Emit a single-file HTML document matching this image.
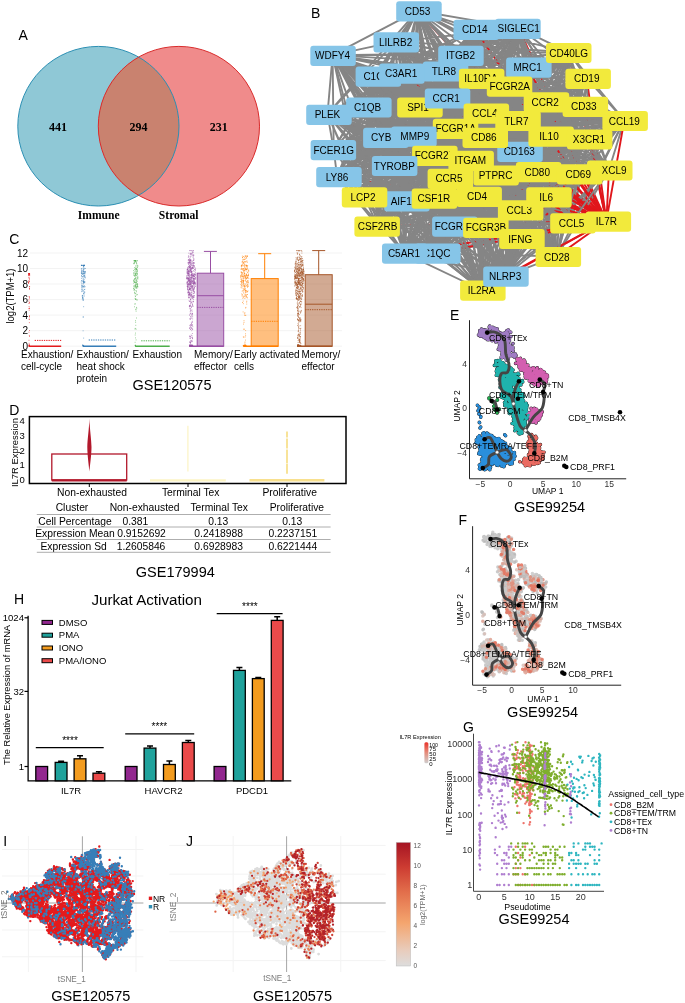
<!DOCTYPE html>
<html><head><meta charset="utf-8"><title>Figure</title>
<style>html,body{margin:0;padding:0;background:#fff}svg{display:block}text{font-family:'Liberation Sans',sans-serif}</style>
</head><body>
<svg width="685" height="1003" viewBox="0 0 685 1003">
<rect width="685" height="1003" fill="#fff"/>
<g id="A">
<text x="18.5" y="40.3" font-size="14">A</text>
<ellipse cx="98.4" cy="126.2" rx="80.6" ry="79.8" fill="#8fc8d6"/>
<ellipse cx="178.9" cy="126.2" rx="80.6" ry="79.8" fill="#f08b8b"/>
<clipPath id="cl"><ellipse cx="98.4" cy="126.2" rx="80.6" ry="79.8"/></clipPath>
<ellipse cx="178.9" cy="126.2" rx="80.6" ry="79.8" fill="#c9826f" clip-path="url(#cl)"/>
<ellipse cx="98.4" cy="126.2" rx="80.6" ry="79.8" fill="none" stroke="#2b8fb3" stroke-width="1"/>
<ellipse cx="178.9" cy="126.2" rx="80.6" ry="79.8" fill="none" stroke="#d92b2b" stroke-width="1"/>
<text x="58" y="130.5" font-size="12" text-anchor="middle" font-weight="bold" style="font-family:Liberation Serif,serif">441</text>
<text x="138.5" y="130.5" font-size="12" text-anchor="middle" font-weight="bold" style="font-family:Liberation Serif,serif">294</text>
<text x="218.8" y="130.5" font-size="12" text-anchor="middle" font-weight="bold" style="font-family:Liberation Serif,serif">231</text>
<text x="98.7" y="219" font-size="11.6" text-anchor="middle" font-weight="bold" style="font-family:Liberation Serif,serif">Immune</text>
<text x="178.7" y="219" font-size="11.6" text-anchor="middle" font-weight="bold" style="font-family:Liberation Serif,serif">Stromal</text>
</g>
<g id="B">
<text x="311" y="18.3" font-size="14">B</text>
<path d="M377 75.9L433.8 197.9M337.1 176.5L405 200.7" stroke="#858585" stroke-width="1.9" fill="none"/>
<path d="M606.4 220.9L571.5 222.6" stroke="#e0161b" stroke-width="1.9" fill="none"/>
<path d="M395.6 165.3L571.5 222.6M537.2 171.4L363 196.7M395.6 165.3L537.2 171.4M624.3 120.3L609 169.8M481 78.1L588.9 138.8M395.6 41.6L477 196.2M586.7 78.1L327.5 114.1M332.6 55.1L568.7 52.3M588.9 138.8L571.5 222.6M401.2 73L516.4 120.3M518.7 28.1L470.3 160.2" stroke="#858585" stroke-width="1.9" fill="none"/>
<path d="M516.4 120.3L606.4 220.9" stroke="#e0161b" stroke-width="1.9" fill="none"/>
<path d="M418 106.8L578.2 173.7M568.7 52.3L337.1 176.5M483.8 137.2L405 200.7M519.2 151.2L337.1 176.5M509.7 86L455.7 128.2M401.2 73L483.8 137.2M455.7 128.2L546.2 196.7M578.2 173.7L455 226M495.6 174.8L404 253M433.8 197.9L571.5 222.6" stroke="#858585" stroke-width="1.9" fill="none"/>
<path d="M443.9 70.8L606.4 220.9" stroke="#e0161b" stroke-width="1.9" fill="none"/>
<path d="M588.9 138.8L477 196.2M520.3 238.3L436.6 253M481 78.1L327.5 114.1M474.8 29.2L363 196.7M363 196.7L505.2 276M367.5 106.8L384.5 137.2M436.6 253L481.6 290M509.7 86L519.2 209.7M414.8 136L519.2 209.7M568.7 52.3L556.9 256.3" stroke="#858585" stroke-width="1.9" fill="none"/>
<path d="M545.1 101.7L606.4 220.9" stroke="#e0161b" stroke-width="1.9" fill="none"/>
<path d="M537.2 171.4L556.9 256.3M571.5 222.6L436.6 253M377 75.9L571.5 222.6M418 106.8L520.3 238.3M455.7 128.2L556.9 256.3M588.9 138.8L609 169.8M519.2 151.2L436.6 253M327.5 114.1L588.9 138.8M470.3 160.2L556.9 256.3M545.1 101.7L363 196.7M586.7 78.1L337.1 176.5M516.4 120.3L433.8 197.9M588.9 138.8L470.3 160.2" stroke="#858585" stroke-width="1.9" fill="none"/>
<path d="M417.5 10.7L606.4 220.9" stroke="#e0161b" stroke-width="1.9" fill="none"/>
<path d="M537.2 171.4L520.3 238.3M455.7 128.2L516.4 120.3M568.7 52.3L505.2 276" stroke="#858585" stroke-width="1.9" fill="none"/>
<path d="M568.7 52.3L606.4 220.9" stroke="#e0161b" stroke-width="1.9" fill="none"/>
<path d="M545.1 101.7L583.9 106.2M449 178.2L556.9 256.3M449 178.2L481.6 290M401.2 73L527.7 66.9M395.6 41.6L455.7 128.2M443.9 70.8L401.2 73M568.7 52.3L449 178.2M509.7 86L449 178.2M446.2 97.8L337.1 176.5M418 106.8L455.7 128.2M527.7 66.9L449 178.2M443.9 70.8L519.2 151.2M333.7 149.5L404 253M417.5 10.7L337.1 176.5M481 78.1L481.6 290M495.6 174.8L477 196.2M443.9 70.8L477 196.2M417.5 10.7L418 106.8" stroke="#858585" stroke-width="1.9" fill="none"/>
<path d="M495.6 174.8L606.4 220.9" stroke="#e0161b" stroke-width="1.9" fill="none"/>
<path d="M624.3 120.3L519.2 209.7M495.6 174.8L455 226M401.2 73L481.6 290M484.9 113L505.2 276M481 78.1L549 136" stroke="#858585" stroke-width="1.9" fill="none"/>
<path d="M337.1 176.5L606.4 220.9" stroke="#e0161b" stroke-width="1.9" fill="none"/>
<path d="M327.5 114.1L624.3 120.3M568.7 52.3L414.8 136M546.2 196.7L481.6 290" stroke="#858585" stroke-width="1.9" fill="none"/>
<path d="M332.6 55.1L606.4 220.9" stroke="#e0161b" stroke-width="1.9" fill="none"/>
<path d="M519.2 151.2L519.2 209.7M586.7 78.1L546.2 196.7M433.8 197.9L486 227.1M509.7 86L583.9 106.2M474.8 29.2L519.2 209.7M418 106.8L433.8 197.9M418 106.8L571.5 222.6M537.2 171.4L519.2 209.7" stroke="#858585" stroke-width="1.9" fill="none"/>
<path d="M546.2 196.7L606.4 220.9" stroke="#e0161b" stroke-width="1.9" fill="none"/>
<path d="M516.4 120.3L546.2 196.7M401.2 73L455.7 128.2M624.3 120.3L505.2 276M332.6 55.1L481.6 290M470.3 160.2L377.6 226M484.9 113L519.2 209.7M327.5 114.1L571.5 222.6" stroke="#858585" stroke-width="1.9" fill="none"/>
<path d="M333.7 149.5L606.4 220.9" stroke="#e0161b" stroke-width="1.9" fill="none"/>
<path d="M337.1 176.5L363 196.7" stroke="#858585" stroke-width="1.9" fill="none"/>
<path d="M518.7 28.1L606.4 220.9" stroke="#e0161b" stroke-width="1.9" fill="none"/>
<path d="M414.8 136L377.6 226M546.2 196.7L571.5 222.6M449 178.2L363 196.7M484.9 113L433.8 197.9M549 136L433.8 197.9M332.6 55.1L367.5 106.8M367.5 106.8L363 196.7M446.2 97.8L481.6 290M455 226L404 253M418 106.8L327.5 114.1M583.9 106.2L405 200.7M527.7 66.9L455 226M384.5 137.2L404 253M405 200.7L546.2 196.7M586.7 78.1L455 226M518.7 28.1L435 155.1M333.7 149.5L477 196.2M477 196.2L571.5 222.6" stroke="#858585" stroke-width="1.9" fill="none"/>
<path d="M586.7 78.1L606.4 220.9" stroke="#e0161b" stroke-width="1.9" fill="none"/>
<path d="M377 75.9L363 196.7M609 169.8L477 196.2M395.6 41.6L367.5 106.8M549 136L609 169.8M363 196.7L477 196.2M483.8 137.2L537.2 171.4M509.7 86L519.2 151.2" stroke="#858585" stroke-width="1.9" fill="none"/>
<path d="M484.9 113L606.4 220.9" stroke="#e0161b" stroke-width="1.9" fill="none"/>
<path d="M463 55.1L578.2 173.7M516.4 120.3L477 196.2M377.6 226L436.6 253M333.7 149.5L519.2 209.7M586.7 78.1L405 200.7M333.7 149.5L571.5 222.6M624.3 120.3L495.6 174.8M624.3 120.3L556.9 256.3M519.2 151.2L405 200.7M484.9 113L377.6 226M586.7 78.1L484.9 113" stroke="#858585" stroke-width="1.9" fill="none"/>
<path d="M606.4 220.9L481.6 290" stroke="#e0161b" stroke-width="1.9" fill="none"/>
<path d="M470.3 160.2L505.2 276M586.7 78.1L414.8 136M463 55.1L520.3 238.3M518.7 28.1L549 136M395.6 41.6L624.3 120.3" stroke="#858585" stroke-width="1.9" fill="none"/>
<path d="M481 78.1L606.4 220.9" stroke="#e0161b" stroke-width="1.9" fill="none"/>
<path d="M449 178.2L477 196.2M474.8 29.2L545.1 101.7M414.8 136L519.2 151.2M486 227.1L404 253M377 75.9L586.7 78.1M586.7 78.1L470.3 160.2M586.7 78.1L477 196.2M474.8 29.2L586.7 78.1M443.9 70.8L414.8 136M481 78.1L384.5 137.2M609 169.8L546.2 196.7M401.2 73L435 155.1M414.8 136L436.6 253M367.5 106.8L449 178.2M414.8 136L449 178.2M545.1 101.7L470.3 160.2M435 155.1L578.2 173.7M395.6 165.3L481.6 290M463 55.1L624.3 120.3M624.3 120.3L520.3 238.3M509.7 86L486 227.1M509.7 86L505.2 276M418 106.8L481.6 290M588.9 138.8L337.1 176.5M568.7 52.3L583.9 106.2M417.5 10.7L484.9 113M414.8 136L549 136M519.2 209.7L546.2 196.7M474.8 29.2L516.4 120.3M477 196.2L436.6 253M568.7 52.3L520.3 238.3M377 75.9L546.2 196.7M583.9 106.2L571.5 222.6M384.5 137.2L377.6 226M586.7 78.1L545.1 101.7M518.7 28.1L495.6 174.8M443.9 70.8L495.6 174.8M417.5 10.7L327.5 114.1M463 55.1L433.8 197.9M474.8 29.2L377.6 226M545.1 101.7L384.5 137.2M509.7 86L484.9 113M527.7 66.9L578.2 173.7M401.2 73L333.7 149.5M537.2 171.4L486 227.1M588.9 138.8L436.6 253M455.7 128.2L337.1 176.5M401.2 73L363 196.7M516.4 120.3L333.7 149.5M446.2 97.8L519.2 209.7M446.2 97.8L327.5 114.1M568.7 52.3L546.2 196.7M395.6 41.6L537.2 171.4M435 155.1L433.8 197.9M433.8 197.9L546.2 196.7M588.9 138.8L546.2 196.7M518.7 28.1L455.7 128.2M509.7 86L556.9 256.3M395.6 165.3L436.6 253M395.6 41.6L545.1 101.7M470.3 160.2L495.6 174.8M474.8 29.2L578.2 173.7M519.2 209.7L455 226M470.3 160.2L520.3 238.3M588.9 138.8L495.6 174.8M586.7 78.1L481.6 290M518.7 28.1L568.7 52.3M519.2 209.7L486 227.1M384.5 137.2L505.2 276M470.3 160.2L477 196.2M516.4 120.3L395.6 165.3M568.7 52.3L470.3 160.2M484.9 113L449 178.2M377 75.9L519.2 151.2M332.6 55.1L571.5 222.6M327.5 114.1L481.6 290M481 78.1L520.3 238.3M545.1 101.7L435 155.1M446.2 97.8L484.9 113M333.7 149.5L395.6 165.3M414.8 136L588.9 138.8M518.7 28.1L363 196.7M583.9 106.2L455 226M484.9 113L333.7 149.5M463 55.1L527.7 66.9M537.2 171.4L337.1 176.5M384.5 137.2L537.2 171.4M455.7 128.2L588.9 138.8M578.2 173.7L436.6 253M568.7 52.3L481.6 290M495.6 174.8L505.2 276M549 136L519.2 209.7M395.6 41.6L568.7 52.3M519.2 151.2L481.6 290M583.9 106.2L433.8 197.9M470.3 160.2L337.1 176.5M519.2 151.2L546.2 196.7M518.7 28.1L401.2 73M527.7 66.9L333.7 149.5M474.8 29.2L609 169.8M433.8 197.9L520.3 238.3M332.6 55.1L455 226M509.7 86L436.6 253M367.5 106.8L537.2 171.4M333.7 149.5L481.6 290M624.3 120.3L414.8 136M395.6 165.3L337.1 176.5M377 75.9L486 227.1M363 196.7L455 226" stroke="#858585" stroke-width="1.9" fill="none"/>
<path d="M463 55.1L606.4 220.9" stroke="#e0161b" stroke-width="1.9" fill="none"/>
<path d="M588.9 138.8L556.9 256.3M443.9 70.8L519.2 209.7" stroke="#858585" stroke-width="1.9" fill="none"/>
<path d="M588.9 138.8L606.4 220.9" stroke="#e0161b" stroke-width="1.9" fill="none"/>
<path d="M443.9 70.8L527.7 66.9M418 106.8L436.6 253M516.4 120.3L377.6 226M474.8 29.2L527.7 66.9" stroke="#858585" stroke-width="1.9" fill="none"/>
<path d="M578.2 173.7L606.4 220.9" stroke="#e0161b" stroke-width="1.9" fill="none"/>
<path d="M483.8 137.2L578.2 173.7M443.9 70.8L449 178.2M568.7 52.3L405 200.7M417.5 10.7L463 55.1M481 78.1L377.6 226M463 55.1L327.5 114.1M446.2 97.8L571.5 222.6M474.8 29.2L518.7 28.1M418 106.8L470.3 160.2M377 75.9L520.3 238.3M443.9 70.8L433.8 197.9M377 75.9L384.5 137.2M568.7 52.3L545.1 101.7M519.2 209.7L404 253M446.2 97.8L449 178.2M455.7 128.2L414.8 136" stroke="#858585" stroke-width="1.9" fill="none"/>
<path d="M395.6 41.6L606.4 220.9" stroke="#e0161b" stroke-width="1.9" fill="none"/>
<path d="M578.2 173.7L571.5 222.6M463 55.1L516.4 120.3M568.7 52.3L571.5 222.6M433.8 197.9L481.6 290" stroke="#858585" stroke-width="1.9" fill="none"/>
<path d="M384.5 137.2L606.4 220.9" stroke="#e0161b" stroke-width="1.9" fill="none"/>
<path d="M481 78.1L414.8 136" stroke="#858585" stroke-width="1.9" fill="none"/>
<path d="M549 136L606.4 220.9" stroke="#e0161b" stroke-width="1.9" fill="none"/>
<path d="M486 227.1L481.6 290M609 169.8L505.2 276M609 169.8L556.9 256.3M545.1 101.7L546.2 196.7M377 75.9L578.2 173.7M549 136L405 200.7M477 196.2L433.8 197.9M484.9 113L537.2 171.4M377 75.9L505.2 276M417.5 10.7L505.2 276M495.6 174.8L363 196.7M418 106.8L549 136M583.9 106.2L519.2 151.2M436.6 253L404 253M435 155.1L495.6 174.8M395.6 41.6L509.7 86M463 55.1L333.7 149.5M377 75.9L509.7 86M549 136L377.6 226" stroke="#858585" stroke-width="1.9" fill="none"/>
<path d="M606.4 220.9L505.2 276" stroke="#e0161b" stroke-width="1.9" fill="none"/>
<path d="M516.4 120.3L588.9 138.8M516.4 120.3L436.6 253M474.8 29.2L414.8 136M395.6 41.6L527.7 66.9M446.2 97.8L455 226M384.5 137.2L435 155.1M518.7 28.1L571.5 222.6M449 178.2L571.5 222.6M433.8 197.9L455 226" stroke="#858585" stroke-width="1.9" fill="none"/>
<path d="M606.4 220.9L377.6 226" stroke="#e0161b" stroke-width="1.9" fill="none"/>
<path d="M463 55.1L455.7 128.2M568.7 52.3L435 155.1M446.2 97.8L519.2 151.2" stroke="#858585" stroke-width="1.9" fill="none"/>
<path d="M606.4 220.9L556.9 256.3" stroke="#e0161b" stroke-width="1.9" fill="none"/>
<path d="M418 106.8L495.6 174.8M377 75.9L333.7 149.5M401.2 73L537.2 171.4M449 178.2L486 227.1M516.4 120.3L624.3 120.3M481 78.1L624.3 120.3M481 78.1L545.1 101.7M435 155.1L404 253" stroke="#858585" stroke-width="1.9" fill="none"/>
<path d="M606.4 220.9L455 226" stroke="#e0161b" stroke-width="1.9" fill="none"/>
<path d="M549 136L333.7 149.5M435 155.1L377.6 226" stroke="#858585" stroke-width="1.9" fill="none"/>
<path d="M455.7 128.2L606.4 220.9" stroke="#e0161b" stroke-width="1.9" fill="none"/>
<path d="M484.9 113L483.8 137.2M609 169.8L578.2 173.7M519.2 209.7L520.3 238.3M433.8 197.9L519.2 209.7M518.7 28.1L377.6 226M568.7 52.3L519.2 209.7M483.8 137.2L333.7 149.5" stroke="#858585" stroke-width="1.9" fill="none"/>
<path d="M606.4 220.9L486 227.1" stroke="#e0161b" stroke-width="1.9" fill="none"/>
<path d="M549 136L520.3 238.3M578.2 173.7L519.2 209.7M586.7 78.1L483.8 137.2M609 169.8L495.6 174.8M474.8 29.2L404 253M337.1 176.5L377.6 226M518.7 28.1L545.1 101.7M546.2 196.7L377.6 226M483.8 137.2L436.6 253M549 136L556.9 256.3M527.7 66.9L455.7 128.2M474.8 29.2L384.5 137.2M545.1 101.7L477 196.2M405 200.7L363 196.7M327.5 114.1L395.6 165.3" stroke="#858585" stroke-width="1.9" fill="none"/>
<path d="M327.5 114.1L606.4 220.9" stroke="#e0161b" stroke-width="1.9" fill="none"/>
<path d="M571.5 222.6L505.2 276M367.5 106.8L545.1 101.7M583.9 106.2L546.2 196.7M377 75.9L568.7 52.3M443.9 70.8L583.9 106.2M395.6 41.6L446.2 97.8M624.3 120.3L405 200.7M583.9 106.2L537.2 171.4M481 78.1L395.6 165.3M443.9 70.8L586.7 78.1M463 55.1L435 155.1M519.2 151.2L486 227.1M337.1 176.5L433.8 197.9M509.7 86L481.6 290M377 75.9L477 196.2M418 106.8L609 169.8M332.6 55.1L363 196.7" stroke="#858585" stroke-width="1.9" fill="none"/>
<path d="M395.6 165.3L606.4 220.9" stroke="#e0161b" stroke-width="1.9" fill="none"/>
<path d="M463 55.1L405 200.7M624.3 120.3L455 226M455.7 128.2L333.7 149.5" stroke="#858585" stroke-width="1.9" fill="none"/>
<path d="M483.8 137.2L606.4 220.9" stroke="#e0161b" stroke-width="1.9" fill="none"/>
<path d="M405 200.7L436.6 253M395.6 41.6L519.2 151.2M418 106.8L455 226M417.5 10.7L377 75.9M463 55.1L377 75.9M481 78.1L455.7 128.2M483.8 137.2L519.2 209.7M527.7 66.9L519.2 151.2M624.3 120.3L483.8 137.2M418 106.8L583.9 106.2M401.2 73L568.7 52.3" stroke="#858585" stroke-width="1.9" fill="none"/>
<path d="M405 200.7L606.4 220.9" stroke="#e0161b" stroke-width="1.9" fill="none"/>
<path d="M333.7 149.5L486 227.1M571.5 222.6L377.6 226M455.7 128.2L520.3 238.3M527.7 66.9L545.1 101.7M474.8 29.2L519.2 151.2M377 75.9L495.6 174.8M443.9 70.8L367.5 106.8M586.7 78.1L446.2 97.8M527.7 66.9L509.7 86M578.2 173.7L405 200.7M518.7 28.1L588.9 138.8M509.7 86L495.6 174.8M455.7 128.2L470.3 160.2M483.8 137.2L433.8 197.9M327.5 114.1L583.9 106.2M470.3 160.2L519.2 209.7M527.7 66.9L477 196.2" stroke="#858585" stroke-width="1.9" fill="none"/>
<path d="M377 75.9L606.4 220.9" stroke="#e0161b" stroke-width="1.9" fill="none"/>
<path d="M586.7 78.1L449 178.2M518.7 28.1L384.5 137.2M417.5 10.7L546.2 196.7" stroke="#858585" stroke-width="1.9" fill="none"/>
<path d="M606.4 220.9L436.6 253" stroke="#e0161b" stroke-width="1.9" fill="none"/>
<path d="M509.7 86L384.5 137.2M583.9 106.2L481.6 290M455.7 128.2L519.2 151.2M395.6 41.6L578.2 173.7M484.9 113L609 169.8" stroke="#858585" stroke-width="1.9" fill="none"/>
<path d="M527.7 66.9L606.4 220.9" stroke="#e0161b" stroke-width="1.9" fill="none"/>
<path d="M463 55.1L546.2 196.7M384.5 137.2L477 196.2M395.6 41.6L546.2 196.7M377 75.9L436.6 253M578.2 173.7L477 196.2M474.8 29.2L337.1 176.5M545.1 101.7L436.6 253M583.9 106.2L505.2 276M495.6 174.8L546.2 196.7M545.1 101.7L414.8 136M363 196.7L556.9 256.3M586.7 78.1L505.2 276M435 155.1L556.9 256.3M327.5 114.1L414.8 136M363 196.7L486 227.1M449 178.2L433.8 197.9M527.7 66.9L505.2 276M332.6 55.1L477 196.2M624.3 120.3L470.3 160.2M518.7 28.1L586.7 78.1M435 155.1L337.1 176.5M545.1 101.7L337.1 176.5M332.6 55.1L377.6 226M518.7 28.1L404 253M401.2 73L436.6 253M586.7 78.1L624.3 120.3M568.7 52.3L588.9 138.8M586.7 78.1L549 136M435 155.1L537.2 171.4M435 155.1L363 196.7M455 226L520.3 238.3M414.8 136L578.2 173.7M583.9 106.2L483.8 137.2M377 75.9L556.9 256.3M609 169.8L481.6 290M463 55.1L495.6 174.8M588.9 138.8L481.6 290M384.5 137.2L483.8 137.2M401.2 73L571.5 222.6M367.5 106.8L395.6 165.3" stroke="#858585" stroke-width="1.9" fill="none"/>
<path d="M433.8 197.9L606.4 220.9" stroke="#e0161b" stroke-width="1.9" fill="none"/>
<path d="M586.7 78.1L363 196.7" stroke="#858585" stroke-width="1.9" fill="none"/>
<path d="M367.5 106.8L606.4 220.9" stroke="#e0161b" stroke-width="1.9" fill="none"/>
<path d="M527.7 66.9L556.9 256.3M588.9 138.8L578.2 173.7M417.5 10.7L486 227.1M417.5 10.7L571.5 222.6M474.8 29.2L327.5 114.1M377 75.9L516.4 120.3M414.8 136L481.6 290M463 55.1L414.8 136M586.7 78.1L571.5 222.6M578.2 173.7L449 178.2M435 155.1L436.6 253M401.2 73L588.9 138.8M583.9 106.2L520.3 238.3M377 75.9L481.6 290M367.5 106.8L481.6 290M395.6 41.6L433.8 197.9M337.1 176.5L505.2 276M527.7 66.9L571.5 222.6M509.7 86L333.7 149.5" stroke="#858585" stroke-width="1.9" fill="none"/>
<path d="M401.2 73L606.4 220.9" stroke="#e0161b" stroke-width="1.9" fill="none"/>
<path d="M568.7 52.3L495.6 174.8M332.6 55.1L505.2 276M477 196.2L455 226M333.7 149.5L505.2 276M417.5 10.7L377.6 226M470.3 160.2L571.5 222.6M418 106.8L435 155.1M624.3 120.3L571.5 222.6M549 136L505.2 276M395.6 41.6L463 55.1M474.8 29.2L443.9 70.8M417.5 10.7L332.6 55.1M395.6 41.6L443.9 70.8M568.7 52.3L384.5 137.2" stroke="#858585" stroke-width="1.9" fill="none"/>
<path d="M537.2 171.4L606.4 220.9" stroke="#e0161b" stroke-width="1.9" fill="none"/>
<path d="M417.5 10.7L624.3 120.3M568.7 52.3L578.2 173.7M481 78.1L418 106.8M516.4 120.3L495.6 174.8M332.6 55.1L546.2 196.7M518.7 28.1L333.7 149.5M583.9 106.2L486 227.1M546.2 196.7L455 226M367.5 106.8L435 155.1M377 75.9L446.2 97.8" stroke="#858585" stroke-width="1.9" fill="none"/>
<path d="M418 106.8L606.4 220.9" stroke="#e0161b" stroke-width="1.9" fill="none"/>
<path d="M395.6 41.6L414.8 136M609 169.8L455 226M446.2 97.8L395.6 165.3M401.2 73L583.9 106.2M417.5 10.7L470.3 160.2M401.2 73L509.7 86M332.6 55.1L495.6 174.8M395.6 41.6L436.6 253M624.3 120.3L549 136M443.9 70.8L520.3 238.3M327.5 114.1L449 178.2M443.9 70.8L556.9 256.3M483.8 137.2L455 226M337.1 176.5L519.2 209.7M549 136L481.6 290M519.2 151.2L588.9 138.8M519.2 151.2L556.9 256.3M435 155.1L449 178.2M588.9 138.8L433.8 197.9M332.6 55.1L333.7 149.5M443.9 70.8L509.7 86M401.2 73L578.2 173.7M474.8 29.2L588.9 138.8M332.6 55.1L433.8 197.9M384.5 137.2L333.7 149.5" stroke="#858585" stroke-width="1.9" fill="none"/>
<path d="M474.8 29.2L606.4 220.9M509.7 86L606.4 220.9" stroke="#e0161b" stroke-width="1.9" fill="none"/>
<path d="M470.3 160.2L537.2 171.4M401.2 73L405 200.7M545.1 101.7L449 178.2M527.7 66.9L337.1 176.5M367.5 106.8L588.9 138.8" stroke="#858585" stroke-width="1.9" fill="none"/>
<path d="M470.3 160.2L606.4 220.9" stroke="#e0161b" stroke-width="1.9" fill="none"/>
<path d="M518.7 28.1L505.2 276M474.8 29.2L624.3 120.3M337.1 176.5L404 253M463 55.1L509.7 86M483.8 137.2L556.9 256.3M516.4 120.3L519.2 151.2M509.7 86L367.5 106.8M516.4 120.3L505.2 276M414.8 136L537.2 171.4M446.2 97.8L404 253M417.5 10.7L583.9 106.2M527.7 66.9L481.6 290M481 78.1L609 169.8M481 78.1L455 226M527.7 66.9L470.3 160.2" stroke="#858585" stroke-width="1.9" fill="none"/>
<path d="M363 196.7L606.4 220.9" stroke="#e0161b" stroke-width="1.9" fill="none"/>
<path d="M586.7 78.1L384.5 137.2M418 106.8L516.4 120.3M483.8 137.2L520.3 238.3M332.6 55.1L519.2 209.7M519.2 151.2L435 155.1M435 155.1L571.5 222.6M443.9 70.8L484.9 113M443.9 70.8L545.1 101.7M446.2 97.8L377.6 226M443.9 70.8L588.9 138.8M519.2 151.2L363 196.7M327.5 114.1L470.3 160.2M586.7 78.1L433.8 197.9M519.2 151.2L333.7 149.5M435 155.1L395.6 165.3M332.6 55.1L527.7 66.9M586.7 78.1L333.7 149.5M418 106.8L484.9 113M545.1 101.7L484.9 113M518.7 28.1L414.8 136" stroke="#858585" stroke-width="1.9" fill="none"/>
<path d="M449 178.2L606.4 220.9" stroke="#e0161b" stroke-width="1.9" fill="none"/>
<path d="M443.9 70.8L549 136M455.7 128.2L486 227.1M377 75.9L395.6 165.3M527.7 66.9L519.2 209.7M516.4 120.3L384.5 137.2M518.7 28.1L377 75.9M583.9 106.2L477 196.2M446.2 97.8L520.3 238.3M518.7 28.1L463 55.1M545.1 101.7L571.5 222.6M481 78.1L337.1 176.5" stroke="#858585" stroke-width="1.9" fill="none"/>
<path d="M435 155.1L606.4 220.9" stroke="#e0161b" stroke-width="1.9" fill="none"/>
<path d="M384.5 137.2L481.6 290M327.5 114.1L545.1 101.7M477 196.2L556.9 256.3M588.9 138.8L404 253M568.7 52.3L624.3 120.3M624.3 120.3L377.6 226M519.2 209.7L556.9 256.3M405 200.7L404 253M568.7 52.3L363 196.7M509.7 86L446.2 97.8M327.5 114.1L520.3 238.3M435 155.1L481.6 290M470.3 160.2L363 196.7M395.6 41.6L377.6 226M395.6 41.6L609 169.8M404 253L481.6 290M588.9 138.8L537.2 171.4M481 78.1L404 253M509.7 86L395.6 165.3M463 55.1L395.6 165.3" stroke="#858585" stroke-width="1.9" fill="none"/>
<path d="M606.4 220.9L404 253" stroke="#e0161b" stroke-width="1.9" fill="none"/>
<path d="M363 196.7L404 253M377.6 226L505.2 276M484.9 113L519.2 151.2M367.5 106.8L505.2 276M516.4 120.3L435 155.1M474.8 29.2L486 227.1M443.9 70.8L363 196.7M418 106.8L404 253M518.7 28.1L327.5 114.1" stroke="#858585" stroke-width="1.9" fill="none"/>
<path d="M609 169.8L606.4 220.9" stroke="#e0161b" stroke-width="1.9" fill="none"/>
<path d="M333.7 149.5L436.6 253M586.7 78.1L578.2 173.7M624.3 120.3L546.2 196.7M518.7 28.1L481 78.1M455 226L486 227.1M481 78.1L486 227.1" stroke="#858585" stroke-width="1.9" fill="none"/>
<path d="M519.2 151.2L606.4 220.9" stroke="#e0161b" stroke-width="1.9" fill="none"/>
<path d="M446.2 97.8L384.5 137.2M481 78.1L449 178.2M516.4 120.3L519.2 209.7M443.9 70.8L333.7 149.5M401.2 73L446.2 97.8M455.7 128.2L495.6 174.8M463 55.1L586.7 78.1M401.2 73L404 253M418 106.8L519.2 151.2M537.2 171.4L455 226M435 155.1L505.2 276M377 75.9L624.3 120.3" stroke="#858585" stroke-width="1.9" fill="none"/>
<path d="M583.9 106.2L606.4 220.9" stroke="#e0161b" stroke-width="1.9" fill="none"/>
<path d="M474.8 29.2L455.7 128.2M337.1 176.5L546.2 196.7M624.3 120.3L519.2 151.2M417.5 10.7L443.9 70.8" stroke="#858585" stroke-width="1.9" fill="none"/>
<path d="M606.4 220.9L520.3 238.3" stroke="#e0161b" stroke-width="1.9" fill="none"/>
<path d="M470.3 160.2L578.2 173.7" stroke="#858585" stroke-width="1.9" fill="none"/>
<path d="M624.3 120.3L606.4 220.9" stroke="#e0161b" stroke-width="1.9" fill="none"/>
<path d="M443.9 70.8L481 78.1M367.5 106.8L519.2 209.7M518.7 28.1L556.9 256.3M414.8 136L486 227.1M435 155.1L477 196.2M545.1 101.7L455 226M435 155.1L520.3 238.3M384.5 137.2L578.2 173.7" stroke="#858585" stroke-width="1.9" fill="none"/>
<path d="M477 196.2L606.4 220.9" stroke="#e0161b" stroke-width="1.9" fill="none"/>
<path d="M578.2 173.7L505.2 276M363 196.7L519.2 209.7M333.7 149.5L546.2 196.7M414.8 136L363 196.7M495.6 174.8L520.3 238.3M481 78.1L367.5 106.8M545.1 101.7L505.2 276M405 200.7L481.6 290M443.9 70.8L516.4 120.3M395.6 165.3L519.2 209.7M586.7 78.1L367.5 106.8M401.2 73L549 136" stroke="#858585" stroke-width="1.9" fill="none"/>
<path d="M414.8 136L606.4 220.9" stroke="#e0161b" stroke-width="1.9" fill="none"/>
<path d="M583.9 106.2L384.5 137.2M327.5 114.1L455.7 128.2M332.6 55.1L588.9 138.8M337.1 176.5L436.6 253M477 196.2L377.6 226M474.8 29.2L505.2 276M545.1 101.7L556.9 256.3M332.6 55.1L509.7 86M527.7 66.9L405 200.7M405 200.7L477 196.2" stroke="#858585" stroke-width="1.9" fill="none"/>
<path d="M519.2 209.7L606.4 220.9" stroke="#e0161b" stroke-width="1.9" fill="none"/>
<path d="M363 196.7L481.6 290" stroke="#858585" stroke-width="1.9" fill="none"/>
<path d="M446.2 97.8L606.4 220.9" stroke="#e0161b" stroke-width="1.9" fill="none"/>
<path d="M518.7 28.1L433.8 197.9M481 78.1L571.5 222.6M384.5 137.2L549 136M417.5 10.7L449 178.2M527.7 66.9L549 136M537.2 171.4L571.5 222.6M516.4 120.3L470.3 160.2M518.7 28.1L519.2 151.2M549 136L436.6 253M509.7 86L571.5 222.6M463 55.1L337.1 176.5M332.6 55.1L443.9 70.8M367.5 106.8L455.7 128.2M395.6 165.3L546.2 196.7M377.6 226L486 227.1M527.7 66.9L414.8 136M518.7 28.1L436.6 253M327.5 114.1L477 196.2M568.7 52.3L486 227.1M455 226L436.6 253M549 136L395.6 165.3M455.7 128.2L477 196.2M518.7 28.1L367.5 106.8M443.9 70.8L384.5 137.2M417.5 10.7L435 155.1M527.7 66.9L377.6 226M418 106.8L363 196.7M463 55.1L583.9 106.2M401.2 73L481 78.1M418 106.8L337.1 176.5M395.6 41.6L583.9 106.2M332.6 55.1L483.8 137.2M518.7 28.1L537.2 171.4M537.2 171.4L477 196.2M609 169.8L436.6 253M609 169.8L449 178.2M417.5 10.7L495.6 174.8M367.5 106.8L571.5 222.6M455.7 128.2L624.3 120.3M332.6 55.1L377 75.9M516.4 120.3L549 136M519.2 209.7L436.6 253M474.8 29.2L571.5 222.6M401.2 73L505.2 276M443.9 70.8L470.3 160.2M367.5 106.8L377.6 226M463 55.1L519.2 209.7M474.8 29.2L495.6 174.8M414.8 136L455 226M455.7 128.2L435 155.1M586.7 78.1L435 155.1M327.5 114.1L495.6 174.8M583.9 106.2L519.2 209.7M463 55.1L556.9 256.3M537.2 171.4L436.6 253M384.5 137.2L337.1 176.5M363 196.7L520.3 238.3M556.9 256.3L505.2 276M495.6 174.8L405 200.7M474.8 29.2L520.3 238.3M405 200.7L455 226M518.7 28.1L418 106.8M578.2 173.7L337.1 176.5M568.7 52.3L395.6 165.3M332.6 55.1L578.2 173.7M332.6 55.1L404 253M545.1 101.7L495.6 174.8M384.5 137.2L520.3 238.3M537.2 171.4L481.6 290M455.7 128.2L578.2 173.7M518.7 28.1L446.2 97.8M474.8 29.2L446.2 97.8M518.7 28.1L578.2 173.7M463 55.1L470.3 160.2M527.7 66.9L537.2 171.4M481 78.1L363 196.7M463 55.1L446.2 97.8M401.2 73L545.1 101.7M518.7 28.1L395.6 165.3M417.5 10.7L588.9 138.8M568.7 52.3L433.8 197.9M609 169.8L486 227.1M527.7 66.9L568.7 52.3M332.6 55.1L327.5 114.1M518.7 28.1L509.7 86M509.7 86L404 253M332.6 55.1L583.9 106.2M455.7 128.2L505.2 276M495.6 174.8L449 178.2M414.8 136L435 155.1M327.5 114.1L486 227.1M463 55.1L449 178.2M484.9 113L549 136M332.6 55.1L436.6 253M405 200.7L505.2 276M470.3 160.2L436.6 253M446.2 97.8L583.9 106.2M433.8 197.9L404 253M519.2 209.7L481.6 290M549 136L477 196.2M401.2 73L327.5 114.1M367.5 106.8L436.6 253M333.7 149.5L337.1 176.5M516.4 120.3L520.3 238.3M377 75.9L545.1 101.7M327.5 114.1L333.7 149.5M384.5 137.2L414.8 136M483.8 137.2L477 196.2M418 106.8L545.1 101.7M446.2 97.8L433.8 197.9M463 55.1L455 226M474.8 29.2L546.2 196.7M418 106.8L624.3 120.3M483.8 137.2L486 227.1M518.7 28.1L519.2 209.7M568.7 52.3L484.9 113M377 75.9L414.8 136M545.1 101.7L377.6 226M474.8 29.2L455 226M609 169.8L377.6 226M568.7 52.3L404 253M483.8 137.2L481.6 290M571.5 222.6L481.6 290M446.2 97.8L537.2 171.4M395.6 165.3L556.9 256.3M484.9 113L477 196.2M443.9 70.8L609 169.8M527.7 66.9L435 155.1M443.9 70.8L481.6 290M481 78.1L556.9 256.3M367.5 106.8L520.3 238.3M518.7 28.1L546.2 196.7M495.6 174.8L337.1 176.5M449 178.2L405 200.7M418 106.8L477 196.2M474.8 29.2L470.3 160.2M586.7 78.1L495.6 174.8M516.4 120.3L414.8 136M395.6 165.3L405 200.7M417.5 10.7L367.5 106.8M519.2 151.2L520.3 238.3M624.3 120.3L436.6 253M518.7 28.1L527.7 66.9M404 253L505.2 276M414.8 136L505.2 276M545.1 101.7L405 200.7M449 178.2L436.6 253M377 75.9L481 78.1M470.3 160.2L481.6 290M377 75.9L470.3 160.2M481 78.1L546.2 196.7M495.6 174.8L481.6 290M484.9 113L546.2 196.7M586.7 78.1L583.9 106.2M332.6 55.1L414.8 136M377 75.9L588.9 138.8M395.6 41.6L327.5 114.1M509.7 86L433.8 197.9M549 136L363 196.7M395.6 41.6L377 75.9M384.5 137.2L436.6 253M367.5 106.8L546.2 196.7M443.9 70.8L486 227.1M395.6 165.3L449 178.2M395.6 165.3L477 196.2M418 106.8L414.8 136M367.5 106.8L486 227.1M417.5 10.7L519.2 209.7M527.7 66.9L609 169.8M588.9 138.8L486 227.1M327.5 114.1L436.6 253M417.5 10.7L384.5 137.2M333.7 149.5L495.6 174.8M509.7 86L516.4 120.3M518.7 28.1L337.1 176.5M486 227.1L556.9 256.3M518.7 28.1L486 227.1M414.8 136L520.3 238.3M519.2 151.2L449 178.2M578.2 173.7L404 253M568.7 52.3L537.2 171.4M519.2 151.2L609 169.8M446.2 97.8L363 196.7M481 78.1L435 155.1M549 136L495.6 174.8M509.7 86L337.1 176.5M463 55.1L384.5 137.2M455.7 128.2L395.6 165.3M327.5 114.1L377.6 226M337.1 176.5L571.5 222.6M414.8 136L395.6 165.3M527.7 66.9L418 106.8M583.9 106.2L588.9 138.8M455.7 128.2L377.6 226M332.6 55.1L486 227.1M332.6 55.1L520.3 238.3M455.7 128.2L405 200.7M377 75.9L404 253M546.2 196.7L556.9 256.3M337.1 176.5L520.3 238.3M446.2 97.8L505.2 276M401.2 73L367.5 106.8M333.7 149.5L470.3 160.2M578.2 173.7L481.6 290M509.7 86L435 155.1M401.2 73L519.2 209.7M578.2 173.7L377.6 226M395.6 41.6L556.9 256.3M568.7 52.3L367.5 106.8M516.4 120.3L337.1 176.5M433.8 197.9L505.2 276M327.5 114.1L578.2 173.7M481 78.1L578.2 173.7M449 178.2L505.2 276M545.1 101.7L624.3 120.3M588.9 138.8L333.7 149.5M443.9 70.8L578.2 173.7M377 75.9L435 155.1M609 169.8L337.1 176.5M624.3 120.3L395.6 165.3M384.5 137.2L486 227.1M481 78.1L583.9 106.2M446.2 97.8L455.7 128.2M545.1 101.7L516.4 120.3M484.9 113L455 226M463 55.1L545.1 101.7M337.1 176.5L556.9 256.3M578.2 173.7L520.3 238.3M481 78.1L537.2 171.4M463 55.1L418 106.8M518.7 28.1L583.9 106.2M481 78.1L436.6 253M446.2 97.8L545.1 101.7M519.2 151.2L549 136M481 78.1L405 200.7M377 75.9L483.8 137.2M414.8 136L483.8 137.2M588.9 138.8L449 178.2M384.5 137.2L556.9 256.3M333.7 149.5L433.8 197.9M332.6 55.1L418 106.8M337.1 176.5L481.6 290M384.5 137.2L546.2 196.7M446.2 97.8L578.2 173.7M509.7 86L455 226M549 136L470.3 160.2M477 196.2L505.2 276M418 106.8L505.2 276M395.6 41.6L516.4 120.3M332.6 55.1L556.9 256.3M377 75.9L537.2 171.4M586.7 78.1L395.6 165.3M405 200.7L433.8 197.9M327.5 114.1L519.2 209.7M519.2 209.7L505.2 276M417.5 10.7L474.8 29.2M455.7 128.2L404 253M435 155.1L486 227.1M519.2 209.7L571.5 222.6M332.6 55.1L463 55.1M367.5 106.8L578.2 173.7M443.9 70.8L327.5 114.1M481 78.1L527.7 66.9M583.9 106.2L549 136M481 78.1L483.8 137.2M609 169.8L571.5 222.6M384.5 137.2L495.6 174.8M484.9 113L578.2 173.7M486 227.1L520.3 238.3M509.7 86L327.5 114.1M481 78.1L509.7 86M446.2 97.8L556.9 256.3M583.9 106.2L435 155.1M463 55.1L377.6 226M417.5 10.7L414.8 136M484.9 113L414.8 136M527.7 66.9L495.6 174.8M433.8 197.9L377.6 226M401.2 73L486 227.1M588.9 138.8L363 196.7M527.7 66.9L404 253M332.6 55.1L449 178.2M495.6 174.8L377.6 226M377 75.9L449 178.2M474.8 29.2L401.2 73M578.2 173.7L433.8 197.9M414.8 136L571.5 222.6M518.7 28.1L395.6 41.6M583.9 106.2L455.7 128.2M333.7 149.5L435 155.1M484.9 113L404 253M527.7 66.9L546.2 196.7M483.8 137.2L588.9 138.8M520.3 238.3L556.9 256.3M477 196.2L546.2 196.7M395.6 165.3L505.2 276M484.9 113L588.9 138.8M571.5 222.6L486 227.1M377.6 226L520.3 238.3M455 226L481.6 290M624.3 120.3L433.8 197.9M332.6 55.1L609 169.8M417.5 10.7L527.7 66.9M395.6 41.6L332.6 55.1M435 155.1L609 169.8M443.9 70.8L405 200.7M527.7 66.9L363 196.7M377 75.9L405 200.7M518.7 28.1L443.9 70.8M367.5 106.8L433.8 197.9M537.2 171.4L449 178.2M546.2 196.7L505.2 276M327.5 114.1L363 196.7M363 196.7L436.6 253M414.8 136L405 200.7M449 178.2L377.6 226M477 196.2L519.2 209.7M568.7 52.3L436.6 253M474.8 29.2L395.6 165.3M609 169.8L537.2 171.4M495.6 174.8L578.2 173.7M545.1 101.7L395.6 165.3M578.2 173.7L556.9 256.3M568.7 52.3L477 196.2M395.6 41.6L363 196.7M481 78.1L495.6 174.8M470.3 160.2L546.2 196.7M588.9 138.8L505.2 276M384.5 137.2L363 196.7M624.3 120.3L384.5 137.2M519.2 151.2L537.2 171.4M401.2 73L520.3 238.3M377 75.9L455.7 128.2M418 106.8L519.2 209.7M443.9 70.8L418 106.8M446.2 97.8L367.5 106.8M395.6 41.6L470.3 160.2M395.6 165.3L520.3 238.3M545.1 101.7L519.2 209.7M405 200.7L520.3 238.3M418 106.8L384.5 137.2M484.9 113L363 196.7M417.5 10.7L446.2 97.8M474.8 29.2L537.2 171.4M418 106.8L367.5 106.8M327.5 114.1L516.4 120.3M509.7 86L545.1 101.7M583.9 106.2L556.9 256.3M395.6 165.3L470.3 160.2M463 55.1L505.2 276M384.5 137.2L571.5 222.6M446.2 97.8L588.9 138.8M481 78.1L516.4 120.3M414.8 136L404 253M332.6 55.1L455.7 128.2M518.7 28.1L484.9 113M401.2 73L484.9 113M395.6 41.6L505.2 276M586.7 78.1L455.7 128.2M417.5 10.7L556.9 256.3M332.6 55.1L470.3 160.2M417.5 10.7L481 78.1M384.5 137.2L519.2 209.7M405 200.7L486 227.1M474.8 29.2L436.6 253M418 106.8L446.2 97.8M470.3 160.2L449 178.2M481 78.1L484.9 113M417.5 10.7L455 226M418 106.8L537.2 171.4M463 55.1L401.2 73M474.8 29.2L449 178.2M477 196.2L404 253M495.6 174.8L436.6 253M470.3 160.2L486 227.1M509.7 86L609 169.8M519.2 151.2L470.3 160.2M443.9 70.8L455 226M586.7 78.1L519.2 209.7M418 106.8L486 227.1M446.2 97.8L609 169.8M568.7 52.3L455 226M367.5 106.8L556.9 256.3M332.6 55.1L395.6 165.3M443.9 70.8L624.3 120.3M516.4 120.3L481.6 290M401.2 73L586.7 78.1M537.2 171.4L578.2 173.7M624.3 120.3L588.9 138.8M549 136L486 227.1M474.8 29.2L568.7 52.3M446.2 97.8L436.6 253M586.7 78.1L537.2 171.4M367.5 106.8L327.5 114.1M483.8 137.2L395.6 165.3M327.5 114.1L546.2 196.7M417.5 10.7L395.6 41.6M463 55.1L481 78.1M481 78.1L433.8 197.9M455.7 128.2L436.6 253M446.2 97.8L549 136M463 55.1L404 253M549 136L571.5 222.6M546.2 196.7L486 227.1M527.7 66.9L446.2 97.8M481 78.1L568.7 52.3M477 196.2L481.6 290M509.7 86L405 200.7M377 75.9L337.1 176.5M509.7 86L477 196.2M527.7 66.9L484.9 113M401.2 73L624.3 120.3M624.3 120.3L435 155.1M483.8 137.2L363 196.7M435 155.1L546.2 196.7M395.6 41.6L449 178.2M332.6 55.1L549 136M481.6 290L505.2 276M363 196.7L571.5 222.6M395.6 165.3L578.2 173.7M395.6 165.3L455 226M586.7 78.1L404 253M549 136L404 253M518.7 28.1L449 178.2M483.8 137.2L495.6 174.8M455.7 128.2L519.2 209.7M417.5 10.7L455.7 128.2M583.9 106.2L363 196.7M463 55.1L443.9 70.8M568.7 52.3L509.7 86M519.2 151.2L495.6 174.8M609 169.8L405 200.7M384.5 137.2L519.2 151.2M549 136L455 226M367.5 106.8L516.4 120.3M516.4 120.3L537.2 171.4M481 78.1L519.2 151.2M395.6 41.6L337.1 176.5M484.9 113L435 155.1M446.2 97.8L546.2 196.7M401.2 73L433.8 197.9M546.2 196.7L520.3 238.3M545.1 101.7L609 169.8M446.2 97.8L470.3 160.2M327.5 114.1L384.5 137.2M495.6 174.8L571.5 222.6M586.7 78.1L588.9 138.8M516.4 120.3L486 227.1M483.8 137.2L549 136M545.1 101.7L549 136M401.2 73L384.5 137.2M586.7 78.1L418 106.8M395.6 41.6L404 253M418 106.8L377.6 226M367.5 106.8L484.9 113M377 75.9L377.6 226M333.7 149.5L537.2 171.4M384.5 137.2L433.8 197.9M495.6 174.8L486 227.1M495.6 174.8L433.8 197.9M578.2 173.7L486 227.1M583.9 106.2L609 169.8M377 75.9L549 136M519.2 151.2L455 226M568.7 52.3L418 106.8M417.5 10.7L433.8 197.9M481 78.1L477 196.2M417.5 10.7L405 200.7M327.5 114.1L609 169.8M367.5 106.8L624.3 120.3M483.8 137.2L377.6 226M327.5 114.1L455 226M527.7 66.9L436.6 253M609 169.8L363 196.7M377 75.9L367.5 106.8M474.8 29.2L481.6 290M483.8 137.2L470.3 160.2M518.7 28.1L483.8 137.2M527.7 66.9L433.8 197.9M474.8 29.2L435 155.1M545.1 101.7L519.2 151.2M332.6 55.1L446.2 97.8M418 106.8L546.2 196.7M463 55.1L367.5 106.8M527.7 66.9L583.9 106.2M332.6 55.1L384.5 137.2M332.6 55.1L537.2 171.4M463 55.1L549 136M332.6 55.1L481 78.1M519.2 151.2L571.5 222.6M588.9 138.8L435 155.1M417.5 10.7L516.4 120.3M435 155.1L519.2 209.7M583.9 106.2L470.3 160.2M363 196.7L546.2 196.7M470.3 160.2L433.8 197.9M546.2 196.7L404 253M401.2 73L519.2 151.2M484.9 113L436.6 253M518.7 28.1L609 169.8M417.5 10.7L477 196.2M545.1 101.7L483.8 137.2M568.7 52.3L333.7 149.5M417.5 10.7L586.7 78.1M449 178.2L337.1 176.5M455.7 128.2L449 178.2M395.6 41.6L481.6 290M367.5 106.8L404 253M509.7 86L578.2 173.7M401.2 73L556.9 256.3M401.2 73L455 226M463 55.1L477 196.2M537.2 171.4L505.2 276M586.7 78.1L509.7 86M481 78.1L333.7 149.5M367.5 106.8L519.2 151.2M395.6 41.6L405 200.7M333.7 149.5L449 178.2M417.5 10.7L519.2 151.2M549 136L578.2 173.7M578.2 173.7L546.2 196.7M395.6 165.3L486 227.1M477 196.2L486 227.1M545.1 101.7L455.7 128.2M449 178.2L455 226M417.5 10.7L549 136M455.7 128.2L455 226M455.7 128.2L537.2 171.4M333.7 149.5L405 200.7M484.9 113L337.1 176.5M588.9 138.8L395.6 165.3M527.7 66.9L586.7 78.1M495.6 174.8L537.2 171.4M516.4 120.3L483.8 137.2M436.6 253L505.2 276M435 155.1L470.3 160.2M484.9 113L624.3 120.3M401.2 73L337.1 176.5M377 75.9L527.7 66.9M417.5 10.7L518.7 28.1M435 155.1L405 200.7M401.2 73L609 169.8M519.2 151.2L505.2 276M483.8 137.2L449 178.2M435 155.1L455 226M474.8 29.2L377 75.9M520.3 238.3L481.6 290M405 200.7L377.6 226M545.1 101.7L333.7 149.5M384.5 137.2L470.3 160.2M395.6 41.6L484.9 113M449 178.2L519.2 209.7M327.5 114.1L484.9 113M463 55.1L363 196.7M518.7 28.1L516.4 120.3M327.5 114.1L556.9 256.3M568.7 52.3L609 169.8M401.2 73L449 178.2M556.9 256.3L404 253M327.5 114.1L435 155.1M401.2 73L377.6 226M474.8 29.2L583.9 106.2M377 75.9L418 106.8M433.8 197.9L556.9 256.3M377 75.9L583.9 106.2M586.7 78.1L520.3 238.3M586.7 78.1L516.4 120.3M583.9 106.2L624.3 120.3M624.3 120.3L477 196.2M414.8 136L433.8 197.9M463 55.1L484.9 113M332.6 55.1L435 155.1M583.9 106.2L495.6 174.8M367.5 106.8L455 226M520.3 238.3L505.2 276M549 136L537.2 171.4M527.7 66.9L327.5 114.1M537.2 171.4L405 200.7M446.2 97.8L624.3 120.3M519.2 209.7L377.6 226M509.7 86L520.3 238.3M624.3 120.3L333.7 149.5M578.2 173.7L363 196.7M518.7 28.1L477 196.2M586.7 78.1L436.6 253M519.2 151.2L483.8 137.2M549 136L546.2 196.7M463 55.1L571.5 222.6M405 200.7L556.9 256.3M527.7 66.9L367.5 106.8M568.7 52.3L586.7 78.1M583.9 106.2L516.4 120.3M443.9 70.8L377.6 226M446.2 97.8L333.7 149.5M527.7 66.9L483.8 137.2M583.9 106.2L484.9 113M586.7 78.1L486 227.1M395.6 41.6L333.7 149.5M546.2 196.7L436.6 253M418 106.8L405 200.7M443.9 70.8L455.7 128.2M586.7 78.1L519.2 151.2M446.2 97.8L486 227.1" stroke="#858585" stroke-width="1.9" fill="none"/>
<rect x="396.2" y="1.3" width="45.5" height="20.2" rx="3" fill="#86c5e8"/>
<text x="417.5" y="14.9" font-size="10" text-anchor="middle">CD53</text>
<rect x="453.5" y="19.8" width="45.5" height="20.2" rx="3" fill="#86c5e8"/>
<text x="474.8" y="33.4" font-size="10" text-anchor="middle">CD14</text>
<rect x="495.2" y="18.7" width="45.5" height="20.2" rx="3" fill="#86c5e8"/>
<text x="518.7" y="32.3" font-size="10" text-anchor="middle">SIGLEC1</text>
<rect x="373.5" y="32.2" width="45.5" height="20.2" rx="3" fill="#86c5e8"/>
<text x="395.6" y="45.8" font-size="10" text-anchor="middle">LILRB2</text>
<rect x="310.3" y="45.7" width="45.5" height="20.2" rx="3" fill="#86c5e8"/>
<text x="332.6" y="59.3" font-size="10" text-anchor="middle">WDFY4</text>
<rect x="438.2" y="45.7" width="45.5" height="20.2" rx="3" fill="#86c5e8"/>
<text x="460.5" y="59.3" font-size="10" text-anchor="middle">ITGB2</text>
<rect x="355.6" y="66.5" width="45.5" height="20.2" rx="3" fill="#86c5e8"/>
<text x="377" y="80.1" font-size="10" text-anchor="middle">C1QA</text>
<rect x="422.8" y="61.4" width="45.5" height="20.2" rx="3" fill="#86c5e8"/>
<text x="443.9" y="75" font-size="10" text-anchor="middle">TLR8</text>
<rect x="379.2" y="63.6" width="45.5" height="20.2" rx="3" fill="#86c5e8"/>
<text x="401.2" y="77.2" font-size="10" text-anchor="middle">C3AR1</text>
<rect x="458.9" y="68.7" width="45.5" height="20.2" rx="3" fill="#f2ea3c"/>
<text x="481" y="82.3" font-size="10" text-anchor="middle">IL10RA</text>
<rect x="506.1" y="57.5" width="45.5" height="20.2" rx="3" fill="#86c5e8"/>
<text x="527.7" y="71.1" font-size="10" text-anchor="middle">MRC1</text>
<rect x="546" y="42.9" width="45.5" height="20.2" rx="3" fill="#f2ea3c"/>
<text x="568.7" y="56.5" font-size="10" text-anchor="middle">CD40LG</text>
<rect x="565.4" y="68.7" width="45.5" height="20.2" rx="3" fill="#f2ea3c"/>
<text x="586.7" y="82.3" font-size="10" text-anchor="middle">CD19</text>
<rect x="486.8" y="76.6" width="45.5" height="20.2" rx="3" fill="#f2ea3c"/>
<text x="509.7" y="90.2" font-size="10" text-anchor="middle">FCGR2A</text>
<rect x="397.2" y="97.4" width="45.5" height="20.2" rx="3" fill="#f2ea3c"/>
<text x="418" y="111" font-size="10" text-anchor="middle">SPI1</text>
<rect x="424.8" y="88.4" width="45.5" height="20.2" rx="3" fill="#86c5e8"/>
<text x="446.2" y="102" font-size="10" text-anchor="middle">CCR1</text>
<rect x="346.1" y="97.4" width="45.5" height="20.2" rx="3" fill="#86c5e8"/>
<text x="367.5" y="111" font-size="10" text-anchor="middle">C1QB</text>
<rect x="306.2" y="104.7" width="45.5" height="20.2" rx="3" fill="#86c5e8"/>
<text x="327.5" y="118.3" font-size="10" text-anchor="middle">PLEK</text>
<rect x="523.7" y="92.3" width="45.5" height="20.2" rx="3" fill="#f2ea3c"/>
<text x="545.1" y="105.9" font-size="10" text-anchor="middle">CCR2</text>
<rect x="562.6" y="96.8" width="45.5" height="20.2" rx="3" fill="#f2ea3c"/>
<text x="583.9" y="110.4" font-size="10" text-anchor="middle">CD33</text>
<rect x="432.8" y="118.8" width="45.5" height="20.2" rx="3" fill="#f2ea3c"/>
<text x="455.7" y="132.4" font-size="10" text-anchor="middle">FCGR1A</text>
<rect x="463.6" y="103.6" width="45.5" height="20.2" rx="3" fill="#f2ea3c"/>
<text x="484.9" y="117.2" font-size="10" text-anchor="middle">CCL4</text>
<rect x="495.3" y="110.9" width="45.5" height="20.2" rx="3" fill="#f2ea3c"/>
<text x="516.4" y="124.5" font-size="10" text-anchor="middle">TLR7</text>
<rect x="602.4" y="110.9" width="45.5" height="20.2" rx="3" fill="#f2ea3c"/>
<text x="624.3" y="124.5" font-size="10" text-anchor="middle">CCL19</text>
<rect x="363.1" y="127.8" width="45.5" height="20.2" rx="3" fill="#86c5e8"/>
<text x="384.5" y="141.4" font-size="10" text-anchor="middle">CYBB</text>
<rect x="391.2" y="126.6" width="45.5" height="20.2" rx="3" fill="#86c5e8"/>
<text x="414.8" y="140.2" font-size="10" text-anchor="middle">MMP9</text>
<rect x="497.3" y="141.8" width="45.5" height="20.2" rx="3" fill="#86c5e8"/>
<text x="519.2" y="155.4" font-size="10" text-anchor="middle">CD163</text>
<rect x="462.5" y="127.8" width="45.5" height="20.2" rx="3" fill="#f2ea3c"/>
<text x="483.8" y="141.4" font-size="10" text-anchor="middle">CD86</text>
<rect x="528.4" y="126.6" width="45.5" height="20.2" rx="3" fill="#f2ea3c"/>
<text x="549" y="140.2" font-size="10" text-anchor="middle">IL10</text>
<rect x="566.9" y="129.4" width="45.5" height="20.2" rx="3" fill="#f2ea3c"/>
<text x="588.9" y="143" font-size="10" text-anchor="middle">X3CR1</text>
<rect x="310.6" y="140.1" width="45.5" height="20.2" rx="3" fill="#86c5e8"/>
<text x="333.7" y="153.7" font-size="10" text-anchor="middle">FCER1G</text>
<rect x="412.1" y="145.7" width="45.5" height="20.2" rx="3" fill="#f2ea3c"/>
<text x="435" y="159.3" font-size="10" text-anchor="middle">FCGR2B</text>
<rect x="371.9" y="155.9" width="45.5" height="20.2" rx="3" fill="#86c5e8"/>
<text x="394.4" y="169.5" font-size="10" text-anchor="middle">TYROBP</text>
<rect x="448.4" y="150.8" width="45.5" height="20.2" rx="3" fill="#f2ea3c"/>
<text x="470.3" y="164.4" font-size="10" text-anchor="middle">ITGAM</text>
<rect x="587" y="160.4" width="45.5" height="20.2" rx="3" fill="#f2ea3c"/>
<text x="610.5" y="174" font-size="10" text-anchor="middle">CXCL9</text>
<rect x="473.4" y="165.4" width="45.5" height="20.2" rx="3" fill="#f2ea3c"/>
<text x="495.6" y="179" font-size="10" text-anchor="middle">PTPRC</text>
<rect x="515.9" y="162" width="45.5" height="20.2" rx="3" fill="#f2ea3c"/>
<text x="537.2" y="175.6" font-size="10" text-anchor="middle">CD80</text>
<rect x="556.9" y="164.3" width="45.5" height="20.2" rx="3" fill="#f2ea3c"/>
<text x="578.2" y="177.9" font-size="10" text-anchor="middle">CD69</text>
<rect x="427.6" y="168.8" width="45.5" height="20.2" rx="3" fill="#f2ea3c"/>
<text x="449" y="182.4" font-size="10" text-anchor="middle">CCR5</text>
<rect x="316.2" y="167.1" width="45.5" height="20.2" rx="3" fill="#86c5e8"/>
<text x="337.1" y="180.7" font-size="10" text-anchor="middle">LY86</text>
<rect x="384.2" y="191.3" width="45.5" height="20.2" rx="3" fill="#86c5e8"/>
<text x="401.2" y="204.9" font-size="10" text-anchor="middle">AIF1</text>
<rect x="341.8" y="187.3" width="45.5" height="20.2" rx="3" fill="#f2ea3c"/>
<text x="363" y="200.9" font-size="10" text-anchor="middle">LCP2</text>
<rect x="456.4" y="186.8" width="45.5" height="20.2" rx="3" fill="#f2ea3c"/>
<text x="477" y="200.4" font-size="10" text-anchor="middle">CD4</text>
<rect x="411.7" y="188.5" width="45.5" height="20.2" rx="3" fill="#f2ea3c"/>
<text x="433.8" y="202.1" font-size="10" text-anchor="middle">CSF1R</text>
<rect x="497.9" y="200.3" width="45.5" height="20.2" rx="3" fill="#f2ea3c"/>
<text x="519.2" y="213.9" font-size="10" text-anchor="middle">CCL3</text>
<rect x="526.2" y="187.3" width="45.5" height="20.2" rx="3" fill="#f2ea3c"/>
<text x="546.2" y="200.9" font-size="10" text-anchor="middle">IL6</text>
<rect x="585.6" y="211.5" width="45.5" height="20.2" rx="3" fill="#f2ea3c"/>
<text x="606.4" y="225.1" font-size="10" text-anchor="middle">IL7R</text>
<rect x="550.2" y="213.2" width="45.5" height="20.2" rx="3" fill="#f2ea3c"/>
<text x="571.5" y="226.8" font-size="10" text-anchor="middle">CCL5</text>
<rect x="354.4" y="216.6" width="45.5" height="20.2" rx="3" fill="#f2ea3c"/>
<text x="377.6" y="230.2" font-size="10" text-anchor="middle">CSF2RB</text>
<rect x="432.1" y="216.6" width="45.5" height="20.2" rx="3" fill="#86c5e8"/>
<text x="455" y="230.2" font-size="10" text-anchor="middle">FCGR3A</text>
<rect x="463.1" y="217.7" width="45.5" height="20.2" rx="3" fill="#f2ea3c"/>
<text x="486" y="231.3" font-size="10" text-anchor="middle">FCGR3B</text>
<rect x="499.2" y="228.9" width="45.5" height="20.2" rx="3" fill="#f2ea3c"/>
<text x="520.3" y="242.5" font-size="10" text-anchor="middle">IFNG</text>
<rect x="535.6" y="246.9" width="45.5" height="20.2" rx="3" fill="#f2ea3c"/>
<text x="556.9" y="260.5" font-size="10" text-anchor="middle">CD28</text>
<rect x="415.1" y="243.6" width="45.5" height="20.2" rx="3" fill="#86c5e8"/>
<text x="436.6" y="257.2" font-size="10" text-anchor="middle">C1QC</text>
<rect x="382" y="243.6" width="45.5" height="20.2" rx="3" fill="#86c5e8"/>
<text x="404" y="257.2" font-size="10" text-anchor="middle">C5AR1</text>
<rect x="460.1" y="280.6" width="45.5" height="20.2" rx="3" fill="#f2ea3c"/>
<text x="481.6" y="294.2" font-size="10" text-anchor="middle">IL2RA</text>
<rect x="483.2" y="266.6" width="45.5" height="20.2" rx="3" fill="#86c5e8"/>
<text x="505.2" y="280.2" font-size="10" text-anchor="middle">NLRP3</text>
</g>
<g id="C">
<text x="9.3" y="244" font-size="14">C</text>
<path d="M30 346.2H342" stroke="#f3f3f3" stroke-width="1"/>
<text x="28" y="349.7" font-size="10" text-anchor="end">0</text>
<path d="M30 330.7H342" stroke="#f3f3f3" stroke-width="1"/>
<text x="28" y="334.2" font-size="10" text-anchor="end">2</text>
<path d="M30 315.1H342" stroke="#f3f3f3" stroke-width="1"/>
<text x="28" y="318.6" font-size="10" text-anchor="end">4</text>
<path d="M30 299.6H342" stroke="#f3f3f3" stroke-width="1"/>
<text x="28" y="303.1" font-size="10" text-anchor="end">6</text>
<path d="M30 284H342" stroke="#f3f3f3" stroke-width="1"/>
<text x="28" y="287.5" font-size="10" text-anchor="end">8</text>
<path d="M30 268.5H342" stroke="#f3f3f3" stroke-width="1"/>
<text x="28" y="272" font-size="10" text-anchor="end">10</text>
<path d="M30 253H342" stroke="#f3f3f3" stroke-width="1"/>
<text x="28" y="256.5" font-size="10" text-anchor="end">12</text>
<text x="14" y="296" font-size="10.5" text-anchor="middle" textLength="55" lengthAdjust="spacingAndGlyphs" transform="rotate(-90 14 296)">log2(TPM+1)</text>
<g transform="translate(0.7 0)">
<path d="M27.9 281.1h0m0 1.8h0m.1-.3h0m0 .8h0m0-7.7h0m0 6.7h0m0-8.5h0m0 0h0m.2 3.7h0m0-3.7h0m0 1.3h0m0-1.3h0m0 0h0m0 1.2h0m0 28.4h0m.1-22.3h0m0 18.5h0m0 32.5h0m0-23.6h0m0-7.4h0m0 39.1h0m.1-43.7h0m0 48.7h0m0-71.4h0m0 71.1h0m0-71.1h0m0 32.7h0m0 36.7h0m0-69.4h0m0 72.1h0m.1-.7h0m0-67.2h0m0 67.8h0m0-72h0m0 36.3h0m0 35.7h0m0-26.5h0m0-10.9h0m.1 7.3h0m0 3.4h0m0 25.9h0m0-42.4h0m0 32.7h0m0-56.6h0m0-4.9h0m0 48.7h0m0-48.7h0m.1 7.6h0m0 34.7h0m0 20.2h0m0-49.9h0m0 16.3h0m0-28.9h0m0 43h0m0 28.9h0m0-.7h0m0 .4h0m0-15h0m0-41.2h0m0-15.4h0m0 23.2h0m0 11.1h0m.1-28.3h0m0 18.2h0m0-9.7h0m.1 0h0m.1-14.5h0m0 12.8h0m0-11h0m0-.8h0" stroke="#e41a1c" stroke-width="0.9" stroke-linecap="round" fill="none" stroke-opacity="0.75"/>
<path d="M80.5 282.1h0m.1-13h0m0 3.8h0m0-7.5h0m.1 0h0m0 10.2h0m0 8.3h0m0-7.7h0m0-10.8h0m0 6h0m.1 6.9h0m0-12.9h0m.1 15.2h0m0-9.7h0m0-5.5h0m0 8.3h0m0 14.2h0m.1-15.5h0m0 13.3h0m0 5.9h0m0-23.1h0m0 21.4h0m.1-16.2h0m.1 7.2h0m.1 4.9h0m0-12.5h0m0-3.1h0m.1 16.5h0m0 9.3h0m0-6.5h0m.1-2.7h0m.1 12.3h0m0-33.7h0m.1 30h0m0-18.7h0m.1 68.5h0m0 .1h0m.1-48.1h0m0-11.4h0m0-11.5h0m.1 6.7h0m0 16.9h0m0-.1h0m.1 47.4h0m0-54h0m0 4.6h0m0-7.8h0m.1 2.1h0m0-13.2h0m0-11.5h0m0 0h0m0 30.7h0m0-22.9h0m0 10.6h0m0-9.6h0m0-3.2h0m.1 27.3h0m0 1.9h0m.1-32h0m0 62.6h0m0-32.8h0m0 48h0m0-74.4h0m.1 7.4h0m0 37.7h0m0-16.9h0m0-20.8h0m0-5.6h0m0 17.4h0m0-18.6h0m0 45.1h0m0-51.7h0m0 16h0m.1 2.3h0m0-14.7h0m0 13.3h0m0-11.7h0m0 5.9h0m0-5.5h0m0 15.8h0m.1 13h0m0-33.1h0m0 78.9h0m.1-64.2h0m0 4.5h0m0 59.9h0m0-59.4h0m0 59h0m.1-76.2h0m0 76.1h0m0-79.6h0m0 .3h0m0-.8h0m.1 5.8h0m0 66.9h0m0-55.7h0m0 10.9h0m0-12.4h0m0 25.8h0m0 38.7h0m0-64.7h0m.1-5.7h0m0-1.4h0m0 2h0m0-10h0m0 28.2h0m0-28.4h0m.1 17.7h0m.1-15h0m0 5.3h0m0-8h0m0 16.1h0m0 12.5h0m0-28h0m.1-.6h0m0 26.3h0m0-26.3h0m.1 16.9h0m0-3h0m0-7.2h0m0 9.7h0m0-8.2h0m0 19.1h0m0-27.3h0m.1 0h0m0 24.2h0m0 6.4h0m0-18.9h0m.1 9.8h0m0-21.5h0m0 0h0m0 9.9h0m.1 10.5h0m0-12.9h0m0-4h0m.2 7.8h0m0 5.9h0m0-11.2h0m.1 4h0m0 16.8h0m0-2.8h0m.2-12.6h0m0 5.1h0m.1-9.9h0m0 14.7h0m0-13h0m.1-1.3h0m.1-3.9h0m0 3h0m.1 6.3h0" stroke="#377eb8" stroke-width="0.9" stroke-linecap="round" fill="none" stroke-opacity="0.75"/>
<path d="M132.7 270.6h0m0 9.5h0m0-7.2h0m.1 13.2h0m.1-5.2h0m0 7.3h0m.1-5.1h0m0-9.1h0m.1 14.6h0m.1-25.5h0m0 12.3h0m0-11.7h0m0 26.4h0m.1-8.6h0m.1-20.8h0m0 0h0m.1 2.9h0m.1-2.9h0m0 28.7h0m.1-8.4h0m0-5.6h0m0 13.9h0m0-7.2h0m0-2.9h0m0-.4h0m0-9.1h0m.1 22.7h0m0-9.9h0m0 24.3h0m.1-46.1h0m0 7h0m0 8.5h0m0-13.5h0m.2 23.6h0m.1 1h0m0-25.1h0m0 10.7h0m0 17.9h0m0 2.4h0m0 10.9h0m.1-31h0m0 6.1h0m0 49.8h0m0-57.5h0m.1 73.9h0m0-59.2h0m0 7.6h0m0 4.6h0m0-37.7h0m0 .5h0m0 13h0m0 11.2h0m0 56.9h0m.1-80.5h0m0 19.2h0m0 4.5h0m0 49.5h0m0-31.2h0m0-7.9h0m0-13.5h0m.1 46h0m0-67.7h0m0 13.2h0m0 10.7h0m0 60.9h0m0 .4h0m.1-12.8h0m0 12.1h0m0-66.6h0m0 67.2h0m0-61.9h0m.1-23.2h0m0 84.9h0m0-46.1h0m0-3h0m0 41.4h0m0-67.8h0m.1 12.4h0m0-21.8h0m0 27.2h0m0 32.8h0m0-45.1h0m.1-14.8h0m0 61.5h0m0-53.4h0m.1 24.4h0m0 5.6h0m0-12.4h0m0-8.2h0m0-10.5h0m0 9.2h0m0-2.8h0m0-8.2h0m0 59.3h0m0-51.2h0m0 11.9h0m.1 23.7h0m0-41h0m0-8h0m0 38.6h0m0 9.9h0m0-35h0m0 3.1h0m.1-8.3h0m0 11h0m0-4.6h0m.1 10.7h0m0 4.4h0m0-28.9h0m0 4.3h0m0 63.3h0m0 10.7h0m0-66.7h0m0 38h0m.1-39.7h0m0 10.7h0m.1-6.8h0m0-6.7h0m0 18.7h0m.1-4.9h0m0-13.1h0m0 11.2h0m0 11.1h0m0-7.1h0m.1 22.8h0m0 10.6h0m.1-55.5h0m0 1h0m.1 24.7h0m0-8.9h0m0 15.6h0m0-25.1h0m.1 11.5h0m0 5.6h0m0 21.3h0m0-24.2h0m0-11.4h0m.1-8.5h0m0 35.7h0m0-30.6h0m0 14.2h0m0 4.7h0m.2 11.9h0m0-39.3h0m0 12.7h0m0-2.5h0m0 2.6h0m0-3.8h0m.1-2.2h0m0-6.8h0m0 20.5h0m.1-10.4h0m0 23.8h0m0-22.9h0m.1 12.2h0m0-5.7h0m.1 6.8h0m0 .8h0m0 .5h0m0-19.3h0m.1 7.4h0m.1 1.7h0m0-10.6h0m0 18.9h0m.1 2.1h0m0-8.7h0m0 9.3h0m.1-20.9h0m0 12.8h0m0-1.9h0" stroke="#4daf4a" stroke-width="0.9" stroke-linecap="round" fill="none" stroke-opacity="0.75"/>
<path d="M186 276.8h0m.1 .9h0m0 .7h0m.1 .2h0m0-3.1h0m0-2.7h0m.1 10.1h0m0-11.6h0m0 11.7h0m.1-1h0m0-3.7h0m.1-8.4h0m0 8.3h0m0 1.3h0m0 3.5h0m0-13.3h0m0 4.1h0m0 10.8h0m0 1.8h0m.1-8.3h0m0-8.2h0m0 11.1h0m0-8.6h0m0 13.6h0m0-8.7h0m.1 4.3h0m0-8.8h0m0-3.2h0m0 15h0m.1 2.6h0m0 .6h0m0 1.4h0m.1-6.7h0m0-14.7h0m0 1.4h0m0 4.7h0m.1 11.9h0m0 .6h0m0-15h0m0 17.3h0m.1-15h0m0-.6h0m.1 16.3h0m0-18.5h0m0-1.9h0m0 23.4h0m0-5.8h0m0 6.3h0m.1-9.6h0m0 1.4h0m0-15.9h0m0 6.6h0m0-12.8h0m.1 27.5h0m0-11.7h0m0 7.8h0m0-2.3h0m0 6.1h0m0-10.9h0m0-7.4h0m0 20h0m.1-15.7h0m0-8.9h0m0 7.5h0m0 3.5h0m0-14.7h0m0 20.5h0m.1-24.1h0m0 16h0m0 18.3h0m0-33.5h0m0-3.3h0m0 38.5h0m.1-17.2h0m0-6.6h0m0 1.7h0m0 5.4h0m0-1.3h0m0 2h0m0 17.9h0m0-33.2h0m0 9.4h0m.1-7.5h0m0 4.5h0m0 21h0m0-11.5h0m.1 16.7h0m0-16.4h0m0 14.4h0m0-23.1h0m0 18.8h0m0-9.7h0m0 2.1h0m0-10h0m0 11.6h0m0-11h0m.1-11.4h0m0-6.6h0m0 15h0m0 21.7h0m0-5.2h0m.1-14h0m0 19.2h0m0-29.8h0m0 16.3h0m0 2.3h0m0-5.7h0m.1 10.4h0m0-14.3h0m0 6.4h0m0-18.3h0m0 3.5h0m0 21.3h0m0-28.1h0m0-3.3h0m0 41.1h0m.1-13.7h0m0 9.2h0m0-16h0m0 18.3h0m0-32.6h0m0 35h0m.1-15.4h0m0 5.6h0m0-9.5h0m0 25.5h0m0-29.6h0m0-2.1h0m0 24.2h0m0-5.3h0m0-3.3h0m0 4.5h0m0-21.9h0m0 14.5h0m0-2.9h0m0-8.3h0m.1 24.2h0m0-25.5h0m0-6.5h0m0 35.2h0m0-25.3h0m0-11.5h0m0 6.6h0m.1-1.6h0m0 5.5h0m0 34.7h0m0-38.6h0m0 17.2h0m.1 3.2h0m0-3.8h0m0-2.6h0m0 12.6h0m0-11.3h0m0-.5h0m0 23.2h0m0-12.3h0m0-9.7h0m0 5.7h0m0-8.9h0m.1-29.9h0m0 30.4h0m0-19.9h0m0 4.2h0m0-4.4h0m0 13.2h0m0 14h0m0 4.1h0m0 9.3h0m0-6h0m0-24.4h0m0 35.2h0m0-16.8h0m0-9.6h0m.1 35.3h0m0-9.2h0m0-47.1h0m0 30.7h0m0-12.5h0m0 69.1h0m0-83.9h0m.1 66h0m0 16.7h0m0-77.9h0m0 69.5h0m0 9h0m0-17.6h0m0-50.9h0m0 64.8h0m0 4h0m0-65.8h0m0 55.9h0m.1-39h0m0-2.5h0m0-5.5h0m0-9.3h0m0-13.6h0m0 10.6h0m0 10.1h0m0 58.9h0m0-82.6h0m0 34.3h0m0-31.2h0m0 27.2h0m0 52h0m0-20h0m0-17.3h0m.1 37.6h0m0-70.8h0m0 63.3h0m0-75.7h0m0 26.6h0m0-21.6h0m0-6.8h0m0 84.4h0m0 1h0m0-27h0m.1-35.5h0m0-5h0m0-16.3h0m0 51.9h0m0-50.2h0m0 14.4h0m0-2.8h0m0 18.8h0m0 10.9h0m.1-38.4h0m0 18.8h0m0 59.6h0m0-82.8h0m0 82.6h0m0-64.8h0m0-10.6h0m0-15.7h0m0 34.5h0m0 .2h0m0-30.8h0m0 2.3h0m0 58.3h0m0-36.6h0m0 60.5h0m0-82.9h0m.1 49.5h0m0 33.6h0m0-15.5h0m0 18.6h0m0-33.9h0m0 33.7h0m0-73.3h0m.1 66.3h0m0-44.6h0m0-12.2h0m0-14h0m0 22.7h0m0-7.6h0m0 46.4h0m0 13.7h0m0-79.5h0m0 29.4h0m0 8.6h0m0-17.3h0m.1-27.4h0m0 22.7h0m0 16.3h0m0-26.7h0m0-4.4h0m0 5.5h0m0 76h0m0-9.5h0m0-59.1h0m0 6.7h0m.1 22.1h0m0 39.3h0m0-74.9h0m0 25.2h0m0 3.6h0m0-27.6h0m0 47.3h0m0 26.5h0m0-77.9h0m0 74h0m0-37.8h0m0 42.1h0m0-85.8h0m0 45.3h0m0-16.5h0m0 35.8h0m.1-58.9h0m0 15.2h0m0 61.9h0m0-17.1h0m0-59.5h0m0 44.3h0m0-56h0m0-4.2h0m0 48.6h0m.1 17.8h0m0-56.1h0m0 42h0m0-32.2h0m0 58.7h0m0 15.7h0m0-46.1h0m0-15.5h0m0-15h0m0-8.3h0m0 9.2h0m0 67.6h0m0-28.2h0m.1 31.5h0m0-57.8h0m0 30.8h0m0 32.4h0m0-75.6h0m0 10.1h0m0 20h0m0-18.2h0m0 63.7h0m0-83.9h0m0 24.3h0m0 59.5h0m0-60.9h0m0 60.5h0m0-60.7h0m0-31h0m0 21.6h0m0 11.7h0m.1 29.6h0m0 29.2h0m0-92.5h0m0 31h0m0-24.3h0m0 19.5h0m0 34.2h0m0-24.8h0m.1 38.7h0m0-49.7h0m0 10.8h0m0-16.6h0m0 22.9h0m0-9.9h0m0-24.2h0m0 28.7h0m0-2.6h0m0-5.7h0m.1 6.3h0m0-22.4h0m0 5.9h0m0 7h0m0 23.9h0m0 8.6h0m0 35.3h0m0-61.9h0m0 61.6h0m0-64h0m0 43.1h0m0-42.6h0m0-19.7h0m0 83h0m0-49h0m0 38.9h0m.1-44.2h0m0-4.5h0m0-32.2h0m0 39.9h0m0-30.5h0m0 82.4h0m0-.1h0m0-69.9h0m.1-1.5h0m0 8.6h0m0-10.4h0m0 73.1h0m0-5h0m0-61.6h0m0 43.1h0m.1-57h0m0 12.1h0m0-13.4h0m0 18.5h0m0 13.6h0m0 49.3h0m0-17.4h0m0-52.6h0m.1 31.7h0m0-32.4h0m0 3h0m0-8.7h0m0 76.8h0m0-59.5h0m0 8.4h0m0 7.7h0m0-28.1h0m0 21.5h0m0-22.5h0m0 14.4h0m0 54h0m0-18.2h0m0-52.4h0m0 35.9h0m.1-9.3h0m0 20.4h0m0 27.8h0m0-74.4h0m0-2.9h0m0 24h0m0-38.8h0m0 24.8h0m0-28h0m0 35h0m0 39.5h0m0-53.5h0m.1 74.1h0m0-64.6h0m0-.5h0m0 10.2h0m0 34.9h0m0-48.6h0m.1 60.2h0m0-6.6h0m0-58.3h0m0 73.5h0m0-.1h0m0-76.5h0m0 3h0m0 42.3h0m.1-11.5h0m0 42.1h0m0-89.2h0m0 38.9h0m0-26.9h0m0 47.8h0m0 19.7h0m0-7h0m.1-60.9h0m0 25.2h0m0-16.6h0m0 33.8h0m0 35.1h0m0-78.1h0m0 14h0m0 59.4h0m0 4.8h0m0-70.7h0m.1 24.1h0m0-15.1h0m0-7.7h0m0 36h0m0-49.7h0m0 83.9h0m0-71h0m0 4.7h0m.1-27.7h0m0 54h0m0-30.2h0m0-21.1h0m0 13.4h0m0 77.6h0m0-77.2h0m.1 77.6h0m0-63.4h0m0 21.7h0m0 29.1h0m0-72.5h0m0 80.6h0m0-12.5h0m0-4h0m0-3.8h0m0 3.6h0m0-10.1h0m0-47.3h0m0 78.3h0m.1-49.9h0m0 50.2h0m0-69.1h0m0 45.3h0m0-36.1h0m0-22.2h0m0 23.6h0m0 18.2h0m0 40.1h0m0-64.1h0m0 55.5h0m0-63.6h0m.1 11.9h0m0-32.5h0m0 43.5h0m0-8.8h0m0 16.4h0m.1 9.4h0m0-27.2h0m0 52.3h0m0-41.4h0m0 48.2h0m0-7.2h0m0-24.6h0m0-36.3h0m0 11.9h0m.1 8.8h0m0 31.3h0m0 16.5h0m0-71.8h0m0-8.5h0m0 79.7h0m0-28.5h0m0-35.4h0m0 64.1h0m0 .7h0m0-70.5h0m0 43.2h0m.1-55.5h0m0 63.3h0m0-60.9h0m0-15.2h0m0 16.9h0m0 3.9h0m0-2.9h0m0 18.2h0m.1-8.2h0m0 18.2h0m0-44.8h0m0 36.6h0m0 2.2h0m.1-35.2h0m0 46.3h0m0-18.3h0m0-2.7h0m0 .5h0m.1-23.7h0m0 18h0m0 7.8h0m0 17.9h0m0-48.7h0m0 28h0m0-6.4h0m0 16.2h0m0-28h0m.1 19.7h0m0 11.5h0m0-18.1h0m0 14h0m0 8.4h0m0-9.4h0m0-21.2h0m0-.5h0m0 39.4h0m0-27.8h0m0 7.8h0m.1 4.9h0m0-12.8h0m0 3.1h0m0-5h0m0 6.1h0m0 2.6h0m0-28.9h0m0 34.9h0m0 8.5h0m.1-16.4h0m0-6.3h0m.1 24.7h0m0-8.4h0m0-27.7h0m0 2.9h0m0-5.8h0m0 21.2h0m.1-13.1h0m0 4.6h0m0-10.5h0m0-1.3h0m0 15.5h0m0-28.4h0m0 32.4h0m.1-22.7h0m0-1.4h0m0 1.5h0m0-5.6h0m0 20.3h0m0 14.4h0m.1-.4h0m0-8.7h0m0-25.1h0m0 41.7h0m0-23.1h0m0 17.1h0m0-12.3h0m0 17.3h0m0 1.2h0m0-17.6h0m.1 7.8h0m0-8.5h0m0 18.3h0m0-13h0m.1-18.3h0m0 17.8h0m0-24.6h0m0 25.3h0m0-21.6h0m0 32.8h0m0-20.1h0m.1 7.6h0m0 12.4h0m0-17h0m0-12.5h0m.1 15.6h0m0-5.1h0m0-1.6h0m0 3.7h0m0-2h0m.1 3.8h0m.1-1.2h0m0 8.8h0m0-24.9h0m0 30h0m0-18.7h0m0 7.6h0m0-5.4h0m.1 12.3h0m0-6.6h0m0 10h0m.1-26.2h0m0 21.3h0m0-4.4h0m0 8.4h0m0-8.5h0m.1-8.9h0m0-4.5h0m.1 1.7h0m0 11.8h0m0 2.7h0m0-4.1h0m.1-14.1h0m.1 6.5h0m0 3h0m0 6.3h0m.1-.5h0m0 3.7h0m0-16.9h0m0 14.2h0m0-5.7h0m0-2.9h0m.1 7.7h0m0 3.3h0m0-6.7h0m.1-10.8h0m0 3.7h0m.1 11.8h0m0-14h0m.2 4h0m0 3.9h0m.1-3h0m0 2.8h0" stroke="#984ea3" stroke-width="0.9" stroke-linecap="round" fill="none" stroke-opacity="0.75"/>
<path d="M239.9 275.4h0m.1 1.2h0m0 .6h0m0 4.3h0m.2 3h0m.1-15.2h0m0 10h0m.1 8.3h0m.1-21.6h0m0 20.1h0m0-13.7h0m0 5.9h0m0-6.5h0m.1 10.7h0m.1-13.6h0m0 12h0m0 2.7h0m0-9.5h0m.1 5.6h0m0 5.6h0m0-19.4h0m.1 15.2h0m0-12.2h0m0 3.6h0m0 3.1h0m0-8.7h0m.1 27.1h0m0-28.7h0m.1 .3h0m0 16.5h0m0-5.8h0m.1-2.5h0m0 7.6h0m.1-16.1h0m0 30.6h0m.1-19.3h0m0-2.1h0m0-12.3h0m0 25.9h0m.1-1.9h0m0 5h0m.1-26.5h0m0 20.1h0m0-23.3h0m0-5.4h0m.1 16.9h0m0-.1h0m.1 29.6h0m0-19.6h0m0-25.4h0m0 18.4h0m.1 18.8h0m0-25.2h0m.1-11.8h0m0 10.8h0m0 29.7h0m.1-21.9h0m.1 4.6h0m0-20.1h0m0 19.6h0m.1-2.1h0m0-12.3h0m0 14h0m0-20.5h0m0 3.6h0m0 33h0m0-5.7h0m.1-28.3h0m0 8.3h0m0 9.9h0m0 31.6h0m0-35.6h0m.1 1.4h0m0 4.5h0m0 18.9h0m0-37.6h0m.1 40.2h0m0 41.9h0m0-52.6h0m0-11.4h0m0-22.3h0m0 86.1h0m0 .5h0m0-9h0m.1-51.8h0m0-13h0m0-9.6h0m0 19.4h0m0 7h0m.1-2.8h0m0 59.5h0m0-64.8h0m0 1.2h0m0-1.7h0m0 3.5h0m0-27.3h0m0 27.3h0m.1 45.4h0m0-60.7h0m0 55.6h0m.1-26.4h0m0-19.4h0m0-9.2h0m.1-3.9h0m0 72h0m0-47h0m0 6.5h0m0-20.3h0m.1 15.5h0m0 53.5h0m0 .3h0m.1-71.4h0m0 1.5h0m0-5.8h0m0 52.4h0m0-1.7h0m0-49.3h0m.1 74.5h0m0-71.9h0m0-3.6h0m0-7.3h0m.1 82.5h0m0-75.6h0m0 .7h0m0 18.3h0m0-11.1h0m.1 67.9h0m0-58.1h0m0 58h0m0-69.9h0m0 37.4h0m.1-40.4h0m0 56.4h0m0-43.6h0m0 4.3h0m0-3.4h0m0 28.6h0m.1 31h0m0-79.2h0m0 19.3h0m0-26.6h0m0 13.8h0m.1 .3h0m0-9.4h0m0-2.6h0m0 4.1h0m0 79.5h0m0-69.6h0m0-7.6h0m.1 77.2h0m.1-87.8h0m0 1.6h0m0 86h0m0-48.8h0m.1-7h0m0-3.4h0m0-9.7h0m0 69.1h0m0-2.2h0m0-44.6h0m0-4.4h0m.1-38h0m0 27.7h0m0-18.8h0m0 15.7h0m0 15.2h0m0 49.3h0m0-3.2h0m0-80.1h0m0 51h0m.1 32.6h0m0-8.5h0m0-52.7h0m.1 31h0m0-37.3h0m0 10.5h0m.1-18.7h0m0 25h0m.1-4.1h0m0 43.1h0m0-77.7h0m0 89.9h0m0-.9h0m.1-58.3h0m0-9.6h0m0-9.1h0m0 7.5h0m0 5.2h0m0-12.1h0m0 77.4h0m.1-6h0m0-81.2h0m0 18.8h0m0 68h0m0-55.7h0m0 2.7h0m0-30.9h0m0 7.8h0m0 75.6h0m.1-68.9h0m0 59.4h0m0-45h0m0 17.3h0m0-51.9h0m0 74.5h0m0-51.4h0m.1 12.4h0m0 53.9h0m0-30.1h0m.1 30.4h0m0 0h0m0-38.4h0m.1-30.6h0m0 18.3h0m0-29.9h0m0 .7h0m0 79.5h0m0-48.3h0m.1-6.3h0m0 5h0m0-3.4h0m0-18.5h0m0-4.8h0m.1 9.3h0m0 6.8h0m0-6.4h0m0-7.8h0m0 3.3h0m0 11.5h0m.1-4.3h0m0-19.7h0m0 4h0m0 12.8h0m.1-2.9h0m0-10.4h0m.1-7.4h0m0 33h0m0 5.5h0m.1-21.9h0m0-5h0m0-13.4h0m0 9.7h0m.1-7.9h0m0 44.2h0m.1 2h0m0-28.8h0m0 25.9h0m0-25.8h0m.1-5.9h0m0 13h0m0-13h0m0 25.1h0m0-28.9h0m0-4.8h0m0 22.2h0m.1 14.2h0m0-29h0m0-1.6h0m.1 10.8h0m0 8.5h0m.1-8.3h0m0 .7h0m0-22h0m0 24.8h0m0-14.4h0m.1 31.1h0m0-29.7h0m0 23.4h0m0-9.4h0m0-26.1h0m.1 6.1h0m0 10.4h0m0-16.5h0m0 28.2h0m0 10.2h0m.1-7.4h0m.1 4.7h0m0-5h0m.1-10.8h0m0 4.9h0m0-15.4h0m.1 11.8h0m0 7.8h0m.1-9.3h0m0 9.2h0m0-7.7h0m.1 13.6h0m0-10.3h0m0-8.5h0m.1 3.5h0m.2-4.8h0m0 3.4h0m.1 12.1h0m.1-10.8h0m0-1.2h0m0 8.5h0m0-.8h0m.2-12h0m.1 1.1h0m0 7.5h0" stroke="#ff7f00" stroke-width="0.9" stroke-linecap="round" fill="none" stroke-opacity="0.75"/>
<path d="M293.7 274.1h0m.1 2.3h0m0 2.8h0m0-8.2h0m.1 6h0m0-6.4h0m0-.7h0m0 8.5h0m0-7h0m.1 .6h0m.1 9.9h0m0-14.1h0m0 2.9h0m0 15.4h0m.1-19h0m0 15.7h0m0-7.1h0m0 3.4h0m.1 4h0m0-2.1h0m0 4.7h0m0-8.8h0m.1 6h0m0-1.8h0m0-5.8h0m0 2.2h0m.1-1.1h0m0-.8h0m0-11.2h0m0-1.1h0m.1 21.1h0m0-6h0m0 3.9h0m0-4h0m0 6.4h0m.1-7.8h0m.1-2.5h0m0 7.7h0m0-9.6h0m0-9.8h0m0 20.7h0m.1-13.6h0m0 6.9h0m0 14.9h0m0-14.4h0m0-13.6h0m0 13.7h0m0 5h0m0-14.4h0m0-2.5h0m0 3.3h0m.2-.1h0m0 8.9h0m0-11.1h0m0 5.6h0m0 18.5h0m0-23.3h0m0 9.4h0m.1-15.3h0m0 31.9h0m0 .6h0m.1-.9h0m0-17.6h0m0 5.6h0m0-2.1h0m0 15.5h0m0-19.6h0m0 3.3h0m0 7.1h0m0-9.3h0m0 13.3h0m0-27.8h0m0 28.5h0m.1-32.3h0m0 37.8h0m0-16.7h0m0 4.4h0m0-23.8h0m0 33.5h0m.1-29.3h0m0 27.2h0m0-21h0m0 8.5h0m0 20.3h0m0-37.2h0m0 34.3h0m0-30.8h0m.1 3.1h0m0 19.7h0m0-21.3h0m0 32.3h0m0-15.5h0m0-4.4h0m0 19.6h0m.1-2.5h0m0-24.8h0m0 .4h0m0 16.5h0m0 10.1h0m0 .9h0m.1-15.9h0m0 .4h0m0-11.9h0m0 2.1h0m0 11.8h0m.1 14h0m0-24.6h0m0-24.1h0m0 24.5h0m0 22.5h0m.1-6.8h0m0-3.4h0m0-28.5h0m0 29.3h0m.1-9.7h0m0 4.8h0m0 9.3h0m0-15.8h0m0-8.1h0m.1-5.9h0m0 6.9h0m0 25.1h0m0-11.2h0m0-2.8h0m0-3.6h0m0-1.6h0m0 1.5h0m0 7.8h0m0-.4h0m.1-20.4h0m0 43.6h0m0-16.9h0m0 5.7h0m0-28.4h0m0 2.3h0m0 37.1h0m.1-22.9h0m0-31.8h0m0 32.3h0m0-16.1h0m0-18.4h0m0 22.4h0m0-1.3h0m0 5.6h0m0 .5h0m0 16.3h0m.1-7.8h0m0 12.2h0m0-32.7h0m0 37.2h0m0-16.3h0m0-21.8h0m0 7.8h0m.1-.9h0m0 12.8h0m0-7.4h0m0 7.8h0m0 13.4h0m0-13.5h0m0 21.4h0m0 1h0m0-53.3h0m0 18.8h0m.1 0h0m0-14.1h0m0 9.7h0m0-9h0m0 50.9h0m0-24.7h0m0 30.5h0m0-5.7h0m.1 35.3h0m0-52.2h0m0 52.2h0m0 .3h0m0-70.1h0m0 17.3h0m0 52.7h0m0-91.9h0m0 91.2h0m0-25.4h0m0-33.2h0m0 15.3h0m0-10.8h0m0 46.6h0m0-43.7h0m0 44.4h0m0 7.4h0m0-27h0m.1-18.7h0m0 6.3h0m0-42.8h0m0 35.9h0m0 46.6h0m0-76.4h0m0 75.8h0m0-9.7h0m0-20.2h0m0-27.2h0m0 57.3h0m0-79h0m0 8.2h0m0 3.3h0m.1-20.3h0m0 29.9h0m0 49.9h0m0-29.1h0m0 36.4h0m0-87.5h0m0 87.8h0m0-70.4h0m0 70.3h0m0-62.8h0m0 63.2h0m0-26h0m0-38.4h0m0 44.3h0m0-21.3h0m0 41.1h0m0-31.6h0m0 .3h0m0 32.2h0m0-70.6h0m0 2.8h0m.1 67.1h0m0-70.6h0m0 1.7h0m0 14.7h0m0-38.2h0m0 92.9h0m0-32h0m.1-31.2h0m0 29h0m0-3.9h0m0-23.3h0m0-15.6h0m0 12.5h0m0 63.7h0m0 .6h0m0-61.6h0m0-33.6h0m0 37.4h0m0 .6h0m0-1.6h0m0 1.1h0m0-14.3h0m0 25.5h0m.1-30.8h0m0-11.6h0m0 66.8h0m0-57.1h0m0 37.4h0m0-23.9h0m0 39.3h0m0-14.3h0m.1-34.2h0m0 75.2h0m0-3.6h0m0-7.7h0m0-3.6h0m0-48.9h0m0-12.8h0m0 14.4h0m0-12h0m0 24.6h0m0 15.3h0m0-3.2h0m0-18.7h0m0 50.7h0m0-31.3h0m0 4.7h0m.1-53.8h0m0 85.6h0m0-69.6h0m0-16h0m0 84.9h0m0-64.3h0m0 11.2h0m0-9.7h0m.1-1.3h0m0 64.8h0m0-9.6h0m0 9.8h0m0-58.6h0m0 12.5h0m0 13.2h0m0 7.1h0m0-14.6h0m0-15.8h0m0 55.6h0m0-73.9h0m0 74.1h0m0-19.5h0m0-50.4h0m0 20.6h0m0 49.1h0m0-78.2h0m.1 13.1h0m0-6.4h0m0 43.5h0m0-38h0m0 2.7h0m0 49.6h0m0-58.7h0m0 61.9h0m0-61.2h0m.1 46.5h0m0 4h0m0 20.9h0m0-58.7h0m0 29.4h0m0-15.4h0m0-30.2h0m0 9.8h0m0 48h0m0-55.4h0m0 6.9h0m0 15.1h0m0 21.8h0m0-2.7h0m0-22h0m0-8.9h0m0 63.1h0m0-95.3h0m0 32h0m0 15.1h0m0 47.4h0m0-66.8h0m.1 48.7h0m0-48.6h0m0 5.3h0m0 12.2h0m0 49.9h0m0-67.3h0m0-8h0m0 43.6h0m0-34.1h0m0 65.8h0m0-81.5h0m0 65.6h0m0-65.2h0m0 80.4h0m0-82.9h0m0 71.8h0m0-20.7h0m.1-2.9h0m0 27.7h0m0-44.2h0m0-33.7h0m0 24.1h0m0 60.9h0m0 .5h0m0-.4h0m0-53.5h0m0 30.4h0m0-1.6h0m0 25.2h0m0-15.2h0m0 15.4h0m0-.1h0m0-47.9h0m0-28.1h0m0 4.3h0m0 71.6h0m0-80.8h0m0 17.4h0m0-3.8h0m.1-11h0m0-7.4h0m0 86h0m0-85.5h0m0 12.7h0m0 10h0m0 61.8h0m0-49.9h0m0-19.7h0m0 11.3h0m.1-18.5h0m0 77.2h0m0-64.5h0m0 64.7h0m0-11.2h0m0-71.9h0m0 83h0m0-17.6h0m0-30.9h0m0-17.3h0m0 59.4h0m0-27.6h0m.1-4.8h0m0 33h0m0-74.4h0m0 2.9h0m0 76.7h0m0-27.6h0m0-39.5h0m0 18.2h0m0-21.9h0m0 23.3h0m0-46.6h0m0 24.8h0m0 21.8h0m0-14.5h0m0 37.4h0m0-57.8h0m0 40.4h0m.1 42.8h0m0-47.7h0m0 23h0m0-21.8h0m0-.1h0m0 36.2h0m0-53.2h0m0 15.5h0m0 43h0m0-70.6h0m0-19.6h0m0 75.3h0m.1-53.3h0m0 10.5h0m0-.6h0m0 63.2h0m0 .1h0m0-74.7h0m0 10.7h0m0 53h0m0-51.6h0m0 10.4h0m0 52h0m.1-60.6h0m0-20h0m0 77.6h0m0-75.1h0m0 72.4h0m0-82.3h0m0 61.8h0m0-4.8h0m.1 26.9h0m0-6.2h0m0-56.8h0m0-3.4h0m0 31.6h0m0-52.5h0m0 10.1h0m0 81.9h0m0-.4h0m0-86.6h0m0 25.2h0m0-14.2h0m0 32.1h0m.1-26h0m0 3.7h0m0 65.6h0m0-4.6h0m0-85.9h0m0 2h0m0 39.7h0m0-20.8h0m0 20.3h0m0-29.4h0m0 2.3h0m0 28.8h0m.1-1.9h0m0 49.4h0m0-53.5h0m0-.4h0m0-10.7h0m0 64.8h0m0-.2h0m0 .5h0m0-.5h0m0-54.4h0m0 55h0m0-52.7h0m0 43.1h0m.1-82.1h0m0 30.1h0m0-14.8h0m0 .7h0m0 75.7h0m0-71.5h0m0 65.2h0m0-66.1h0m0 44.9h0m0 27h0m0-86.4h0m0 86.8h0m0-6.7h0m0-36.1h0m0-13.5h0m.1 0h0m0-6.1h0m0 62.3h0m0-38.8h0m0-25.1h0m0 39.8h0m0-40.5h0m0-11.2h0m0 1.7h0m0 46.3h0m.1 21.6h0m0 1.8h0m0-63.1h0m0 61.8h0m0-44.2h0m0 44.8h0m0-12.2h0m0-8.3h0m0 22.2h0m0-62.3h0m0 65.5h0m0-53.1h0m0-16.4h0m0 15.3h0m0-18h0m0 68.9h0m0-91.8h0m.1 32.7h0m0 62.6h0m0-45.8h0m0-49.5h0m0 25.1h0m0 21.6h0m0-29.2h0m0 17.7h0m0 48h0m0 12.2h0m0-75.5h0m0 3.6h0m0 58.2h0m0-64.2h0m0 68.9h0m.1-77.9h0m0 16.2h0m0 42.4h0m0-23.1h0m0-28.3h0m0 78.9h0m0-34h0m0 27.2h0m0-19.7h0m.1-40.4h0m0 26.1h0m0-28.9h0m0 70.6h0m0-73.4h0m0 9.4h0m0 52.3h0m0-46.2h0m0-4.9h0m.1 15.3h0m0 14.6h0m0-51h0m0 31.3h0m0 7.8h0m0 31.5h0m0-13.4h0m0 .8h0m0-35.4h0m0 13.3h0m0-29.7h0m0-9.7h0m0 29.8h0m0 7.7h0m.1-28.1h0m0-6.7h0m0 84.5h0m0-90h0m0 9.1h0m0-6.1h0m0 21.7h0m0-.3h0m0 56.6h0m0-24.7h0m0 9.4h0m0 9.2h0m0 5.8h0m0-63.9h0m.1 73.4h0m0-39.7h0m0-32.8h0m0 31.6h0m0 40.9h0m0-51.7h0m0-9.2h0m0-11.4h0m0 71.7h0m0-58.3h0m0-20.1h0m.1 17.5h0m0 58.3h0m0-38.7h0m0-23.5h0m0 39.8h0m0 8.6h0m0 16.5h0m0-62.5h0m.1-7.5h0m0 16h0m0 9.8h0m0-36.5h0m0 7.7h0m0 12.3h0m0-22.8h0m0 2.2h0m0 61.4h0m.1-34.2h0m0 2.2h0m0-34.9h0m0 5.6h0m0 64h0m0-68.4h0m0 85.4h0m0-57.4h0m0 13.6h0m0-29.7h0m.1 4.2h0m0 67.4h0m0 2h0m0-33.4h0m0-48h0m.1-7.2h0m0 38.4h0m0-6h0m0-6.6h0m0-8.6h0m0 46.8h0m0-62.4h0m0 60.9h0m0-42.6h0m.1 20.9h0m0-9.3h0m0-15.6h0m0-12.1h0m0 43.9h0m0-14.6h0m0 17.6h0m.1-35.3h0m0-2.5h0m0 11.8h0m0-3.6h0m0-9h0m0 24.7h0m0-20.7h0m0 4.5h0m0 13.1h0m0-19.1h0m0 27.5h0m.1-24.4h0m0-3.1h0m0 38.9h0m0 .7h0m0-34h0m0-8.4h0m0 17.4h0m.1-24h0m0 15h0m0 8.2h0m0-16.1h0m0 2.1h0m.1 8.9h0m0-14.1h0m0 33.2h0m0-23.6h0m.1-16.5h0m0 13.9h0m0 2.1h0m0 3.5h0m0 7h0m0-17.6h0m0-6.4h0m0-11.1h0m0 32h0m.1 2.4h0m0-27h0m0 16.4h0m0-13.3h0m0 4.4h0m0 35.9h0m0 1.6h0m.1-36.3h0m0 32.2h0m0-29.5h0m0-12.9h0m0 9.8h0m0 11.1h0m0-13.7h0m.1 26.1h0m0-38.5h0m0 28.3h0m0-9.7h0m0 12.6h0m0 5.4h0m0-34.8h0m.1 31.6h0m0-13.9h0m0 10.1h0m0-10.2h0m0 25.4h0m0-23.2h0m0-11.6h0m0-.2h0m0 18.6h0m.1 1.2h0m0 6.7h0m0-10.2h0m0 19.2h0m0-32h0m0 30.9h0m.1-30.5h0m0 6.4h0m0 12.4h0m0-11.2h0m0-.6h0m0 1.1h0m.1 10.8h0m0-21.8h0m0 21.3h0m0 .4h0m.1-4.6h0m0-5.2h0m0 11.1h0m0-12.7h0m0-7.4h0m0 26.4h0m0-26.1h0m0 16h0m.1 8.5h0m0-16.2h0m0-1.3h0m0 23.6h0m0-21.2h0m0 3.8h0m0 5h0m.1-6.3h0m0 9.3h0m0-28h0m0 36.2h0m0-2.6h0m0-16.9h0m0 2.3h0m0-5.6h0m0 18.4h0m.1-13.3h0m0 5.1h0m0-21.5h0m0 17.7h0m.1-17.7h0m0 26.4h0m0-17h0m.1-7.5h0m0 1.6h0m0 8.6h0m0-7.3h0m0 3.8h0m0-9h0m0 15.5h0m0 3.4h0m.1 12.6h0m0-17.7h0m0 13.4h0m0-13.3h0m.1 1.6h0m0 14h0m0-6h0m0-19.5h0m0 21.4h0m.1-16.3h0m0 4.9h0m0-4.4h0m0 3.4h0m.1 .2h0m0-2.9h0m0-4.5h0m0 3.3h0m0 10.5h0m0-8.2h0m.1 .3h0m0 15.9h0m0 .5h0m0-6.6h0m.1-3.1h0m0 2h0m0-11.5h0m0 10h0m0 .4h0m0-10.2h0m.1-1.6h0m.1 15.4h0m0-4.5h0m.1-7.6h0m0 8.8h0m.1-7.9h0m0 3.9h0m0 1h0m.1-3.6h0m0-2h0m0 3.1h0m.1 6.4h0m0-4.5h0" stroke="#a65628" stroke-width="0.9" stroke-linecap="round" fill="none" stroke-opacity="0.75"/>
<path d="M28 346.2H60.5" stroke="#e41a1c" stroke-width="1.6"/>
<path d="M34 340.4H60.5" stroke="#e41a1c" stroke-width="1" stroke-dasharray="1.3 1"/>
<path d="M82 346.2H115.5" stroke="#377eb8" stroke-width="1.6"/>
<path d="M88 340H115.5" stroke="#377eb8" stroke-width="1" stroke-dasharray="1.3 1"/>
<path d="M134.5 346.2H169" stroke="#4daf4a" stroke-width="1.6"/>
<path d="M140.5 340.8H169" stroke="#4daf4a" stroke-width="1" stroke-dasharray="1.3 1"/>
<rect x="196.5" y="273.2" width="26.5" height="73" fill="#984ea3" fill-opacity="0.5" stroke="#984ea3" stroke-width="1"/>
<path d="M209.8 273.2V251.4M203.2 251.4H216.2" stroke="#984ea3" stroke-width="1" fill="none"/>
<path d="M196.5 295.7H223" stroke="#984ea3" stroke-width="1"/>
<path d="M196.5 307.4H223" stroke="#984ea3" stroke-width="1" stroke-dasharray="1.3 1"/>
<path d="M188.5 346.2H223" stroke="#984ea3" stroke-width="1.4"/>
<rect x="250.5" y="278.6" width="27" height="67.6" fill="#ff7f00" fill-opacity="0.5" stroke="#ff7f00" stroke-width="1"/>
<path d="M264 278.6V253.7M257.5 253.7H270.5" stroke="#ff7f00" stroke-width="1" fill="none"/>
<path d="M250.5 321.3H277.5" stroke="#ff7f00" stroke-width="1" stroke-dasharray="1.3 1"/>
<path d="M242.5 346.2H277.5" stroke="#ff7f00" stroke-width="1.4"/>
<rect x="304.5" y="274.7" width="27" height="71.5" fill="#a65628" fill-opacity="0.5" stroke="#a65628" stroke-width="1"/>
<path d="M318 274.7V250.6M311.5 250.6H324.5" stroke="#a65628" stroke-width="1" fill="none"/>
<path d="M304.5 304.2H331.5" stroke="#a65628" stroke-width="1"/>
<path d="M304.5 309.7H331.5" stroke="#a65628" stroke-width="1" stroke-dasharray="1.3 1"/>
<path d="M296.5 346.2H331.5" stroke="#a65628" stroke-width="1.4"/>
</g>
<text x="21" y="357.7" font-size="10">Exhaustion/</text>
<text x="21" y="370" font-size="10">cell-cycle</text>
<text x="76.5" y="357.7" font-size="10">Exhaustion/</text>
<text x="76.5" y="370" font-size="10">heat shock</text>
<text x="76.5" y="382.3" font-size="10">protein</text>
<text x="132.5" y="357.7" font-size="10">Exhaustion</text>
<text x="194" y="357.7" font-size="10">Memory/</text>
<text x="194" y="370" font-size="10">effector</text>
<text x="234" y="357.7" font-size="10">Early activated</text>
<text x="234" y="370" font-size="10">cells</text>
<text x="301.5" y="357.7" font-size="10">Memory/</text>
<text x="301.5" y="370" font-size="10">effector</text>
<text x="172" y="390" font-size="14.5" text-anchor="middle">GSE120575</text>
</g>
<g id="D">
<text x="9.3" y="414.8" font-size="14">D</text>
<rect x="29.4" y="416.6" width="316.6" height="66.9" fill="#fff" stroke="#000" stroke-width="1.5"/>
<text x="24.8" y="483.3" font-size="9.5" text-anchor="end">0</text>
<text x="24.8" y="468.4" font-size="9.5" text-anchor="end">1</text>
<text x="24.8" y="453.5" font-size="9.5" text-anchor="end">2</text>
<text x="24.8" y="438.6" font-size="9.5" text-anchor="end">3</text>
<text x="24.8" y="423.7" font-size="9.5" text-anchor="end">4</text>
<text x="18" y="452.5" font-size="9.5" text-anchor="middle" textLength="69" lengthAdjust="spacingAndGlyphs" transform="rotate(-90 18 452.5)">IL7R Expression</text>
<rect x="51.8" y="454" width="74.9" height="26" fill="none" stroke="#b2182b" stroke-width="1.3"/>
<path d="M51.8 480.3H126.7" stroke="#b2182b" stroke-width="2.2"/>
<path d="M89.4 418.4C89.6 428 91.5 440 91.5 447C91.5 455 90 465 89.4 471.5C88.8 465 87.3 455 87.3 447C87.3 440 89.2 428 89.4 418.4Z" fill="#b2182b"/>
<path d="M150 480.3H225.8" stroke="#fcf4c4" stroke-width="2.2"/>
<path d="M187.9 425.8V471.5" stroke="#fcf4c4" stroke-width="1.2"/>
<path d="M249.5 480.3H324.4" stroke="#f8e08e" stroke-width="2.4"/>
<path d="M287 431.6V473.7" stroke="#f8e08e" stroke-width="1.8" stroke-dasharray="6 1 10 0.8 14 0.6 20"/>
<path d="M89.3 484V487" stroke="#000" stroke-width="1"/>
<text x="92" y="496" font-size="10.3" text-anchor="middle">Non-exhausted</text>
<path d="M188 484V487" stroke="#000" stroke-width="1"/>
<text x="190.7" y="496" font-size="10.3" text-anchor="middle">Terminal Tex</text>
<path d="M287 484V487" stroke="#000" stroke-width="1"/>
<text x="289.7" y="496" font-size="10.3" text-anchor="middle">Proliferative</text>
<text x="72" y="511.3" font-size="10.3" text-anchor="middle">Cluster</text>
<text x="144.6" y="511.3" font-size="10.3" text-anchor="middle">Non-exhausted</text>
<text x="219.2" y="511.3" font-size="10.3" text-anchor="middle">Terminal Tex</text>
<text x="296.9" y="511.3" font-size="10.3" text-anchor="middle">Proliferative</text>
<text x="75" y="524.6" font-size="10.3" text-anchor="middle">Cell Percentage</text>
<text x="135.4" y="524.6" font-size="10.3" text-anchor="middle">0.381</text>
<text x="218.2" y="524.6" font-size="10.3" text-anchor="middle">0.13</text>
<text x="292.3" y="524.6" font-size="10.3" text-anchor="middle">0.13</text>
<text x="75" y="537" font-size="10.3" text-anchor="middle">Expression Mean</text>
<text x="141.5" y="537" font-size="10.3" text-anchor="middle">0.9152692</text>
<text x="218.7" y="537" font-size="10.3" text-anchor="middle">0.2418988</text>
<text x="292.8" y="537" font-size="10.3" text-anchor="middle">0.2237151</text>
<text x="73.6" y="550.2" font-size="10.3" text-anchor="middle">Expression Sd</text>
<text x="141" y="550.2" font-size="10.3" text-anchor="middle">1.2605846</text>
<text x="218.7" y="550.2" font-size="10.3" text-anchor="middle">0.6928983</text>
<text x="292.8" y="550.2" font-size="10.3" text-anchor="middle">0.6221444</text>
<path d="M36.8 514.5H330.6" stroke="#999" stroke-width="0.8"/>
<path d="M36.8 527H330.6" stroke="#999" stroke-width="0.8"/>
<path d="M36.8 539.5H330.6" stroke="#999" stroke-width="0.8"/>
<path d="M36.8 552.3H330.6" stroke="#999" stroke-width="0.8"/>
<text x="175.3" y="577.3" font-size="14.5" text-anchor="middle">GSE179994</text>
</g>
<g id="H">
<text x="14" y="604.3" font-size="14">H</text>
<text x="146.7" y="604.6" font-size="15.1" text-anchor="middle" textLength="110.6" lengthAdjust="spacingAndGlyphs">Jurkat Activation</text>
<path d="M28.1 615.8V780.8H291.3" stroke="#000" stroke-width="1.3" fill="none"/>
<path d="M24.5 617.8H28.1" stroke="#000" stroke-width="1.2"/>
<text x="24" y="621" font-size="9.5" text-anchor="end" textLength="21.3" lengthAdjust="spacingAndGlyphs">1024</text>
<path d="M24.5 691.4H28.1" stroke="#000" stroke-width="1.2"/>
<text x="24" y="694.6" font-size="9.5" text-anchor="end">32</text>
<path d="M24.5 766.5H28.1" stroke="#000" stroke-width="1.2"/>
<text x="24" y="769.7" font-size="9.5" text-anchor="end">1</text>
<text x="9.5" y="695" font-size="9.5" text-anchor="middle" textLength="140" lengthAdjust="spacingAndGlyphs" transform="rotate(-90 9.5 695)">The Relative Expression of mRNA</text>
<rect x="35.8" y="766.5" width="11.8" height="14.3" fill="#92278f" stroke="#000" stroke-width="1.3"/>
<rect x="55.2" y="762.4" width="11.8" height="18.4" fill="#1fa29c" stroke="#000" stroke-width="1.3"/>
<path d="M61.1 762.4V761.2M58.1 761.2H64.1" stroke="#000" stroke-width="1.5" fill="none"/>
<rect x="74.1" y="758.8" width="11.8" height="22" fill="#f39c1f" stroke="#000" stroke-width="1.3"/>
<path d="M80 758.8V755.8M77 755.8H83" stroke="#000" stroke-width="1.5" fill="none"/>
<rect x="93" y="773.2" width="11.8" height="7.6" fill="#ea4a4a" stroke="#000" stroke-width="1.3"/>
<path d="M98.9 773.2V771.8M95.9 771.8H101.9" stroke="#000" stroke-width="1.5" fill="none"/>
<rect x="125.2" y="766.5" width="11.8" height="14.3" fill="#92278f" stroke="#000" stroke-width="1.3"/>
<rect x="144.1" y="748.1" width="11.8" height="32.7" fill="#1fa29c" stroke="#000" stroke-width="1.3"/>
<path d="M150 748.1V746M147 746H153" stroke="#000" stroke-width="1.5" fill="none"/>
<rect x="163.5" y="764.5" width="11.8" height="16.3" fill="#f39c1f" stroke="#000" stroke-width="1.3"/>
<path d="M169.4 764.5V760.9M166.4 760.9H172.4" stroke="#000" stroke-width="1.5" fill="none"/>
<rect x="182.4" y="742.5" width="11.8" height="38.3" fill="#ea4a4a" stroke="#000" stroke-width="1.3"/>
<path d="M188.3 742.5V740.4M185.3 740.4H191.3" stroke="#000" stroke-width="1.5" fill="none"/>
<rect x="214.1" y="766.5" width="11.8" height="14.3" fill="#92278f" stroke="#000" stroke-width="1.3"/>
<rect x="233.5" y="670.4" width="11.8" height="110.4" fill="#1fa29c" stroke="#000" stroke-width="1.3"/>
<path d="M239.4 670.4V667.4M236.4 667.4H242.4" stroke="#000" stroke-width="1.5" fill="none"/>
<rect x="252.4" y="678.6" width="11.8" height="102.2" fill="#f39c1f" stroke="#000" stroke-width="1.3"/>
<path d="M258.3 678.6V677.4M255.3 677.4H261.3" stroke="#000" stroke-width="1.5" fill="none"/>
<rect x="271.3" y="620.4" width="11.8" height="160.4" fill="#ea4a4a" stroke="#000" stroke-width="1.3"/>
<path d="M277.2 620.4V616.8M274.2 616.8H280.2" stroke="#000" stroke-width="1.5" fill="none"/>
<path d="M35.8 747.6H103.7" stroke="#000" stroke-width="1.3"/>
<text x="70" y="744.3" font-size="10" text-anchor="middle">****</text>
<path d="M125.2 733.8H194.2" stroke="#000" stroke-width="1.3"/>
<text x="159.4" y="730.3" font-size="10" text-anchor="middle">****</text>
<path d="M216.7 613.7H282.6" stroke="#000" stroke-width="1.3"/>
<text x="249.9" y="610" font-size="10" text-anchor="middle">****</text>
<rect x="42" y="620.4" width="10.5" height="4" fill="#92278f" stroke="#000" stroke-width="1"/>
<text x="58.8" y="625.6" font-size="9.5">DMSO</text>
<rect x="42" y="633.2" width="10.5" height="4" fill="#1fa29c" stroke="#000" stroke-width="1"/>
<text x="58.8" y="638.4" font-size="9.5">PMA</text>
<rect x="42" y="646" width="10.5" height="4" fill="#f39c1f" stroke="#000" stroke-width="1"/>
<text x="58.8" y="651.2" font-size="9.5">IONO</text>
<rect x="42" y="658.7" width="10.5" height="4" fill="#ea4a4a" stroke="#000" stroke-width="1"/>
<text x="58.8" y="663.9" font-size="9.5">PMA/IONO</text>
<text x="71" y="793.8" font-size="9.5" text-anchor="middle">IL7R</text>
<text x="163.5" y="793.8" font-size="9.5" text-anchor="middle">HAVCR2</text>
<text x="252" y="793.8" font-size="9.5" text-anchor="middle">PDCD1</text>
</g>
<g id="I">
<path d="M28.4 836V972" stroke="#f3f3f3" stroke-width="1"/>
<path d="M136 836V972" stroke="#f3f3f3" stroke-width="1"/>
<path d="M2 849.5H143.4" stroke="#f3f3f3" stroke-width="1"/>
<path d="M2 876H143.4" stroke="#f3f3f3" stroke-width="1"/>
<path d="M2 930H143.4" stroke="#f3f3f3" stroke-width="1"/>
<path d="M2 956.8H143.4" stroke="#f3f3f3" stroke-width="1"/>
<path d="M82.4 836.3V972M2 903H143.4" stroke="#8e8e8e" stroke-width="0.8" fill="none"/>
<path d="M11.7 896.8h0m.5 3.2h0m.7-.2h0m.1-4.8h0m.9 7.6h0m0-3.8h0m.4 4.7h0m.6-5.6h0m.3 6.9h0m.2-.8h0m.1-1.2h0m0-5.1h0m.1 4.7h0m.4-5.2h0m.2 4.8h0m.2-7.4h0m.1 11.9h0m0-12.6h0m.1 6h0m.2 8.7h0m.3-12h0m.1 10.6h0m.2-14.5h0m0 12h0m.3-2.9h0m0-2.2h0m.2 5.3h0m.1-2.1h0m.2-4.9h0m.1 8.9h0m.1-8.9h0m.1 5.3h0m0 3.1h0m.1 1.8h0m0-6.8h0m.2 6.4h0m.1-7h0m0-6.4h0m.1 6.8h0m.1-2.3h0m.1-.8h0m0 8.4h0m0-4h0m.1 4.8h0m.2 0h0m.1-5.8h0m0 7.3h0m0-1.6h0m.2-6.5h0m0 1.7h0m.2 6.7h0m.2-9h0m0-4.2h0m.1 5.3h0m.2-1.7h0m.2 6.3h0m0-6.4h0m.1 8h0m.3-8.3h0m.4-1.4h0m.1 2.2h0m.3-.9h0m0 8.7h0m.1-11h0m.3-5.2h0m.2 18.7h0m.1-12.9h0m.2 1h0m.1-.3h0m.1-7.7h0m.2 2h0m.1 4.2h0m.1-.1h0m.1 13.2h0m.5-21.9h0m.8 10.7h0m0-.9h0m.2-1.4h0m.2 16.1h0m.1-18.9h0m.1 .8h0m0 7.2h0m.1-8.9h0m.4 4.5h0m0-5h0m.1 2.8h0m.1 1.4h0m.1-1.2h0m0 19.7h0m.3-14.7h0m.1-.7h0m.1 6.3h0m.1-13.2h0m.1-.3h0m0 11.3h0m0 4.2h0m.1-11.9h0m0 1.5h0m0 18.2h0m.1-3.2h0m.1-18.6h0m0 1.1h0m.1 19.2h0m0-9.4h0m.1-4.4h0m0 .4h0m0-2.8h0m.1 6.9h0m0-2.4h0m.1-9h0m0 1h0m.1 .1h0m0 14.5h0m.1 1.2h0m.2 1h0m0 4.1h0m0-23.3h0m.1 3.1h0m0 12.5h0m.1-10.9h0m.1 8.8h0m.1 .6h0m0-9.3h0m0 20.3h0m.1-4.7h0m0-14.8h0m.1-2.4h0m.1-.2h0m.1 1.6h0m.1 8h0m0 8.9h0m0-16.6h0m0-.4h0m.1 10.8h0m.1-14.3h0m0 12.6h0m0 3.3h0m0-8.9h0m.2-6.8h0m0 2.9h0m.1-2.7h0m0 9.9h0m.1 4.4h0m.2 1.1h0m0-10.2h0m.1 9.1h0m0 8.5h0m0-18.7h0m.1 17.6h0m.1-9.6h0m.2-7.8h0m0 8.3h0m0 4.1h0m0-8.4h0m.1 8.9h0m0-3.5h0m.1-8.6h0m.1 9.8h0m0 3.1h0m.1-18.9h0m0 16.5h0m0-1.8h0m0 3.5h0m.1 .4h0m0-5.7h0m0-7.1h0m.1 .5h0m.3 11.9h0m0-20.6h0m0 5.7h0m.1 12.9h0m.1 4.3h0m.1-16.1h0m0 8.6h0m.1-13.1h0m0 5.4h0m0-3.4h0m0 20h0m0-16.4h0m.1 5.7h0m.1 3.7h0m.2 2.3h0m0 6.9h0m.1-3h0m0-.7h0m0-1.8h0m.1-1.3h0m0 1.9h0m0-.7h0m.1 4.7h0m.1-7.4h0m.1-15.7h0m0-2.9h0m0 10.3h0m.1-7.4h0m.2 24.6h0m.1-28.6h0m0 23.9h0m0 4.5h0m0-8.8h0m.2-11.9h0m0 .4h0m0-7.5h0m.1 15.3h0m.1 5.8h0m0-23.7h0m0 2.5h0m.1 18.6h0m0 8.9h0m0-6.5h0m.1 2.4h0m.1-2.4h0m0-16.8h0m.1 4.1h0m0 19.7h0m.1-2.1h0m.1-25.7h0m.1 9.5h0m0-8.3h0m0-2.4h0m.1 21.1h0m.1-18.1h0m0 13.6h0m.1 11.8h0m.1-18.8h0m0-8.3h0m0 26.9h0m.1-18h0m0 14.2h0m.1-6.4h0m.2-9.5h0m0 8.6h0m0-2.9h0m.1-1.7h0m0 6.8h0m.1-19h0m0-1h0m.2 13.4h0m0-13.4h0m.1 13.4h0m.1 .4h0m0-6.5h0m0 9.8h0m.1-3.5h0m0 15.9h0m0-15.2h0m0 9.4h0m0-23.6h0m.1 27.7h0m0-16h0m.3 9.6h0m0 0h0m0-10h0m0 5.8h0m.1 7.4h0m0-14.1h0m.1 7.8h0m0-4.3h0m0-5.4h0m.1 9.8h0m0-19.1h0m0 5.6h0m0 13.1h0m.1-1.3h0m0-11h0m.1 7.9h0m.1 5.3h0m0 .8h0m0-9.8h0m0-2.1h0m.1 9h0m.1-15.6h0m.1 17.2h0m0 6.9h0m.1-13h0m0-11h0m0 15h0m0-17.8h0m0 17h0m.1-4h0m0 4.5h0m.1 5.5h0m.1-22.9h0m0 18.9h0m0-9.2h0m.1 .8h0m.1 8.8h0m0-13.4h0m0-3.6h0m0 7.6h0m.1-8.7h0m0 11.2h0m.1-4.5h0m0 3.8h0m0-2.2h0m0 11.5h0m0 7.7h0m.1-11.4h0m0-7.6h0m0 2.9h0m0-1.7h0m0 18.4h0m0 2.3h0m.1-9.4h0m.1-20.3h0m0 17.2h0m0 .2h0m.1-5.1h0m0-.4h0m.1 3.6h0m.1-3.2h0m0-9.1h0m0 17.7h0m.2-7.1h0m.2-7.1h0m.1 14.2h0m0-19.1h0m0 18.3h0m0-18.8h0m.1-.1h0m.1 9.4h0m.1 12.5h0m0-6.3h0m.1 13.3h0m0-12.7h0m.2 2.8h0m.1-13.5h0m0 8.9h0m0-4.7h0m.1 8.1h0m.1-14.4h0m0 17.4h0m.1-20.5h0m.1 18.8h0m0-22.5h0m.3 4.4h0m0-3.2h0m0 18.4h0m.1 .3h0m.1-5.9h0m0 7h0m0-17.6h0m0 31h0m.1-32.2h0m.1 12h0m0-13.6h0m0 9.9h0m.2 8.9h0m0-15.4h0m0-3.1h0m0 17.6h0m0 15h0m.1-11.3h0m.1-16.3h0m0-.4h0m0 22h0m.1-7.1h0m0 1.9h0m0-6.2h0m.1-7.7h0m0 20h0m.1 1h0m0-28.6h0m.1 25.4h0m0-1.2h0m0 8.2h0m.1-10.9h0m0-5.8h0m0 11.6h0m.1 4.2h0m0-22.2h0m.1 25.3h0m0-34.9h0m.1 17.9h0m.1-4h0m.2-3h0m.3 7.5h0m0 16.9h0m0-17.3h0m.1-13h0m0 16.8h0m.1 14.2h0m0-9.6h0m0-5.4h0m.2-22.6h0m0-1.5h0m.1 12.6h0m0-12.8h0m0 21.1h0m0-17h0m0 9.1h0m0 20.7h0m.1-30.1h0m0 32.7h0m0-31.1h0m.1 18.9h0m.1-19.5h0m0 16.8h0m.1-11h0m0 4.2h0m.1-2.8h0m0-12.5h0m0 35.5h0m.1-34.3h0m0 27.7h0m0-10.9h0m0 15.5h0m0-26.9h0m.1 33.7h0m0-32.1h0m.1 32.3h0m0-25.9h0m.1 11.7h0m0 11.3h0m.1-5.3h0m.1-1.7h0m.1-14.3h0m.1 11.3h0m.2-.9h0m0-8h0m0 12.6h0m.1-5.7h0m0 1.1h0m0 8.7h0m0-9.1h0m.1 1.3h0m.1 6.4h0m0-29h0m.1 .7h0m0 18.9h0m.1 16.4h0m0-27h0m.1 20.2h0m0-21.8h0m.1-3.7h0m0 4.2h0m.1-7.6h0m.1 9.7h0m0 12.8h0m.1 13.6h0m0-13.2h0m0-18.7h0m0 25h0m.1 1.6h0m0 .8h0m0-.6h0m.1 4.2h0m0-29h0m.1 14.6h0m0 6.8h0m.1-5.4h0m.1-18.5h0m0-4.3h0m.1 17.1h0m.1 17h0m0-25.8h0m.1-21.8h0m0 11.7h0m0 33.7h0m.1-34.3h0m0 16.3h0m.1 8.4h0m0-23.9h0m0 21.1h0m0-16h0m.1 19.8h0m0 7.4h0m.1-24.8h0m0-1.7h0m0 30h0m.1-24.8h0m.1 23.2h0m0-12.6h0m0 14.9h0m0-8.9h0m0 7.2h0m0-29.6h0m.2 17.8h0m0-27.5h0m.1 15.6h0m0 12.9h0m.1 1.7h0m0 2.6h0m.1 5.9h0m0-5.2h0m.1-13.6h0m0 22.8h0m.1-10.2h0m0-29.5h0m0 15.6h0m.1 2.6h0m0 13.6h0m0-27.9h0m.1 23.8h0m.1-3.7h0m0-1.2h0m0-10.9h0m.1-7.3h0m0 21.8h0m0 9.8h0m0-15h0m0-20.2h0m0 1.9h0m.1 31.8h0m0-1.9h0m0-10.3h0m0 2.8h0m.1 6.9h0m.1-33.9h0m0 34.8h0m0-7.3h0m0 10.3h0m.1-25.2h0m0-10.1h0m0 32.7h0m0 13.6h0m.2-39.2h0m0 4.9h0m.1 15.8h0m0 12.9h0m0 4.7h0m.1-49.4h0m0 26.5h0m.1 6.7h0m0-39.8h0m0 40.4h0m0 4.1h0m0-1.9h0m.1-26.8h0m0 8.7h0m0 8.7h0m.1-33.3h0m0 23h0m0 21.8h0m0-30.3h0m0-.8h0m0 31.5h0m.1-38.3h0m0 28.4h0m0-24.9h0m0 9.9h0m.2 20.7h0m0-27.9h0m.1-.3h0m0 34.2h0m.2-1.8h0m0-7h0m0-31.8h0m.1 3.9h0m0 45.1h0m.1-45.9h0m.1 31.8h0m0-20.2h0m0 16.2h0m0-13.8h0m.1 20.6h0m0-23.6h0m.1 14.8h0m0 19.7h0m0-38.7h0m.1 22.7h0m.1-21.8h0m0-6.7h0m0 31.6h0m0 6.1h0m.1-38.9h0m.1-4.7h0m0 53h0m0-9.1h0m0-3.4h0m.1 12.4h0m0-36.7h0m.1 33h0m0-10h0m0-1.3h0m0-9.6h0m0 .1h0m0-32.3h0m.1 6.1h0m0-1.1h0m0 10.9h0m.1 34h0m0-27.7h0m0 13.8h0m.1 2.2h0m0 4.1h0m0 7h0m.1-37.4h0m0 1.5h0m.1 18.8h0m0-31.3h0m0 16.5h0m.2 39.3h0m0-52.3h0m0 1.2h0m.1 51.6h0m0 .1h0m.2-5.1h0m.1-2.3h0m.1-14.8h0m.1-18.8h0m0 38.8h0m.1-18.7h0m.1-27.7h0m0-11.9h0m0 45.9h0m0-42.3h0m.1 40.8h0m0-3.5h0m0-2.6h0m.1-33.8h0m0 41.6h0m.1-42.7h0m0 50h0m0-46h0m0 43.3h0m.1 3.2h0m.1-36.3h0m.1 35.6h0m0-37.3h0m0 3.4h0m.3 21.6h0m0 9.9h0m0-28.9h0m0 28.2h0m.1-39.9h0m.1 27.8h0m0 7h0m.1-37.4h0m.1 8.6h0m0-9.4h0m.1 52h0m0-59.9h0m.1 17.6h0m0 38.8h0m0-32.6h0m0-7.3h0m.1 6h0m.1 43.4h0m0-13.4h0m0-5h0m0 4.6h0m0 1.8h0m.1-40.7h0m0 29.7h0m0 12h0m0-39.7h0m0 27.1h0m0 14.2h0m.1-18.6h0m0-18.5h0m.1 35h0m0-47.3h0m0 7.9h0m0 30.1h0m.1-19.9h0m.1 21.3h0m0-6.4h0m0 13.8h0m.1-33.1h0m0 39h0m0-20.6h0m0-14.4h0m0-24.2h0m.1 18.6h0m0 3.5h0m0 1.9h0m0 11.3h0m0-12.5h0m.1 30.5h0m0 2.7h0m0-59.3h0m0 65.2h0m.1-23.5h0m0 1.6h0m0-27.7h0m0 10.7h0m0 3.1h0m0-3.2h0m.1-14.8h0m0-2.8h0m0 13.7h0m0 1.8h0m.1-20.6h0m.1 64.1h0m0-22.6h0m0 20.2h0m0-20.8h0m.1 16.1h0m0-16.9h0m0 18.5h0m0-20.6h0m.2 21.4h0m0-32.7h0m0-4h0m0 3.7h0m.1-18.2h0m0 16.5h0m.1-25.8h0m0 41.5h0m0-32.2h0m.1 31.2h0m.1-33.3h0m0 48.6h0m.1-10.3h0m0-34.4h0m0 50.9h0m0 5.2h0m.1-23.4h0m0 7.5h0m0-5.2h0m0 1.5h0m0-7.7h0m.1-.4h0m0-29.1h0m.1 38.2h0m0-20.8h0m0-5h0m.1 34.8h0m0-14.5h0m0 2.4h0m0 7.2h0m.1-28.5h0m0-20.2h0m.1-4.5h0m0 44h0m0-42.2h0m0 59.9h0m0-33.9h0m.1-1.8h0m0-24h0m.1 64.4h0m.1-65.6h0m0 51.3h0m0-38.2h0m0-8.3h0m0 40.6h0m0-6.3h0m.1-12.8h0m0 17.2h0m.2 15.1h0m0-7.5h0m.1-42.8h0m0-3.3h0m0 54.7h0m0-36.9h0m0 .5h0m.1-9.8h0m0 33.2h0m0 1.7h0m0-24h0m0 1.1h0m.1 19.5h0m0-29.8h0m0 40.7h0m.2-32.6h0m0 19.2h0m0-.1h0m.1 1.8h0m.1-32.3h0m0 5.5h0m.1 30.7h0m.1-35h0m0 34.8h0m.1 7.2h0m0-51.9h0m0 35.3h0m0-13.7h0m0 18.5h0m.1-34.5h0m.1 33.6h0m0 23.3h0m0-24.4h0m0 15.8h0m0 11h0m0-17.2h0m0-35.9h0m.1 44.1h0m0 4.5h0m0-37.9h0m0-14.1h0m0 31.9h0m0 6h0m.1-25.3h0m0 19.2h0m0 0h0m0-17.8h0m0-2.4h0m.2 2.9h0m.1 15.6h0m0 16.1h0m0-32.1h0m.1 33.9h0m0-48.7h0m0 41.4h0m0-12.3h0m0 1.6h0m0-26.6h0m.1 11.4h0m0-29.1h0m0 50.3h0m.1-34.4h0m0 35.8h0m.1 15.4h0m0-48.6h0m0 48.1h0m0-2.2h0m0-31.2h0m.2 28.7h0m.1-42.5h0m0 44.5h0m0-15.7h0m.1-29.7h0m.1 39.6h0m.1-21.2h0m0-10h0m0 7h0m0-17.1h0m0 33.6h0m0-48.7h0m0 60.8h0m0-21.9h0m0 18.4h0m.2-41.1h0m0 44.9h0m.1-11.2h0m0-24.4h0m.1 14.1h0m0 3.9h0m0-42.7h0m0 50.2h0m.1-4.6h0m0-43h0m0 60.5h0m0-19.9h0m.1 24.7h0m0-48.7h0m.1 32.5h0m0-.3h0m.1 15.2h0m0-38.9h0m0 38.7h0m0-56.3h0m.1 8.3h0m0-13.5h0m0 33.5h0m0-19.5h0m0-9.4h0m.1 8h0m0 9.1h0m0 28.3h0m0-25.9h0m0 14.5h0m0-23.9h0m.1 31.1h0m0-45.3h0m.1-1.9h0m0 38.6h0m.1 11.4h0m.1 5.9h0m0-52.5h0m.1 18h0m0 15.3h0m0-6.2h0m0-13.3h0m.1-2.3h0m0 21.6h0m0-33h0m0 44.8h0m.1-27.6h0m0-3.3h0m0 22.8h0m0-25.9h0m0-8h0m.1 58.1h0m.2-68.9h0m0 55.2h0m0 11.1h0m.1-24.7h0m0-35.8h0m0 32.5h0m0-18.7h0m.2 32.7h0m.1 3.6h0m0-50h0m.1 57.9h0m.1-27.4h0m.1 32.5h0m0 0h0m0-6.6h0m.1-6.4h0m.2-26.8h0m0-19.7h0m0 14.3h0m0 34h0m0-39.4h0m.1 3.2h0m.1 36.4h0m0-33h0m0-13.2h0m0 7.8h0m0-7.5h0m.1 6.4h0m.1 34.2h0m0 7.5h0m.1-53.9h0m.1 57.8h0m0-42.8h0m.1-1.9h0m0 26.3h0m0-7.1h0m0-26.9h0m0 12.9h0m.1-4.8h0m0 47.5h0m0-2.5h0m.2 3.6h0m0-39.7h0m0-24.4h0m0 43.5h0m.2 15.7h0m.1-9.2h0m0-2.4h0m.1-15.3h0m0 29h0m0-58h0m.1-.8h0m0 13.7h0m.1 45.9h0m.1-46.4h0m0-11.9h0m0 32.4h0m.1-20.1h0m0 50.6h0m.1-2h0m.1-60h0m0 55.3h0m0-19.5h0m0-7h0m.1-26.5h0m0 49.2h0m.1-20.9h0m.1 22.1h0m0-52.9h0m.1 37.9h0m0 20.5h0m0-23.3h0m.1 1.9h0m0-7h0m0-19.9h0m.1-.2h0m.1 21.4h0m0 16.1h0m.1-21.4h0m0 10.5h0m0 1.7h0m0 18.6h0m.2 3h0m.1-48.1h0m.1-11.7h0m0 6.6h0m0 4.6h0m.1 30.4h0m0-5h0m.1 17.1h0m.1-23.4h0m0 17.3h0m.1-10.8h0m.1 21.1h0m.1-21.4h0m0-26.9h0m.1 1.3h0m0 1h0m0 49.6h0m.1-52.9h0m0 40.1h0m0-12.4h0m0 19.2h0m.1-41.6h0m0 6.2h0m0 14h0m0 24.5h0m.1-17.7h0m0-14.4h0m0 8.6h0m0 .7h0m0-33.5h0m0 7h0m.1-2.5h0m.1-10.8h0m0 66h0m0-4.5h0m.1-19h0m.1-18h0m0 11h0m.1-26.7h0m.1 42.8h0m.1-25.8h0m.1 9h0m0 6.1h0m0 3.8h0m0-43.4h0m0 9.4h0m.1 6.9h0m0-10.3h0m0 50.8h0m.1 6.6h0m0-52.2h0m0 22h0m0 27.5h0m.1-21.7h0m0-33.8h0m.1 15.5h0m.1 29.4h0m0-25.4h0m.1 14.8h0m0-37.1h0m0 61.3h0m0-58.2h0m.1 23.3h0m0-21.3h0m.1 29h0m0-34.1h0m0 50h0m0 2.8h0m0-13.2h0m.1 6.7h0m.1-3.1h0m0-31.8h0m0 22.3h0m0 28.2h0m.1-51.7h0m.1 1.1h0m0-13.6h0m.1 28.9h0m0 23.3h0m0 1.2h0m0 .5h0m.1-2.6h0m0 7.4h0m0-53.9h0m0 33.6h0m0 15.4h0m.2-13h0m.2-1.1h0m0-27.3h0m0 10h0m0 43h0m0-31.2h0m0 17.8h0m0 12.8h0m.1-12.3h0m0 2h0m0-10.6h0m0-40h0m.1 47.4h0m.1-29.4h0m0-22.4h0m0 45.8h0m0 4.7h0m0-30.6h0m0-18.8h0m0 39.9h0m.1-26.5h0m0 33.8h0m.1-1h0m0 11.5h0m.1-44.6h0m0-10.6h0m0 34.5h0m0-.6h0m0-25.9h0m.1 23.1h0m0 6h0m0-25.7h0m0 2.8h0m.2 8.7h0m0-16.2h0m.1 28.4h0m0 17.5h0m.1-54h0m0-1.2h0m0 46.7h0m.1 .3h0m0-29.2h0m.2-5.6h0m0-10h0m0 32.3h0m.1 13.9h0m0 3.6h0m0-39.3h0m0 8h0m0 43.8h0m0-55.6h0m.1 38.3h0m0-32.1h0m0 36.9h0m0-50.1h0m.1 54.5h0m.1 1.7h0m.1 9.5h0m0-53.7h0m0 21h0m0 9.7h0m0-14h0m0-37.2h0m.1 58.3h0m.1 12.8h0m0-64.8h0m0 55.3h0m0-22.2h0m.1-22.9h0m0 27.3h0m.1 13.4h0m0-42.9h0m0-7.1h0m0-4.3h0m.1 32.2h0m.1-21.8h0m0 30.8h0m.1 20.9h0m0-47.4h0m.4-3.3h0m0 42.6h0m0-44.7h0m.1 2.8h0m.1-13.7h0m0 69.7h0m0-40.8h0m0 26.6h0m0-15.7h0m.1 21.4h0m0-53.3h0m0 6.8h0m.1 38h0m0-16h0m.1 16.1h0m0-32.9h0m0 35.3h0m0-34.1h0m0-31.8h0m.1 42.3h0m0 17.1h0m0-7.3h0m0-14h0m.1 20h0m0-47.9h0m0-4.2h0m.1 55.4h0m0-36.4h0m0 37.2h0m0-14.6h0m0-7.1h0m.1-21.3h0m0-10.5h0m0 43.8h0m.1 20.5h0m.1-59.2h0m0 44.6h0m0 4h0m0-1h0m0-26h0m0 14.7h0m0-13.6h0m.1-13.2h0m0 40.5h0m0-42h0m0 2h0m0 50.4h0m0-13.1h0m.1-36.1h0m0-6h0m0 21.8h0m0-38.5h0m0 14.5h0m.1 16.2h0m0 23.1h0m0-33.2h0m0 14.8h0m0-26.5h0m.1 44.3h0m0-13.9h0m0-16.4h0m.1-3h0m0 14.9h0m0-16.6h0m0 2.1h0m0 48.7h0m0-46.4h0m.1 4.6h0m0-23.1h0m0 6.2h0m.1-.5h0m.1 12.9h0m0-6.1h0m.1 33.2h0m0-3.1h0m.1 5.4h0m0-14.1h0m.1 33.6h0m0-22.9h0m0-12.9h0m0-16.6h0m.1 57.3h0m0 2.4h0m0-8.4h0m.1 .7h0m0-54.9h0m0 58.4h0m0-4.8h0m.1-11.8h0m0-26.9h0m0 15.8h0m0-39.5h0m.1 31h0m0 33.7h0m0-14.6h0m0-45.6h0m.1 22.6h0m0-6.6h0m0 31.1h0m0-10.5h0m.1-16.4h0m0 41.5h0m0-57.9h0m.1-9.6h0m0 23.3h0m0 15.7h0m.1-18.2h0m0 50.7h0m0-64.6h0m.1 60.8h0m0-35h0m0-10.2h0m0-23.1h0m0 .8h0m.1 47.9h0m0 7.9h0m0-30.6h0m0-4.1h0m0 25.2h0m0-38.7h0m.1 15h0m0 26h0m0-40.6h0m.1 32.3h0m0-1.2h0m.1 24.2h0m0-1h0m0-13.2h0m0-33.3h0m0 35.8h0m.1-5.7h0m0-27.8h0m0 15.9h0m.1-38.1h0m.1 10h0m.1 47.1h0m.1-31.8h0m0 52.6h0m0-54.4h0m.1 10h0m0-22h0m0 39.2h0m.1-12.9h0m0 7.4h0m0-46.5h0m0 22.6h0m.1 54.4h0m0-41.4h0m.1-19.6h0m0 37.3h0m0-40.8h0m0 21.7h0m.1 3.5h0m0-24.1h0m0 17.5h0m0 31.2h0m0 17.7h0m0-60.8h0m.1 18.3h0m.1 20.4h0m0-62.2h0m.1 68.7h0m.1 13.1h0m0-73.4h0m.1 16.9h0m0 8.3h0m0-30.1h0m0 79.1h0m0-48.7h0m.1-8.2h0m0 54.9h0m0-51.6h0m0 12.1h0m.1-6.9h0m0-25.9h0m.1 10.7h0m0 10.7h0m0-6.2h0m0 32.4h0m0 1.3h0m.1-26.6h0m0 51.3h0m0-81.2h0m0 82.4h0m0-55.7h0m0 19.8h0m0-37.3h0m.1 38.6h0m0 30.8h0m0-19.7h0m0-56.1h0m0 55.5h0m.1 9.9h0m.1-22.9h0m0-20.9h0m.1 35.6h0m0-27.5h0m0 10.4h0m.1-.7h0m0 39.3h0m0-50h0m0-.7h0m.1 33h0m0-4.3h0m0 23.8h0m0-52.8h0m.1 52.6h0m0-27.4h0m0-39h0m0 67.4h0m.1-50h0m.2-32.2h0m0 57.3h0m0 21.8h0m0-18.6h0m.1-5h0m0 .7h0m0-1.2h0m0-54.9h0m.1-.1h0m0 29h0m.1-13.6h0m.1-1.1h0m0 50.1h0m0 10.1h0m0-33.5h0m.1 10.7h0m0-.2h0m0 25.6h0m.2-3.4h0m0-43.8h0m0 7.8h0m.1 19.5h0m0-57.2h0m.1 30.6h0m0 34.5h0m0-49.2h0m0-11.9h0m.1 59h0m0-32.6h0m0 25.6h0m0-57.5h0m0 42.4h0m.1 17.3h0m0 4.3h0m0-17.3h0m0-2h0m.1 5.7h0m0-17.2h0m0 25.7h0m.2-4.6h0m.1 5.5h0m0-43.1h0m0 23.4h0m0 9.9h0m0-9.1h0m0 4.7h0m.1-42.1h0m0-4.3h0m0 39.7h0m.1 43.4h0m0-52.4h0m0-2.2h0m.1 35.3h0m0-3.5h0m0-3.7h0m.1 6.2h0m0-12.1h0m0-23.6h0m0-1.9h0m0 20.9h0m.1-4.5h0m.1-8.7h0m0 50.1h0m0-32.6h0m.1 29.3h0m.2-81.4h0m0 8.1h0m0 51.9h0m0 .3h0m.1-18.6h0m0 12.5h0m0 15.1h0m0-10.3h0m0-21.4h0m.1 13h0m.1-37.2h0m.1 67.8h0m0-3h0m.1-1h0m.1-19.7h0m0-59.3h0m.1 37.8h0m.1 .2h0m0-18.6h0m0 22.6h0m0 18.4h0m0 24.6h0m0-65.7h0m0 47.1h0m0-57.4h0m.1 7.4h0m.1 13.4h0m0 .1h0m0 47h0m0-30.8h0m0 18.7h0m.1-22h0m0 35h0m.1-57.6h0m0-9.1h0m0 66.6h0m0-39.8h0m.1 44.8h0m0-22h0m.1-47h0m0-6.9h0m0 16.4h0m0-.6h0m0 40.3h0m.1-15.3h0m0 18.7h0m.1 20.2h0m0-2.5h0m0-44.7h0m.1-7.3h0m0 6.3h0m.1-2.7h0m0 29.2h0m0 13.8h0m0-47.7h0m0 49.6h0m0-26.7h0m.1-17.5h0m0 47.7h0m0-3.2h0m0-29h0m0 12.7h0m.1-.4h0m.1 21.2h0m0-58.7h0m0-14.9h0m0 24h0m0 1.4h0m0 47.4h0m.1-17h0m.1-21.7h0m0 9.9h0m0 18.6h0m0-23h0m0-42.1h0m0 26.4h0m.1 29.1h0m0-43.4h0m0 26.1h0m0-8.5h0m0 36.9h0m.1-1.9h0m0 1.4h0m0-8.2h0m0-27h0m0 5.2h0m0 32.1h0m.1-39.6h0m.1 39.5h0m.1-50.3h0m0-1.4h0m0-22.9h0m.1 51.2h0m0 19.3h0m0-67.6h0m0 43h0m0-18.6h0m.1-9h0m0 10.5h0m.1-.3h0m0-5.2h0m.1 16.7h0m0 8.3h0m.1 12h0m0-9.5h0m0 21.6h0m.1-44.1h0m.1 46.9h0m0-28.3h0m0-5.1h0m0 18.8h0m.1 5.7h0m0-47.8h0m0-8.5h0m0 65.4h0m0 1.9h0m.1-63.2h0m0 55.9h0m0-45.1h0m0 20.4h0m0 5.3h0m0-.2h0m0-5.3h0m.1 18.2h0m0-28h0m0 39.1h0m.1-66h0m.1 25.1h0m0-1.6h0m0 39.4h0m0-22.6h0m.1 25.6h0m0-74h0m0 44.1h0m.1 12.1h0m0-37.5h0m0 57.2h0m.1-23.9h0m.1-6.2h0m0-13.3h0m0-22.3h0m0 32h0m0 34.4h0m0-68.5h0m.2 18.5h0m0 14.9h0m0-44.9h0m0 51.6h0m0-1h0m.1 25.4h0m0-42.8h0m0 4.1h0m0 24.6h0m0-4.8h0m.1-46.9h0m0 51h0m.2-22.3h0m0-1.4h0m0 4.3h0m.1-.5h0m0 34.5h0m0-40h0m0-2.2h0m0 34.7h0m0-36.1h0m.1 55.3h0m0-63.5h0m0 23.1h0m0 32.2h0m0-18h0m.1-8.7h0m0-43.7h0m0 18.7h0m0-5h0m0-9.1h0m.1 60.4h0m0 3.8h0m0-51.6h0m.1 1.3h0m0 22.2h0m0 24.3h0m0-6.5h0m0-2.2h0m.1-46.7h0m0 48.9h0m.1-28.7h0m0 39.4h0m.1-21.5h0m0-16.6h0m0 19.7h0m.1 5.8h0m0-54.4h0m0 40.3h0m.1-24h0m0 1.6h0m0 1.6h0m.1 56.5h0m0-15.8h0m.1-9.2h0m0-49.1h0m0 62.9h0m.1-42.4h0m0 42.8h0m0-45.1h0m.1-5.6h0m0 20.9h0m0-33.5h0m0 68.1h0m.1-40.9h0m.1 22.1h0m0 1.8h0m.1-36.4h0m0 9.7h0m.3 33.3h0m.1-13.2h0m0-27.9h0m.1 45.9h0m.1-27.9h0m.1-22.1h0m0-28.2h0m0 39.5h0m.1-5.3h0m0 30.2h0m.1-23.2h0m0-13h0m0 27.2h0m0-9.3h0m.1 22.8h0m0 5.7h0m.1-45.1h0m0 4.8h0m0 2.3h0m.1-20.5h0m0 12.9h0m0-6.8h0m.1 1.3h0m0 39.1h0m0 15.2h0m.1-10.7h0m0-37.4h0m.1 45.2h0m0-18.9h0m0-14h0m0-11.5h0m.1 38.1h0m.1-24.1h0m0 17.2h0m0-23.7h0m0 39h0m0-37.8h0m0 .1h0m.1-4.3h0m0-8.2h0m0-4.4h0m0 56.8h0m0-6.1h0m.1-6.8h0m0-30.2h0m0-6.2h0m.1 54.3h0m0-68.1h0m.1 13.6h0m0 7.3h0m0 48.7h0m0-62.8h0m.1 26h0m0-11.1h0m0 20.1h0m0 10.4h0m0-26.1h0m0-16.4h0m.2 49.3h0m0 2.3h0m0-12.7h0m.1-40h0m0-20.8h0m.1 82.8h0m0-39.1h0m0-32.7h0m.1 75.2h0m0-52.5h0m0-6.9h0m0 14.7h0m.1 13.7h0m0 32.1h0m0-57.2h0m.1 4h0m0 16.2h0m0 20.5h0m.1 10.4h0m0-40h0m0 24.4h0m0-22.4h0m0-13.6h0m0 45.9h0m.1-11.2h0m0-23.6h0m0-2.6h0m.1 9.7h0m.1-26.8h0m0 17.9h0m0-7.4h0m.1 28.4h0m0-38.1h0m0-6.3h0m.1 18.8h0m0 15.9h0m0 19.7h0m0-39.9h0m0 31.8h0m0-39.9h0m.1-25.6h0m0 52.4h0m0-18h0m0 46.7h0m.1-7.9h0m.1-30.3h0m.1-20.4h0m0 31.3h0m.1-32.3h0m0 40.9h0m.1 14.4h0m0-35.8h0m0 23.7h0m0 23.9h0m.1-23.6h0m0-7.4h0m.1 15.6h0m.1 11.6h0m0-59.5h0m0 29.1h0m0 19.1h0m.1-34.9h0m.1 15.8h0m0 .5h0m0-3.5h0m.1 16.2h0m.1 6.2h0m0-41.2h0m0 23.5h0m0 29.1h0m.1-36.1h0m0 6.1h0m0 24.8h0m0-5.1h0m0-22.6h0m.1 20h0m0-18.5h0m.1 16.2h0m0-14.9h0m0-.9h0m0 29.2h0m0-48.3h0m.1 23.9h0m.1-39.9h0m0 49.8h0m0 14.3h0m.1-19h0m0 25.1h0m.1-39.3h0m0 40.6h0m.1-44.5h0m.1-6.7h0m0 55h0m0-55.5h0m.1-32.2h0m0 66.9h0m0-74.9h0m.1 80.9h0m0-44.3h0m0 22.9h0m0 25.4h0m.1-20.6h0m0 21.3h0m.1-39.4h0m0-18.7h0m0 30.7h0m0-4.4h0m.1 1.7h0m0 38.2h0m0-31.7h0m.1 26.8h0m0-37.1h0m0 32h0m.2-20.3h0m0 9.2h0m0-35.9h0m.1-12.6h0m0 58.9h0m.2-9.9h0m0-21.9h0m0-28.6h0m.1 19.9h0m0 42h0m0-11.6h0m.2-34.9h0m0 19.7h0m.1 30h0m0 1.1h0m.1-61.3h0m0 57.6h0m0-23h0m.1-42.7h0m0 56.6h0m.1-13.4h0m0 4h0m.1 4h0m0 1.2h0m0 11.3h0m.1-9.5h0m0-25.5h0m0 6h0m.1 33.3h0m.1-1.3h0m0-7.8h0m.1-21.9h0m0 1.7h0m.1 30h0m.1 .1h0m0-42.7h0m.1 14.2h0m0-33.1h0m0 14.2h0m0 44.1h0m.1-65.1h0m.1 51.8h0m0-45h0m0 52.3h0m0 7.6h0m.1-7.8h0m0 3.9h0m.1 .6h0m0-53.8h0m0 61.7h0m0-2.7h0m0-7.7h0m.1-37h0m.2 2h0m0-1.4h0m0-17.3h0m.1 64.4h0m0-21.6h0m.1 21.2h0m0-14.2h0m0-35.2h0m.2 3.6h0m0 13.4h0m0-12.6h0m0 11.6h0m.1-10.6h0m0-26.1h0m.1 65.3h0m0-31.9h0m0-15.3h0m.1 30.1h0m0 1.2h0m0-30.5h0m.1 30.1h0m0-18.3h0m0 33.4h0m0-55.5h0m.2 68.8h0m0-84.2h0m0 70.9h0m.1-11.2h0m0-31.1h0m0 15.3h0m0 35.7h0m0-.3h0m.1-68.8h0m0 17.4h0m0 32.3h0m0 13.2h0m0-39.8h0m.1 31.8h0m.1-60.2h0m.1 28h0m0 35.6h0m.1-32.4h0m.1-9.5h0m.1 2.7h0m0-4.3h0m0 48.4h0m.1 8.3h0m0-51.4h0m.1 11.4h0m0 11.9h0m0 18.9h0m0-60.4h0m.1 64.1h0m.1-39.6h0m.1-16.4h0m0 21.5h0m0-4.9h0m.1 3h0m0-3h0m.1 41.3h0m.1-47.4h0m.1-6h0m0 15.8h0m.1-41.9h0m0 32.5h0m.2 2h0m0 42.3h0m.1-53.1h0m.1 48h0m0-44.9h0m0 43.2h0m.1-36.6h0m0 32h0m0-43.8h0m0 19h0m.1 3.7h0m0-8.5h0m.1-15.7h0m.1 57.9h0m0 .9h0m.1-54.7h0m0-1.7h0m0 40h0m.1-16.7h0m0 .6h0m0 3.7h0m0-6.9h0m.1-35.1h0m0 15.5h0m.1-4h0m0 51.7h0m0-62h0m.1-10h0m0 4.1h0m.1 21.9h0m0 19h0m0-4.8h0m0-15.8h0m.2 46.5h0m0-26.6h0m0 34h0m.2-53.9h0m.1 12.6h0m.1 25.4h0m.2-39.5h0m0 44h0m0-.7h0m.1 1.5h0m0-63.7h0m.1 7.7h0m0 23.1h0m0 41.6h0m.1-43.1h0m0 1.8h0m0-12h0m.1 40.7h0m0-17h0m.1 20.7h0m0-2.1h0m0-34.8h0m.1-7.9h0m0-12.4h0m0 26.1h0m0-12.1h0m.1 6.7h0m0-11.7h0m.2 15.8h0m.1 31.8h0m0 4.4h0m0-6.3h0m.2-56.4h0m0 60.3h0m0-22.7h0m0-31.2h0m.1 78.6h0m0-54.9h0m.1 33.3h0m0-39.3h0m.1-11.6h0m0 55.8h0m0-64.5h0m.1 76.8h0m.1-8.6h0m0-74.7h0m.2 32.1h0m.1-18.3h0m.1-12.8h0m0 6.8h0m0 11.4h0m.1 49.2h0m0-9.8h0m.1-55.2h0m0 71.4h0m0-1.5h0m0-69.4h0m.1 27.3h0m0-5.6h0m.1 43.5h0m0-31h0m0 34.5h0m0-63.4h0m.1 16.1h0m0-11.4h0m0 15.1h0m.1-27.3h0m0 50.3h0m.1-37.8h0m.1 50.5h0m0 8.1h0m0-70.3h0m0 69.8h0m.1-2.3h0m0-7.5h0m.1 6.4h0m0-59.1h0m0 65.5h0m0-60.7h0m.1 13.6h0m0-18.7h0m0 50h0m.1-57.7h0m.1 10.5h0m0 15.6h0m0 20.1h0m.1-21.6h0m0 47.5h0m0-45.9h0m.1 32.6h0m0-57.5h0m0 28.1h0m.1-3.8h0m0-12.3h0m0 42.8h0m.1-54.1h0m.1 6.8h0m0 61.7h0m0 17.7h0m.1-29.7h0m0-27.1h0m.1 15.2h0m0-45.2h0m0 58.8h0m.2 2.9h0m0-50.5h0m0 49.9h0m.1-47.3h0m0-10.6h0m0 40.4h0m0 37.2h0m.3-70.4h0m0 26.5h0m.1-14.9h0m0 43.9h0m0-55.8h0m0 33.9h0m.1-20.1h0m0-24.4h0m0 72.3h0m0-26.3h0m.1-32.9h0m.1 21h0m.1-29.5h0m0 1h0m.1 51h0m0-55.2h0m0 60.6h0m0-38.9h0m0 2.6h0m.1 29.4h0m.2-49.6h0m0 65.9h0m0-7.5h0m.1-7h0m0-32.8h0m.1 34.5h0m0-20.1h0m.2-33h0m.1 5.3h0m0 44.2h0m.1-52.3h0m.1 32.5h0m0 17.6h0m.1-44.1h0m.1 34.7h0m0 13.3h0m.1-48.1h0m.1 45.7h0m0-31.4h0m0-20.2h0m.1 69.5h0m.1-21.7h0m0-45.2h0m0 28.8h0m.1-29.1h0m0 24.5h0m.1-18.1h0m.1 45.3h0m0-24.2h0m.1 24.8h0m0-49h0m.1 44.4h0m.1-43.9h0m.1 16.5h0m0 2.6h0m0 23h0m.1 2.8h0m.1-59h0m.1 29.7h0m0-16.4h0m0 5.9h0m.2 37.8h0m.1-12.8h0m0-28.6h0m0 38.2h0m.2-41.6h0m0 75.1h0m.1-69.1h0m.1 22.4h0m0 4.5h0m.1-1.6h0m.2 27.5h0m.1 .6h0m.1 9.4h0m0-22h0m0-56.8h0m.1 25.7h0m0 56.5h0m.1-44.3h0m0-3.5h0m.2 22.1h0m0-1h0m0-31.8h0m.1 1.6h0m0-24.4h0m0 76.8h0m0-64.7h0m.2-15.3h0m0 62.4h0m.1-32h0m0-26.2h0m0 11.3h0m.1 .4h0m.1 0h0m0 10.5h0m.1 11.1h0m0-22.4h0m.1 3h0m0-14.7h0m.1 52.1h0m0-56.4h0m.1 56.6h0m0-24.9h0m.1 23.8h0m0-45.5h0m0 12.7h0m.1 1.3h0m0-21.8h0m0 7.6h0m.2 54.1h0m0-1h0m0-48.3h0m.1-1.2h0m0 55.8h0m0-35.9h0m0-28.5h0m.1 33.4h0m.1 21.6h0m.3-52.9h0m.1 26.6h0m0 25.5h0m0-42.1h0m0-4.3h0m.1 5.5h0m.1-19.7h0m0 5.6h0m.1 77h0m0-62.9h0m.1 26.6h0m.1-31.8h0m.1 19.7h0m.1 41.1h0m0-55h0m0-6.9h0m.1 33.7h0m0 .6h0m0-40.1h0m0 36.8h0m.1-22.9h0m.1-4.7h0m0-2.2h0m0 34.9h0m.1-31.7h0m0-14.8h0m0 16.4h0m.1 27.1h0m0-30.2h0m.1 3.5h0m0-14.1h0m.1 2.4h0m0 6h0m.1 8.5h0m.1 42.7h0m.1-59.9h0m.2 49.9h0m0-34.1h0m0-4.1h0m.2-10.7h0m0 35.8h0m.1-9.5h0m0 20.5h0m0 .1h0m.1-42.3h0m.1 10h0m.1 12.6h0m.1 13.8h0m.1 32.8h0m.1-64.2h0m0-1.6h0m.1 27.4h0m0 .9h0m0 31.3h0m.1-55.8h0m.1 18.9h0m.1-14h0m.2-.6h0m.1-18.3h0m0 3.8h0m0 14.5h0m0 21.8h0m0-.9h0m.1-39.5h0m.1 43.3h0m.2 15.7h0m0-51.6h0m.2 9.7h0m0 10.4h0m.1-30.5h0m0 78.8h0m0-79.8h0m.1 21.7h0m0 57.1h0m0-38h0m.1-22.8h0m0 65h0m.1-63.3h0m.1 56h0m0-26.7h0m.1-14.4h0m0-9h0m0-5.1h0m.1-20.7h0m.1 79.3h0m0-44.1h0m.1 21.9h0m.2-37.9h0m0 21.1h0m.1 29.1h0m.1-28.5h0m0 19.4h0m.3-18.7h0m.1 40.2h0m0-28.9h0m.1 1.6h0m0-38.3h0m0 13h0m.1 6.8h0m.2-11h0m0 51.7h0m0-56.8h0m.1-9.5h0m0 33.7h0m.1-21h0m.1 1.3h0m0 .8h0m.1-1.7h0m.1 2.7h0m.1 10.9h0m0-14.1h0m.1-14.4h0m.1 15.6h0m.1-12.9h0m0-1h0m0 39.2h0m.1-14.9h0m.1-10.1h0m.1-17.9h0m0 7.8h0m.1 13.3h0m0-3.7h0m.1 50.5h0m.2-18.5h0m0-6.9h0m0 12h0m.2-48.4h0m.1 13.9h0m0 2.5h0m.2-19h0m0 10h0m0 4.1h0m0-2.3h0m.3 20h0m0-8.3h0m.1-9.2h0m0-4.5h0m.1-6.2h0m0 43.7h0m0-46.6h0m0 16.4h0m0 3.9h0m.1 28h0m0-10.6h0m.1-19.6h0m.2-18.1h0m.2 51.4h0m0-33.1h0m.3-14.3h0m.3 14.3h0m0-14.7h0m.1-7.3h0m0 15.6h0m.1 3.5h0m.1-9.1h0m.1 8.1h0m.1 28.8h0m.1-29.3h0m0 29.2h0m.1-42h0m.1 14h0m.1 26.3h0m0-44.7h0m0 2.1h0m.1 18.7h0m0-1.7h0m.1-11.9h0m0 13.5h0m0 49.8h0m.1-51.1h0m.4 38.7h0m0-41.8h0m0 44.5h0m.1 8h0m0-51.3h0m.1-12.7h0m.1 39.2h0m0-23.5h0m.2-1.2h0m0 45.4h0m0-47.8h0m.1 15.8h0m.1-19.6h0m0-8h0m.1 53.5h0m.1-34.5h0m0-5.9h0m0-16.5h0m0 13.2h0m.1-12h0m0 .8h0m.2 1.1h0m.1 5.9h0m0-8.8h0m0 30.8h0m0-28.5h0m.2 13.6h0m.1 6.8h0m0 34.4h0m.1-50.3h0m.1 8.3h0m0 9.4h0m.2-12.4h0m0-1.9h0m.2 23.6h0m.1-21.6h0m.1 10.4h0m.3-16.6h0m0 7.3h0m0-.6h0m0 6.5h0m.1-3.5h0m0 2.1h0m0 42.5h0m.2-53.6h0m0 3.4h0m.2 53h0m0-22.1h0m.1 17.2h0m.2 .8h0m.2-48.6h0m.1 26.6h0m.2-4h0m0-17.2h0m.1 16.1h0m0-16.3h0m.1 23.2h0m.1-15.1h0m.3-1.6h0m.1-14.4h0m0-6.2h0m.1 38.7h0m.1-23.6h0m.1 39.4h0m.6-41.5h0m.3 23.9h0m.1-24.7h0m0 8.9h0m.3-4h0m.1 3.9h0m.2-4.3h0m1-10.3h0" stroke="#e41a1c" stroke-width="2.4" stroke-linecap="round" fill="none"/>
<path d="M11.8 897.3h0m.3-2.6h0m.4 6.9h0m.3-7.2h0m.4 6.3h0m.9-.5h0m1.4 5.7h0m.2-8.2h0m.1 7.2h0m.1 1.2h0m0-6.6h0m.3 6.8h0m.1-10.2h0m.3 9.1h0m.2-7.1h0m.3 2.5h0m.2-2.5h0m.4 5.3h0m.1-4.9h0m.1 2.4h0m.1-2.1h0m1.7 3.5h0m.6 .2h0m.7 4.5h0m1.1-5.5h0m.2 10.2h0m.5-3.3h0m.7 1h0m.2-16.9h0m.1 .3h0m.5-1.6h0m.4 19h0m.3-15h0m1.5-2.2h0m1.2 17.9h0m.4 6.5h0m.7-27.4h0m.5 6.2h0m.3-2.3h0m.1-4.4h0m.3 19.7h0m.1-4.6h0m.4 6.7h0m.8-2.2h0m.3-7.7h0m.2-.6h0m1.4-4.1h0m0 14.2h0m0-21.4h0m.1 17.7h0m.1-16.8h0m.2 .9h0m1.2 8.7h0m.2-8.5h0m.3 7.1h0m.3 7.5h0m0-11.1h0m1.3 5.5h0m.1 13.9h0m.3-6.6h0m.3-10.2h0m.3-12.5h0m.1 11.7h0m.4 3.5h0m.6 3h0m.6-13h0m.3 1.8h0m.3-1h0m.1 13.4h0m.4-10.4h0m.3-5h0m.4 1.9h0m.2-2.5h0m.9 3.8h0m.6 16.1h0m.6-20.8h0m.3 .8h0m.3 34h0m.6-28.7h0m.5-13.1h0m0 1.5h0m.1 2.5h0m.2 25.9h0m.2-33.5h0m.5 8.8h0m.9-7.4h0m1 8.7h0m.1-14.5h0m.2 1h0m.2 4.7h0m.1-6.7h0m.5 12.2h0m.3 13.3h0m.1-22h0m.2 2.2h0m.2 11.4h0m0-2.8h0m.1-11.4h0m.1 .5h0m.2-.1h0m.1 3.5h0m.2 .7h0m.1 .2h0m0-4.1h0m.2 3.9h0m.1-5.4h0m0 3.9h0m.2 2h0m0-2.4h0m0-8.1h0m.2 47h0m.1 3.5h0m.2-8.2h0m.1-31.9h0m0 11.3h0m0 38h0m.4-49.4h0m0-4.2h0m0 14h0m.1 39.3h0m.4-7h0m.1-36h0m.1-3.6h0m.3-7.2h0m.1 0h0m.2-3.4h0m0-3.6h0m0 13.7h0m0-6.5h0m.2-3.8h0m.1-.7h0m.1 7.2h0m.1-8.5h0m0 63.8h0m.5-5.8h0m.1-35.2h0m0 1.4h0m.1-23.7h0m.4 18.5h0m0-20.2h0m0 .6h0m.1 15.4h0m.1-1.8h0m.2-7.4h0m.4-2.8h0m.1-1.6h0m.2 46.6h0m.1-48.2h0m.4 .6h0m.1 13.9h0m0-13.6h0m.1 63h0m0-45.4h0m.2-17.6h0m0 68.1h0m.3-.1h0m0-2.6h0m.1-48.5h0m.3-15.5h0m0 16.3h0m.1-16.6h0m.1 7.4h0m.3 1h0m.1 44.9h0m0 3h0m.2-6.5h0m0-2h0m.1-37.4h0m0-6.3h0m.2 48.6h0m0-54.3h0m.1 0h0m.1 2.2h0m.3-3.4h0m.2 12.1h0m.4 3.3h0m.2-9.4h0m0-5.9h0m0 76.2h0m.1-64.4h0m0 40.8h0m.3 9.7h0m.2-50.5h0m.1 46.8h0m.1-8.5h0m.1-36.7h0m0-2.7h0m0-1.1h0m.1 52.7h0m0-57.4h0m.1 6h0m.4-10.5h0m.2 6.1h0m.1 58.4h0m.3 .9h0m.1-58.6h0m0-.3h0m.6 47.2h0m0 10.6h0m.4-56.9h0m.4 61.3h0m.1-21h0m.3-47h0m.2 68.2h0m.7-48.3h0m.4 2h0m.2 48.2h0m.4-4.4h0m.1-53.9h0m.1 6.1h0m.2 9h0m1.8-21.9h0m.3 55.5h0m.1-28.6h0m.1 28.8h0m.5-25.2h0m.2 18.3h0m0 16.7h0m.1-63.4h0m.3-10.3h0m.1 61.6h0m.1 2h0m.1-55.2h0m.1 51.3h0m.2-37.1h0m.2-15.6h0m.1 41.5h0m0 7.5h0m.3-8.8h0m.1 16.8h0m.2-37.2h0m.7-19.3h0m.1 22.7h0m.3 20.9h0m.2-3.8h0m.1-43h0m.4-5.7h0m0 45.2h0m.1-28.9h0m0-13.8h0m0 50.5h0m.1-52.4h0m0 72.9h0m.1-53.5h0m.1 22.5h0m.2 31.7h0m.3-57.6h0m.1 8.6h0m0 51.6h0m0-.3h0m.2-69h0m.2 64.1h0m.2-70.7h0m0 2h0m.1 13h0m0 61.6h0m.3-54.4h0m0-17.9h0m.3-5.3h0m.1 56.1h0m.2-44.4h0m0-6.9h0m0 21.9h0m.4 6.6h0m.3 33.4h0m.2-28.3h0m0-28.3h0m0-12.3h0m.3 13.4h0m.1 45.2h0m0 21.1h0m.1-60.3h0m.3 19h0m0-39.9h0m0 79.2h0m.1-35.2h0m.1-46.5h0m0 44.8h0m.1-10h0m.2 52.3h0m0-81.7h0m.2 54h0m.2-56.8h0m.1 46.1h0m.3-41.3h0m.2 65.5h0m.1 9.4h0m.3-79.6h0m.1 57.9h0m0-1.1h0m0-11.4h0m.3-17.1h0m.1 23.8h0m.1-55h0m0 33.7h0m.5-30.2h0m.2-3.3h0m.3 26.5h0m0 52.7h0m.1-77.7h0m.1 34.1h0m0-30h0m0 56.4h0m.1-33h0m.2 23.3h0m0 18.3h0m0-66.6h0m.1 70.3h0m.1-48.7h0m0 59h0m0-54.4h0m.1-26.9h0m0 13.9h0m.1-12.5h0m0 45.9h0m0-53.8h0m.1 35.4h0m0-30.9h0m0 4.5h0m.1 42.2h0m.1-42.1h0m.2 7.2h0m.1 56.9h0m.1-68.3h0m.2 13.9h0m0 70.1h0m.1-1.5h0m.2-83h0m0 6.4h0m.1 22.2h0m.1 2.6h0m.1 3.4h0m0 37.2h0m.1-2.6h0m.1-36.6h0m0 25.1h0m.1-10.6h0m.1-37.3h0m0-1.6h0m.1 50.1h0m0-9.2h0m.2-29.8h0m0-15.8h0m.1-5.4h0m0 1.8h0m.1 39h0m.2 42.2h0m.2-38h0m0-15.8h0m.1 41.1h0m.1 6.3h0m.1 7.9h0m0-84.7h0m.1 45.8h0m0 30h0m.1-61.4h0m.1-6.8h0m0-6.8h0m0 54.1h0m.1-45.8h0m0-4.1h0m0-8.6h0m0 16.4h0m.2 4.1h0m.4 68.1h0m0-1.3h0m.1-45.4h0m0-.2h0m.1-8h0m0-22.5h0m.1 67.2h0m0-62.7h0m0-15.6h0m.1 86.4h0m.2 1.5h0m0-82.3h0m.1 31.2h0m0 53.2h0m0-67h0m.1-14.6h0m.1 4.3h0m.2 76.9h0m.1-76.9h0m0 40.4h0m0-48.6h0m.1 25.4h0m.3-18.6h0m.3-1.5h0m0-7.6h0m.1 79.5h0m0-72.8h0m.1 29.1h0m.1-33.4h0m.2 43.7h0m0-37.9h0m0 27.8h0m.1-26.6h0m.1 79.2h0m0-87.5h0m.1 59.1h0m0-38.1h0m0 44h0m.1-31.3h0m0 .2h0m.3-33.2h0m0 85.4h0m.3-91.6h0m.1 24.1h0m0 43.8h0m.1-26.8h0m0-35.5h0m0 36.6h0m.1 37.1h0m.1-29.8h0m0-41.5h0m.1 5.3h0m.2 49.8h0m0-55.4h0m0 12.4h0m.1 18.9h0m0-27.9h0m.1-2.5h0m.3 .2h0m.1 26.2h0m0-3.6h0m0-28.3h0m.2 24.7h0m0 52.7h0m.1 .1h0m0-16.3h0m.1 10h0m0-4.7h0m0-35.1h0m0 22.5h0m0 26.2h0m.2-6.1h0m.1-74.8h0m.1 34.1h0m0-11.5h0m0-15.4h0m0 .3h0m.1 42h0m.1-41.3h0m.1-10.2h0m0 17.9h0m.1-18.9h0m0 85h0m.1-84.6h0m0 13.7h0m.2 1.8h0m0-9.5h0m.1 40.1h0m0-24.6h0m.3-9h0m.1-1.1h0m0 6h0m0 10.9h0m.2-19.5h0m0-1.6h0m.1 87.8h0m.1-6.7h0m0-75.2h0m.1-7.9h0m.1 85.5h0m.1-14.5h0m.1-56.9h0m.1-7.2h0m0-.4h0m.1 70.3h0m.1-20.3h0m0-59.4h0m.3 45.8h0m.1-45.4h0m0 86.7h0m0-65.3h0m.1 0h0m0 70.4h0m.1-67.8h0m.1-14.7h0m.1 69.2h0m0-80.4h0m0 26.2h0m0-15.1h0m.2-9.1h0m.4 23.7h0m0-22.2h0m.3-4.1h0m.1 22h0m0-19.7h0m.1 83.6h0m.2-81.4h0m0 56.6h0m.3-57.5h0m0 88.3h0m.2-22.7h0m.1-52h0m0 46.5h0m0-39.9h0m0 63.7h0m.1 3.7h0m.1 1.2h0m.1-15.1h0m.2-56.7h0m.1 25.2h0m0-6.6h0m0-36.9h0m.1 2.7h0m0 52.9h0m0 12.8h0m0-50.3h0m.2 72.4h0m0-8.7h0m.1-59.9h0m0 61.1h0m0-2.3h0m0-69.2h0m0-9.6h0m.3-5.7h0m0 25.8h0m0 45.6h0m0-41.7h0m0-6.3h0m0 49.9h0m.1-72.1h0m.1 17.8h0m0 68h0m.1-80.9h0m0 23.6h0m.1 1.3h0m0 31.5h0m.1-20.4h0m.1 43.2h0m0-64.8h0m0 71.3h0m.1 6.9h0m0-76.2h0m.2-21.2h0m0 4.6h0m0 92.2h0m.4-80.3h0m0 65.5h0m.1-65.4h0m0 37.3h0m0 6.8h0m.1 5.9h0m0-48.1h0m.2 7.6h0m.1 9.4h0m.1-30.8h0m0 24.9h0m0-25.9h0m.1 10.9h0m.3 22.2h0m.1-32.9h0m0 71.2h0m0-69.6h0m.2 .2h0m.2 9.9h0m0 7.5h0m0-12.8h0m.1 36.3h0m.1-13.4h0m.2 1.9h0m0-22.2h0m0 10.1h0m.2 50.6h0m.1-27.5h0m0-29.8h0m0 85.2h0m.1-40.7h0m0-12.8h0m.1 26.2h0m0-57.8h0m0 4h0m.1 80.2h0m0-18.7h0m.1-26.1h0m0 44.7h0m0-45.1h0m.2 44.5h0m.1-23.9h0m0 14.2h0m.1 13.7h0m0-83.7h0m0 80.5h0m.2-28.7h0m0 30.9h0m0-82.6h0m.1-4.5h0m.1 68.8h0m.1-13.2h0m.1 16.6h0m.1-3.3h0m.2 16.9h0m.1-19.9h0m0 1h0m0-65.6h0m0 1.7h0m.1 70.1h0m0-60.1h0m.1 46.6h0m0-6.5h0m.1-24.2h0m.1 33.5h0m0-2.6h0m.1 6.6h0m0 6.5h0m0 17.9h0m.1-21.6h0m.1 18.4h0m.2-21h0m0-58h0m.1 54.7h0m0-45.2h0m.1 73.4h0m0-39.6h0m.1 24.4h0m0-73.1h0m.1 .4h0m0 2.7h0m.1 80.1h0m.1-71.8h0m0 74.6h0m.1-82.7h0m.2 78.5h0m.1-75.1h0m.1 78.1h0m.1-80.7h0m.1 29.7h0m0 32.3h0m.1-65.5h0m.1 65.8h0m.2-40.6h0m.1 33.8h0m.2 7.5h0m0-31.5h0m.1-21.8h0m0 43.8h0m.2 20.2h0m.1-61.2h0m0 62.8h0m.1-21.2h0m.1-57.6h0m.1 23.1h0m.2 53.6h0m0-12.2h0m.1 19.2h0m0-81h0m.1 55.7h0m0-58.7h0m.1 83.8h0m0-37.7h0m0 39.1h0m.1-9.3h0m.1-11h0m.1-9.5h0m.2 1h0m.1 3.3h0m0 16.3h0m0 7.3h0m.1-17.3h0m0 20.3h0m.1-26.3h0m0-12.8h0m.1-8.2h0m0 8.9h0m0-.1h0m0 11.2h0m.2 15.3h0m0-15.5h0m0-43.9h0m0 41.6h0m.3-4.6h0m0 16.2h0m.1-5.6h0m0 15.9h0m0-38.8h0m0 14.1h0m.1 23.3h0m0-64h0m0 48.2h0m0 5.7h0m.2-4.5h0m0 19.1h0m.2-6.2h0m0-24.9h0m.2-24.3h0m.1 50.7h0m0 7.4h0m0-28.2h0m0-11.8h0m0 29.2h0m0-18.5h0m.1-4.8h0m.1 9h0m0-1.2h0m.2 21.3h0m.1-81.6h0m.1 59.6h0m0-25.1h0m0 26.9h0m.1 18.5h0m0 3.1h0m.1-12.2h0m0 13.7h0m0-31.4h0m.1 4.2h0m0 25h0m.1-25.8h0m.1-15.3h0m0 3.8h0m.1 25.9h0m.1-8.8h0m0 19.1h0m.1-41h0m0 37.3h0m.1-22.6h0m0-49.9h0m0-5.1h0m.1 17.8h0m0-2.2h0m.1 45.2h0m0 22.8h0m.2-4.5h0m.1-10.9h0m0-12.3h0m0-56.5h0m0 79.7h0m.2-82.4h0m.1 62.9h0m0-59.7h0m0 34h0m0 14.5h0m.1 29.2h0m.1 4.3h0m0-58.4h0m.2 11.9h0m.1 43.5h0m.1-12.7h0m0-35.9h0m0-27.4h0m.1 66.5h0m.1 11.1h0m.1-19.3h0m0-59.2h0m0 49.7h0m.1 17.2h0m.1-69.2h0m0 69h0m0-7.9h0m.1 18.7h0m0-21.2h0m.1 8.1h0m0-4.7h0m0-63.7h0m.1 2.3h0m0 59.5h0m.1-22.2h0m0-38.4h0m0 55.4h0m.1-14.6h0m.1 22.3h0m0-57.8h0m.1 10.2h0m0 50h0m.1-16.5h0m0 12.4h0m.1-.5h0m.1-62h0m0 36.1h0m0 28.7h0m0-60.3h0m.1 38.7h0m0-8.8h0m.1 5.4h0m0-36h0m.1 60.9h0m0-54.5h0m0 28.7h0m.1-34.8h0m0 77.8h0m.1-29.9h0m.1-44.7h0m.1 65.4h0m0-56.3h0m.1 21.9h0m0 11.6h0m0 9.7h0m0-14.1h0m.1 3.3h0m0-28.2h0m.1 42.3h0m0 9.2h0m.1-5.4h0m0-69.2h0m0 2.2h0m0-.3h0m.2 34.4h0m0 11h0m0-1.5h0m.1 18.1h0m0 17h0m0-76.5h0m0 36.4h0m0-.2h0m.1 37.5h0m0-70.3h0m0 59.8h0m0-.6h0m.1-22.7h0m0-7.2h0m.1-36.1h0m0 34.2h0m0 .4h0m.2 47.3h0m0-30.3h0m.1 26.5h0m.1-40.9h0m0 39.4h0m0 1.8h0m0-29.4h0m.1 5.7h0m0 25h0m0-39h0m0 21.3h0m0-18h0m0 18.5h0m.1 13.5h0m0-73.7h0m0 62.6h0m.1-65h0m.2 80.2h0m0-41.3h0m0 42.1h0m.1-47.6h0m.1 32.1h0m0-53.1h0m0 26h0m.1-31.8h0m0 24.3h0m.1-25.1h0m.1 68.8h0m0-29.9h0m.1 34.8h0m0-29.7h0m0 14.7h0m.1-20.5h0m0-1.7h0m0-36.8h0m.1 33.5h0m0 21.1h0m0-18.9h0m0 4.4h0m0 21.2h0m.1-20h0m0-6.4h0m.1-9.8h0m0-31.8h0m.1 18.3h0m.1 56.9h0m.1-67.1h0m0 66.1h0m0-3h0m0-61.3h0m0 65.8h0m0 2h0m.1 2.3h0m0-68.8h0m.1 41.2h0m.1-22.7h0m0 12.5h0m0-37.4h0m.1 49.7h0m0 5.1h0m0 10.4h0m0 4.2h0m0-29h0m.1 .8h0m0-5h0m0 38.6h0m0-22.9h0m.1 9.4h0m0-56.3h0m0 62.6h0m0-18h0m0 9.8h0m.1 5.6h0m.1-29h0m0-19.5h0m0 23.2h0m0 9.1h0m.1-11.9h0m0 12.5h0m.1-.9h0m0 15.5h0m.1 2.6h0m.1-22.1h0m0 27h0m.1-9.9h0m0-23.4h0m0-20.4h0m.1 30.5h0m0-3.6h0m0 6.8h0m0 12.5h0m.1-8.3h0m0-27.8h0m0 24h0m.1-7.2h0m.1 33.1h0m0-53.2h0m0 26.8h0m0-12h0m.1-12.5h0m0 10.3h0m.1 23.7h0m0 14.4h0m.1 .1h0m0-20.9h0m.1-19.9h0m0-.5h0m.1 1.1h0m0 34h0m.1-10.4h0m0-46.6h0m.1 43.7h0m0-22.8h0m0 16.7h0m.1-18h0m0-26h0m0 41.8h0m0 21h0m.1-53.5h0m0 24.2h0m0 37.3h0m0-.6h0m.2-8.6h0m.1-35.3h0m0 7.1h0m.1-36.6h0m.1 73h0m0-73.5h0m.1 70.1h0m0-34.2h0m0 7.5h0m0 18.5h0m.1 3.4h0m0 .4h0m0-2.5h0m.1-3.8h0m0-58h0m0 22.9h0m0 42.1h0m.1-30.4h0m0 25.5h0m.1-47.9h0m0 28.5h0m0-27.3h0m0 14.5h0m0 21.4h0m.1-30.6h0m0 41.9h0m.1 4.2h0m0-23.6h0m.1 21.2h0m.1-58.5h0m0 .9h0m0 50h0m0 3h0m0 12.9h0m.1 0h0m0-17.6h0m0 12.8h0m0-6.6h0m.1-52.9h0m0-3.7h0m0 2.6h0m.2 62.7h0m0-32.7h0m.1-27.1h0m0 54.6h0m0-61.2h0m0 41.1h0m0-18.1h0m.1 21.1h0m0-21.9h0m0 47.2h0m.1 1.4h0m0-23.2h0m.1-4.2h0m0 22h0m0-18.3h0m.1-5.4h0m0 24.7h0m.1-23.5h0m0 28h0m0-4.7h0m.1-26.1h0m0 20.2h0m0-19h0m0 31h0m.1-.6h0m0-21.6h0m0 .3h0m.1-35.6h0m0 .6h0m.1 25.1h0m0 28.1h0m0-35h0m0 19.4h0m.1-41.9h0m0 55.2h0m0-19.6h0m.1-40.3h0m0 27.3h0m0-20.3h0m.1 24.6h0m.1-2.4h0m0 23h0m0-18.5h0m0 23.9h0m0-26.6h0m0 18.9h0m0 8.4h0m.1 4.2h0m0-34.6h0m0 3h0m.1-4.8h0m0 6.4h0m0 10.7h0m0-30.7h0m.1 51.4h0m.1-58.1h0m.1 53.6h0m0 4h0m.2-11.7h0m.1-41.7h0m.2-4h0m0 53.3h0m0-6.7h0m.1-1.5h0m0-25.9h0m.1 31.1h0m0-29.3h0m.1 1.6h0m0 29.7h0m.1-4.8h0m0-23.8h0m0-36h0m.1 37.3h0m0 22.1h0m0-23.6h0m.1 25.9h0m0-24.1h0m.1 29.5h0m0-9h0m.1-15.7h0m0-5.5h0m.1 9.6h0m0-1.8h0m0-8.1h0m.2 21.7h0m0-48.6h0m0 26.8h0m0 2.5h0m.1-10h0m0-10.6h0m.1 50.4h0m0-54.8h0m.1-15.5h0m0 58.5h0m0-42.6h0m.1 47.6h0m0-6.4h0m0-20h0m0 14h0m.1-14.8h0m0-21h0m0 22h0m.1-23.1h0m0 51.5h0m0-4.9h0m0-35.5h0m.1-22h0m0 46.2h0m0-16.9h0m0 3.5h0m0 24h0m.1-26.8h0m.1 12.1h0m.1-9h0m0-5.6h0m0-2.4h0m0 3.5h0m.2 30.8h0m0-3.6h0m.1-35.1h0m0 8.6h0m0 7.2h0m.1-12.3h0m0 2.8h0m0-16.7h0m.1 22.7h0m0-2.7h0m0 4.5h0m.1 22.6h0m.1 2.5h0m.1-57.3h0m0 10.6h0m.1 19.5h0m0 0h0m.1-11.4h0m.1-21.4h0m0 34.4h0m.1-8.6h0m0 1h0m.3-13.8h0m0 11.1h0m0-6.7h0m0 9.7h0m.2 7.9h0m.2-6.3h0m.1 27.6h0m0-15.4h0m0 18.1h0m.1-52h0m0 26.7h0m0-4.6h0m0 11.5h0m.3 12.8h0m.1-14.2h0m0 11.6h0m.2-22.9h0m0-7.3h0m.1 7.9h0m0-6.9h0m0-2h0m.2 37.5h0m0-21.8h0m.1-26.3h0m.1 49.9h0m.1-22.3h0m.2 24.1h0m.1-27.6h0m.1 19.9h0m.2-31.8h0m.3 35.5h0m.1-37.3h0m0 .6h0m.2-4.9h0m.1 2.4h0m0 1.2h0m.8 1.9h0m.3-1.3h0m.1 6.8h0m.1 30h0m1-37.6h0m.3-2.3h0" stroke="#377eb8" stroke-width="2.4" stroke-linecap="round" fill="none"/>
<path d="M10.6 896.6h0m.6-.1h0m1.5-.2h0m.2-1.4h0m1.6 8.3h0m.1-.9h0m0-2.9h0m0-6.5h0m.4-.6h0m.1 9h0m.1-.5h0m.1-1.4h0m.3 3.2h0m.1-.2h0m0-2.1h0m.2 .3h0m.2-1.3h0m.1 7.5h0m.1-9.9h0m.3 1h0m.1 4.9h0m.2-3.6h0m0-2h0m.6 5.8h0m0 1.3h0m.1 2.1h0m0 .6h0m.1-8.8h0m0 3.3h0m.1 4.4h0m.1-12.8h0m.1 13.1h0m0-13h0m0 4.2h0m.2 0h0m0-.7h0m0 8.9h0m.1 1h0m0-1.8h0m.2-8.8h0m.1 1.8h0m0 3.9h0m0 1.6h0m.1 4.4h0m.2-.2h0m.2-6.2h0m0 6.7h0m0-1.9h0m0-3.5h0m.1-2.6h0m.1-.9h0m0 6.2h0m.2-4.1h0m0-1.3h0m.1 2.5h0m0-4.3h0m.1 6.6h0m0-.6h0m0-2.8h0m.1-2.9h0m0-2.2h0m.1 3.8h0m.1 5.5h0m0-8.7h0m.2 8.7h0m0-1.4h0m.2-.1h0m0-4.4h0m.1-8.1h0m.1 16.6h0m0-1.3h0m0-14.2h0m.4 9.5h0m.1-4.5h0m0 9.3h0m.2-4.9h0m0 5.1h0m.1-14.7h0m.3 16.2h0m.1-1.6h0m0-14.5h0m0 2.4h0m0 14.3h0m.3-14.8h0m.4 5.8h0m0-3.7h0m.1-1.9h0m.1-1.9h0m.2 14.7h0m.3 .4h0m.1-7.8h0m.6-6.3h0m.1 1h0m0-5.7h0m0 24.6h0m.1-20.7h0m0 3.7h0m.1-5.4h0m.1 6.5h0m0-4.6h0m.2 1.6h0m.3 1.6h0m0-5.7h0m.1 20.7h0m0 3h0m.3-22.7h0m0 6.8h0m.1 .3h0m.4-5h0m.1-.6h0m.2 17.4h0m.1-17.2h0m0 2.7h0m.2 10.2h0m.2-13.8h0m.1 1h0m.1-.7h0m0 0h0m0-1.1h0m.1 3.1h0m.2 14h0m.1-3.6h0m0-10.2h0m.1 13.7h0m.1-8.3h0m0-8.8h0m.1 19h0m0-1h0m.1-13.1h0m0 15.1h0m0 .9h0m.1 2.9h0m.2-8.5h0m.2-10.9h0m.2 13.9h0m0-13.2h0m.3-1.2h0m0 .5h0m.1 2.4h0m.1 12.5h0m.3 2.3h0m0-19.7h0m0 9.6h0m.1 1.5h0m.1-7.8h0m0-.1h0m.1 13.5h0m0-1.6h0m0-10.9h0m.1 9h0m0-.4h0m0 8.1h0m.1-20.9h0m.1 8.5h0m0 12.1h0m0 1.7h0m.1-17.3h0m.1 7.2h0m0-9.5h0m.1 16.8h0m.1-3h0m0-15.5h0m.2 13h0m0-1h0m.1 14.7h0m0-7.6h0m0-12.1h0m0-6.3h0m0 2.6h0m.1 12.7h0m.1-11.5h0m.1 14.6h0m0-4.2h0m0-5.3h0m.1 8.1h0m0 4.5h0m.2-6.3h0m.1-22.1h0m.1 14h0m0 7.2h0m0 5.7h0m0-5.1h0m0 .3h0m.1-.5h0m0 .4h0m0-11.2h0m.4 1.9h0m.1-4.1h0m0 1.6h0m.2 9.5h0m0-11.7h0m.1 .6h0m0 10.8h0m.1-3.3h0m0-14.3h0m.2 22.5h0m0-21h0m0 9.3h0m.1-11h0m0 20.6h0m0-1.2h0m.1-13h0m.1-3.7h0m.1 8.1h0m0 7.4h0m0 2.8h0m0-10.4h0m0-4.4h0m0 5.7h0m0-9.6h0m.1 12.6h0m0 3h0m0 .1h0m.1-15.4h0m.1 4.2h0m.1-8.5h0m.1 14.4h0m.3 5.3h0m.3 5.1h0m0-18.5h0m0 11.9h0m0-11.4h0m.1 7.7h0m.1 8.3h0m.2-11.1h0m.1 12.6h0m.1-16.4h0m.1 14.7h0m0-11h0m0 8.1h0m.1-12h0m0 17.2h0m.1-7.3h0m0-.1h0m0-2.4h0m.1 .4h0m.1-4.3h0m.1 7.6h0m.1-17.9h0m.1 19.4h0m0 2.3h0m0-27.6h0m.1 9.7h0m0 21.8h0m0-8.7h0m0-13.8h0m0 12.3h0m.2-8.2h0m0 10.3h0m0-14h0m.2 1.7h0m.1 14.1h0m.1-14.5h0m0 1.4h0m.1 .8h0m.1 1.6h0m.1 11.8h0m0 1.4h0m0-1.1h0m.1-8.2h0m0 .5h0m0-9.1h0m.2-4.8h0m0 19.4h0m0-2.6h0m0-15.8h0m.1 5.4h0m.1 13.9h0m0-12.7h0m0-3.1h0m0-6.6h0m0 7.5h0m0 .8h0m.1 13.1h0m0-18.8h0m.1 15.2h0m.1-1h0m.1 1h0m0-3.4h0m.1 13.6h0m0-8.6h0m0-18.6h0m.1 17.8h0m0-9.1h0m.1 19.1h0m0 .1h0m.2-8.1h0m.2-7.6h0m0 15.6h0m0-12.5h0m.2-11h0m0 2.5h0m0 16.8h0m.1-4.7h0m0-11.7h0m0-5.6h0m0 3.7h0m0 2h0m0-4.2h0m.1 12.3h0m0 8.6h0m0-8h0m.1-6.7h0m0 6.3h0m.1-16.8h0m0 2.9h0m.1 8.5h0m0-11.2h0m.1 17.9h0m.1-6.3h0m.2 .2h0m0-2.9h0m.2 17.4h0m.1-5.7h0m0-2.8h0m0-9.9h0m.1-7.4h0m0 20.4h0m.1-3.8h0m.1 15.5h0m0-12.1h0m0-19.3h0m.1 25h0m0 4.1h0m.1-30.4h0m0 .3h0m0 32.9h0m.1-21.3h0m.1 20.6h0m.1-2.4h0m.1-20.5h0m.2-8.7h0m0 7.6h0m0 .1h0m.1 2.4h0m0 7.5h0m.1-9.9h0m.1-9.5h0m0 10h0m0-1.4h0m.1 14.8h0m.1 13.4h0m.1-4.1h0m.1-11h0m0-17.8h0m.1 20.2h0m0 2.7h0m0 2.3h0m.1-16.2h0m0 20.2h0m.1-29.5h0m.3 12.8h0m0-13.6h0m0 20.4h0m0 11.8h0m.1-29.8h0m0 28.6h0m0-13.3h0m.1-10.9h0m.1-.3h0m0-7.4h0m.2 9h0m0 1.5h0m0-2.5h0m.1 1.5h0m0 17.9h0m.1-28.6h0m0 18.9h0m0 7.2h0m0-9.9h0m0 18.7h0m.1-3.6h0m.1-19.3h0m0 .4h0m.1 2.4h0m.1 9.8h0m0-24.1h0m0 7.3h0m0 3.4h0m.2 5.6h0m0-13.7h0m0 8h0m0 6.3h0m0 5.5h0m.1-1.7h0m0 5h0m.1-18.9h0m0 14.4h0m0-9h0m.1-1.4h0m.1 23.6h0m0-6.2h0m0-7.4h0m0-17.5h0m.1 11.6h0m0-3.5h0m0-3h0m.1-7.4h0m0 6.9h0m0 7h0m.1 6.1h0m0 3.1h0m0-10.7h0m0-5.4h0m.1 18.9h0m0-19.4h0m0 8.6h0m.1 17.9h0m0-9.5h0m.1-26.1h0m.1-4.3h0m0 28.3h0m.1 .9h0m.1-24.9h0m0 6.1h0m.1-7.7h0m.1 30.6h0m.1-6.3h0m0 2.9h0m.1-26.4h0m0 29.1h0m.1-27.6h0m0 34h0m.1-9.5h0m.1-11.6h0m0 9.2h0m.1-1.1h0m0 1.3h0m0 3.8h0m0-18.9h0m0 23.4h0m0-20h0m.1 18.9h0m0 4.2h0m0 3.6h0m.1-22.7h0m0-13.3h0m0 22.1h0m.1 9.7h0m.1-6.5h0m0-20.5h0m.1 29.5h0m.1-25.8h0m.1-4.7h0m0 19.6h0m0-24.3h0m0 33.2h0m.1-31.5h0m0-3.9h0m0 7h0m0-7.6h0m.1 10h0m0 4.2h0m.1 13.9h0m0-27.4h0m.1-2.8h0m0 9.2h0m0-4h0m0 36.7h0m.1-17.2h0m0 3.6h0m.1-14.6h0m.1 25.9h0m0-2.5h0m.1 9.4h0m.1-4.9h0m0-3.1h0m0-2.5h0m.1-33.4h0m0 4.6h0m0 34.4h0m.1-16.4h0m0-18.7h0m.1-2.3h0m0 24.9h0m0 2.1h0m.1-11.1h0m0-13.8h0m0 1h0m.2 16.7h0m0 25.7h0m.2-39.5h0m.1 20.3h0m0-15h0m.1 18.8h0m.1-21.8h0m0 27.5h0m0-11.8h0m.1-25.6h0m0 28.8h0m0-28.7h0m.1-6.2h0m0 39.7h0m0-23.1h0m0-22.7h0m.1 40.8h0m.1-18h0m0 17.8h0m0-13h0m.1 18.5h0m0 2.9h0m0-10.5h0m.1 11.2h0m0-44.2h0m0 40.1h0m0-7.8h0m0-20.7h0m.1-7.7h0m0 36.2h0m.1-5.2h0m0 8.7h0m0-29h0m.1-7.7h0m0 46.3h0m.1-37.5h0m0 40.8h0m.1-12.2h0m0-24.6h0m0-.9h0m.1 16.4h0m0 15.3h0m0-31h0m0 35.3h0m.1-55.8h0m0 9.2h0m0 23.8h0m0 12.4h0m0-31.3h0m.1 6.8h0m0 33.5h0m.1 .1h0m0-14h0m0-1.1h0m.1-6.6h0m.1 11.9h0m.1-10.7h0m0-39.7h0m0 38.1h0m0 20.2h0m.1-5.1h0m0-14.1h0m0 15.5h0m0-1.3h0m0-10.1h0m.1 4.1h0m0-21.2h0m.1 15.5h0m0 14.8h0m0-39.4h0m0 45.1h0m.1-1.7h0m.1-53.6h0m0 .9h0m0 39.5h0m.2-27.1h0m0-5h0m0 6.1h0m.1-11.7h0m0 11.1h0m0 20.5h0m.1 19.9h0m0-19.1h0m0-3.6h0m.1 12.8h0m0-40.9h0m0 39.1h0m.1-42.6h0m0 17.3h0m.1 16.7h0m0-23.1h0m0 46.5h0m0-52.9h0m.1-3.7h0m0 35.8h0m.1 9.6h0m0 6.9h0m0-18.8h0m0-19.1h0m.1-6.5h0m0 27.2h0m0-30.6h0m.1 26.7h0m0-29.4h0m0 12.3h0m0-9.5h0m.1 9.4h0m.2-6.5h0m0-.6h0m.1-.5h0m0-11.6h0m0 56.5h0m0 3.5h0m0 2.4h0m0-2.1h0m.1-5.2h0m0-37.7h0m0 44.1h0m0-26.9h0m0-31.9h0m.1 43.4h0m0-45.9h0m.1 50.2h0m0-4.8h0m0-32.8h0m0 23.7h0m0-38h0m.1 1.9h0m0 52.2h0m.1-31.5h0m0-2.4h0m.1 33.5h0m0-32.3h0m.1-1.4h0m.1 27.4h0m0-38.8h0m.1 40.3h0m0-7.6h0m.1 6.5h0m0 1.7h0m0-27.3h0m.1 32.9h0m0-33.5h0m0 17.8h0m0-30.2h0m.2 36h0m.1-38.2h0m0 48.4h0m.1-.4h0m0-34.2h0m.1 39.2h0m.1-56.3h0m0 47.7h0m0-30.9h0m0 27.2h0m.1 5.6h0m0-45h0m.1 1.1h0m.1-.8h0m0 43.8h0m.1 9.3h0m0-51.2h0m0 13.6h0m.1-13.1h0m0 11h0m.1-1.9h0m0 23.3h0m0-36.4h0m.1 5.5h0m0-1.3h0m0 31.7h0m.1-44.6h0m0 48.4h0m0-35.9h0m0-15.2h0m0 47.9h0m.1 3.3h0m0-33.4h0m0-6.3h0m.1 11.8h0m.1 5.8h0m0-12h0m.1 42.3h0m0-11.8h0m0-33.2h0m0-1.1h0m0 55.6h0m.1-46h0m0-4.6h0m0 10h0m0 23.3h0m.1-43.3h0m0 3.3h0m0 35.6h0m.1-19.1h0m0 20h0m.1-32.9h0m.1 29.7h0m0-19.5h0m0 2.6h0m.1 21.4h0m0-2.9h0m0-19.6h0m0 40.2h0m.1-17.7h0m0-38.8h0m0 17.7h0m0 20.9h0m0-18.1h0m0-5.9h0m.1 13.7h0m0 6.5h0m.1-43.6h0m.1 45.8h0m0-31.7h0m0-4.8h0m.1 34.6h0m0 7.7h0m0-24.8h0m.1 13.1h0m0-28.9h0m.1 39.1h0m0-4.2h0m0 .3h0m0 9.5h0m.1 12h0m0-18.9h0m0 11.9h0m0-14.7h0m0-1.5h0m.1 8.3h0m.1 .1h0m0-9.2h0m.1 20.8h0m0-2.4h0m.1-45.8h0m.1 1.5h0m0-15h0m0 8.4h0m0 9.2h0m0 35.6h0m.1 9.4h0m.1-63.2h0m0 43.4h0m0 1.9h0m.1 7.1h0m0-12.4h0m0-1.4h0m.1-12h0m.1-29.9h0m0 7.1h0m0 39h0m.2-18.6h0m0 25.2h0m0-1.1h0m.1-31.4h0m0 31.7h0m.1 13.1h0m0-19.1h0m0 8.3h0m0-37.6h0m0 41.7h0m0-41.2h0m0 .9h0m.1-7.2h0m0 49.2h0m0-27h0m0 34.9h0m0-20.2h0m.1-20.8h0m0 8h0m.1 36.1h0m0-55.7h0m.1 40.7h0m0-36.6h0m0 33.2h0m0-42.1h0m0 48.3h0m.1-26.8h0m.1 30.7h0m0 8.2h0m.1-43.9h0m0 16.1h0m0 16h0m.1-10.7h0m0-39h0m.1 10.2h0m0 49.7h0m0-34h0m0 6.3h0m0-12.1h0m.1 10.8h0m.1-3h0m.1-35h0m0 65.4h0m0 3h0m0-58.4h0m.1 44h0m0-29.4h0m0 34.7h0m0-20.4h0m.1 3.3h0m.1 20.2h0m0-6.8h0m0-55.4h0m0 48.7h0m.1-7.4h0m0 18.5h0m0-44.3h0m0 39.3h0m0-53.6h0m.1 45.7h0m0-22.2h0m0-16.2h0m0 17h0m0-16.9h0m0 38.9h0m.1 8.3h0m0-51h0m0 5.1h0m.1-9h0m0 52.9h0m0-1.9h0m.1-41.3h0m0-2.1h0m.1 64h0m0-40.4h0m0-.7h0m0 19.2h0m0-23.4h0m0 41.5h0m.1-14.2h0m0-25.5h0m0 28.8h0m0-32.4h0m0 21.7h0m.2-9.9h0m0 22.7h0m0-1.5h0m0-31.1h0m.1 25.4h0m0-5.3h0m0-46.3h0m0 18.1h0m0 6.8h0m0 16.2h0m0 22.2h0m.1-6.3h0m0 2.7h0m0-6.8h0m.1-46.8h0m0 24.3h0m0 24.7h0m0-55.1h0m.1 51.2h0m0-13.4h0m0-33.2h0m.1 29.7h0m0-5.3h0m0 16.8h0m0 .8h0m0-41h0m.1 40.6h0m0-23.4h0m.1-18.8h0m0 57.6h0m.1-7.7h0m0-55.2h0m0 47.6h0m.1-25.9h0m0-15.4h0m0 31.3h0m.1-22.9h0m0 51.8h0m.2-43.2h0m0-5.8h0m.1 29.5h0m.1-43.1h0m0 53h0m.1-10.4h0m0-2.2h0m.1 6.6h0m0-36.9h0m0 23.5h0m.1-22.2h0m0-.7h0m0-2.5h0m.2 30.1h0m.1-11.5h0m0 8.4h0m.1-25.8h0m0-3h0m.1 8h0m0-7.5h0m.1 54.8h0m0-42.4h0m.1-13.6h0m0 42.9h0m0-12h0m0 15.6h0m0-49.6h0m.1 18h0m0-25.2h0m0 47h0m.1 21.4h0m0-54.7h0m0 50.4h0m0-5.3h0m0-40.4h0m0-14.1h0m0 49h0m.1-21.1h0m0 20.4h0m0-27.7h0m.1 10.4h0m0 10.2h0m0-16.7h0m.1 12h0m0 3.9h0m0-10.1h0m0 32.2h0m0-8.2h0m0-22.3h0m0 14.8h0m.1-37.8h0m0-2.1h0m.1 51.4h0m0-9.4h0m0-41.8h0m.1 27h0m.1-18.2h0m.1 15.1h0m0-27h0m0 22.4h0m.1 36.7h0m0-53.9h0m0 52.7h0m0-48.5h0m.1 3.9h0m0-7.8h0m0-12.2h0m0 19h0m.1 4.1h0m0 34.3h0m.1-15.3h0m.1-30.5h0m.1 46.4h0m0-10.4h0m0 11.2h0m.1-46.1h0m0 45.3h0m0-14.6h0m0 21.2h0m.1-5.4h0m0-54.9h0m0 40.5h0m0-24h0m.1 21.3h0m0 22.2h0m0-45h0m0 10.2h0m.1-6.5h0m0 9.8h0m.1-11.9h0m0 22.8h0m.1 17.3h0m.1-12.6h0m.1-45.2h0m0 49.7h0m0-53.6h0m0 61.4h0m0-51.2h0m.1 52h0m.1-11.1h0m0-30.9h0m0 6.2h0m0 29.3h0m0-49.3h0m.2-4.6h0m0 16.7h0m.1 48.2h0m0-11.8h0m.1-13.9h0m0-4.4h0m0 1.1h0m0-31.1h0m.1 11.5h0m0 25h0m.1 5h0m0-3.2h0m.2-39.5h0m0 13.1h0m.1 24.7h0m.1-19.9h0m0 38.7h0m0-20h0m0 16.9h0m0-37.8h0m.1-8.6h0m.2 52.4h0m0-20.8h0m.1 17.7h0m0 8.2h0m.1-56.4h0m0 32.7h0m.1-41.5h0m.1 5.5h0m0 12.5h0m.1 2.5h0m0 30.4h0m0-35.4h0m0 14h0m0-15.4h0m.1 2.9h0m0 3.7h0m.1 35.3h0m0-43.1h0m0 29.2h0m.1 8.7h0m.1 .5h0m.1-36h0m.1 25.3h0m.1-8.3h0m0 27.7h0m0-22.4h0m0 4h0m.1 20.8h0m0-48.3h0m0 33.3h0m.1-9.4h0m.2 14.3h0m0-10.1h0m0 16.1h0m.1-1.9h0m0-24.1h0m.1 2.7h0m.1-35.9h0m.1 8.2h0m0 34.2h0m0 5.7h0m.1-3.8h0m0-13.5h0m0 33.7h0m.1-62.7h0m0 58.1h0m.1-53.7h0m0-2.1h0m.1 33.1h0m0-12.2h0m0-12.3h0m0 48.9h0m.1-50.7h0m0 15.5h0m0 13.3h0m.1-7.9h0m0 .3h0m0 29.7h0m0-20.6h0m.1-7.4h0m0 22h0m0-19.1h0m.1 17.2h0m0-13h0m.1 8.9h0m.1-34.5h0m0 23.1h0m0 .6h0m.1-31.7h0m0 35.2h0m0-1.5h0m0 11.7h0m0-24.9h0m.1 13.7h0m0-11.8h0m0-5.4h0m0 15.2h0m.1 17h0m.1-28.4h0m0 30.5h0m0-16.8h0m0-31.5h0m0 24.6h0m.1-3.7h0m.1 25.6h0m0-44.3h0m0 17.4h0m0-7.9h0m0 .6h0m.1 8.9h0m0 2.2h0m.1 23.7h0m0-18.3h0m0 12.3h0m0 9.5h0m0-32.4h0m0 26h0m0 2.9h0m0-5.2h0m.1 14.3h0m0-12h0m0-46.9h0m0 45.8h0m.1-9.8h0m0 13h0m0-20h0m0 3.3h0m0-48.3h0m.1 61.1h0m0 2.3h0m0-5.5h0m0-59.3h0m0 35.5h0m.1-17.2h0m0-2.2h0m0 8.8h0m.1-10.9h0m0-1.6h0m0 27.5h0m0-16.2h0m0-8.3h0m.1 12.3h0m0 6.6h0m0-9.3h0m.1 25.2h0m0-41.4h0m0-6h0m.1 26.5h0m0-18.4h0m0-.2h0m0 54.3h0m.1 5h0m0-10.3h0m0 1h0m.1-15.4h0m0 24.8h0m.1-8.5h0m0-14h0m0 12.7h0m.1-8.5h0m0-34.4h0m0 46.6h0m0-2h0m0-35.3h0m.1 29.4h0m0-35.2h0m0 3.3h0m.1-10.5h0m0 5.2h0m0 43.5h0m0 3.2h0m.1-12.5h0m0 8.5h0m.1 1.6h0m0 6.6h0m.1-43.6h0m0 32.3h0m0-38.7h0m.2 41.5h0m0-38.2h0m0 23.3h0m0 20.5h0m0 2.6h0m.1-66.4h0m0 57h0m0-35.7h0m.2 27.2h0m.2-20.3h0m0 .6h0m0 30.6h0m0-2h0m0-21.1h0m0-35.3h0m.1 65.9h0m0-49.5h0m0 30.4h0m0-8.7h0m.1-26.8h0m0 .6h0m0 6.6h0m0 27.3h0m0-6.9h0m.1-17.4h0m0 35.3h0m0-30.9h0m0 18.9h0m0-47.4h0m.1 60h0m0-24.9h0m0 4.5h0m0-15.7h0m0 44.4h0m.1-18.8h0m0 11.1h0m.1-40.8h0m0 1.3h0m0 25.1h0m0 23.4h0m.1 0h0m0-20.1h0m.1-48.5h0m0 32.3h0m0 25.3h0m0-10.7h0m0 17.6h0m.1-28.6h0m.1-22.4h0m0-8.5h0m0 14h0m.1 27.7h0m0-33.9h0m.1 3.9h0m.1-9.7h0m0-4h0m.1 71.6h0m0-63.4h0m0 16.3h0m.1-8.1h0m.1-14.2h0m0 3.8h0m.1-2.1h0m0-2.8h0m0 43.1h0m0-1.7h0m.1-24h0m.1-6.6h0m0-13.6h0m0 5h0m0 52.8h0m.1-43.4h0m0 49.7h0m.1-18.8h0m0-38.6h0m.1 57.5h0m0 3h0m0-55.4h0m0 44.1h0m.1-38h0m0 38.9h0m0-10.1h0m0-33.7h0m0-9h0m0 24h0m0 39.6h0m.1-37.6h0m0-7.9h0m0 4.1h0m0-7h0m0 .1h0m0-25.1h0m.1 19.2h0m0-11.1h0m.1 45.7h0m0 9.6h0m.1 12.2h0m0-43.3h0m.2 47.8h0m0-4.8h0m0-49.1h0m0 43.2h0m0 7.1h0m0-38.4h0m.1-22.2h0m0 32.5h0m0-17.1h0m.1-14.8h0m0 6.2h0m0-27h0m.1 66.7h0m0-31.3h0m0-15.6h0m.1-13.5h0m.1 37.8h0m0-32.1h0m0 46.4h0m0-20.6h0m.1-6h0m0 3.8h0m.1-4.2h0m0 .5h0m0-5.7h0m0-2.4h0m0 28.9h0m.1 19.6h0m0-52.5h0m0 32.6h0m.1-26.3h0m.1 14.4h0m0-36.2h0m.1 14.2h0m0 20.2h0m0-3.8h0m.1 50.5h0m0-14h0m.1-23.7h0m0 23.9h0m0-11.3h0m0-22.5h0m.1 9.6h0m0 19.7h0m0-4.5h0m0-43.5h0m.1-1.2h0m0 56.1h0m0-39.9h0m.1 41.4h0m.1-12.3h0m.1-33.7h0m0 16.3h0m0-34.8h0m.1-4.4h0m0 42h0m0-9h0m.1 42.8h0m0-39.8h0m0-13h0m.1-1.1h0m0-1.8h0m0 1.4h0m.1-7h0m0-1h0m0 2.5h0m.1 61.3h0m0 3.3h0m.1-40.2h0m0 1h0m0 39.4h0m0-60h0m0-8.6h0m0 63.3h0m.1-17.5h0m0-16.7h0m0-2.9h0m.1 1.8h0m0 6.6h0m0 4.2h0m0 3.7h0m.1 26h0m0-9.7h0m0-17.8h0m0 19.5h0m.1-59.3h0m0 26.6h0m0 38.9h0m.1-79.9h0m.1 78.2h0m0-56.4h0m0 15.6h0m.1-33.4h0m0 32.8h0m.1-1.4h0m0 9.3h0m0 29.6h0m.1 5.2h0m0-21.9h0m0 21.1h0m.1-75.4h0m0 26h0m0 38.2h0m0 12h0m.1-83.3h0m0 84.6h0m0-58.7h0m.1 31.9h0m0-1.4h0m0 25.2h0m.1-11.6h0m0-37h0m.1 49.4h0m.1-74.3h0m.1 55.1h0m0-44.7h0m.1 56.9h0m0-31h0m0 1.7h0m0-46.5h0m0 17.6h0m.1-15.4h0m0 27h0m.1 3.3h0m.1-.9h0m0 49.9h0m0-73.6h0m0 53.5h0m.1 22.9h0m.1-40.9h0m0 18.1h0m0-16.8h0m0-34.6h0m0-4.9h0m.1 52h0m0-1h0m0-52.6h0m.1 24.5h0m.1 3.5h0m0 33.1h0m0-47.8h0m0 15.9h0m.2 24.4h0m0-48.8h0m0 48.5h0m0 24.9h0m.1-12.3h0m.1-28h0m0-36.4h0m0 29.6h0m0-.4h0m.1 .9h0m0-3.5h0m0 4h0m.1 33.4h0m0 11.1h0m0-51.7h0m.1-13.3h0m.1-4.7h0m0 39.7h0m0 11.1h0m0 22.4h0m0-27.2h0m.2-55.3h0m0 16.7h0m0 28.2h0m0-42.9h0m.1 44.5h0m0 10.7h0m0 22.9h0m0-40.8h0m.1 19.9h0m0-53.6h0m0 24.4h0m0 53h0m.1-9.3h0m0-37.2h0m0 8.7h0m.1 5.2h0m.1 34h0m0-19.8h0m0-30.9h0m0-25.5h0m0 37.9h0m0 38.3h0m0-60h0m0 48h0m.1-70.4h0m0 7.1h0m0 5.4h0m.1 24.6h0m0 3.1h0m0-40.9h0m.1 25.7h0m0 14.9h0m0 35.1h0m0 3.8h0m.1-9.7h0m.1-15.4h0m0-21.8h0m0 29.1h0m.2-49.2h0m0 59.5h0m0-39h0m.1 22.4h0m.1-15.2h0m.1-10.6h0m0 2.7h0m0 17.7h0m0 21.3h0m.1-49h0m0 51.7h0m0-28.3h0m0 32.6h0m0-11.4h0m0-31.9h0m0 39.6h0m.1-35.2h0m0 29.2h0m0-68h0m0 66.6h0m.1-58.3h0m0 57.3h0m.2 4.5h0m0-67.4h0m0 8.3h0m0 22.7h0m.1-13h0m.1 37.7h0m0-59.2h0m0 38.7h0m.1-35.1h0m0 15.5h0m0 33.9h0m.1 13.7h0m0-61.2h0m0 69.7h0m0-13.5h0m0-14.3h0m0-46.5h0m.1 15.9h0m0 58.1h0m.1-69.7h0m0 46.1h0m0 13.9h0m0-4h0m0-17.6h0m0 18.1h0m0-5.2h0m.1-6.7h0m0 8.5h0m0 6.3h0m.1-26.4h0m0 12.6h0m0 21.8h0m0 6.3h0m.1-46.1h0m0 9.5h0m0-42.2h0m0 35.7h0m0 33.3h0m0-23.4h0m.1-12.6h0m0-12.9h0m.1 24h0m0-10.1h0m0-10h0m.1-17.1h0m0 25.8h0m0 7.7h0m0 6.4h0m.1 13.4h0m.1-24.6h0m0 8.4h0m0 26.6h0m.1 .9h0m0-9.7h0m0-17.1h0m.1 22h0m0-21.8h0m0-32.8h0m.1 61.5h0m0-3.8h0m0-6.5h0m0 6.6h0m.1 2h0m.1-10.5h0m0 4.4h0m.2-11.3h0m0-50.3h0m0 64.8h0m0 4.3h0m0-32.6h0m0 2.1h0m.1 1.8h0m0-12.3h0m0 13.3h0m0-37.5h0m0 15.1h0m0 33h0m0-24.8h0m.1 4.8h0m.1-28.3h0m0 43h0m0-45.4h0m.1 24.3h0m.1 5.4h0m0 45.2h0m.1-49.2h0m0 38h0m0-36h0m.1-13.8h0m.1 42h0m0-15.2h0m0-30h0m.1 49.2h0m.1-41.3h0m0 5h0m.1 3.8h0m0 17h0m0-23.7h0m0 5.6h0m.1 19.9h0m0 6.4h0m.1-64.7h0m0 35h0m0 43.8h0m0-29.8h0m.1-4.8h0m0 13.3h0m0 13h0m0-19.1h0m0 .7h0m0-22.4h0m.1 10.9h0m0 10h0m0 29.2h0m0-2h0m0-38h0m.1 32.2h0m0-45.1h0m0 47.5h0m.1-4.6h0m0-47.2h0m.1 5.9h0m0 41.2h0m0-8.7h0m0-27.2h0m.1 28.5h0m0-22.9h0m0 9.8h0m0 16.2h0m.1 8h0m0-27.4h0m.1 28.4h0m0-60.4h0m0-9.1h0m0 27.6h0m0 39.4h0m0-8.1h0m0-39.6h0m0 6.3h0m.1 6.6h0m0-21.9h0m0 72.6h0m.1-64.3h0m0 18.7h0m0-14.7h0m.1 11.1h0m.1-15h0m0 12.8h0m0-1.3h0m.1 24h0m0 27.2h0m0-38.8h0m0-41.5h0m0 6.7h0m.1 28.4h0m0-5.9h0m0 29.4h0m0-8.7h0m0-18.8h0m.1 20.1h0m0 5.3h0m.1-27.9h0m0 4.7h0m0 45h0m.1-84.1h0m0 64.2h0m0-24.7h0m.1 13.8h0m0 5.1h0m0 25.3h0m0-51.6h0m.3 8.2h0m0-7.6h0m0 3.3h0m0 30.2h0m0-13h0m.1 20.9h0m0-16.5h0m0 4.2h0m0 13.4h0m.1-56.9h0m0 71.3h0m0-58.9h0m.1 34.5h0m0-52.8h0m.1 50.1h0m0-23.7h0m0-31h0m0 65.5h0m.1 16.8h0m0-53.8h0m.1 28h0m0-24.8h0m0-3.4h0m0-19.2h0m0 57.5h0m.1-7.9h0m0-40.5h0m0 58.1h0m0 5h0m0-14.3h0m0-39.1h0m.1 37.7h0m0-2.5h0m.1-2.1h0m0-7.5h0m.1-8.5h0m0-19.2h0m0-9h0m0-24.8h0m.2 76.5h0m0-46.3h0m.1 37.2h0m.1 6.3h0m0-9.4h0m0-26.6h0m0 28.1h0m.1 16.2h0m0-38.1h0m0 19.4h0m0-6.3h0m0-4.5h0m0 10.2h0m.1-1h0m0-25.9h0m0 35.2h0m.1-4.7h0m0 .5h0m0 8.5h0m.1-43.5h0m0 1.7h0m0-8.5h0m.1-2.6h0m0 2.5h0m0 5.6h0m0 1.3h0m.1 51.4h0m.1-.5h0m0 2.2h0m0 4.8h0m0-7.9h0m.2 5.9h0m.1-49.4h0m0-4h0m0 13.3h0m.1 35h0m0-47.6h0m.1 39.1h0m0-21.7h0m0 12.5h0m.1-45.2h0m0 20.4h0m0-12h0m0 24.5h0m0-24.7h0m0 7.5h0m0 40.8h0m.1 8.3h0m0-46.3h0m0 51.9h0m0-7.7h0m0-62h0m.1 54.7h0m0-.8h0m0-37.4h0m0 49.1h0m.1-44.7h0m0-3.6h0m.1 13.5h0m0 10.5h0m0-21.9h0m0 35h0m0-11.8h0m0-26.7h0m.1 55h0m0-59.7h0m0 10h0m0-7h0m0 28.9h0m0 17h0m.1-12.2h0m0-13.1h0m0-15.1h0m.1 27h0m0-1.2h0m.1 13.9h0m.1 .6h0m0-39.8h0m0 6.1h0m0 1.9h0m.1-14.9h0m0 2.5h0m0-7.8h0m.1 46.1h0m0-38.2h0m0 17.2h0m0 10.9h0m.1-7.7h0m0 4.9h0m0 26.2h0m0-16.7h0m0 21.1h0m.2-55.2h0m0 34.2h0m0 8.4h0m.1-2h0m0-60.7h0m0 29h0m0 21.7h0m.1-20.9h0m.1-11.3h0m.1 0h0m.1 13.6h0m0-28.8h0m0 66.9h0m0-17.3h0m.1 5.8h0m0-48.2h0m0 53.3h0m0 11.7h0m0-9.2h0m.1-3.7h0m0-39.7h0m0 39h0m.1-53.1h0m0 28.4h0m0 2.7h0m0-.1h0m0 20.9h0m.1 1.7h0m0-10.3h0m0-25.7h0m.1-47.6h0m0 80.2h0m0-43h0m.1 11.1h0m0 20.3h0m0-17h0m0-28.5h0m.2 50.7h0m0-9.1h0m.1 20.1h0m0-3.1h0m.1-4h0m0-33.8h0m.1 37.7h0m0-38.6h0m.1-5.7h0m.1 31.5h0m0 19h0m0-35.7h0m0-24.7h0m.1 29.8h0m0 2.9h0m.1-3.6h0m0 26.8h0m0-15.3h0m.2-5.3h0m0 25.6h0m0-45.4h0m.1 42.8h0m0-60.8h0m0 17.5h0m0 12.5h0m.1-13.2h0m0 43.9h0m0-19.8h0m.1-6.7h0m.1 23h0m0 8.4h0m.1-43.9h0m0 18.8h0m.1-23.7h0m0 8.9h0m.1-2.5h0m0 19.7h0m0-38.2h0m.1 11.7h0m0 46.6h0m.1-25.7h0m0 23.4h0m0-86.6h0m.1 95h0m0-43.3h0m.1 13.9h0m0-6.4h0m.1 35h0m0-53.7h0m0-12.2h0m0 68.1h0m.1-50.8h0m.1 13.4h0m.1-12.8h0m.1 3.4h0m0-.2h0m0-.9h0m.1 32.6h0m0-1.5h0m0 17.6h0m0-94.4h0m.1 82.7h0m0 9.2h0m0-8.2h0m.1-20.8h0m0-42h0m0 25.9h0m.1-27.2h0m0 70.3h0m0-7.7h0m.1 6.2h0m.1-31.7h0m.1 18.6h0m0-33.3h0m0 46.6h0m0-60.1h0m.1 54h0m0 1.9h0m.1-3.3h0m0-24.8h0m.1 21.1h0m0-4.8h0m0-45.9h0m.1-5.2h0m0 32.8h0m0 8.5h0m.1-23.6h0m0-17.3h0m.2 69.9h0m0-49.1h0m0 27.1h0m.1 8.5h0m0-74h0m0 85.3h0m0-11.6h0m.1-42.7h0m0 19.4h0m0-9.8h0m0 17h0m.1 20.5h0m0-2.8h0m0 12.6h0m.2-52.3h0m0 18.3h0m0 14.3h0m0-13.7h0m0 10.9h0m0 26.8h0m.1-18.1h0m0-77.8h0m0 65.8h0m.2-45.1h0m.1 63h0m0-38h0m0 51.4h0m0-25.4h0m.1-31.2h0m0 15.6h0m.2 1.5h0m.1-32.4h0m0-3.3h0m0 39.5h0m.1-6.6h0m0-3.3h0m0 22h0m.1-31.5h0m0-15.3h0m0 54.3h0m.1-20.5h0m0-66.5h0m0 97.4h0m.1-60.7h0m.1 53.3h0m0-27.3h0m0-22.9h0m.1 .9h0m0 54.3h0m0-47.7h0m0-5.6h0m.1 10.8h0m0-2.1h0m.1 33.3h0m.1-8.5h0m0 .2h0m.1-12.7h0m.1-15.2h0m0-24.3h0m.1 22.3h0m0 1.8h0m0-10.2h0m.1 48.1h0m0-42h0m.1 44.2h0m0 7.7h0m0-.5h0m0-54.3h0m0-3.8h0m.1 8.3h0m.1 16.8h0m0-21.6h0m.1 12.4h0m0-23.6h0m.1 16.6h0m0-1.4h0m.2 15.5h0m.1-43.3h0m0 81.3h0m.2-62.1h0m0 49.6h0m0-22.1h0m0-22.8h0m.1 20.2h0m0-2.6h0m.1-.2h0m0 14.9h0m.1 24.9h0m0-49.2h0m.1-25.8h0m.1 19h0m.1 43.9h0m0-55.8h0m0 25.3h0m.1 22.8h0m0-35.8h0m0-16.6h0m0 45.4h0m.1 23.7h0m.1-31.6h0m0 31.5h0m0-33.4h0m.1-32.9h0m0 19.8h0m.2 60.6h0m0-53.6h0m0 8.9h0m.1 13.4h0m0 16.9h0m.1 .7h0m0-5.7h0m.1-37.7h0m0 12.6h0m.1 21.7h0m0-43.9h0m0 64.7h0m0-54h0m0-12.7h0m.1 54.3h0m0-66.7h0m0 54.1h0m.2-44.6h0m.1 60.9h0m0-60.6h0m0 16.8h0m0 4.8h0m0-22.4h0m0 .9h0m.1 59.2h0m0-8h0m0 4h0m0-50.8h0m.1-15.8h0m.1 65.9h0m.1-6.5h0m0-3.6h0m0-31.4h0m0-23.3h0m.1 60.9h0m0-34.8h0m.1 5.1h0m0 36.1h0m0-40.6h0m0-20.1h0m0 19.4h0m.1 1.2h0m.1-24.3h0m.1 19.4h0m.1 9.1h0m.1-6.1h0m0-3.5h0m0-12.2h0m0 12.7h0m0 4.1h0m.1 42.2h0m0-14.2h0m0 15.9h0m.1-67.7h0m0 11.8h0m.1-6.9h0m0-10.9h0m.1 3.8h0m.2 55.6h0m0-31h0m.2-14.9h0m0-7.2h0m0 1.7h0m.2 50.1h0m0-31h0m0 7.7h0m0 24.6h0m.1 2.3h0m.1-27.3h0m0-32.1h0m.1 37h0m0 7.9h0m0-38.5h0m0 9h0m0-6.4h0m0 63.8h0m.1-34.9h0m0-38.3h0m.1 6.4h0m.1 32h0m0 8.4h0m0 19.3h0m0-60.7h0m.1 10h0m0 5.9h0m.1-11.6h0m0-8.4h0m0 19.5h0m0-12.4h0m0-1.1h0m.1-6.9h0m0 9h0m0 23.5h0m.1-18.2h0m.1-4.4h0m.2 18.3h0m0-5.1h0m0 60.3h0m.1-24.6h0m.1-48.2h0m.2-7.3h0m0 64h0m0-55.5h0m.1-6.1h0m0 30.6h0m.1 39.3h0m.1-61.9h0m0-2h0m0 12.4h0m.1 39.1h0m.2-52.1h0m.1 61h0m0-61.2h0m.1 44h0m0-49.1h0m.1 2.7h0m0-.1h0m0-3.7h0m.1 47h0m.1-38.2h0m.1-10.1h0m0 6.6h0m0 68.4h0m.1-1.1h0m0-67.8h0m.1 50.9h0m.2-56.5h0m.2 .1h0m0 24.1h0m0 34.6h0m.1-11.1h0m.1-36.9h0m0 34.5h0m.1-40.7h0m.1 5.3h0m0 49.6h0m0-43.3h0m.2-23.3h0m0 12.4h0m.1-21.4h0m.1 21.3h0m0-3.1h0m0 15.7h0m0 51.6h0m0-61h0m.1 49.9h0m0-52.5h0m.3 62.7h0m.1-47.8h0m0 1.1h0m.1 35.5h0m.1-10.8h0m.2-39.2h0m.1 8.6h0m.2 37.2h0m.1-41.9h0m0 57.7h0m.1-52.8h0m.1-10.7h0m0 42.3h0m.1 6.2h0m.1-18.8h0m0-26.1h0m.1 61.3h0m0-16.3h0m.1-32.5h0m0-13.6h0m0 44.8h0m.1-37.1h0m0-14h0m0-8.3h0m.1 39.6h0m0-30.7h0m0 49.9h0m.1-38.8h0m0 42.6h0m0-40.7h0m0 .6h0m.1-15.8h0m0 7.1h0m.1 2.8h0m0 15h0m.1-34.6h0m0 15.7h0m.1 5.6h0m0-14.5h0m0 22.7h0m0 16.2h0m0-6.4h0m.1 17.5h0m0 22.9h0m.2-18.8h0m0 .2h0m.1-60.5h0m0 16.7h0m0 26.2h0m.1 21.8h0m0-46.4h0m0 24.3h0m.1-35h0m0 33.3h0m.1-14.5h0m.1 57h0m0-41.1h0m.1-34h0m0 8.7h0m.1 25.2h0m.1-10.5h0m0 28.2h0m.1 18.1h0m0-39.4h0m.1 .6h0m0-6.7h0m0-5.4h0m.2-14.3h0m0 50.1h0m0-19.3h0m.1-43.7h0m0 20.7h0m.2-15.2h0m.1 1.2h0m.2-1.2h0m.1 .2h0m0 28.1h0m0 5.1h0m.1-26.6h0m0 26.5h0m.1 2.4h0m.4 2.7h0m.1-31.3h0m.1-11.1h0m.1 34.2h0m0-27.8h0m0-3.7h0m.1 10.7h0m0 2.2h0m.1-12h0m0-1.1h0m.2 36.3h0m0 4.5h0m.1-33.3h0m0-14.3h0m.1 17.4h0m.1 38.4h0m0 1.7h0m0-5h0m0-29.5h0m0 25.2h0m.2 31.9h0m.2-57.9h0m0 14.5h0m0 11.8h0m0 4.8h0m.1 28h0m.2-51.2h0m.1-22.2h0m.2 9.8h0m0 45.5h0m.1-40.7h0m.1-9.3h0m.3 39.9h0m0-38.2h0m0-13.8h0m0 60.3h0m.1-50.6h0m0 8.1h0m.1-7.9h0m0-.1h0m0 55.2h0m.1-32.8h0m.1 25.5h0m0-13.4h0m.1-38.3h0m0 41.4h0m0-24.8h0m0-1.7h0m.3 61.1h0m.1-31.6h0m0-21.5h0m0 33.9h0m.1-9.1h0m0-37.5h0m.1 61.6h0m0-77.5h0m0 37.6h0m.1 23.4h0m0 3.1h0m.1-53.5h0m.1-5.4h0m.1 39.8h0m.2-22.8h0m0 25.3h0m.1 18.3h0m.2-55h0m0 67.6h0m.2-56.6h0m0 7.8h0m0-23.6h0m.2 46.6h0m.1-31.9h0m.2 9.2h0m0 4.3h0m.3 18.8h0m0-44.3h0m.5 .6h0m.2 10.5h0m0 .2h0m0 2.9h0m0-13.5h0m0 15.7h0m.1 32.8h0m0 16.3h0m0-65.2h0m.1 14.7h0m.1-.3h0m0 40.2h0m0 9.6h0m.2-65.7h0m.2 3.2h0m0-2h0m.1 70.4h0m0-31.3h0m.1-13.6h0m.1 23.5h0m.1-50.7h0m.1 13.8h0m0 21h0m.1 14.2h0m.2-32.5h0m.1 7.4h0m0 17.2h0m.1-6.9h0m0-31h0m.1 12.6h0m0 51.3h0m0-54.3h0m.1 6.8h0m0-1.2h0m.1 33.5h0m.2 6.8h0m.1-35h0m0 9.6h0m.1-17.3h0m0-15.2h0m0 20.1h0m.1-16h0m0 34.8h0m.2-26.6h0m0 .6h0m.2 6h0m0-19h0m0 41.7h0m.1-38.9h0m0 47.8h0m.1-48h0m.1 17.7h0m0 32.2h0m.1 17.8h0m.1-37.6h0m.1-22.6h0m0 4.4h0m.1 1.4h0m0-1.3h0m0-15.9h0m0 50.2h0m0-46h0m0 14.2h0m.1-.7h0m.1-13.8h0m0 8.2h0m.1-7.9h0m.1 42.6h0m.1-25.9h0m.1-1.1h0m.1-3.7h0m0 4.2h0m0-1.6h0m.1-4.1h0m0 29.2h0m0 14.1h0m.1-42.3h0m0-13.4h0m.1 50.1h0m.2-36.6h0m.1 9.4h0m0 43h0m.1-65.4h0m0 12.2h0m0 41.1h0m0-35.5h0m.1 11.8h0m.1-11.6h0m0 32.9h0m.1-39h0m0 19.9h0m.1-23.7h0m.1-9.3h0m.1 32h0m0-4.8h0m.2-6.1h0m.2-6.5h0m.2 15.7h0m.3-18.4h0m.3 7.8h0m.2 24.1h0m0 13.6h0m.1-51.2h0m0 15.4h0m.1-11.2h0m0 4.9h0m.1-1.4h0m.3 40.9h0m.1-5.2h0m0-35.6h0m.1 44.9h0m0-38.9h0m.1-11.1h0m.2 3.8h0m.3 35h0m.1-32.7h0m.3 3.8h0m.2 2.6h0m.1 1.2h0m.2-4.3h0m0 9.4h0m.3-8.9h0m.2-8.7h0m0 10.3h0m.2 .4h0m.1-3h0m.4 4h0m2.2-1.1h0" stroke="#e41a1c" stroke-width="2.4" stroke-linecap="round" fill="none"/>
<path d="M7.4 891.7h0m1.4 7.3h0m2.2 .1h0m.2-.6h0m.1-.2h0m.2-.8h0m.1-1.8h0m0 3.8h0m.2-.5h0m.3-4h0m0 2.7h0m.5 .4h0m.2-.7h0m.3-.8h0m.1 .4h0m.1 6.9h0m.5-4.1h0m.3-2.2h0m.7 5h0m.6 1.2h0m.6 1.1h0m.3-7h0m.2 .8h0m.1 .1h0m.2 .1h0m.4-3.1h0m1 10.8h0m.4-8.4h0m.3 1.4h0m.1-4.4h0m.4-.1h0m0-1.1h0m.4 10.6h0m.6 1.9h0m1.4-12.8h0m.4 6.5h0m.3-8.9h0m.5 3.1h0m.2-3h0m.1 18.6h0m.1-11.8h0m.7 12.3h0m.4-11.2h0m.5-9.3h0m.7 3.4h0m1-5.3h0m.4 12.5h0m.8 6.3h0m.7-3.4h0m.2 7.7h0m.1 3.6h0m.3-23.1h0m.3-2.2h0m.1 6.2h0m.3 1.4h0m.6-.4h0m.6 10.3h0m0-16.8h0m.3 23.3h0m.1-9h0m0-.9h0m0 7.8h0m0-3.8h0m0 1.1h0m.1-14.3h0m.4 .5h0m1 5.7h0m.2 8.8h0m.4-20.4h0m.3 5.2h0m.7 18.5h0m.1-3.3h0m.2-6.3h0m.1 3.2h0m.1-15.9h0m.1 18.8h0m.2-2.8h0m.4 6.3h0m.1-14.5h0m.1 11.3h0m0-.9h0m.5-25.7h0m.1 20.1h0m.2 8.8h0m0 .5h0m.2-2.6h0m.1-18.8h0m.2-4.9h0m0 20.8h0m.3-19.2h0m0 21.3h0m.2-16.1h0m1 1h0m.1-6.1h0m.1 1.1h0m.2 3.2h0m.6-3.2h0m0 5.9h0m.1 5.7h0m0-10.9h0m.4 20.9h0m.3-21.4h0m.1 7.3h0m.1-6h0m.1 21.6h0m.1-27h0m.5 36.1h0m.3-12.5h0m.7-13.1h0m.1-10.7h0m0 3.6h0m.7 5.1h0m.1 22.3h0m.2 6.9h0m.1-2.1h0m0-24.7h0m.2-2.5h0m.1 23h0m.4-2.7h0m.1-38.2h0m.2 14.7h0m.1 9.7h0m.4-16.4h0m.2 6.4h0m.1-15.4h0m0 7.3h0m.2 16.1h0m0-4.7h0m.1-17h0m.1 46.8h0m.2-9.2h0m0-37.7h0m.2 13.3h0m.1-6.5h0m0 8.7h0m.1 23.3h0m0-3.6h0m.1-1.4h0m.1-34.1h0m.1 6.7h0m.1 11.1h0m.2-19.7h0m.1 4.8h0m.1 12.6h0m.5 8.4h0m.2-24h0m0 6.3h0m.1-10h0m.1 5.4h0m0 0h0m.5 19.4h0m.1-13h0m.3-6h0m.1 31.4h0m.4-18h0m0-20.2h0m0 22.7h0m.1-22.9h0m.1 35.8h0m.1-25.1h0m.2 39.9h0m.1-46h0m.2 40.7h0m0-36.2h0m.1-7.3h0m.2 43.1h0m0-25.7h0m0-16.9h0m.1 3.6h0m.3 56h0m.1-46h0m.1-3.7h0m0 34.7h0m0-36.4h0m.4-8.9h0m.5 8.6h0m.2 10.3h0m0-14.3h0m.1-1.5h0m.1 47.7h0m0 1.6h0m.4-49.4h0m.5-1.3h0m.2 .9h0m.3 1.8h0m.1-.5h0m0 17.1h0m0-17.4h0m.1 40.8h0m0-38.7h0m.1 58.6h0m.2-1.7h0m0-58h0m.1 3.4h0m.9 56h0m0-18.5h0m.5-2.9h0m0-32.5h0m.1-6.5h0m.2 43.7h0m.2-31.7h0m0-1.4h0m0 51.5h0m.1-43h0m.3 22.9h0m.3-47.3h0m.7 45.4h0m0-1h0m.1-5.1h0m0 23.2h0m.2-61.8h0m0-1.6h0m.2 10.2h0m.1 56.1h0m0-63.8h0m0 15.4h0m.1-18.7h0m.1 33.8h0m0-25.8h0m.3 36.9h0m.1-44.1h0m.4 62.4h0m0-18.5h0m.3-39.9h0m.2 14.3h0m0 3.9h0m.2-22.9h0m0 .7h0m.1 1.9h0m0-1.8h0m.3 49.1h0m.2-23.6h0m.2-16.9h0m.1 53h0m.4 7.3h0m0-1.3h0m.2-61.1h0m.2 44.3h0m0 5.3h0m.1-1.6h0m.3 1h0m.1-43h0m.4 48.7h0m0-42.9h0m0 50.1h0m0-54.7h0m.2 .9h0m.3 49.2h0m.5-53h0m.1 57.5h0m0-29.4h0m.4 21.9h0m.2-57.2h0m0 35.7h0m.2-39.3h0m0 48.4h0m.3 13.3h0m.1 2.1h0m.1-5h0m.1-47.3h0m.8 14.7h0m.2-17.7h0m.2 15h0m0-6.8h0m.3 35.9h0m.2-18.7h0m.4-28.8h0m.2 60.2h0m.1-45.9h0m.1 23.8h0m.1 16.7h0m.1-56h0m.3 51.7h0m.1-19.6h0m.2-19.3h0m.7-12h0m.3-1.7h0m0 .8h0m.1-.5h0m0 24.7h0m.2 36.1h0m0-5.1h0m0-1.4h0m.4 6.1h0m.1-.5h0m.4-57.1h0m.4 .6h0m0-19.5h0m.6 29h0m0 .3h0m.1 46.5h0m.1-59.8h0m.2-7.6h0m.1 34h0m.4 16.5h0m1.1-37.7h0m0 62h0m.2-37.5h0m.2-36.3h0m.1 10h0m.3 5.5h0m.1 26.4h0m.1 5.9h0m.4-44.9h0m.1 71.5h0m.3-64.7h0m0-2h0m.1 15.2h0m.1 40.4h0m.1-71.5h0m.6 18.2h0m.1-16.7h0m0 26.7h0m.3 21.5h0m.4-5.6h0m.3 30.9h0m0-73.3h0m.2 15.5h0m0 65.8h0m.3-29.3h0m.3-51h0m0 58.5h0m.1-32h0m.3-26.9h0m.5 16.7h0m0 35.6h0m.2-1.1h0m.1 9.2h0m0-55h0m.1 77h0m.2-18.7h0m.1-41.1h0m0-21.4h0m0 2.4h0m.1 78.7h0m.1-75.5h0m.1 19.9h0m0-22.3h0m.2 78h0m.1-3h0m.2-50h0m0 50.7h0m.1-78h0m.2 2.2h0m.2-5.4h0m0 1.8h0m.2 .5h0m.1 4.7h0m0 5.1h0m.1 30.2h0m0 8.4h0m.1 10.5h0m.2-58.8h0m.2 64.4h0m0-67.8h0m.4 5h0m.1 20.7h0m.1 28.1h0m.1-53.5h0m0 63.4h0m0-45.8h0m.2-12.2h0m.2 16h0m.1 42.4h0m.2-57.9h0m.1 46.2h0m0-44.8h0m.3 76.2h0m.1-58.9h0m.1-22.9h0m.2 .7h0m0 43.1h0m.1-43.9h0m.1 33.7h0m0-26.2h0m0 3.7h0m.1 1.5h0m.1-9.5h0m.1 10.8h0m0 67.1h0m.1-36.5h0m0-51.8h0m.1 66.2h0m0-62.4h0m.2 9.2h0m0 44.2h0m.1-55.8h0m0-1h0m0 2.4h0m0 10.5h0m0 66.9h0m.1-70.6h0m.1-8.8h0m.2 14h0m.1 62.7h0m0-10.2h0m0-17h0m.2-40.6h0m0 69.1h0m.1-50.7h0m.1-18.8h0m0 81h0m.1-71.4h0m0-19.2h0m.2 77.3h0m0-33.9h0m0-18h0m.1 54.5h0m0-80.1h0m0 22.3h0m.1 54.3h0m0 5.2h0m.1-34.2h0m.3 31.1h0m0-38.2h0m.2-34.6h0m.1 77.6h0m.1-36.4h0m.1-3.8h0m0-17h0m0-23.3h0m.1 5.6h0m.1 16.6h0m.1-20.9h0m.1-4.7h0m.1 1.4h0m.1 9.5h0m0 23.6h0m.2-31.1h0m.1-2.5h0m0 33.2h0m.1-23.1h0m0 63.9h0m.1-40.7h0m.1 31.7h0m0-10.9h0m.1-43h0m0 53h0m0-63.6h0m.2 68.6h0m.1-62.9h0m0 24.4h0m.1-18.7h0m0 58.1h0m0-11.7h0m.2-42.9h0m.1 56h0m0-52h0m.1-16.6h0m.1 2h0m0-.2h0m.1 7.5h0m0-11.5h0m.1 9.1h0m.1 18.9h0m0-22.1h0m.2 17.2h0m0 61.9h0m.1-76.4h0m0-4.1h0m.1 37.9h0m0-35.2h0m.2 77h0m0-83.1h0m.1-3.5h0m0 9.2h0m.1 58.6h0m0-68.8h0m.1 30.7h0m0-16.6h0m0-2.4h0m.1 5.4h0m.1 19.5h0m0-30.9h0m.1 35.8h0m0-5.6h0m.1-25h0m0-2.9h0m.1 29.5h0m0-7.6h0m0 31.1h0m.1-34.3h0m.1-17.1h0m.1 16h0m.1 39.1h0m.2-50.2h0m0 19.2h0m.1-27.9h0m.1 8.3h0m.2-11.4h0m0 70.8h0m.1 1.4h0m.2-59.9h0m.1 69.1h0m0-79.9h0m0 22.5h0m.1-27.2h0m0 27.1h0m0-17.7h0m0 81.9h0m.1-79.6h0m0-10.5h0m.1 7.4h0m.1 4.8h0m.1 83.7h0m0-3.4h0m.1-86.3h0m0 19.2h0m.2 64.9h0m0-18.7h0m.1-70.5h0m.1-2.6h0m0 10.3h0m0-4.8h0m.1-4.2h0m.1 .1h0m0 15.4h0m.1-4.5h0m0 58.8h0m0-31.4h0m.1 55.1h0m0-88.4h0m.1 .8h0m.1-2.3h0m.3-2.9h0m0 11.7h0m.1-10.9h0m0 .5h0m0 59.4h0m.2-40.8h0m.1-15.7h0m0 84.8h0m0-83.5h0m.3 89.5h0m0-94.1h0m.1 21.9h0m0-5.5h0m0 38.7h0m.1-43.3h0m.1 45.2h0m0 7.2h0m0 30.1h0m0-96.2h0m0 .5h0m.3 2.1h0m.1 91h0m.2-76.7h0m.2-10.5h0m0-3.8h0m0 91.5h0m0-4.9h0m.1 .2h0m0-1.6h0m.2-65.9h0m.1-8.3h0m.2 5.9h0m0 70.6h0m0-75.5h0m.2 60.1h0m.1-14.7h0m.1 29.1h0m0-66.3h0m.3 71.8h0m.3-19.4h0m.1-25.6h0m.1-28.2h0m0-2.2h0m.6 19.7h0m0 30.6h0m.1-49.8h0m0 76.5h0m0-78.2h0m.1 0h0m0 72.5h0m0 10.3h0m.1-36.7h0m0-36.9h0m.1 69.4h0m0-25.5h0m.2-56.8h0m0 27.8h0m.2 56.3h0m.1-53.8h0m0-36.9h0m0 83.5h0m.1-24.5h0m0-67.3h0m.1 22.8h0m.1 62.6h0m.1-69.8h0m0 9.6h0m0 7.1h0m.1-11.8h0m0 4.7h0m.1-3h0m.1 41.8h0m0-30.3h0m.2-8h0m0-13.1h0m0 22.9h0m0-16.5h0m.2 30.3h0m0-34.1h0m.1 18.4h0m.1 69.2h0m0-83.5h0m0 37.2h0m.2-40.5h0m0 30.4h0m.1-32.1h0m.2 3.5h0m0-.4h0m.1 7.6h0m0 49.4h0m0 10.9h0m.1-68.3h0m0-.2h0m0 1.2h0m0 20.1h0m.1-21h0m.1-.1h0m.1 46.6h0m0-35.1h0m0-6.2h0m0-3.6h0m.1 2h0m0 59h0m.1 13.4h0m.1-34.2h0m.1-40.4h0m0 40h0m0 27.8h0m0 18.9h0m.1-84.3h0m0 2.2h0m.1 11.4h0m0 47.4h0m0 .5h0m.1-11.9h0m0-21.1h0m.1 23.2h0m0-24.5h0m.1 38.4h0m0 15h0m0-15.1h0m.1-1.7h0m.1 0h0m0 22.2h0m0-18.3h0m.1-3.9h0m.2-7.7h0m0-52.8h0m0 57.8h0m.1-.7h0m0-58.3h0m0-.2h0m0 68.5h0m.1-70.9h0m0 3.2h0m.3 55.3h0m.1-1.5h0m0-56.3h0m.2 2h0m0 2.7h0m0 68.8h0m0-74h0m0 65.4h0m0-66.8h0m.1 14.5h0m0 70.6h0m0-55.6h0m0 46.2h0m.1 10.8h0m.1-73.1h0m0 68.5h0m.1-22h0m0 6h0m0-34.8h0m.1 53.2h0m0-59.2h0m.1-15h0m.3-4.3h0m0 54h0m.2 3.8h0m0-24.4h0m0 28.6h0m.2 20.5h0m.1-84.7h0m0 80.1h0m.2-68.5h0m0-1.7h0m.2 68.5h0m0-2.1h0m.1 5.1h0m0-57.4h0m.1 33.4h0m0 25h0m0-49.9h0m.1 31.6h0m.1-44.5h0m0 47.2h0m.1-6.4h0m0 13.7h0m.1 1.1h0m.1-.5h0m0 5.2h0m.1-46.6h0m0 42.2h0m.1-15.5h0m0-59.1h0m0 77.4h0m0-70.5h0m.2 51.7h0m.2-58.3h0m0 33.7h0m.1-.7h0m.1-36.7h0m0 58.5h0m0-.7h0m0-46.9h0m.1-8h0m0 49.6h0m0 25.7h0m.1-73.3h0m.1 72.5h0m0-17.9h0m.1 22.4h0m0-15.7h0m.2 17.1h0m.1-3.3h0m.2 3.5h0m.1-22.8h0m0-24.3h0m0-25.6h0m.1 52.8h0m0-30.8h0m0 43.1h0m.1-2.8h0m0 11.1h0m.1-39.4h0m.1-7.2h0m0 37.8h0m.1-42.3h0m0 10.3h0m0 20.3h0m0-5h0m0-1.5h0m0-1.5h0m0 13.1h0m.1 16.2h0m.1-49.6h0m0 45.1h0m.2-78.6h0m0 57.4h0m.1-8.2h0m.1-17.2h0m0 40.1h0m.1-77.8h0m0 5.9h0m.1-5.7h0m0 83.3h0m.1-1.5h0m0-.9h0m.1-20.4h0m0-57.4h0m.1 39.3h0m.1 39.8h0m0-29.4h0m0 31.2h0m0-41.9h0m.2 14.8h0m0 24.9h0m0-17.6h0m.2 19h0m.1-18.6h0m0-48.7h0m0-16.6h0m.1 61.6h0m.1-4.7h0m.1 28.2h0m0-28.3h0m0 1.6h0m.1-17.2h0m0 41h0m.1-46h0m.3 8.4h0m.2 24.9h0m0-66.2h0m.3 80.4h0m.1-2.2h0m0-61h0m.1 20.8h0m.1-38.6h0m0 1.3h0m0 49.6h0m.1 26.2h0m0 2.5h0m.1-21h0m0-61.9h0m.1 79.5h0m0-64.8h0m.1-2.9h0m0-4.2h0m0 54.9h0m.2 2.3h0m0-43.9h0m.1 24.8h0m.1 21.2h0m0-18.7h0m.1-10h0m.1 24.9h0m.1-61.6h0m0 57.8h0m.1-12.8h0m0-29.2h0m.1-13.1h0m0 55.2h0m0-20.3h0m0 22.3h0m.2 19.5h0m0-41.2h0m0 28.9h0m.1-68.4h0m0 50.5h0m0 12.8h0m.2 10.8h0m.1-2.2h0m0-70.1h0m0-1.2h0m.1 3.4h0m0-3.7h0m.1-1.6h0m0 32.9h0m.1 50.8h0m0-39.6h0m0-44.4h0m0 3.9h0m.1 36.5h0m0 25h0m.2-41.4h0m0 39.3h0m0-7.9h0m0-13.2h0m0 8.6h0m.1-11.7h0m0-36.9h0m.1 55.8h0m0-55.7h0m.1 3h0m0 40h0m.1 28.8h0m.1-61.6h0m0 68.4h0m0-15.5h0m.1-61.4h0m0 68.6h0m0-11.7h0m.1 18.1h0m0 1.1h0m.1-43.5h0m0 8.1h0m0 14.2h0m0-58.6h0m.2 5.9h0m.1 53.7h0m0-9.1h0m.1-3.5h0m0 26.7h0m0-30.1h0m.1-19.9h0m.1 50.5h0m0 4.2h0m.1-22.1h0m0-14.9h0m.1 4.8h0m0-2.7h0m0 6.2h0m.1 32.9h0m.1-78.2h0m.1 5.5h0m0 73.7h0m0-4.3h0m.1-27.4h0m0 27.6h0m0-4.3h0m0-38.5h0m.1 38.8h0m0 7.2h0m0-.8h0m.2-19.3h0m0-20.1h0m0-41.2h0m0 5.4h0m.1 78.8h0m0-44.8h0m0-30.3h0m0 49.5h0m.1-8.4h0m0 30.1h0m0-17.1h0m0-19.1h0m.1-23.2h0m0 27.1h0m.1-28h0m0 19.9h0m.1-2.6h0m0 41.2h0m0-5.1h0m.1-11.7h0m0-62.7h0m.1 42.7h0m0 7.2h0m.1-3.7h0m0 7.1h0m0 12.9h0m.1-3.1h0m0-13h0m.1 13.6h0m0-28.9h0m0 29.2h0m0 4.9h0m.1-40h0m.1 13.8h0m.1-2.7h0m0-3.8h0m.1 27.2h0m.1-1.4h0m0 18.2h0m.1-26.6h0m.1 18.3h0m0-72.7h0m0 43.7h0m.1 2.5h0m.2-4.4h0m0 27.7h0m.1-14.2h0m0-11.6h0m0-34h0m.1 41.2h0m0 2.8h0m.1 17h0m0-7.9h0m0 3h0m0-6.7h0m0-15.5h0m.1 14h0m0 7.6h0m0-4.4h0m.1-10.1h0m0 9.4h0m0-19.7h0m0 7.7h0m.1-4.7h0m0-49.4h0m.1 49h0m0 28.8h0m.1-4.6h0m0 10.1h0m0-34.2h0m0 8.6h0m.1-13.1h0m0 20.3h0m.1 8.3h0m0-19.1h0m0-10.6h0m0 12.8h0m.1-12.6h0m.1 28.9h0m0-16.5h0m0-8.6h0m0 13h0m.1-12.6h0m0 37.6h0m.1-9.5h0m.1 9.7h0m0 6.2h0m.1-49.1h0m0 16.7h0m.1 17.3h0m0-58.1h0m0 35.9h0m.1-16.7h0m.1 3.2h0m0 35h0m.1-39.3h0m.1 40.4h0m0 6h0m0-45.6h0m0 11.3h0m0 15.4h0m.1-15.9h0m0-23.3h0m.2 43.3h0m0 13h0m0-72.8h0m.1 53.9h0m0-49.2h0m.1 71.9h0m0-37.1h0m0 36.5h0m0-29.3h0m.1-7h0m0 .6h0m0-17.7h0m.1 32.6h0m.1 19.7h0m0-27h0m.1-15.9h0m0 38.3h0m.1-63.8h0m0 67.4h0m0 .3h0m.2-5.8h0m0-39.9h0m.1 39.4h0m0-43.3h0m0-4.5h0m.1 1.7h0m0 51h0m0-14.2h0m0 6.8h0m.1 2.6h0m0-4.6h0m0 1.9h0m0-47.7h0m.1 23.9h0m0-11h0m0-4.1h0m0 44.3h0m.1-29.4h0m0 35.1h0m0-11.9h0m.1 13.8h0m0-4.6h0m.1-33.6h0m.1-17.6h0m0 9.1h0m0 36.8h0m0-28.2h0m0 8.8h0m0-26.5h0m0 21.8h0m0-10.8h0m.1 39.7h0m0-15.4h0m0 17.4h0m.1-27h0m0 26.2h0m.1-32.8h0m.1 22.4h0m0-9.6h0m0 10.4h0m.1-24.5h0m0 27.8h0m0 3.6h0m0-13.5h0m.1-49.4h0m0 59.2h0m0-25.4h0m0-35.6h0m.1 48.4h0m0-4.7h0m0-11h0m.1 23.4h0m0 3.7h0m.1-23.9h0m0-24.5h0m0 25.4h0m.1 2.5h0m0 22.8h0m0-3.6h0m.1-7.4h0m0-2h0m0-7.9h0m.1 2.8h0m0 18.5h0m0-13.2h0m0 8.3h0m.1-55.1h0m0 7.8h0m.1 15.9h0m0-10.8h0m0 24.2h0m.1 23.4h0m0-18.3h0m0 18.3h0m0-46.2h0m.1 26h0m.1 4.6h0m0 12.9h0m0-3h0m0-43.7h0m.1-3.4h0m0 11.3h0m.1 22.1h0m.1 11.6h0m0-32.7h0m.1 25.7h0m0-9.7h0m0-.4h0m0 15.7h0m0 13.2h0m.1 .6h0m0-53.8h0m0-1.8h0m.1-13.5h0m.1 57h0m.1 10.7h0m0-29.1h0m.1-.5h0m0 28.7h0m0-.6h0m0-34.3h0m.1 16.9h0m0 21.1h0m0-68.7h0m.1 64.9h0m0-25.3h0m0 8.6h0m0-18.4h0m0 2.9h0m0 3.3h0m.1 33.4h0m.1-11.5h0m0-18.6h0m0-2.2h0m0-6.2h0m0 .5h0m0 4.8h0m.1 4.3h0m0 15.2h0m0-17.1h0m0 14.4h0m.1-15.5h0m0-11.9h0m0 6.2h0m0-1.2h0m.1 4.3h0m0-5.6h0m0 17.4h0m0-17h0m.1 27.7h0m0-2h0m.1-53.4h0m0 47.5h0m0 17.2h0m.1-15h0m0-15h0m.1 11.9h0m0-30.2h0m.1 45h0m0-34h0m.1 20.8h0m0-16.9h0m.1 7.8h0m.1-20.1h0m.1 9.7h0m0 5.5h0m0 22.1h0m0-28.8h0m0-3.1h0m.1-12.5h0m0 13.1h0m.1 5.6h0m0-32.1h0m0 8.6h0m.2-10.3h0m0 36.1h0m.1 1.2h0m0-11.7h0m0 35h0m.2-44.9h0m.1 14.5h0m0 31h0m.1-21.6h0m0 1.9h0m0-3.3h0m.1-6.3h0m0 26.8h0m.1-33.7h0m.1 36.7h0m0-23.4h0m0 20.9h0m.1-14.3h0m0-17h0m.1 4h0m0-.4h0m0 16.5h0m0-9.5h0m.1-24.7h0m0 43.7h0m.1 3.2h0m0-43.8h0m0 5.4h0m.1 .6h0m0 40.8h0m.1-30.7h0m0 32.8h0m.2-42.3h0m.2 11h0m.1-11.8h0m0 2.7h0m.2 16.8h0m.2-7.1h0m.1-11h0m.1-3.8h0m.1-3.6h0m.5 16h0m.8 3.1h0m.5-12.5h0" stroke="#377eb8" stroke-width="2.4" stroke-linecap="round" fill="none"/>
<text x="3.2" y="846.3" font-size="14">I</text>
<text x="7.4" y="904.5" font-size="8.2" text-anchor="middle" transform="rotate(-90 7.4 904.5)" fill="#707070">tSNE_2</text>
<text x="71.8" y="981.8" font-size="8.2" text-anchor="middle" fill="#7a7a7a">tSNE_1</text>
<rect x="148.8" y="896.6" width="3.4" height="3.4" fill="#e41a1c"/><rect x="148.8" y="905" width="3.4" height="3.4" fill="#2f8fb5"/>
<text x="152.9" y="901.5" font-size="8.5">NR</text>
<text x="152.9" y="910" font-size="8.5">R</text>
<text x="90.8" y="1001" font-size="14.5" text-anchor="middle">GSE120575</text>
</g>
<g id="J">
<path d="M233.2 836V972" stroke="#f3f3f3" stroke-width="1"/>
<path d="M340.8 836V972" stroke="#f3f3f3" stroke-width="1"/>
<path d="M169.3 845.4H385.7" stroke="#f3f3f3" stroke-width="1"/>
<path d="M169.3 874.2H385.7" stroke="#f3f3f3" stroke-width="1"/>
<path d="M169.3 931.8H385.7" stroke="#f3f3f3" stroke-width="1"/>
<path d="M169.3 960.6H385.7" stroke="#f3f3f3" stroke-width="1"/>
<path d="M286.6 836.3V972M169.3 903H385.7" stroke="#8e8e8e" stroke-width="0.8" fill="none"/>
<path d="M216.4 894.1h0m.3 11.3h0m.4-2.2h0m.2-1.7h0m.2 .3h0m.2 .9h0m.2-2.7h0m.3-3.8h0m0 7.2h0m.2-5.5h0m.5 3.5h0m.1-6.1h0m0 2.5h0m1.3-7.6h0m.3 6.8h0m.2 5.7h0m.1-1.9h0m.3-4.3h0m.2 8.4h0m.1-13h0m.5 11.4h0m.1 1.9h0m0-4h0m.8-10.2h0m.1 3.9h0m.3 3.8h0m.1-3.6h0m.2-3.1h0m0 3.2h0m.1-1.4h0m.3 .8h0m.2-.8h0m.1 4.5h0m.1-2.6h0m.1 1.5h0m1-1.7h0m0 .2h0m.3 3.2h0m.1-5.9h0m.2 1.5h0m.1 .7h0m0 4h0m0 4.2h0m0-12.8h0m.1 3.5h0m.3 2h0m0-4.6h0m.1 2.1h0m.3 8h0m.1-9.5h0m0 3h0m.1 4.4h0m.3-3.3h0m.2 6.1h0m0-8.4h0m.5 .5h0m0 2.1h0m0-.5h0m.1 15.2h0m.1-15.2h0m.2 .8h0m0 15h0m.4-2.4h0m0-15.9h0m0 17.2h0m.1-15.9h0m0 1.4h0m0-5.1h0m.1 3.2h0m.1-1.7h0m.1 1.4h0m.1 16.6h0m.1-15.2h0m.1 17.8h0m.2-22.7h0m.1 3.5h0m.1 1.5h0m0 11.6h0m.2-9.9h0m0-.2h0m.8 3.7h0m.1 13.8h0m.1-19.2h0m0-2.4h0m.2 16.4h0m0-9.9h0m.1-1.2h0m0 2.5h0m0 14h0m.2-10.6h0m.1-5.9h0m0 15.4h0m.1-20.9h0m.1 17.5h0m0-12.1h0m.1 14.1h0m.1 2.5h0m.3-10.2h0m.3 7.2h0m0-18.3h0m.4-.7h0m.1 20.3h0m.1-4.7h0m.1-10.3h0m.1-4.6h0m.2 6.6h0m.1 13.6h0m0-8.8h0m0-5.3h0m.2-1.8h0m.1 4.3h0m.1-7.5h0m.1 5.2h0m.3-6.5h0m0 .6h0m.1 6.8h0m0 12.3h0m.1-14.4h0m0-1.8h0m.1 11.7h0m0-8.4h0m.1 2.6h0m.3 1.2h0m.2 4.9h0m.1-3h0m.1 4.8h0m.1-7.9h0m.3-1.1h0m.1-2.6h0m.1-1.1h0m0 2.8h0m.2-6.6h0m0 7.2h0m.1 10.7h0m0 2.3h0m.1-22.2h0m0 5.7h0m.1-1.3h0m0 5.5h0m.1-4.2h0m.1 7.8h0m0-4h0m.2 10.6h0m0-7.5h0m.1 2.1h0m0-10.2h0m.1 2.3h0m0-7.4h0m.1 5.8h0m.1 .7h0m0 17.1h0m.2 2.4h0m.2-21.2h0m0 13.9h0m.1-1h0m.1-5.4h0m0-13.7h0m.2 19.4h0m0-19.6h0m0 22.1h0m0-10.3h0m.1-11.1h0m0 22.2h0m0-1.3h0m.1-12.3h0m0-10.5h0m0 6.6h0m0 11.8h0m.1-1.6h0m.2-14h0m.1 6h0m0 1.3h0m.1 7.1h0m.1-17.3h0m.2 7.3h0m0 1.6h0m0-2.5h0m.1 2.3h0m0-.8h0m.1 2.1h0m0-1.8h0m0-2.4h0m.1 6.1h0m.1 8.4h0m0-20.3h0m.1 8.3h0m.1-9.7h0m.1 7h0m.1 1.6h0m0 13.9h0m0-5.2h0m.1-15.7h0m.1 2.6h0m.2-1.1h0m0 .1h0m.2 5.4h0m.1-9.1h0m.1 2.9h0m0 11.5h0m.3-8.7h0m0 15.9h0m.1-7.6h0m0-2h0m.1-4.4h0m0 15h0m.1-4.6h0m0-13.4h0m0 23.9h0m0-8.3h0m0-14.6h0m.1 13.8h0m0-20.5h0m0 25.9h0m.1 .5h0m0-23.9h0m.4 6.9h0m.1-2.6h0m0 20h0m.1-15.1h0m.2 16.5h0m0-24.3h0m.1 24.3h0m0-1.6h0m0-16h0m.1-4.6h0m0 3.7h0m.1-.4h0m0 16.2h0m0 3.8h0m.1-10.2h0m0-4.8h0m.1-6.8h0m0 16.7h0m0 1.6h0m.1-22.9h0m0 27.8h0m0-1h0m.3-2.8h0m0-19h0m0-9h0m.1 25.4h0m0-4.5h0m0-17.1h0m.1 13.8h0m0 8.1h0m0-23.4h0m.1 27.2h0m0-8.6h0m0 7.1h0m.1-12.8h0m0 7.2h0m0 3.8h0m.1-19.2h0m.1 26.2h0m.1-30.8h0m0 25.4h0m0-2.9h0m.1-22.9h0m.1 5.1h0m.1 2.6h0m0 6.3h0m0 8.3h0m0 .3h0m.1 1.3h0m.1-8.9h0m0 13.2h0m.2-18.8h0m0 11.8h0m.1 3.1h0m0 1.9h0m0-17.8h0m.1 16h0m0 2.7h0m.1-11.7h0m.1 8.9h0m0-20.8h0m0 29h0m0-10.2h0m0-22.8h0m0 20.3h0m0-4.5h0m0 8.8h0m.1-18.8h0m0 12.2h0m.1 7.7h0m.1 .5h0m0-23.2h0m0 23.8h0m0-6.4h0m.3 1.9h0m.1 1.5h0m0-5.2h0m.1-.1h0m0 10.3h0m0-.3h0m.1-4.4h0m.1-19.3h0m0 20.6h0m.1-27.9h0m0 20.1h0m.2 4.2h0m.1 6.3h0m.1-24h0m0 26.1h0m0-5.8h0m0-25.2h0m.1 20.3h0m0-15.5h0m0 25.6h0m.2-9.6h0m.1-1.6h0m0 9.2h0m0 .5h0m.1-28.7h0m0 3.5h0m0 19.9h0m0 1.6h0m.1-22h0m.1 21h0m.1-.5h0m.1 .4h0m0-25.1h0m0 24.3h0m.1-5.8h0m.1-.5h0m0 3h0m0 10.6h0m0-8.8h0m0-4h0m.1 13.6h0m0-10.7h0m0-16.7h0m0-3.5h0m.1 26.8h0m0-28.6h0m.1 25.5h0m0 5.6h0m.1 7.1h0m0-11.7h0m0-4.5h0m0-20.7h0m.1 3.7h0m.1 .2h0m0 17.9h0m0 2.8h0m0-25.2h0m.1 23.4h0m0-2.7h0m0 1.7h0m0-15.4h0m0 30.6h0m.1-13.8h0m.2-25.8h0m0 27.7h0m.1 2.3h0m0-6.6h0m0 3.9h0m0-5.2h0m0 4.3h0m0 3.3h0m0-20.7h0m0 13.1h0m0 3h0m.1-22.9h0m0-5.9h0m0 32.8h0m.1-24.2h0m0 23.3h0m.1 3.4h0m0-.2h0m.1-25.3h0m0-12.2h0m.1 34.6h0m0-22.7h0m0 24.7h0m.1 3.5h0m0-2.7h0m0-25h0m.1 35.1h0m.1-.2h0m0-38.8h0m0-12.6h0m.1 3h0m0 14.5h0m0-4.7h0m.1 35.3h0m0-48h0m.1-.5h0m0 45.8h0m0-32.3h0m.1 5.4h0m0 18.5h0m0-36.1h0m0 35.9h0m0 .8h0m.1-30.3h0m.1 29.6h0m0-31.2h0m.1 3.4h0m0 9.5h0m.1-.4h0m.1 19.6h0m0 13.6h0m0-12.7h0m.2-24.1h0m.1 2.7h0m0 25.6h0m.1-1.3h0m0-19.4h0m.1-17.2h0m0 13.2h0m0-18.5h0m.1 5.5h0m.1 2.8h0m0 22.6h0m0-19.1h0m0-12.2h0m0 50.1h0m0-30.7h0m0 2.6h0m0 30.4h0m.1-39.3h0m0-1.4h0m0-11.5h0m0 12.3h0m0 4.7h0m0 4.6h0m.1-13.8h0m0-6.5h0m0 44.2h0m.1-7.6h0m0 14.5h0m.1-42.1h0m0-6.6h0m.1 45.8h0m0-12.7h0m0 7.5h0m0-45h0m.1 11h0m0 43.2h0m.1-10.7h0m.1-21.8h0m0 20.7h0m.1-29.3h0m0 6h0m0 2h0m0 11.5h0m.1-26.8h0m0 1.9h0m0-7.6h0m0 14h0m.1 23.9h0m0-26.2h0m.1 38.1h0m0-24.7h0m.1 18.1h0m.1 9.6h0m0-9.2h0m0 3.7h0m.1-45.7h0m0 10.9h0m0 31.8h0m.1 9h0m0-32h0m0-20h0m.1 8.5h0m0 26.8h0m.1-20.2h0m.1 27.1h0m.1-22h0m0 17.8h0m.1 10.4h0m0-32.2h0m0 32h0m0-28.4h0m0 27.2h0m.1 5.3h0m0-39.6h0m.1 40.8h0m0-34.3h0m0 13.6h0m.1-19h0m.1 20.1h0m0 18.9h0m0-.9h0m0-51.6h0m0 9.4h0m0 45.5h0m.1-43.4h0m0-11h0m0 .3h0m.1 62.1h0m0-43.8h0m0 21.4h0m0-25.8h0m.1 26.1h0m0-40.4h0m0 31.6h0m0-33.4h0m.1 62.1h0m0-20.6h0m.1-32.5h0m0-7.9h0m.1 31h0m0-31.9h0m0 23.6h0m.1-18.1h0m0 48.4h0m.1-13.4h0m0 21.4h0m0-53.8h0m.1-7.7h0m0 11.2h0m0-10.7h0m.1 49.1h0m0-15.2h0m0-33.3h0m0 14.8h0m.1 6.8h0m.1-22.5h0m.1 29.9h0m0 14.2h0m0-25.9h0m0 28.2h0m.1-49.4h0m0 27.9h0m0-23.2h0m0 49.2h0m0-53.7h0m0 3.2h0m.1 60.4h0m0-29.7h0m0-.9h0m0-27.4h0m0 47.8h0m.1-3.8h0m0-47.2h0m.1 46.9h0m0-1.9h0m0 14.8h0m0-59.4h0m0 44.4h0m.1-17.3h0m.1 19.7h0m.1-44.5h0m0-4.9h0m0 27.6h0m.1-22.9h0m0 31.7h0m0 1.3h0m0 6.9h0m.1 6.4h0m.1 3.3h0m0-2.9h0m0 14.1h0m.1-8.3h0m.1-54h0m0 2.1h0m0-.9h0m.1-.7h0m0 49.4h0m0-20.1h0m0 15.6h0m0-46.4h0m.1 10h0m0 36.9h0m0 2.6h0m.1-2.4h0m0 2.8h0m0 .9h0m.1-24.8h0m0-2.1h0m0 .3h0m.1 39.2h0m0-25.5h0m.1 25.6h0m0-67h0m0 42.9h0m0-42.1h0m0 52.5h0m.1-43.8h0m0 40.2h0m.1-33.4h0m0 4h0m.1-16.1h0m.2 42.4h0m0 14.9h0m.1-57.1h0m0 47.4h0m.2 1.7h0m.1-5.4h0m0 1.3h0m.1-31.6h0m0 7.1h0m0 38h0m.1-9h0m0-50.4h0m.1 28.2h0m0 28.9h0m0-9.6h0m0 11.9h0m0-11.1h0m0-48.2h0m.1 45.4h0m0-43.2h0m.1 27.8h0m0-18h0m0 20h0m.1 27.8h0m0-58.6h0m.1 1.5h0m0-3.9h0m.1 46.2h0m0-9.9h0m.1 .1h0m0 11.5h0m0 1h0m.1-47h0m.1 46.4h0m0-49.7h0m.1 4.2h0m.2 48.4h0m0 5.1h0m.1-7.9h0m0 3.4h0m0-8.2h0m.1 20.1h0m0-25.8h0m0 .3h0m0 11.1h0m0-3.1h0m.1-23.2h0m.1 15.3h0m0-33.9h0m.1 4.1h0m0 24.4h0m0 31.7h0m.1-58.5h0m0 41h0m0 6.1h0m.1-20.3h0m0-4.4h0m0-17.1h0m0-9.7h0m.1 20.1h0m0-19h0m.2 62.5h0m0-31.1h0m0 13.1h0m.1-2.4h0m.1 9.2h0m0-35.8h0m0 34.2h0m0-5.1h0m.1 5.2h0m0-6.1h0m0-42.1h0m0 37.8h0m0 22.1h0m.1-15.3h0m.1-29.7h0m0 28h0m0-6.7h0m0-42.8h0m0 54h0m0-47.2h0m0 49.8h0m.1-39.3h0m0 .6h0m.1 7.8h0m0 12.5h0m0-21.4h0m0 22.9h0m0 22.5h0m.1 6.4h0m0-63.8h0m.1 2.7h0m0 12.3h0m.1-6.3h0m0 14.5h0m.1-3.6h0m0 33.9h0m0-22.5h0m.1-37.5h0m0 30.4h0m0 26.5h0m.1-42.3h0m0 5.1h0m.1 19.5h0m0-33.9h0m0 51.6h0m0-.7h0m.1-3.5h0m0-46.3h0m0 14.6h0m.1 10.2h0m.1 35.8h0m0-35h0m0-17.9h0m0 26.2h0m.1 29.2h0m0-29.2h0m0-16.1h0m.1 20.7h0m0-14.4h0m0 12.3h0m0-12.4h0m0-24.3h0m0 26.3h0m0 34.7h0m.1-14.9h0m0 15.7h0m0-34h0m0-1.1h0m.1-8.9h0m0-20h0m.1 9.9h0m0-12.3h0m0 26.2h0m0-6h0m0 27h0m.1-42.9h0m0-1.3h0m.1 20.1h0m0-9.6h0m0 18.6h0m.1 35.7h0m0-35.8h0m.1-24.4h0m0 57.1h0m.1-8.7h0m0 11.2h0m.1-47h0m.1 39.4h0m.1-50.2h0m0 59.2h0m0-32.2h0m0-25.1h0m0 23.3h0m0 6.1h0m0-2h0m0 .5h0m0-25h0m.1 13.2h0m0-.7h0m0 12.7h0m0-16.5h0m0-15.6h0m0 33.5h0m0 21.4h0m.1 2.4h0m0-43.9h0m0 6.6h0m0 11.1h0m0-4h0m0 32.1h0m0-21.6h0m.1-26.6h0m0 34h0m0 8.6h0m0-14h0m0-9.2h0m0-25.7h0m.1 6.9h0m0 46.8h0m0-45.8h0m0 22.7h0m0 10.1h0m.1-28.7h0m0 8.9h0m0 36.3h0m.1-49.5h0m0 21.4h0m0-12.6h0m0 38.7h0m0-53h0m.1 8.8h0m0 46.4h0m0-56.1h0m0 28.4h0m0 12.3h0m.1-14.5h0m0-28.9h0m0 33.7h0m0 25.2h0m0-59.6h0m0 26.6h0m.1-8.7h0m0 42.5h0m0-52.7h0m0 42.3h0m0-32.3h0m0-8.2h0m0 19.2h0m.1-34h0m0 52.9h0m0-52.8h0m.1 33.2h0m0-28.9h0m.1 57.7h0m0-47.7h0m0 21.6h0m0 10.6h0m0 6.8h0m0-2.1h0m.1-26.5h0m0-26.4h0m0 9.9h0m.1 2.8h0m0 9.5h0m0-24.6h0m0 58.2h0m0-36.5h0m0 9.2h0m.1-15h0m0-1.1h0m0 12.9h0m0-17.5h0m.1 57.2h0m0-16.4h0m0-45.4h0m0 63.6h0m0-33.1h0m.1-33.5h0m0 36.6h0m0 19h0m0-44.8h0m0-10.4h0m0 8.9h0m.1 16.2h0m0 9.8h0m0 27.1h0m0-39h0m0 12.7h0m0 14.1h0m.1-27.8h0m0 42.8h0m0-53.6h0m0 2.2h0m.1-12.1h0m0 39.8h0m0 21.5h0m0-36h0m0-15h0m.1-4h0m0 40h0m0-20.6h0m0-12.4h0m.1 7.5h0m0-13.2h0m0 29h0m0-21.3h0m0-5.4h0m0 1.3h0m.1 17.7h0m0-29.7h0m0 3.9h0m.1 34.5h0m0 15.5h0m0-32.4h0m.1 19.9h0m0-11.5h0m0-12.4h0m0 25.1h0m0-43.2h0m.1 64h0m0-24.3h0m0-40.8h0m0 65.4h0m0-46.6h0m0-16.2h0m.1 17.3h0m0-5.1h0m0-3h0m0-9.9h0m.1 29.9h0m0-15.1h0m0-.1h0m.1 18.1h0m0-32.3h0m0 45.9h0m0-32.4h0m0 20.1h0m0-11.6h0m0-23.9h0m.1 20.6h0m0-6.1h0m0 50.6h0m.1-26h0m0-34.7h0m0 23.7h0m.1-7.4h0m0 28.9h0m0-11.5h0m.1 1.6h0m0-33.9h0m0 40.3h0m0-4.8h0m0-19.6h0m0 15.5h0m0-26.3h0m.1 53.2h0m0-12.6h0m0-3.5h0m0-45.4h0m.1 57h0m0-32.7h0m0 3h0m.1-17.3h0m0 26.1h0m0-1.9h0m0-23.3h0m.1-.8h0m0 50.6h0m0-36h0m0-1.7h0m.1 20.3h0m0-7.6h0m0-1.8h0m.1-9.7h0m0-21h0m.1 47.3h0m0-27.8h0m0 8.1h0m0-2h0m0 8.1h0m0 22.7h0m0-13h0m0-21.6h0m0 26.2h0m.1-32.5h0m0-19.4h0m0 53.2h0m.1-23.1h0m0 5.2h0m.1 10.4h0m0 18.2h0m0-46.8h0m0-6.9h0m0 5.2h0m.1-5.8h0m0 23.4h0m0 24.5h0m.1-51.5h0m0 43.6h0m0-1.3h0m0-43.5h0m0-3.9h0m0 48.4h0m.1-31.5h0m0 40.8h0m0-43.4h0m0-15.4h0m0 31h0m.1-34.8h0m0 29.4h0m0 .3h0m0 30.5h0m0-19.4h0m0 19.2h0m0-40.4h0m.1 7.4h0m0-15h0m.1-6.4h0m.1 46h0m0-19.4h0m.1-28.5h0m.1 30.2h0m0-16.5h0m0 .7h0m0-11.5h0m.1 48.5h0m0-25.3h0m0 19.6h0m0 .8h0m.1-36.3h0m0 54.9h0m.1-43.3h0m0-11.3h0m0 30.4h0m0-33.7h0m0 21.4h0m0 14.7h0m.1-20.1h0m0 23.1h0m0 15.9h0m0-56.1h0m.1 29.2h0m0-26.6h0m0 48.4h0m0-5.9h0m0 10.5h0m0-14.6h0m0-35.8h0m.1 41.1h0m0-10.1h0m0-13.3h0m0 3.2h0m0 1.3h0m0-5.1h0m.1-19.2h0m0 24h0m.1 9.2h0m0-16.7h0m0 37.5h0m0-34.4h0m0-18.3h0m0 53.5h0m.1-1.4h0m0-21.3h0m0 4.9h0m0-18.5h0m0-14.3h0m.1 21.4h0m0 12.3h0m0-31.4h0m0 1.3h0m0 42.8h0m0-7.6h0m.1-28.2h0m0 2.4h0m0-9.2h0m0-2h0m.1 46.4h0m0-46.6h0m0 18.8h0m0-7.9h0m0 22h0m0-19h0m0-8.4h0m.1 25.2h0m0-4.4h0m0 17.6h0m.1-17.4h0m0 17.3h0m0-48.3h0m.1 3.2h0m0-5.3h0m.1 9.3h0m0-13.4h0m0 14.7h0m0 1.2h0m.1 12.9h0m0-7.4h0m0-8.3h0m.1 11.3h0m0 17.8h0m0 16.5h0m0-29.5h0m0-4.9h0m.1 26.5h0m0-16h0m0-20.6h0m.1 28.1h0m0-41.6h0m0 10.9h0m0 24.6h0m0 .8h0m0 18.4h0m0-47.4h0m.1-2.3h0m0-1h0m0 36.4h0m0 5.9h0m0-40.5h0m0 6.5h0m.1 3.5h0m0-8.3h0m0 3.9h0m0-1.4h0m0 47.3h0m0-39.5h0m.1-14.7h0m0-7.2h0m0 26.9h0m0 11.6h0m.1 14h0m0-29.2h0m0 4.2h0m0 14.6h0m.1-17.5h0m0 17.3h0m.1-18.9h0m.1 14.6h0m0-4.5h0m.1 25.1h0m0-37.1h0m.1 3.3h0m0-24.3h0m.2 23.3h0m0-7h0m0 3h0m0-18.6h0m0 40h0m.1-38.5h0m0-2.8h0m0 2.6h0m.1 40.5h0m0-30.7h0m.1 29.6h0m0-17.2h0m0 16.3h0m0-37.1h0m.1 26.1h0m0 7.3h0m.1-9h0m0-6.6h0m0 4.5h0m.1 22.6h0m0-4.9h0m0-38.3h0m0 14.2h0m0 6.5h0m0-10.5h0m.1 7.3h0m.1 23.1h0m0-13.4h0m.1-24h0m0-1.3h0m0 48.7h0m.1 5.1h0m0-23.6h0m0-7.1h0m.1 31.2h0m0-27.2h0m0 3.2h0m.1-9.8h0m0 16.6h0m0-38.8h0m.1 3.1h0m0 2.1h0m0 27.7h0m0-20.8h0m.1 0h0m0-12.6h0m0 36.1h0m.1-39h0m.1 39.3h0m0-26.1h0m0 32.3h0m.1 17.3h0m0-23.7h0m0-5.6h0m0-6.1h0m.1 19.3h0m0-21.3h0m.1-16.7h0m0-15h0m0 44.1h0m0 .4h0m0-3.6h0m.1 22.4h0m0 1.8h0m0-52.4h0m0 35.6h0m.1-12.7h0m0 23.7h0m0 .9h0m0-35.9h0m0 38.8h0m.1-.2h0m0-23.5h0m0-13.8h0m.1 24.4h0m0-16h0m0-9.4h0m.1-21.8h0m0 15h0m0 24h0m0-10.1h0m.1 35h0m0-66.4h0m0 58.8h0m.1-54.1h0m0 3.1h0m0 10.7h0m0 .1h0m0 42.4h0m0-18.2h0m.1-14.8h0m0 12.6h0m0 10.6h0m0-15.8h0m0-20.8h0m.1-.5h0m0 47.4h0m0-30.6h0m0-25.7h0m.1 38.4h0m0 25h0m0-56.3h0m0 16.4h0m0-1.8h0m0 4h0m0-32.4h0m.1 40.1h0m0-7.4h0m0-11.1h0m0 39.4h0m0-20.5h0m.1 25.6h0m0-36.3h0m0 20.7h0m.1 17.6h0m0-29h0m0 2.3h0m0-16.2h0m0 17.5h0m0-22.9h0m0-11.4h0m0 27.2h0m0 2.3h0m.1-36.5h0m0 34.8h0m0 3.7h0m0 21h0m0-59h0m0-1h0m.1 48.7h0m0 17.1h0m0-28.9h0m0 24.7h0m0-23.1h0m.1-26.9h0m0-11.9h0m0 45h0m0-6.7h0m.1-14.6h0m0-18.6h0m.1 34.4h0m0-19.4h0m0 31.6h0m.1 18.1h0m0-45.1h0m0 5.8h0m0-5.3h0m0-3.5h0m0-18h0m0 59h0m.1-33.4h0m0-15.5h0m.1 34.5h0m0-37h0m0-7.8h0m0 22.8h0m0 37.1h0m0-51.1h0m0 29.8h0m0-11.6h0m0 34.3h0m.1-60.4h0m0 40.9h0m0-18.2h0m0-29.4h0m0 65.2h0m0 7.7h0m0-42h0m0-30.6h0m0 65.9h0m0-25.3h0m0 4.5h0m.1-1.4h0m0-33.1h0m0 19.6h0m0-19.1h0m.1 30.9h0m0 7.5h0m.1-20.8h0m0-4.5h0m0 27h0m0-13.1h0m0-5.1h0m0 7.4h0m.1-32.4h0m0 28.6h0m0 5.8h0m0-4.2h0m.1-19.1h0m0 35.4h0m0-9.8h0m0-11h0m0 8.8h0m0-1.7h0m.1 1.7h0m0-41.3h0m0 59.2h0m0-57.4h0m0 26.7h0m0 11.8h0m0 15.8h0m.1-9.8h0m0 19.1h0m0-.7h0m0-59.2h0m0 67h0m0-57.3h0m0 24.7h0m.1 2h0m0 19.8h0m0-37.3h0m0-8.3h0m0-19.3h0m0 20.3h0m.1 8.7h0m0-2.4h0m0-9.7h0m0 57.8h0m.1-49.4h0m0-23h0m0 2.1h0m0 33.9h0m0-24.3h0m0 21.5h0m0-32.1h0m0 63.6h0m.1-13.7h0m0-29.3h0m.1 3.4h0m0-17.9h0m.1 30.2h0m0-13h0m0-15.8h0m0 34.3h0m0-9h0m0-.8h0m0 35.3h0m0-.7h0m.1-39.5h0m0 8h0m0-31.1h0m0 62h0m.1-18.6h0m0-45.6h0m0 41h0m0 5.1h0m0-40.1h0m0 2.6h0m0 23.2h0m0 19.3h0m0 17.5h0m0-28.8h0m0-32.5h0m0 34h0m.1-47.7h0m0 8.4h0m0 28h0m0 5.9h0m.1-13.3h0m0 13.9h0m0-38.9h0m0 62.9h0m0-57.4h0m0 34.7h0m.1-8.2h0m0 41h0m0-33.7h0m.1-34h0m0 3.6h0m0 18.1h0m0-23.5h0m0 31.1h0m0-34.1h0m.1 64.8h0m0-12.6h0m0-53.1h0m0 63h0m0-29.7h0m0-2.3h0m0 11.3h0m.1-1.4h0m0 7.2h0m0 20.2h0m0-41.2h0m0-18.5h0m.1 16.9h0m0 24h0m0-2.7h0m0-38h0m0 5.6h0m0 25.3h0m0-4.9h0m0-10h0m0 13.1h0m0 .6h0m.1-8.7h0m0-9.7h0m0 5.5h0m.1 35.7h0m0-60.5h0m0 61.6h0m0-18.8h0m0-19.8h0m0-2.1h0m.1 7.9h0m0 43.8h0m0-58.8h0m0 19.7h0m0-25.3h0m0 4.5h0m0 40.4h0m.1-6h0m0-43.6h0m0 44.6h0m0-16.8h0m0-21.3h0m0 .3h0m.1-3.4h0m0 29.1h0m0 30h0m0-33.5h0m.1 2h0m0 1.9h0m0 29.9h0m0 1.9h0m0-8.3h0m.1-50.4h0m0-3.2h0m0 24.4h0m0 36.1h0m0-.9h0m.1-38.4h0m0 10.8h0m.1-31.7h0m0 37.3h0m0-14.3h0m0 9.4h0m0-40.5h0m0-3.9h0m0 47.7h0m.1-14.3h0m0 17.1h0m0-51.3h0m0 80.2h0m0-5.5h0m0-36.4h0m.1-30.2h0m0 33.9h0m0 25.6h0m.1-26.8h0m0-16.9h0m0-5.2h0m0-5.6h0m.1 32.2h0m0 11.8h0m0-25.2h0m0-4.9h0m0-15h0m0 57.1h0m.1-18.3h0m0-32.2h0m0-11.4h0m.1 12.7h0m0 51.6h0m0-19.7h0m0-10.1h0m.1-40.9h0m0 8.4h0m0 3.1h0m0 56.7h0m0-56.8h0m0 14.8h0m.1-13.1h0m0 25h0m.1 14.4h0m0-31.1h0m0 31.7h0m0-4.6h0m0-8h0m0-27.8h0m.1 51.9h0m0-19.8h0m0-14.8h0m0-14.9h0m.1 27.1h0m0-23h0m0 45.6h0m0-33h0m.1 12.6h0m0-15.8h0m0 23.8h0m0-28.1h0m0 42.9h0m0-30.2h0m0 21.8h0m.1 9.1h0m0-2.4h0m0-20.7h0m.1-7.1h0m0 42.8h0m.1-68.1h0m0 21.2h0m0 26.8h0m0 11.1h0m.1-6.9h0m0-22.1h0m.1-13.3h0m0 .7h0m0 4.6h0m0 14.5h0m0-15.8h0m0 18.4h0m.1 9.9h0m0-55.1h0m0 33.9h0m0-25.3h0m.1-11.8h0m.1 64h0m0-47h0m.1 31.4h0m0-15h0m0-23.5h0m.1 28.8h0m0 13.6h0m0-42.4h0m.1 24.8h0m0 6h0m0-40.3h0m0 71.7h0m.2-40.9h0m.1 5h0m0 5.3h0m.1-4.8h0m0-26h0m0-13.1h0m0 64h0m.1 2.6h0m0-2h0m.1-15.6h0m0 14.5h0m0 14.3h0m0-23.5h0m.2 18h0m0-36.6h0m0-23.3h0m0 39.7h0m.1 9.5h0m0-34.6h0m0-2.4h0m0 11.3h0m.1 11.3h0m0 14.1h0m.1-49.1h0m0 52.5h0m0-65.4h0m0 16.3h0m0 4.5h0m0 45.5h0m.1-13.2h0m0-40h0m0 2.7h0m.1 47.5h0m0 2.7h0m0-9.6h0m0 11.6h0m.1-65.5h0m0 37.9h0m0-20.9h0m0 47.3h0m0-64.2h0m.1 78.8h0m0-24.4h0m0-27.4h0m0 8.4h0m0-5.3h0m0 15.7h0m.1-7.6h0m0-25h0m0 25.3h0m.1-13h0m0 40.6h0m0-.2h0m0-56.3h0m0 61.7h0m0-43.5h0m0-5.8h0m0-6.4h0m.1 23.4h0m0-3.2h0m0 7.2h0m0 5.7h0m.1-14h0m0-31.5h0m0 19.3h0m0 40.2h0m0-23.8h0m0 37.7h0m0-37.5h0m.1-3h0m0-9.7h0m0-9.3h0m0 39.9h0m.1-17.2h0m0 39.2h0m0-68.3h0m0 48.1h0m0-24.5h0m0-17h0m0 21.8h0m.1-1.6h0m0-6.3h0m0 7.8h0m0 12.9h0m0-34.7h0m.1-13.2h0m0 26.6h0m0 27.2h0m0-24.6h0m0-9.5h0m0 9.9h0m0 3.8h0m.1 18.8h0m0-9.4h0m0-46.3h0m0 55.8h0m.1-1.3h0m0-41.2h0m0-14.6h0m0 73.1h0m0-55.3h0m0 12.4h0m0 38.1h0m.1-29.9h0m0 26.3h0m.1-11.5h0m.1 14.4h0m0-4.2h0m0-53.7h0m0 18h0m0-27.3h0m0 4.9h0m0-4.8h0m.1 78.2h0m0-47.8h0m0-12h0m0-19.5h0m.1 4.9h0m0 5.5h0m0 57.4h0m0-50.1h0m.1 7h0m0 18h0m0 27.8h0m0-52h0m.1 13.9h0m0 19.9h0m0 13.1h0m0 4.5h0m0-52.1h0m0 37h0m.1 1.4h0m0 16.8h0m0-30.3h0m0-2.9h0m0 33.1h0m0-21.7h0m0 12.6h0m.1-53.8h0m0 47.4h0m0-56.1h0m.1 30.5h0m0 1.2h0m.1 30.1h0m0-49.1h0m0 24h0m0-38.4h0m.1 24.2h0m0 54.7h0m0-45h0m0 2.8h0m.1-9.9h0m0 1.1h0m0 12.2h0m0-37.8h0m.1 66.5h0m0-2.1h0m0 4.2h0m.1-72.2h0m0 22.1h0m0 49.4h0m.1-43.1h0m.1 41.8h0m0-3.3h0m0-25.1h0m0-1h0m0-20.5h0m0 1.4h0m0-8.4h0m.1 47.4h0m0-41.7h0m.1 19.6h0m0-3.4h0m0 6.6h0m0-13.6h0m0 30.5h0m0 1.9h0m0-2.6h0m0-31h0m0-7.6h0m0 51h0m0-70.1h0m0 40.8h0m0 12h0m.1-13.5h0m0 18h0m0 24.2h0m0-21.8h0m0 19.5h0m.1-58.6h0m0 1.2h0m0-19.5h0m0 55.6h0m.1 22.1h0m0-64.7h0m0-1.4h0m0 5.1h0m0 6.1h0m.1-15h0m0 42.9h0m0-32.2h0m0-12.2h0m0 16h0m0 50.9h0m.1-59.7h0m0 7.7h0m0-27.2h0m0 78.9h0m0-34.8h0m0-.6h0m0 20.3h0m.1-46.1h0m0 1.9h0m0 41h0m0 15.1h0m0-53.5h0m0 10.4h0m.1 26.3h0m0 11.8h0m0-67.7h0m0 49.2h0m.1 15.4h0m0-36.8h0m0 54.7h0m0-23.1h0m0-36.2h0m0 6.4h0m0-18.8h0m0 64.3h0m.1-3.3h0m0-53.1h0m0-2h0m0 61.3h0m0-76.4h0m0 73.9h0m0-4.4h0m0-2h0m0-.4h0m0-7.9h0m.1 17.2h0m0-69.5h0m0 50.6h0m0 22.2h0m.1-31.8h0m0 10.7h0m0-63.8h0m.1 29.3h0m0 55.1h0m0-14.9h0m0 5.7h0m0 0h0m0-47h0m0 37.7h0m.1-40h0m0-4.4h0m0 63.7h0m0-61.5h0m0 60.9h0m0-57.5h0m0 2.2h0m.1 37.1h0m0-28.2h0m.1 38.2h0m0-8.8h0m0-46h0m0 23.1h0m.1-20.8h0m0 4.3h0m.1 49.4h0m0-45.4h0m0 34.9h0m0-43.5h0m0-5.4h0m0-12.5h0m0 74.8h0m0-78.9h0m0 76.5h0m.1-56.4h0m0 9.7h0m0 15.2h0m0-42.2h0m0 57.2h0m.1-27.7h0m0-30.2h0m0 51h0m.1-55.6h0m0 80.6h0m0-41.9h0m0-7h0m.1 52.7h0m0-2.3h0m.1-60.4h0m0 59.1h0m0-53.8h0m.1 37.2h0m0-26.3h0m.1 32.1h0m0-43.1h0m0-23.1h0m0 63.8h0m0 11h0m0-57.2h0m.1-9.1h0m0-10.5h0m0 61.3h0m0 15.2h0m0-33.3h0m0-31.2h0m0 49h0m.1-23.8h0m0 8.8h0m0-46.6h0m0 66.2h0m0 9h0m0-49.2h0m0 30.9h0m.1-29h0m0 35.3h0m0-42.2h0m0 38.8h0m0-62.3h0m0 85.6h0m0-6.1h0m0 1.7h0m0-14.6h0m.1-27h0m0 44.8h0m0-61.4h0m.1 41.8h0m0 12.3h0m0 4.6h0m0-42.4h0m0-14.7h0m0 1.2h0m0-22.5h0m.1 52.4h0m0-26.7h0m.1 26.6h0m0-26.7h0m0 17.4h0m.1-41.5h0m0-.3h0m.1 36.5h0m0-17.1h0m0 42.3h0m0-41h0m0 59.4h0m0-69.8h0m.1 3.7h0m0 62.6h0m0-73.2h0m0 47.1h0m0 5.3h0m.1-3.3h0m0 24.2h0m0-32.9h0m0 22.4h0m.1-47.2h0m0 45.3h0m0-8.5h0m0-54h0m.1 53.6h0m0 2.5h0m0-15.1h0m0 11.3h0m0 13.9h0m0-7.7h0m.1-40h0m0 2.7h0m0-.1h0m.1 36h0m0-39.3h0m.1 51.1h0m0-17.6h0m0 2.7h0m0-18.4h0m0 24.6h0m.1-1.7h0m0-58.2h0m0 48.4h0m0 24.7h0m0-81.1h0m.1 80.5h0m0 5.8h0m0-62h0m0 55.2h0m.1-22.9h0m0 15.9h0m.1 10.8h0m0-76.1h0m0 74h0m0-11.4h0m0 10.9h0m.1-50.3h0m0 49.4h0m0-45.9h0m0-26.9h0m0 74.1h0m.1-29.6h0m0-27.7h0m0 13.9h0m0-18.2h0m0-9.9h0m.1 76.5h0m0-46h0m0 19.7h0m0-50.5h0m0 21.5h0m.1 26.8h0m0-11.2h0m0-11.5h0m0 1.9h0m0 47.6h0m.1-16.4h0m0 17.7h0m0-54.8h0m0 30.5h0m0-29h0m.1 5.9h0m0-5.2h0m0 24.1h0m0-24.5h0m0 30.9h0m0-4.6h0m0 9.9h0m0-42.6h0m.1 18h0m0 33.1h0m0-47.5h0m0 17.9h0m0-9.9h0m0-5.4h0m.1 48.6h0m0-37.2h0m0-14h0m0 54h0m.1-1.9h0m0-37.3h0m0 25h0m0-39.6h0m0 50.1h0m0-55.9h0m0 60.5h0m0-26.8h0m0 2.5h0m0-36h0m.1 19.1h0m0 40.4h0m0-55.7h0m0 23.8h0m0 13h0m0-8.8h0m.1 20.6h0m0-16.8h0m0-35.8h0m0-15.3h0m0 22.6h0m.1 24.2h0m0-14.3h0m0 52.4h0m.1-50h0m0-36.7h0m0 1.2h0m0 10.1h0m0 7.6h0m0-5.2h0m0 38.8h0m.1 10.1h0m0-14.6h0m0-24.1h0m.1-24.2h0m0 42.1h0m0-1.2h0m.1 32.7h0m0-8.1h0m0-7.9h0m0-20.5h0m0-12.9h0m0 14.1h0m.1 18.8h0m0-7.8h0m0-17h0m0-10.3h0m0-20.1h0m0 64.9h0m0-75.6h0m.1 44.9h0m0 24.5h0m0 21.1h0m0-60.9h0m.1 14.6h0m0-21.2h0m0 50.6h0m0-21.9h0m0 20.2h0m.1 12.7h0m0-57.8h0m0 36.5h0m0 25.5h0m0-43.9h0m0 37.4h0m0-65.9h0m0 30.1h0m.1-20.2h0m0 17.3h0m0 26.8h0m0-27.9h0m0 2.9h0m0 32.4h0m0-54.8h0m.1 1.9h0m0-4.7h0m0 60.3h0m0-22.3h0m0 2.5h0m0-50.3h0m.1 56.1h0m0-22h0m0-17h0m0 17.6h0m0-4.4h0m.1 40.5h0m0-37.3h0m0 21.9h0m0 15h0m.1-77.3h0m0 45.6h0m0-23.7h0m0 32.1h0m0-29.9h0m0 34.7h0m0-33h0m.1 2.2h0m0 30.6h0m0-33.6h0m0 11.5h0m.1 47.5h0m0-5.2h0m0-79.8h0m.1 58h0m0-38h0m.1 61.6h0m0-8.6h0m0-15.5h0m0-15.4h0m.1 40.2h0m0-19.9h0m0-12.9h0m.1 18h0m0-33.3h0m0 9.1h0m.1 30.4h0m0-26.8h0m0-6.8h0m0 48.1h0m0-42.9h0m.1 32.4h0m0-12.5h0m.1 5.5h0m0 7.9h0m0-3.9h0m0-18.2h0m0-34h0m0 40.6h0m.1 17.9h0m0-.8h0m0-58.8h0m.1 67.8h0m0-67.7h0m.1 22.1h0m0 29.5h0m0-17.1h0m0-16.4h0m0-37.5h0m0 48.1h0m0-25.6h0m.2-.2h0m.1 16.3h0m0 21.2h0m.1-41.9h0m0 20.9h0m0 39.9h0m0-17.7h0m0 2.6h0m0-45h0m.1 48.5h0m.1-60.5h0m0 35.6h0m0 40.8h0m.1-2h0m0 7.3h0m0-50.2h0m0-.9h0m0 42.9h0m.1-19.7h0m0 24.1h0m0-29.7h0m0 15.1h0m0 16.1h0m0-16.6h0m0 14h0m0-3.5h0m.1-61.5h0m0 2.9h0m0 45.3h0m.1-71.5h0m0 62.9h0m.1-12.9h0m0 9.4h0m0-30h0m0 30.2h0m0-33.9h0m.1 41.4h0m0-37.7h0m.1 37h0m0-20.3h0m.1 22.4h0m0 12.5h0m0-5.8h0m0-4h0m.1-27.8h0m.1 21.8h0m0 20.6h0m.1-13.7h0m.1-33.7h0m0-11.6h0m.1 28.3h0m0-19h0m0 30.7h0m0 11.8h0m0-6.4h0m0 19.5h0m.1-27.4h0m0 19.8h0m0 1.1h0m0-26.1h0m.2 9.1h0m0-23.2h0m0 19.2h0m.1 .9h0m0-26.5h0m0 49.4h0m0-12.1h0m.1-6.5h0m0-5.4h0m0 13.3h0m0-5.3h0m0 7.9h0m.1-9h0m0-21.8h0m0-8.6h0m0 42.7h0m0-2h0m.1-40.1h0m0 17.4h0m0-49.9h0m0 35.5h0m0-2.9h0m.1 23.4h0m0 9.5h0m0 10.7h0m.1-16.8h0m0-3.9h0m.1 11.8h0m0-17.4h0m0-17.4h0m.1 .5h0m0 33h0m0-32.2h0m0 31.3h0m.1 3h0m0-8.6h0m0 14.3h0m0-6h0m.1-10.3h0m0 20.2h0m.1-10.2h0m0-2.5h0m.1 16.1h0m0-15.1h0m0-41.3h0m.1 32.2h0m.1 19.4h0m0-19.2h0m0-29.8h0m.1 55h0m0-26.1h0m0 3.5h0m0-42h0m0 11.5h0m0 31.1h0m.1-2.5h0m0-27.6h0m0 26.3h0m0 18.6h0m0-16.9h0m.1-35.9h0m0 12.3h0m0 38.6h0m0-7.2h0m0-33.7h0m.1 39.5h0m0-9.6h0m0 3h0m0 2.3h0m.1 6.9h0m0 1.5h0m0 9.6h0m.1-23.8h0m0-22.2h0m0 18.1h0m0 25.4h0m0-47.1h0m.1 5.4h0m0-22.3h0m0 9.1h0m0 41.4h0m0-10.4h0m.1 25.3h0m0-50.8h0m0 52.9h0m0-3.3h0m.1-25.3h0m0 .6h0m0-8.5h0m0 22.8h0m0 .9h0m.1-35.6h0m0 30h0m.1 18h0m0-5.8h0m0-14.7h0m0-7.3h0m0-2.1h0m0 6.8h0m.1-20.8h0m0 18.6h0m0-19.5h0m0 22.2h0m0 22.3h0m0-4.7h0m.1-60.1h0m0 19.5h0m.1 24.7h0m0 0h0m0 9.8h0m0-13.9h0m0 22.9h0m.1 1.7h0m0-9h0m0 9.8h0m.1-26.6h0m0 15.7h0m0 8.1h0m.1-26.9h0m0 26.2h0m.1-21.1h0m0 13.4h0m0-11h0m.1-71.7h0m0 87.6h0m.1-32.5h0m0 .1h0m0 11.1h0m0-44.8h0m0 33h0m0 39.2h0m0-3.8h0m0 2.3h0m.1-62h0m0 36.9h0m0-24.5h0m0 46.2h0m0-57.6h0m.1 42.4h0m0-9.6h0m.1 28.9h0m.1-4.1h0m0-74.8h0m0 80.2h0m0-6h0m0 5.1h0m.1-69.4h0m0 65.2h0m0-7.6h0m0-60.2h0m.1 17.2h0m.1 49.2h0m0-68.7h0m0 21.8h0m.1 17.7h0m0-18.2h0m.1 3.1h0m.1 44.6h0m0-44.2h0m0 44.8h0m0-45.5h0m.1-22.7h0m0 69.9h0m.1-4.3h0m0-66.6h0m.1 1.7h0m0 15.5h0m0 4.7h0m0 45.1h0m.1-11.6h0m.1-35.1h0m0 33.6h0m.1-44.8h0m.2 32.8h0m0-41.4h0m0 72.9h0m.1-40.9h0m0 15.6h0m.1 .6h0m0 23h0m0-9h0m0-44.9h0m0 57.1h0m.1-9.8h0m0-66.1h0m0 40.6h0m0 2h0m.1 30.4h0m0-73.8h0m0 40.9h0m0 34.3h0m.1-30.7h0m0 .2h0m0 22h0m.1-45.5h0m0 49.8h0m0-52.3h0m0 19.1h0m0 32.1h0m.1 1.7h0m.2 2.6h0m.1-38.7h0m0 4.8h0m.1-43.4h0m0 49.5h0m0-51.4h0m.1 48.3h0m0-36.2h0m0 65.3h0m0-66.8h0m0 59.7h0m0-19.3h0m.1 .9h0m0-50.9h0m0 70.4h0m.1-13.9h0m0-25.2h0m0 48h0m0-71.5h0m0 21h0m0-27.2h0m.1 22.6h0m0 17.9h0m0 13.5h0m0-1h0m.2-13.2h0m.1-.3h0m.1-7.3h0m0 41.6h0m0-29.9h0m0-8h0m.3-42.7h0m0 11.8h0m0 40.5h0m0-7.9h0m.1-56.2h0m.1 67.2h0m.1-44.4h0m0 20.7h0m0-2.3h0m.1-17.6h0m0 46.4h0m0 8.8h0m.1-21.1h0m.1 11h0m0-7.5h0m0-4.6h0m0 12.5h0m.1-49.4h0m0 73.5h0m0-41.9h0m.2 38.7h0m.1-37.9h0m.1-10.7h0m.1-2.8h0m.1-14.3h0m0 0h0m.2 76.1h0m0-51.4h0m0-25.3h0m.1 69.1h0m0-32.2h0m0-39.4h0m.1 20.6h0m.1-1.3h0m0 20.7h0m0-42.2h0m.1 32.3h0m.1-3.3h0m0 32.3h0m0-55.4h0m.1 29.9h0m0-29h0m.1 31.5h0m0-36.5h0m0 34.4h0m.1 8.3h0m.1-8.1h0m0-31.9h0m0-2.6h0m0 53h0m0 14.7h0m0 3.8h0m0 5h0m.1-13.4h0m0-47h0m.1-18h0m0 36.3h0m0-14h0m0 55.8h0m0-17.2h0m.2 16.1h0m.1-48.9h0m0-5.3h0m0 36.6h0m.1-40.6h0m0 58.1h0m.1 7.9h0m.1-62.5h0m.1-21.9h0m0 65.3h0m0 10.7h0m.1-4.9h0m.1 7.1h0m.1-16.2h0m0 1.8h0m0-61.2h0m.1 3.2h0m0 23h0m0 1h0m0 35.5h0m.1 22.8h0m.1-81.7h0m.1 7.5h0m0 7.6h0m0 22.6h0m.1-3.2h0m.1 34.2h0m0 6.2h0m.3-82.8h0m0 89.4h0m0-12.7h0m0-32.9h0m0 15h0m.1-30.9h0m.1-22.2h0m0 72.1h0m.1 11.9h0m.3-68.7h0m.1 59.1h0m0 3.6h0m.1-2h0m0-14.5h0m0 5.7h0m0-43.9h0m.1 6.8h0m0-29.2h0m.1 69.7h0m0 13.9h0m0-13.2h0m.1-77.2h0m.1 90.4h0m.1-20h0m0 10h0m.1-.9h0m.1 .4h0m0-.3h0m.2-46h0m0 56.3h0m.1-64.9h0m0 60.1h0m.1 3.3h0m.1-1.9h0m.1-10.7h0m.1-41.5h0m0 1h0m.2 44.9h0m.1-4.9h0m.1-2.2h0m0-60.6h0m.3 40.1h0m0 19.6h0m0 9.5h0m.1-69.5h0m.1-2.8h0m0 66.3h0m.1-72.6h0m.2 75.3h0m0 5.9h0m.1-10.8h0m.1-71h0m0 27.3h0m.5 13.6h0m0-42.6h0m.2 72.2h0m.1-41.4h0m.1 49.5h0m.4-30.5h0m.2-43.5h0m0 69.4h0m0-53.6h0m.3 61.1h0m.1-8.3h0m.1-70.3h0m.1 40.6h0m0 .3h0m.1 35.4h0m.1-67.6h0m.4 38.3h0m0-4.7h0m.5 4h0m.2 13h0m.7-51.1h0m0 60.2h0m.1-31.6h0m.1-5.8h0m.3 36.3h0m.1-38.8h0m.7 8.6h0m.4 29.1h0m.3 1.4h0m0 1.6h0m0-38.5h0m.2 11.3h0m.5-45.8h0m.1 69.3h0m.1 3.3h0m0-44.1h0m.1 56.1h0m.1-71.6h0m.3 5.8h0m.1 30.7h0m0-45.2h0m.1 13.2h0m.2 1.9h0m0 44.6h0m.1-50.1h0m.1-.4h0m.1-7.6h0m.1 52.8h0m.2-56h0m.1 14h0m0-12.7h0m.3 64.9h0m0-48.8h0m.2-15.8h0m0 19.8h0m.1-20.9h0m.1-7.2h0m0 31.7h0m.2 23.6h0m0-49.8h0m.2 29.5h0m.2-6.2h0m0-17.5h0m.3-.9h0m.1 47.9h0m0-42.7h0m0-8.1h0m0 3.8h0m.1 58.6h0m.3-44.6h0m.1-9.8h0m0-5.8h0m.1 4h0m0-1.2h0m.3-3.1h0m.1-1h0m0 65.2h0m.3-37.6h0m.1-21.2h0m0 11.5h0m.1-8.6h0m.4 36.1h0m.2-44.3h0m.1 70.8h0m.5-66.6h0m0 44.4h0m.3 20.1h0m0-25.7h0m.1-10.4h0m0 3.7h0m.1-36.4h0m.1 53.4h0m.1-50.4h0m0 65.2h0m.1-49.5h0m.1-6.8h0m.3-6.4h0m.4-3.1h0m.2 2.3h0m0 54.3h0m.1-55.5h0m.1 5h0m.1 46.9h0m0 13.4h0m.2-66h0m0-1.8h0m.2 5.8h0m.1-3.1h0m.1 6.3h0m.1-8.9h0m.3 9.1h0m0 7h0m.1 35.3h0m0-39.1h0m.1 52.2h0m.3-62.2h0m0 62.1h0m.2-58.4h0m0 6.5h0m.1 40.9h0m.1-20.8h0m0-32.9h0m.2 12.8h0m0 48.1h0m.1-52.5h0m.1-7.3h0m0-3.2h0m.1 66.2h0m0-41h0m.1 17.6h0m.2-33.6h0m0-1.1h0m.7 11.6h0m0-12h0m.2-.6h0m0 3.3h0m.3 9.5h0m.1-12.9h0m.2 6.4h0m.1 6.3h0m.1-7.9h0m.1-3.9h0m.1 .5h0m.2 3.6h0m.3-7h0m.1 7.2h0m.2 42.7h0m.1-44.1h0m.4 .6h0m.2-9.2h0m0 5.3h0m.1 1.6h0m.4 3.1h0m1.1 6.7h0m1.5-7.3h0m.5-3.3h0m1 11h0m1.4-11.8h0" stroke="#dcdcdc" stroke-width="2.8" stroke-linecap="round" fill="none"/>
<path d="M230.9 892.4h0m13.8-4.5h0m3.2-.1h0m7.2-12.5h0m11.2-5h0m29.3 73.8h0m3.7-8h0" stroke="#e4d3cb" stroke-width="2.3" stroke-linecap="round" fill="none"/>
<path d="M268.4 873.2h0m2.4 46.8h0m1.5-13.7h0m4.3-39.9h0m.2 26.8h0m2.3 8.1h0m2.8 1.1h0m8.6 7.5h0m.1 26.3h0m1.2 1.1h0m3.7-26.2h0m1.5-54.2h0m.1 82.6h0m3.5-45.3h0m6.4 39.1h0m.6 23.1h0m8.3-46h0m13.1 27h0" stroke="#edbd9d" stroke-width="2.3" stroke-linecap="round" fill="none"/>
<path d="M213.7 901.6h0m6.6-5.3h0m.3 5.8h0m.3 1.1h0m0-7.4h0m1 .3h0m1 3.2h0m.4 5.1h0m.9-9h0m.9 .5h0m.5 12.8h0m.1-11.3h0m.6 8.5h0m.7-6.5h0m.9 9.2h0m1 2.3h0m.3-19.1h0m.2 9.2h0m0 11.7h0m.5-16.9h0m.1 4.1h0m.2 .4h0m.7-7.9h0m1.1 3h0m3.7 8.7h0m2.1-3.4h0m6.3 4.3h0m1.5-15.6h0m.3 24.2h0m2.6-31.2h0m3.4 22.2h0m.2-18h0m1-2.9h0m9.5 2.5h0m.6-11h0m.5 5h0m4.8 18.6h0m1.9 4.2h0m11.7-27.7h0m.2 2.8h0m1.9 .3h0m.1 1.7h0m1.7-8.2h0m1.4 10.9h0m.1 35.1h0m.5-57.9h0m2.5 22.7h0m.3 50h0m.6-70.5h0m1.4 34.1h0m5.3-28.3h0m1.3 39.6h0m.9 37.8h0m3.3-70.8h0m.5-9.1h0m5.5 23.8h0m1.5 8.1h0m14.3 40.4h0m2.6-49.8h0m3.4-3.2h0" stroke="#f3a36d" stroke-width="2.3" stroke-linecap="round" fill="none"/>
<path d="M218.8 898.1h0m13.9 1.6h0m2 2.9h0m2.9-13.5h0m7 22.5h0m9 18.9h0m.2-52.3h0m.4 16.8h0m3.6-21.7h0m.7 8.6h0m2.8 6.8h0m.7 47.5h0m2.4-3.6h0m.2-7.3h0m.2 11.9h0m.2-56.4h0m.5 12.1h0m0 3.8h0m.4-10.2h0m.3-.6h0m.3 11.6h0m5 15.3h0m.1-22.5h0m1.9-1.1h0m.1 46.8h0m.9-64.4h0m.9 4.5h0m1.4-7.7h0m.1 14.5h0m1-12.5h0m.9 26h0m.9-12.1h0m.6-8.1h0m.1 54.5h0m.7-42.9h0m.6-9.7h0m.9-17.8h0m.3 5.2h0m1.2 22.4h0m2.9-11.5h0m0 1.3h0m1-.6h0m1.3-4.4h0m3.3 12.6h0m1 49.9h0m.4-47.2h0m.3-31.7h0m1.2 23.9h0m2.5 27.2h0m1.9-11.8h0m.4-44.6h0m.3 57.1h0m.8-58.4h0m0 23.9h0m1.5 23.7h0m.8 18h0m.9-22.8h0m.6 14.4h0m.6-25.4h0m.4-11.4h0m.5 24.4h0m.3 31.1h0m0-57.7h0m.5 58.3h0m.2-16.1h0m.1-12.2h0m.4 51.1h0m.1-30.5h0m.4 2.5h0m1.1 3.7h0m.1-52h0m.4 61.4h0m3.5-44.5h0m.1 .2h0m.5 13.1h0m.7-29.7h0m1.8 65.9h0m1.9-26.3h0m.1-5.9h0m.5-26.6h0m1.2 64.1h0m.2-11.2h0m.7-35.4h0m1.4-17.9h0m.2-5.6h0m.4 50.5h0m1.9 3.6h0m.4-12.2h0m.2-42.2h0m3 38.5h0m.9 19.4h0m.8-3h0m2.5-42.7h0m.6 22.8h0" stroke="#e98459" stroke-width="2.3" stroke-linecap="round" fill="none"/>
<path d="M215.4 911.7h0m5-15.5h0m2.6 .7h0m17.4-8.1h0m1 2.7h0m2 22.9h0m3.9-28.3h0m3.9-.5h0m9.5 1.4h0m1.3 2.3h0m.2 47.6h0m.1-.7h0m1.6-32.4h0m1.8-17.9h0m.3 6.6h0m.1-5.7h0m.5-18.7h0m2.4 36.5h0m1.4-12.2h0m1.2 40.8h0m.1-3.9h0m3.9 4.1h0m.4-58.5h0m2.6-2.3h0m5.1 2.6h0m2.2 4h0m1.6-1.9h0m1.9-11.4h0m.3 38.6h0m2.4-42h0m1 55.4h0m.1-55.1h0m.8-5.6h0m1.2 33.5h0m.4-33.2h0m1.5 52h0m.6-19h0m.6-21.2h0m.6 59.2h0m.5-.3h0m.1-61.3h0m.2-14.6h0m1 87.9h0m.1-18.5h0m.3-67.6h0m.1 14.3h0m.4 .1h0m.2 23.9h0m.1 19.8h0m.1-22.1h0m.1 55.6h0m.7-55.1h0m1.1-16.4h0m0 8.4h0m1.2 9.3h0m.2-5.7h0m.4 47.3h0m.3-22.9h0m.3 3.9h0m.1 31h0m.6-39.5h0m.2-11.6h0m.6 31.2h0m.5 11.4h0m.4-40.3h0m.2-14.4h0m.4 44.1h0m.1 13.8h0m.3-65.9h0m.8 19.3h0m.4 2.6h0m.1 39.5h0m0-45.6h0m.5 36.4h0m.7-32.8h0m0 25.7h0m3-50.7h0m.2 34.7h0m.8 18.1h0m.1 13.1h0m.8-38h0m0-2.1h0m1.3 22.9h0m.4-3.1h0m.4-21.1h0m.4 7.4h0m.7 13.1h0m.1-.8h0m.3-27.9h0m.3-5.2h0m.5 33.9h0m.3 19.3h0m.2-26.1h0m.1 20.9h0m.1-22.8h0m.1-4.7h0m.8 22.1h0m.4 13.1h0m0-19.7h0m.9-8.6h0m.2-11.9h0m.7 47.1h0m1.4-65.4h0m.2 16.8h0m.2 39.3h0m.3-13.6h0m1.6 6.4h0m.1 6.1h0m.5-19.5h0m0-34.7h0m.9 28.7h0m1.4-24h0m1.3 25.8h0m.1-3.8h0" stroke="#de6346" stroke-width="2.3" stroke-linecap="round" fill="none"/>
<path d="M220.6 898.7h0m16.5 3.1h0m1.4-10.4h0m6-3.9h0m1.1 5h0m5.5-7.7h0m4-1.4h0m1-.9h0m1.2 32.9h0m.7-30.5h0m1.7 46.5h0m2-5.9h0m.8-36.5h0m1.1 2.1h0m.1 .4h0m0 43.4h0m1.4-59.6h0m2.1 18.7h0m.1-13.1h0m.2 18.8h0m.5-8.1h0m3.5 13.3h0m1.1 .4h0m2.2-4.5h0m3.7 7.2h0m4.6-15.8h0m.3-13.1h0m.2-17.2h0m.5-2h0m9.1-2.7h0m.1 83.1h0m.6-84.6h0m.8 46.2h0m1.1-3.4h0m.3 31.6h0m.3 .4h0m.2-46.2h0m.6-21.4h0m2.4 6.1h0m.3 42.7h0m.1-55.4h0m.3 4.7h0m.5 12.4h0m.3 71.2h0m.4-71.4h0m0-3.5h0m.6 37.5h0m.4-1h0m.1 37.6h0m.4-39.2h0m0-7.9h0m1.1 .1h0m.5-11.8h0m.1 56.6h0m.3-34.5h0m.7 24.5h0m.2-48.4h0m.1 47.4h0m.1-46.5h0m.9 33.3h0m.5 14.2h0m.4-26.6h0m.3 15.3h0m.2 4.2h0m.5-8.8h0m0 2.4h0m.4 13.3h0m.9-51.6h0m.1 17.6h0m.4-6h0m.3 40.8h0m.2-16.8h0m.6 10h0m.4 5.4h0m.3-57.8h0m.1 22.1h0m.5 5.8h0m.4-26.8h0m.4-1.3h0m.6 64.3h0m1.2-34h0m.6-25.3h0m.2 19.8h0m.1 21.4h0m.9 8.2h0m0 17h0m.2-81.3h0m.2 27.4h0m.3 16.6h0m0-.4h0m.5 35.8h0m.1-7.8h0m.2-26.6h0m.2 5.5h0m.1 12.3h0m.1-22.9h0m0 10.2h0m.2-21.9h0m.1 5.3h0m.1 40h0m.1 2.2h0m.1-35.5h0m.1 9.5h0m.3 0h0m1.8 4.3h0m.2 21.7h0m.7-30.5h0m.1 3.3h0m.2 14.2h0m.7-1.6h0m.1-27.6h0m0 11h0m.1 29.4h0m.6-17.5h0m.1 23.1h0m0-34.8h0m.3-13.1h0m0-1.5h0m.1 2.6h0m.1-20.9h0m.1 20.1h0m.3 10.6h0m.1 22.4h0m.2-17.7h0m.1-22.8h0m.6 3.6h0m.1 18.8h0m.1 19h0m.6-36.8h0m.1 5.2h0m.1 13.6h0m.3 14.4h0m.1-17.3h0m0 2.9h0m.2 6.5h0m.2-15.5h0m.3-15.2h0m.3 23.8h0m.2 15.7h0m.1-10.2h0m.2-19.2h0m.1-9.8h0m.1 8.3h0m.3 14.9h0m0-1h0m.2 1.4h0m0-.8h0m0 21.7h0m.2-12.1h0m.5-9.1h0m.3 18.9h0m.3-23.8h0m.2-.6h0m.2 30.4h0m.4-41.9h0m.5 13.9h0" stroke="#ce4034" stroke-width="2.3" stroke-linecap="round" fill="none"/>
<path d="M217.7 902.6h0m11.2 10.5h0m12-19.1h0m1.2-1.5h0m.1-1.5h0m4.4-1.4h0m2.5-2.3h0m.3 1.5h0m4.2-2h0m5.6 4.8h0m2.1-1.1h0m1-4.9h0m1.7-16.5h0m.1 21.7h0m1.8 11.6h0m.2-10.2h0m1.7-19.9h0m.7 15.3h0m.4 9.5h0m3.9-3.2h0m1-22.9h0m1 15.6h0m2.6 3.4h0m1.4 0h0m7.4-29.6h0m.4-1.3h0m.5 1.4h0m4.8-5.4h0m1.1 .3h0m1.5 10h0m.6-10.7h0m0 2.8h0m1.3 18.8h0m.3-13.7h0m.2 12.6h0m0 21.8h0m.1 5.6h0m0-45.5h0m.6 43.1h0m.2-36.4h0m.1 2.2h0m.1 9.2h0m2.4 17.9h0m.5 53.3h0m.6-79.7h0m.2-3h0m.1-9.2h0m.2 29.9h0m0-22h0m.3 18.5h0m.2-7.8h0m.1 13.7h0m0-34.8h0m.3 73.4h0m0-27.2h0m.2-44.9h0m.7 23.7h0m.1 35.9h0m.1-34.6h0m.4-4.6h0m.8 54.8h0m.1-37.3h0m.1 38.2h0m0-35.9h0m0 35.5h0m.1-29.4h0m.1 31.6h0m.1 .1h0m.4 1.7h0m.1-64.7h0m0 59.9h0m.2 27.5h0m.2-27h0m0-44h0m.4 6.7h0m.6 37.5h0m.1-.4h0m.4-7.3h0m0-18.3h0m0-9.6h0m0 7.4h0m.2 28.2h0m.2-31.4h0m.1-2.8h0m.1 31h0m.1-34.1h0m.2-13.8h0m.1 20.6h0m0-6.5h0m.3 26.2h0m.1-21.5h0m.1 44.8h0m.2-23.4h0m0 13.3h0m.2-18.1h0m0 22.4h0m.2-13.1h0m.1-5.2h0m.1 6.2h0m.6-3.5h0m.1 4.6h0m.2 24.1h0m.3-51.3h0m0 13.8h0m.1 7.9h0m.1-27.8h0m.4 44.4h0m.3-17.4h0m.1-21.2h0m.1 2.9h0m.3 31.4h0m.3 10h0m.1-67.2h0m.1 37.9h0m.1-16.9h0m.4 22.6h0m.2-5.1h0m.3 19.4h0m.5-20.3h0m.2-45.4h0m.2 54.5h0m.3 4.9h0m.2 8.1h0m0-53.2h0m0-15.8h0m.3 51.7h0m.2-3.7h0m0 21.7h0m.1-39.9h0m.1-5h0m0 26.2h0m0 11.1h0m.2-33.5h0m.3 24.7h0m.1-8h0m.2-25.3h0m.1 4.1h0m.1 19.8h0m0-35.8h0m.1 40.2h0m.2 2.6h0m.4-6.7h0m.2 11.6h0m.1 22h0m.2-5.7h0m0 4.6h0m0-20.9h0m0-9h0m.3-41.8h0m0 43h0m0-10h0m.1 34.2h0m0-50.7h0m.1 58.3h0m0-6.7h0m0-10.1h0m.1 4.9h0m.2-4.9h0m0-21.2h0m.1 21.8h0m0-32.8h0m.3 23.9h0m0 3.6h0m.1 11.2h0m.1 3.1h0m.1-13.2h0m.1-34.1h0m.1 23.3h0m.1-37h0m.1 8.1h0m0 42.9h0m.1-12.6h0m.2 19h0m.1-16h0m.2 28.5h0m0-73.8h0m.1 66.7h0m.1-47.6h0m0 23.4h0m.1-16.2h0m.1 46.7h0m0-7.3h0m.1-24.4h0m.3 22.1h0m.2-8.8h0m.3-27.1h0m.1 15.1h0m0 17.3h0m.2 .9h0m.2-18.2h0m.4-26.4h0m0 32.4h0m0 5.7h0m.3 10.7h0m0-21h0m0-11.8h0m.1 27.4h0m.1-1.2h0m.2-3h0m0-33.8h0m.3-18.8h0m.1 65.5h0m0-15.8h0m.3 8.8h0m.1-12.2h0m0-6.1h0m0 9.5h0m.1-18.1h0m.1 7.5h0m0 8.9h0m.2-3.6h0m.3-7.8h0m.2-14.1h0m.3 3.3h0m0 16.5h0m.1-40.8h0m0 28.4h0m.1 13.5h0m.2-6.8h0m.1 13.5h0m0-30.8h0m.1 22.1h0m.1-21.1h0m0-1h0m.1 19.8h0m.2-4.8h0m0-25.6h0m.4 6h0m.1 25.5h0m.1 27.1h0m.4-21.1h0m.1 3.6h0m.1-14.1h0m0-4.4h0m0 8.7h0m.1 16h0m.2-34.9h0m.1 20.3h0m.2-6.3h0m0-1.3h0m.1-14.1h0m0 15.6h0m.2-.9h0m0 6.5h0m.2-30.2h0m0 24.6h0m.2 2.3h0m.1-1.6h0m.3 1.9h0m.2-19h0m.4 21.2h0m0-20.6h0m.2-2h0m.7 23.3h0m0-23.9h0m.7 15.4h0m.1 12h0m.3-13.1h0m0 14.8h0m0-28.5h0m.1-.3h0m.1 37.4h0m.8-18.4h0m.7-4h0" stroke="#b32228" stroke-width="2.3" stroke-linecap="round" fill="none"/>
<path d="M218.3 895.3h0m25 7.1h0m13.4 14.3h0m15.9 14h0m2.7-11.5h0m.4-24.1h0m.6 6.6h0m4.7 14.6h0m1-14.6h0m4.4 39h0m18.2-17.7h0" stroke="#e4d3cb" stroke-width="2.3" stroke-linecap="round" fill="none"/>
<path d="M235.3 899.8h0m9.7-8.9h0m11.6 27.9h0m9.3-26.5h0m10.6 8.6h0m6.4-34.4h0m5.2 28.5h0m1.5 27.9h0m.4-40.3h0m2.9 30.9h0m5.4-32h0m.5 65.9h0m6.7-33.1h0m1.3 10.3h0" stroke="#edbd9d" stroke-width="2.3" stroke-linecap="round" fill="none"/>
<path d="M217.6 896.2h0m1.4-.1h0m.4 7.3h0m.2-8.6h0m1.1 6.6h0m0-10h0m0 6.3h0m.2-1h0m.3-3.1h0m1.5 3h0m.4-.8h0m3.3 5.7h0m1 3h0m.6-7.2h0m.6-.3h0m2.8-.9h0m0-3.6h0m2.4 6.3h0m.1 16.3h0m.2-16.9h0m0 .2h0m1.9 13.9h0m7.5 .1h0m1.9-22.6h0m4.3 2.2h0m1-19.2h0m2 17h0m1.4-18.6h0m5.6 46.5h0m3.9-45h0m.2 1h0m1 60h0m.1 4.4h0m2.5-6.6h0m.9-43.4h0m1.3-8.8h0m2 17.7h0m.1-24h0m4.6 26h0m3.6 26.2h0m1.3-21.8h0m.3 23.4h0m4.5-39.2h0m2 53.1h0m1.8-60.4h0m1.8 17.8h0m1.1-16.5h0m1.9 16.6h0m.1 19.9h0m.8-25.8h0m4.2-7.2h0m.5 18.8h0m.2-45.1h0m2.7 20.8h0m4 78.1h0m1.7-64.8h0m.1 53.5h0m.5-30.7h0m.9 4.6h0m.7-.8h0m4.1 22.4h0m2.6-70.6h0m6 5.5h0m9.6 16.9h0" stroke="#f3a36d" stroke-width="2.3" stroke-linecap="round" fill="none"/>
<path d="M220.9 901.6h0m16.4 .1h0m2.2 9.7h0m8-22.8h0m.5 20.9h0m2.8-24h0m.7 7.5h0m1.6-9.6h0m2 37.2h0m4.9-.3h0m.1-15h0m.8-15.8h0m1.3 .3h0m2.8-.9h0m0 9.7h0m.4-12.6h0m.8 12.5h0m2-1.9h0m.5-1h0m.3-6.7h0m3.3 42.3h0m.7-40.6h0m1.8-14.5h0m.8 59.6h0m1.9-19.3h0m.3-44h0m.2 17h0m0 21h0m1.4 8.8h0m1.3-55.6h0m1.2 67.3h0m.2-50.4h0m1.8 .1h0m2.1-18.6h0m1.5 56.3h0m2.2 21.1h0m.2-73.9h0m.6 54.4h0m.4-24.9h0m.8-.2h0m.7-26.9h0m.6 47.5h0m.2-12.1h0m.1 41.1h0m.8-28.8h0m2.8 11.2h0m.1-5.6h0m1 16.9h0m2.3-66.3h0m.8-.5h0m1.3 15.2h0m.2 5.4h0m.2-22.9h0m.2 5.8h0m1.6 37.9h0m1.5-20.8h0m.2 22.7h0m1.4-18h0m.3-3h0m1.1 56.3h0m.1-60.1h0m1.3 46.9h0m0-1.9h0m1-37.8h0m1.2-24.5h0m1.7 71.9h0m.1-28.4h0m1.8 26.8h0m1.9-33.9h0m1-38.4h0m.9 11.3h0m.8 11h0m.5 35.7h0m.9-33.6h0m.6-14.7h0m1.8 9h0m2.1 20.2h0m.3 21.5h0m.8-45h0m.1 29.9h0m.7-16.8h0m.8 10.8h0m2.2-20.6h0m.6-5.1h0m2 25.6h0" stroke="#e98459" stroke-width="2.3" stroke-linecap="round" fill="none"/>
<path d="M218.7 900.7h0m1.3-5.4h0m1.4-1.9h0m4.4 1.3h0m3.6 16.8h0m.9-12.3h0m13-11.9h0m1.7 3.3h0m1.9-.3h0m1.3-4.6h0m2.4 20.9h0m.6-14.2h0m3.8 .8h0m3.8 4.3h0m1.1 29.2h0m.7-42.9h0m.8 46.9h0m.2-15.8h0m1.9-23.9h0m.8 45h0m0-56.6h0m2.9 57.2h0m.3-30.5h0m1-14.6h0m1.8 44.7h0m.4-45.1h0m1.8 14.1h0m1.8-32.7h0m.5 3.4h0m.8-7.6h0m3.4-.7h0m1 1.3h0m.4 42.7h0m.6-36.2h0m3.9-1.4h0m.1 48.1h0m2.2-64.1h0m1.3 13.8h0m2.5-18.8h0m.5 1.5h0m.6 .5h0m.6 .5h0m.3 80.7h0m2.6-83.2h0m.7-2.7h0m.1 95.6h0m1.7-95.9h0m0 41.1h0m.3 2.4h0m.1 44.1h0m2.1-59h0m.6 44.3h0m.1-53.7h0m.8 8.1h0m.1-21.7h0m.3 11.9h0m.5 1.7h0m.2 46.5h0m.1-48.6h0m.4-9h0m.1 31.6h0m1 59.9h0m.1-9.2h0m.4-9h0m.2-38.7h0m1 59.6h0m.3-53.3h0m.5 21.6h0m.2-35.6h0m.5 53.9h0m0-22.1h0m1.3-24.2h0m.8 42.8h0m.2-4h0m.3-40.9h0m.1 30.6h0m0-.6h0m.5 20.8h0m.9 2h0m1.4-29.3h0m.8 30h0m0-21.5h0m.2-48h0m1.5 35.5h0m1-5h0m.1-.6h0m.5 31.4h0m.2-52.6h0m.4 27.1h0m1 .7h0m0 15.1h0m.4-13.6h0m.2 29.4h0m.3-40.7h0m.3 4.8h0m.2-23.5h0m0-7.8h0m.4 53h0m.2-27.4h0m.7-4.7h0m0 19.1h0m.1 20.1h0m.1-2.4h0m0 1.7h0m.3-14.7h0m1.2-11.4h0m.1-31.8h0m.9 20.3h0m0 23.9h0m.1 8.3h0m.3-18.1h0m0 34.5h0m.1-19.5h0m.2-1.3h0m2.3-36h0m.1-4.9h0m.8 15.8h0m.7 28.7h0m.4-18.4h0m.3-26.1h0m.6 35.4h0m.1 1.2h0m.1-43.9h0m.6 31.9h0m.4 21.3h0m1.4-38.8h0m.4 40.8h0m.4-17.2h0m.3-19h0" stroke="#de6346" stroke-width="2.3" stroke-linecap="round" fill="none"/>
<path d="M224.7 893.7h0m8.2 .1h0m6.8-2.4h0m2.8 18.7h0m5.8-19.1h0m.1-1.9h0m.3 .4h0m7 33.7h0m3.7-22.9h0m2.4-9.3h0m1.2-7.2h0m.3 53.5h0m.3-52.4h0m.1 4.9h0m.6 1.5h0m.2 4.9h0m.2-7.7h0m.3 .9h0m.2 7.6h0m1.7-23.3h0m.6 22.9h0m1.3-.9h0m1.7 21.3h0m0-24.7h0m.8 40.1h0m1.3-3.6h0m.2-30.4h0m2.9-9.2h0m1.4-1h0m1.5-21.7h0m.3 24.1h0m.1-23.9h0m2.4 8.1h0m4.6-11.2h0m.2 11.5h0m.2 63.2h0m2.3-78.9h0m1.8 38h0m.6-20.5h0m.5-2.1h0m2.2 25.1h0m1.6-44.9h0m.3-.6h0m1.8 .6h0m.6 52.5h0m1.5-11h0m1.1 21.2h0m.5-30.3h0m1-33.8h0m.2 85.5h0m0-83h0m.3 12.4h0m0 35.5h0m.2-43.1h0m.4 7.8h0m0 33.3h0m.2-31.6h0m.3 22.5h0m.2-28.9h0m.2 29.7h0m.1-19.3h0m.5 17.9h0m.1-7.7h0m.1 13.4h0m.6-23.1h0m0 11.8h0m0 42.7h0m.2-65.5h0m.2 71.5h0m.6-6.9h0m0 2.6h0m.2-38.9h0m.6 8.2h0m0 9.8h0m.3 4.8h0m.5 22.8h0m.4 19.4h0m0-25.3h0m1.1 6.8h0m0-52.2h0m.1 31.7h0m.1 6.6h0m0-26.5h0m.1 37.8h0m0-35.4h0m0 52.3h0m0-36.4h0m.1 8.3h0m.3 17.9h0m.1-5.9h0m1.2-45.3h0m.1 28.4h0m.1 1.1h0m1.8-21h0m1-1.8h0m.7 22.3h0m.7-19.6h0m.7-12.1h0m.2-2.1h0m.1 25h0m0-23.8h0m.5 39h0m.3-3.9h0m.3 19.4h0m.4-29.8h0m.1 19.7h0m.1-15.6h0m0-14.7h0m.2 4.7h0m0-9.5h0m.4-3.7h0m.1 29.2h0m.1 9.8h0m.1-43.6h0m.1 33.9h0m.1-28.3h0m0 20.6h0m.1 16.3h0m.3 8h0m.1-49.1h0m0 43.4h0m.1-27.5h0m.1 28.5h0m.1-19.8h0m.5 22.7h0m.3-32.1h0m.7 24.8h0m.1-16.6h0m0-40.8h0m.1 61.9h0m.2-21.3h0m.2 11.8h0m.3-13.5h0m.2-21.2h0m.2 35.7h0m.5 11.9h0m.5-30.2h0m.8-3.2h0m.6 3.1h0m1.4 26.4h0m0-22.1h0m1.1 24.8h0m.1-39.7h0m.2 8.4h0m.3 17.5h0m.1-1.7h0m.4-15.4h0m.7 16.2h0m1.1-13.6h0m.1 1.8h0m.4 3.7h0m.2-4.2h0m.1 6.5h0m.2-24.4h0m1.3 3.5h0" stroke="#ce4034" stroke-width="2.3" stroke-linecap="round" fill="none"/>
<path d="M217.3 897.5h0m2-1.4h0m4.4 9.9h0m.4-14.7h0m.7 6.6h0m1.3 12h0m5.5-10.6h0m6.7-10.7h0m6.8-1.7h0m1.4 2.4h0m5.6-13.5h0m5.4 9h0m.4 .7h0m1.9-3h0m.1 50.2h0m0-48.6h0m.6 53.7h0m.7-56.5h0m.4 43.2h0m3.8 7.1h0m.9-47.8h0m.3 9.6h0m8.5-16.6h0m1.5 24.6h0m.8 33.6h0m2.1-58.5h0m7.5-19.3h0m.6 11.9h0m.7-9.4h0m4.2 15.1h0m.1-18.8h0m1.2 .4h0m.6-2.3h0m.2 2.3h0m.7-2.1h0m.5-2.5h0m.2 6.8h0m.7-2.1h0m.8-.3h0m.2 4.8h0m.1-10.1h0m.8 7.7h0m.4-8.3h0m.1 .2h0m.6 47.4h0m1.6-29.4h0m.2-19.3h0m.2 10.6h0m.1-3.8h0m.3 14.1h0m.2 7h0m0-19.1h0m.4 26.8h0m.2 40.5h0m.1-26.6h0m.5-25.6h0m.4 41.7h0m.5-41.8h0m.1 78.9h0m.7-21.1h0m.5-48.8h0m.2 17.4h0m.1 31.9h0m.1-1.5h0m.3 2h0m.3-49h0m.1 47.9h0m.2-5h0m.3 14.6h0m0-9.5h0m.4-3.3h0m.1 7.7h0m0-19h0m.4-18h0m0-8.5h0m.1 40.1h0m0 5.4h0m.1-43.4h0m.2-16.8h0m0 36.1h0m.2 3.1h0m.2 7.4h0m.2-35.6h0m0 71.8h0m.1-27h0m.1-29.7h0m.2 32.2h0m0-38.6h0m0 23.4h0m0 16.5h0m.1-12.5h0m.2 12.2h0m.3-37.6h0m.1 2.1h0m0 44.6h0m.1-.9h0m.3-23.1h0m.1 18h0m.2-16.3h0m0-2.8h0m0 20.1h0m.5-20.9h0m.3-37.1h0m0 34.9h0m.1 17.3h0m.2-15.5h0m.1 1.1h0m.2-24.9h0m.2 24h0m.1-21.4h0m.1 11.7h0m.2 2.8h0m.1 20.5h0m.1-12.3h0m.1 1.1h0m.2-21.2h0m0 9h0m.3 15.5h0m.2-22.8h0m.7-1.7h0m.4 46.8h0m.2-25.3h0m.2-14.2h0m.4 7.3h0m.1-5.1h0m.2-17.6h0m0 20.3h0m.2-43.1h0m.1 63.1h0m0-30h0m.1 .2h0m0 18.4h0m0-25.7h0m.1 21.7h0m.1-2.7h0m.2 19.6h0m0-23.1h0m.1 17.4h0m0 3.6h0m.2-.1h0m0-6h0m.1-36h0m0 22.5h0m.1 8.9h0m.1-24.9h0m0 31.6h0m.2-11.7h0m0-.1h0m.3-3.5h0m.1-2.3h0m.2-20.2h0m0 48.6h0m.1-54.9h0m0-3.9h0m.1 28h0m.1-21.1h0m.1 17.4h0m.1 3.9h0m0 25.2h0m.2-18.7h0m0-11.5h0m.3 1.9h0m.2 13h0m0-42.6h0m.2 65.5h0m.1-9.9h0m0-22.3h0m.3 16.3h0m.1 2.3h0m0-25.9h0m0 34h0m.2-7.2h0m0-11.7h0m0 20.2h0m0-22.2h0m0 .6h0m.1-44.2h0m.4 3.3h0m.2 41.6h0m0 1.4h0m.1-9h0m.1-12h0m.2 4.5h0m.2 27.4h0m.1-36.9h0m.2 38.6h0m0-2.6h0m.3 12.1h0m.6-10.4h0m0-7.8h0m0 6.8h0m.1 6h0m.1 1.7h0m.1-8.6h0m0 14.9h0m.1-14.4h0m.1-.3h0m.1 8.8h0m.2-7h0m.2-35.6h0m.1 9.5h0m0 3.3h0m.1 7.4h0m.2-8h0m.1 24.7h0m.1-1.8h0m.1 12.2h0m0-51.1h0m.1 34h0m.2 4.2h0m0 12.7h0m.1-27.4h0m.1-4.4h0m.2 24.7h0m0-13.7h0m.1-7.4h0m.2 1.7h0m.2-22.1h0m.1 18.2h0m0 5.6h0m.1-16h0m.2 4.5h0m.1 5.8h0m.2 16.5h0m0-32.5h0m.1-5.2h0m.3 22.9h0m0 5.1h0m.1-15.1h0m.1 12.2h0m.3-9.3h0m0-2.4h0m.5 9h0m0 20.6h0m0-27.3h0m.1 .4h0m0 3.7h0m.8 23.4h0m0-30.1h0m0-12.2h0m1.4 8.9h0m.1 13.8h0m0 27.9h0m1.1-41.8h0m.5 12.9h0m.2 7.2h0m.6-8.5h0m0 7.3h0m.1-1.5h0m.1-9.8h0m0 20.4h0m.7-14.7h0m.8-15.8h0m.5 1.7h0" stroke="#b32228" stroke-width="2.3" stroke-linecap="round" fill="none"/>
<text x="186" y="846.3" font-size="14">J</text>
<text x="176" y="906.8" font-size="8.2" text-anchor="middle" transform="rotate(-90 176 906.8)" fill="#7a7a7a">tSNE_2</text>
<text x="277.3" y="981" font-size="8.2" text-anchor="middle" fill="#7a7a7a">tSNE_1</text>
<defs><linearGradient id="cb" x1="0" y1="0" x2="0" y2="1"><stop offset="0%" stop-color="#a51423"/><stop offset="20%" stop-color="#cd3c32"/><stop offset="40%" stop-color="#e26e4b"/><stop offset="65%" stop-color="#f4a56e"/><stop offset="88%" stop-color="#e8cdbe"/><stop offset="100%" stop-color="#dddddd"/></linearGradient></defs>
<rect x="396.2" y="842.4" width="14.4" height="123.6" fill="url(#cb)" stroke="#bbb" stroke-width="0.5"/>
<text x="413.6" y="847.7" font-size="6.5" fill="#555">12</text>
<text x="413.6" y="867.6" font-size="6.5" fill="#555">10</text>
<text x="413.6" y="887.9" font-size="6.5" fill="#555">8</text>
<text x="413.6" y="907.8" font-size="6.5" fill="#555">6</text>
<text x="413.6" y="928.1" font-size="6.5" fill="#555">4</text>
<text x="413.6" y="948" font-size="6.5" fill="#555">2</text>
<text x="413.6" y="967.9" font-size="6.5" fill="#555">0</text>
<text x="425.5" y="904.7" font-size="7" text-anchor="middle" transform="rotate(-90 425.5 904.7)" fill="#666">log2(TPM+1)</text>
<text x="292.5" y="1001" font-size="14.5" text-anchor="middle">GSE120575</text>
</g>
<g id="E">
<text x="450" y="319.8" font-size="14">E</text>
<path d="M478.5 335.1h0m.8-.6h0m.3-1.6h0m.1-1.7h0m.1-.6h0m.5 5.7h0m.4-1.3h0m.3-2.8h0m.3 1.2h0m.1-3.5h0m0 6.4h0m.1-7.2h0m.7 4.2h0m.4 1.1h0m.1-2.7h0m.5-1.4h0m0 6.2h0m.8 1h0m0-2.3h0m0-3.3h0m.1 4.6h0m.5-6.6h0m.8 5.9h0m.1-2.7h0m.1 1.9h0m0 3.2h0m.2-6.2h0m.5-1.7h0m.5 2.4h0m.2 3.1h0m.2 3.8h0m.1-4.9h0m.2-4.1h0m.1 1.5h0m.2 5.2h0m.3-1.5h0m.2-3h0m.2-1.3h0m.2 3.1h0m.1 5.2h0m.4-12.7h0m0 11.2h0m.5-12.2h0m.1 8.7h0m.1-7.1h0m0 1.2h0m.2 7.7h0m0 1.4h0m.2-4.3h0m.8 2.7h0m.2-8.9h0m0 5.3h0m.1 1.8h0m.6 2.8h0m.1 3.3h0m0-12.4h0m.1 3.1h0m.1 7.9h0m.4-10.5h0m0 7.5h0m.1-1h0m0-7.9h0m.4 5.4h0m.4-2.7h0m0 2.1h0m.6-.7h0m0-1.8h0m.2 6.5h0m.2-2.6h0m0 .8h0m.3-6h0m0 10.6h0m.2-.7h0m.6-.3h0m0 4h0m.4-11.6h0m.2 .9h0m.1 4.9h0m.1 3h0m.1 1.5h0m.5-10.2h0m0-1.7h0m.5 7.7h0m.1 1.8h0m0 .7h0m0-6.2h0m.4-1.3h0m0 3.1h0m.2 14.8h0m.4-13.3h0m.1 1.7h0m0 3.1h0m.1-7.5h0m0 6.3h0m.4 7.4h0m0-3.9h0m.1-8.8h0m.1 13.7h0m.1-3.1h0m.1-2.8h0m0 7.5h0m.5-16.8h0m0 5.2h0m.3 11.6h0m.2-2.6h0m0-1.7h0m.2-6h0m0 1.3h0m0-6h0m0 2h0m0 11.6h0m.1-4.8h0m.2 13.7h0m.5-8.5h0m0-9.7h0m.2 15.2h0m.1-12.3h0m0 5.1h0m.1-5.7h0m.1 11.4h0m0 5h0m.1-24.1h0m0 11.6h0m0 5.9h0m.1-7.8h0m0-6.1h0m.1-2.4h0m.2 15.5h0m.1-14.3h0m0 20.1h0m.3-4.4h0m0 5.3h0m.3-14.4h0m.1-5.3h0m0 10.9h0m0-7.2h0m0-6.5h0m.2-1h0m.1 9.9h0m0 11.4h0m0-18.8h0m.1 9h0m.1 7.3h0m0-5.4h0m0 2.6h0m.2 5.7h0m0-16.3h0m.4-5.9h0m0 20.8h0m0-6.8h0m0 10.5h0m0-14h0m.1 12.3h0m0-6.4h0m0 2.1h0m0-9.2h0m.1 2.4h0m0-3.9h0m.4-1.3h0m0 13.2h0m.1-17.5h0m0 2.7h0m.1-1.2h0m.1 12h0m.6-2.2h0m0 9.8h0m.1-18h0m0 20.8h0m0-23h0m.1 4.2h0m0 17.2h0m.1 2.6h0m.1-26.3h0m0-2.4h0m.2 7.9h0m.1 6.1h0m0 7h0m.1-2.4h0m0-15.3h0m.1-4.1h0m.1 13h0m0 4.5h0m.1-6.2h0m.1 9.1h0m.4-1.8h0m0-2.1h0m.2 4h0m0 4.7h0m.1-20.6h0m0 5.1h0m0-6.7h0m.2 10.5h0m.1 15.2h0m0-17h0m.1-12.3h0m0 27.9h0m.1-13h0m.1 2.9h0m.1 6.1h0m0-17.8h0m0 1.6h0m0 1.9h0m.5 13.7h0m.1-6.3h0m.1-7.8h0m.1 1.7h0m.2 10.9h0m0-3.6h0m.1-10.6h0m0-1h0m.1 8.6h0m0-13.5h0m.2 24h0m.2-1.5h0m0-4.6h0m.3 .1h0m.1-3.3h0m0-14.2h0m.2 4.4h0m.4 18.1h0m.2 .7h0m.1-6.9h0m.6 1.6h0m.4 5.9h0m.3-7.4h0m0-1.3h0m.1-3.7h0m.1 10.6h0m.1-3.2h0m.9 3.6h0m0 .8h0m.4 1.8h0m.9-3.2h0m.7 1.6h0" stroke="#111" stroke-width="3.6" stroke-linecap="round" fill="none"/>
<path d="M515.6 363.4h0m1.4-4.4h0m.2 .9h0m.7 1.8h0m.3 2h0m.4-5h0m.1 2.9h0m.3-1.3h0m.1 7h0m0-1.4h0m.2-.7h0m.3-2.1h0m.6-1.3h0m.2 2.7h0m0 5.1h0m.1-11.2h0m.1 8h0m.1 3.9h0m0-10.4h0m.3 3h0m.1 4.6h0m.4 2.1h0m.5-7.3h0m.3 2.5h0m0 2.1h0m.1-6.2h0m.2 3h0m.1 4.3h0m.4 .8h0m.4 1.9h0m.2-3.8h0m.1 .9h0m.2-7.7h0m0 4.9h0m.2-3h0m.3 5.6h0m.1 3.7h0m0-2.3h0m.1-3.3h0m.1 8.4h0m.1-9h0m0-3.6h0m.1 1.3h0m.2 14h0m.3-1.5h0m.1 2.7h0m.6-.6h0m0-12h0m.2 8.4h0m0-5.6h0m0 3.9h0m.1 5.8h0m.2-7.3h0m.1-4h0m0 8.1h0m.1-5.8h0m.1 43.8h0m.6-38.8h0m.2 1.4h0m0-10.2h0m.1 47.7h0m.3-42.1h0m.3 45.7h0m0-48.5h0m.1 1.2h0m0 9h0m.1-.7h0m0-5h0m.4-3h0m0 6.9h0m0 1.6h0m.2 3.1h0m.3-12.7h0m0 52.8h0m.1-45.6h0m0 37.8h0m.1-.7h0m.1-41.9h0m0 2.7h0m0 42.9h0m.1-36.7h0m.1 40h0m.1-4.4h0m0-43.1h0m.4 4.4h0m0 43.7h0m.1-38.7h0m0 40.3h0m.1-3.8h0m.1-4.7h0m0-39.4h0m0-3.3h0m.1 41.9h0m.1-4.1h0m0-39h0m.1 47h0m.2-36.9h0m0 29.5h0m.1 6.1h0m.1-32.3h0m0-7.7h0m.1 3.2h0m.4-4.8h0m0 45.8h0m0-36.6h0m.2-2.5h0m0-11.2h0m.1 9.7h0m0 32.3h0m.2 7.7h0m0 2.9h0m.1-46.6h0m0 5.9h0m0-4h0m.1 39.5h0m0 5.9h0m.1-8.9h0m0-45.7h0m0 44.8h0m.1-39.7h0m.1 36.8h0m.1 5.1h0m.3-37.4h0m0-2.1h0m.1 44.5h0m0-2.4h0m.1-6.1h0m.1-28.3h0m0 35.5h0m0-45.1h0m.1-1.6h0m0 49.7h0m.1-39.9h0m0-13.4h0m.1 46.1h0m.1-5h0m.1-.8h0m0-28.1h0m0 35.3h0m0-30.8h0m.1-13.5h0m.1-1.8h0m.2 42.8h0m0-34.6h0m.5 6.8h0m0-1.7h0m0-6.9h0m.1-6.3h0m0 3.7h0m.1 6.5h0m.1-8.6h0m.1 10.2h0m.1-2.6h0m0 36h0m.1 3.8h0m0-8.3h0m0 3h0m.1-40.7h0m.1 48.6h0m0-8.7h0m0 10.4h0m.1-13.4h0m0 7.9h0m.1-41.2h0m.4 44.9h0m0-11.8h0m0-32.8h0m.1-3h0m.1 6.3h0m.2-4.9h0m.2-4.3h0m.1-2.7h0m0 15.4h0m0 .5h0m0 29.8h0m0 2.6h0m.1-3.4h0m0-44h0m0 49h0m0-1.9h0m.1-4.8h0m.1 8.8h0m0-41.5h0m.1-6.5h0m.3 40.7h0m.1-41.5h0m.1 14.8h0m.1-10.5h0m.2 1.7h0m0 2.3h0m.1 40.5h0m0-5.6h0m.1-36.2h0m0-4.6h0m.2 9.5h0m.1 28.3h0m.1 7.2h0m0-2.1h0m0-31.7h0m.1 30.1h0m0-42.9h0m.4 41.6h0m0 5.2h0m.1-47.9h0m0 3.9h0m.1 7.7h0m.1 33.5h0m0-36.4h0m.1 32.4h0m0-35.3h0m0 1.7h0m.2-6.6h0m0 44.8h0m.1-42.9h0m.3-4.1h0m.1 41.1h0m.3 2.9h0m.1-39.7h0m.1 41.5h0m0-40.2h0m0 2.9h0m.4-.6h0m0-7.1h0m.1 2.4h0m.1 7.3h0m.1 31.4h0m.3-28.1h0m0 28.8h0m.5-38.7h0m.2 6.9h0m0-5.4h0m0 3.6h0m.1-1.4h0m0-5.3h0m1.1 3.5h0m.1 7.2h0m0-2.5h0m.3-7.6h0m.1 4.9h0m.1 1.2h0m.3 3h0m.8-4.2h0m.2 4.4h0m.3 .6h0m.1-7.5h0m.1 3h0m.1 2.3h0m.8-4.9h0m.1 1.7h0" stroke="#111" stroke-width="3.6" stroke-linecap="round" fill="none"/>
<path d="M494.4 365.4h0m1.1-.1h0m.3-4.5h0m0 3.2h0m0-1.4h0m.5 12.7h0m0-4.1h0m.5-1.6h0m.1-8.6h0m.1 11.9h0m.1-4.3h0m.2 5.1h0m.1-8.8h0m.3-4.3h0m.1 14.8h0m.1-.9h0m.1-6.4h0m.2 3.7h0m0 .6h0m.1-8.3h0m.1 1h0m.2 4.4h0m.7 3.8h0m.1-3.6h0m.1 10.1h0m0-17.3h0m.1 13.1h0m.1-11.8h0m0-3.6h0m0 4.7h0m.4 3.9h0m0 18.8h0m0-13.6h0m.1 12.7h0m0-15.7h0m.1 12.7h0m0 .9h0m0-6.9h0m0 3.5h0m0-14.2h0m.1 11.4h0m.3 6.6h0m.2-21.1h0m.1 16.2h0m0 1.4h0m0 13.8h0m0-22.6h0m.1-.8h0m0 15.5h0m0-17.2h0m.2 13.3h0m0-9.4h0m0 2.1h0m0-13.9h0m0 31.8h0m0-27.3h0m.1 1.6h0m0 28.7h0m.1-18.9h0m.1-1h0m0-12.1h0m.2 21.1h0m.4-14.7h0m.2-1.9h0m.1-3.9h0m0 17.1h0m.1-14.6h0m0 22.8h0m0-8.7h0m0-6.6h0m.1-1h0m0-11.1h0m0 34.1h0m.1-13.4h0m0-12.1h0m.1 5.4h0m0 14.7h0m0-5.9h0m0-19.9h0m0 23.1h0m.1 7.4h0m0-34.2h0m.1 16.9h0m0 8.5h0m.1 5.3h0m.1-15.2h0m.1 17.4h0m.3-24.7h0m0-6.1h0m0 29.1h0m0-27.3h0m.2 10.4h0m0-13.2h0m.1 20.5h0m0 2.4h0m0 6h0m.1-24.5h0m0 4.1h0m0 22.7h0m.1-12.8h0m0 14.9h0m.1-16.8h0m0 17.8h0m.1-23.8h0m0 14.4h0m0-5.8h0m0-3.9h0m.1 23.5h0m0-15.1h0m.1-17.8h0m.1 6h0m0 29.9h0m0-15.3h0m.5 13.5h0m.1-20.3h0m0 6h0m0 9.2h0m0-25.4h0m.1 13.5h0m.1-18.7h0m0-1.4h0m.1 26.5h0m0-23.9h0m0 36.6h0m0-4.9h0m.1-6h0m0-7.7h0m.1 9.6h0m0-6.1h0m.1-11.6h0m.1-7.7h0m0 9.7h0m.1-4.9h0m0 16.5h0m.1-13h0m.1-5h0m0 27.8h0m0-37.1h0m0 19.1h0m0 15.4h0m.4-16.5h0m0-15.7h0m0 29.1h0m.1 7.7h0m.1-32.1h0m0 6.8h0m0 7.3h0m0-20.2h0m.1 26.4h0m0 .9h0m0-6.4h0m.1-9.8h0m0-7.7h0m0 11.8h0m.1 9.1h0m0 7h0m0-8.4h0m.3-18.4h0m0 2.8h0m0 21.4h0m.1-15h0m.1 19.1h0m0 7h0m.1-30.7h0m.1 9.4h0m.4 4.1h0m0 7.4h0m0-15.9h0m.1 13.6h0m0-11.1h0m0-1.6h0m0 23h0m.1 5.8h0m0-37.1h0m.1 34.1h0m0-29.8h0m0-2.6h0m.1-3.1h0m0 23.3h0m.1 13.3h0m0-22.6h0m0 2.3h0m.1 10.3h0m.1 7.9h0m0-27.9h0m.1 6.8h0m0-14.7h0m.1 42.8h0m0-36.9h0m0 23.6h0m0-31.8h0m.1 43.1h0m0-18.9h0m0 8.9h0m.1-10.6h0m.3 13.2h0m0-25.4h0m.1 30.9h0m0-3.8h0m0 8.1h0m.2-31.4h0m0 3h0m0 10.6h0m0-20.5h0m0-4h0m0 27.2h0m.1 4.2h0m0-19.1h0m.1 16.4h0m0-9.2h0m0 20.7h0m.1-3.9h0m0-19.5h0m0-18.3h0m.1 7.6h0m0 32.7h0m.1-16.3h0m0-12.9h0m.1 20.6h0m0-15.2h0m.1-13.4h0m.1 16.9h0m0 3h0m0 3.7h0m0-28.5h0m.4 32.9h0m0-5.1h0m0 4.5h0m.1 3.6h0m0-17h0m0-8.3h0m.2 1.9h0m.1 18.3h0m0-9.6h0m0-20.5h0m.1 24.9h0m0 9.7h0m0-26.1h0m.1 34h0m0-1.4h0m0-.7h0m.1-37.4h0m0 10h0m.1-8.8h0m0 9.9h0m0-8.5h0m.1 49.2h0m0-47.5h0m0 31.1h0m0-37.4h0m0 35.9h0m.2-14.7h0m0 6.3h0m0 16.4h0m0-29.3h0m0 7.7h0m.4 8.1h0m.1 1.7h0m0-23.3h0m0-1.1h0m.1 31.5h0m0-12h0m0-20.6h0m0 15.4h0m.1 6.5h0m0 25.3h0m0-53.5h0m0 46.5h0m0-34.6h0m.1 24.5h0m0-21.9h0m0-1.2h0m0 27.3h0m.2-6.4h0m0-10.7h0m0 9.5h0m.2 17.4h0m0-25h0m0 19.3h0m.1-40.4h0m0 37.7h0m0 7.6h0m0-6.1h0m.2-6.5h0m0-17.4h0m0-9.3h0m.1 10.3h0m.3 5.7h0m.1 4h0m0 21h0m.1-3.3h0m0 4.3h0m.1-48.2h0m.1 2.9h0m0 12.5h0m0-8.3h0m0 24.3h0m0 19.3h0m.1-.6h0m0-4.4h0m0-6.8h0m0 2h0m.1-38.7h0m0 54.5h0m0-29.1h0m0-3.6h0m.1 13.1h0m0-26.1h0m.1 22.4h0m0-12h0m0 15.3h0m0-31h0m.1 13.7h0m0 34.2h0m0-18.9h0m0-17.6h0m.1-12.2h0m.1 37h0m0-24.2h0m0-8.6h0m.4 3.6h0m.1 18.9h0m0 5.8h0m0 6.2h0m.1-43.5h0m0 45.2h0m0 2.4h0m0-8.4h0m0-31.3h0m0 44.5h0m.1-31.9h0m0 7h0m0-23.4h0m0 1.8h0m0 8.7h0m.1 14.2h0m0 11.7h0m.1-7.2h0m0 2.8h0m0-16.5h0m.1 22.2h0m.1-17.6h0m0 30h0m.1-32.2h0m0 29.6h0m0-4.6h0m.1 8.2h0m0-41.2h0m.1-4.5h0m0 20.1h0m0 19.6h0m0-38.7h0m.1-7.5h0m0 32.1h0m0-9.5h0m.4 16.6h0m.1 4.1h0m0 9.1h0m0-18.1h0m0-10.2h0m0-22.8h0m0-1.1h0m0 25.4h0m.1 5.7h0m0 11.2h0m0-13.4h0m0-26.5h0m.1 44.4h0m.1 4.2h0m0-17.6h0m0 16h0m0-8.9h0m.1 7.2h0m0-37h0m.1-14.3h0m0 16.7h0m.1 13.6h0m.1-6.8h0m0-15.3h0m0-8.6h0m.1 40.3h0m0-30.7h0m0 16.7h0m0-13.1h0m.1 11.5h0m.1 34.8h0m0-43.8h0m0 18.4h0m.1-12.1h0m0 27.1h0m0-37.6h0m0 30.2h0m.4-40.7h0m0 58.3h0m0-15.9h0m0-38.5h0m0 39.7h0m0 7.1h0m.1-41.5h0m0 36.2h0m0-16.6h0m0 19.5h0m0-22.7h0m.1-2.7h0m0 32.9h0m.1-49.8h0m.1 26.4h0m0-24.9h0m0 26.4h0m.1 6.5h0m0 12.1h0m0-36h0m.1 40.3h0m0-10.1h0m0-8.8h0m0 21.6h0m0-20.3h0m0 9.7h0m.1 4.4h0m0-26.1h0m0 2.3h0m.1-19.2h0m0 25.7h0m0-14.7h0m0 2.4h0m.1-4.6h0m.1 12.3h0m0-13.8h0m0-2.3h0m.4 24.9h0m0-32.7h0m0 39.2h0m.1 9.9h0m0-19.7h0m0 21.6h0m.1 .8h0m0-41.2h0m.1-9.2h0m0 11.4h0m0 33.1h0m0-17.3h0m0-16.4h0m0 9.8h0m.1 12.6h0m0-3.6h0m0-11.9h0m.1 29.2h0m0-26.9h0m0-5.6h0m.1 25.5h0m0-17.8h0m0-5.4h0m0 8.5h0m0 18.7h0m.1-42.3h0m.1 11.3h0m0 21.3h0m0-10.1h0m.1 11.4h0m.1 3.9h0m.1 3h0m.4 1.6h0m0-9h0m.1-9.9h0m0 22.5h0m.1-16.5h0m.1 18.8h0m0-36.7h0m0 26.9h0m.1 5h0m.1 1.4h0m0-31.3h0m0 13.6h0m0 1h0m.1-12.8h0m0-19.7h0m0 26.1h0m.1 14.6h0m0-17.1h0m0 12.3h0m.1 3.1h0m.1-17.8h0m.1 .7h0m0 23h0m0-43.6h0m0 12h0m0 1.6h0m.1 26.8h0m0-17.1h0m.4 .1h0m0 19.9h0m0-18.4h0m0 1.7h0m.1 18.6h0m.1-15.4h0m.1-15h0m0 26.6h0m0-1h0m0-19.2h0m.1 10.3h0m0-12.7h0m.1 4h0m0 11h0m0-.5h0m.1 2.4h0m1-9.7h0m0 4.4h0m.2-6.9h0m0 11h0m.1-6.7h0m0 15.3h0m0-3.9h0m.1 1.3h0m0 1h0m0-14.5h0m.1 4h0m.3 4.5h0m.2-13.6h0m.4-.6h0m.1 6h0m0-4.8h0m.1 5.6h0m.1 8.9h0m.2-11.2h0m0 4.1h0m.5-6.4h0m.2 12.6h0m.9-2.8h0" stroke="#111" stroke-width="3.6" stroke-linecap="round" fill="none"/>
<path d="M489 398h0m.1 .7h0m3.6 3.3h0m.3 .1h0m.8 4.2h0m.7-.8h0m.4 4.1h0m.3 .6h0m1.6 1.9h0m.3-11.9h0m0 12.7h0m.4-13h0m1.1 9.7h0m.6-.5h0" stroke="#111" stroke-width="3.6" stroke-linecap="round" fill="none"/>
<path d="M476 442.8h0m.3-2.9h0m.8 3.2h0m0-2.7h0m.3-35.2h0m.2 .4h0m.1 36.1h0m0-2.8h0m.1-1.7h0m.2-26.5h0m.4 29.5h0m.1-2h0m.1-28.3h0m.1 43.8h0m.2-39.7h0m.2 .1h0m0 33h0m0-3.9h0m.2-20.8h0m0 15h0m0 27.7h0m0-23.3h0m0 10.6h0m.1-16.7h0m0 33.1h0m.1-60.5h0m.1-.9h0m0 15.4h0m.2 24.6h0m0-9.8h0m.1 29.1h0m.1-38.7h0m0 21.1h0m0-4.7h0m.1 5.7h0m.1 19.1h0m0-30.6h0m.2 13.8h0m0 1.8h0m.1-12.1h0m.1 23.3h0m0-22.3h0m.1-25.8h0m0 9.8h0m0 18.6h0m.1-5.7h0m0-23.4h0m.1 47.4h0m.4 3.7h0m.2-4h0m.1-12h0m0 8.2h0m0-19.8h0m0 25.1h0m.1-14.2h0m0-8.3h0m0 4.8h0m.1-2h0m.1 3.7h0m0-4.7h0m.1 14.2h0m0-5.5h0m.1 9.8h0m0-21.6h0m0-3.2h0m.1 23.1h0m.2-23.7h0m.4 22.5h0m0-26.6h0m0 21.9h0m.1 8.6h0m0-5.5h0m0-14.3h0m0 22.6h0m.1-30.2h0m0 16.8h0m0-2.2h0m.1 1.5h0m0-12.6h0m.1 21.6h0m0-12.4h0m.1-11h0m.1 27.3h0m0-30h0m.1 33.1h0m.1-20.8h0m0 15h0m.1-16.3h0m.1-13.9h0m0 10h0m0 14.4h0m.1-16h0m.4 25h0m.1 .6h0m.1-32.1h0m.1 18.4h0m0-7.3h0m0 2.3h0m0-10.5h0m0 6.1h0m.1 26.2h0m0-1.4h0m.1-4h0m.1-12.5h0m0 4.2h0m0-1.4h0m0-4.5h0m0 10h0m.1-11.5h0m0-8.1h0m0-4.5h0m.1 8.1h0m0-2.8h0m.1 19.4h0m.1-22.2h0m.1 19.6h0m0 4.6h0m.4-13.5h0m0 19.8h0m.1-21.1h0m0 19.6h0m0-6.3h0m.1-24.5h0m0 6.1h0m0 1.7h0m.1-9h0m.1 28h0m.1-3.8h0m0-19.7h0m0 16.5h0m.1-3.4h0m.1-1.4h0m.1 6.9h0m0-19.7h0m0 12h0m.1 4.2h0m.1 7.5h0m0-21h0m0 4.9h0m.1-12.6h0m0-1h0m.4 29.3h0m.1-10.6h0m0 9.2h0m.1-17.2h0m.1-1.9h0m0 7.3h0m.1-10.6h0m0 15.5h0m.1-14.3h0m0 7.6h0m.1 10.4h0m0 9.7h0m.1-30h0m0 9.2h0m0-10.4h0m0-2.3h0m.1 30h0m0-8.7h0m.1 1.1h0m.1-5.9h0m0-5.9h0m.5 17.1h0m0-19.5h0m.2 7.1h0m0 4.5h0m.1-2.7h0m0 18.1h0m0-10.4h0m.1-3.5h0m0-19.2h0m.2 6.8h0m0-3.2h0m.1 6.6h0m.1-1.8h0m.1-6.2h0m0 29.2h0m.1 2.4h0m0-7.6h0m0-10h0m0-15.3h0m.1 10.4h0m.3-9h0m.2-3h0m.1 32.1h0m0-24h0m0 19.7h0m0-14.3h0m0-11.8h0m.2 14.7h0m.1 7.7h0m0-3.8h0m0-13.9h0m.1 16.9h0m0-12.8h0m.1 2h0m0-3.5h0m.1 6.2h0m.1 2.8h0m0 10.4h0m0-23.6h0m.1 21.2h0m.1-4.6h0m.4 1.8h0m0-22.9h0m.1 14.1h0m.1 6.4h0m.1-13.4h0m.1 21.7h0m0-16.2h0m.1-7.6h0m0 19.5h0m0-15.3h0m0 10.3h0m0-4.9h0m.1 2.1h0m0-5.6h0m.2 16h0m0-9.3h0m0-11.6h0m.2-5.1h0m0 2h0m.1 22.6h0m.4 .8h0m.1-23.4h0m.2 5.6h0m0 14.3h0m0 1.5h0m0-13.8h0m0 2.8h0m.1 7.8h0m.1-2.8h0m0-11.1h0m0-1.4h0m.3-1.1h0m0-2.9h0m.1 9.8h0m0 7.4h0m.1-2.7h0m.1-1h0m0 10.2h0m.4 1.9h0m.1-23.1h0m0 14.9h0m.1 4.5h0m.1-20.8h0m0 10.7h0m.3-7.4h0m0 21.5h0m.2-10.8h0m0 4.5h0m0-7.1h0m.1-3.5h0m0 6.5h0m0-5.5h0m.1 10.6h0m.1 3.4h0m.4-21.5h0m0 16.5h0m.1-4.3h0m0 2.7h0m0-13.2h0m.1 15.9h0m0 3.2h0m0 1.8h0m0 2.4h0m.1-13.9h0m.2 8.5h0m0-21h0m0 15.2h0m0 10.7h0m.1-21.2h0m.1 4.4h0m.3 1.2h0m.1-2.8h0m.4 3h0m0-1.6h0m.2-6.1h0m0 18.1h0m.1 5.9h0m.2-13.2h0m0 11.9h0m0-13h0m.1 11.4h0m0-9.5h0m0-8.7h0m.1-4.1h0m0 2.6h0m.1 18.8h0m.1-4.5h0m.2-1.7h0m0-9.1h0m0 11.8h0m0-19.7h0m.4 5h0m0 13.6h0m0-7h0m0-8.2h0m.1 22.1h0m.1-17.9h0m.1 13.8h0m0 1.3h0m0-14.1h0m.1 8.6h0m.1-11.5h0m.2-4h0m.1 8.6h0m0 3.7h0m.1 .8h0m0 8.9h0m.1-4.5h0m.5-12.9h0m0 16.4h0m0-10h0m.1 5h0m.1 1.4h0m.1-5.1h0m.2-4.4h0m.2 16.5h0m0 1.4h0m.1-12.2h0m.1-12.8h0m0 5.4h0m0 16.4h0m0-14h0m.1-5.4h0m0 16.2h0m.1-4.4h0m.4-8.6h0m0 16.5h0m.1-18.2h0m.1 10.4h0m0 4.8h0m.1-4h0m0 7.6h0m.2-11.1h0m0 8.9h0m.1-19.9h0m.2 .9h0m0 11.6h0m.1 3.5h0m.1-9.8h0m0 1.4h0m.1 1.3h0m.4 16.2h0m.1-6.2h0m0 2.6h0m.1-18.6h0m.2 19.9h0m0-16.2h0m.1 17.9h0m0-10.8h0m.3-3.2h0m0 4.7h0m.1 2.6h0m0-10h0m0 1.3h0m0-15.9h0m.1 11.9h0m0 11.5h0m.4 .2h0m.1 5.3h0m0-17h0m0 14.1h0m.2-11.2h0m0-6.3h0m.1 1.8h0m0-9.4h0m.1 26.9h0m.1-5.8h0m.3-9.6h0m.1 2.9h0m0 1.7h0m0 7.5h0m.1-4.4h0m.5 4.7h0m.2 2.9h0m0-16.1h0m0 4.8h0m.1 1.5h0m.3-4.8h0m0 13.3h0m0-2.9h0m.2-8.6h0m.1 3.8h0m.1 3.7h0m.5-5.5h0m0 1.7h0m.2 9.5h0m.1-13.3h0m0 .7h0m.2 10.3h0m.1-2.2h0m.3 1.7h0m.1-11.9h0m.4 6.8h0m.2 3.5h0m0-1.7h0m0-4.1h0m.1 11.5h0m0-16.2h0m0 14.8h0m.1-12h0m.1 10.7h0m.3-11.8h0m0 10.3h0m.1-6h0m1 7h0m0-9h0m.1 5.1h0m.4 6.7h0m0-5.6h0m.1-2.6h0m.1 7.2h0m0-3.4h0m.6-2.2h0m.9 .7h0m.1-2.2h0m0 3.8h0m.5-4.9h0m0-1.1h0m0-1h0m.6 3.8h0" stroke="#111" stroke-width="3.6" stroke-linecap="round" fill="none"/>
<path d="M519.8 461.8h0m3.2 .7h0m.7-2.9h0m.3 3.8h0m.1-1.5h0m.4-3.6h0m.7 6.8h0m.1-3.5h0m.1 4.2h0m.7-7.3h0m0 4.4h0m0-2.8h0m.6 .4h0m.3 4.6h0m.2-3.9h0m.2-15.2h0m.1-2.4h0m.2 14.6h0m0 5.4h0m.6-20.4h0m.1-1.5h0m.1 23.3h0m0-9.9h0m0 5h0m.1-5.5h0m.2 7.9h0m0-.4h0m.1-5.1h0m0 8.5h0m.1-20.8h0m0 1.3h0m0 1.6h0m0 11.3h0m.1-22.5h0m.5-.2h0m0 2.9h0m0 6.5h0m.1 13.5h0m0-18.7h0m.1 16.3h0m0-3.9h0m0-11.2h0m.3 2.1h0m0 22h0m0-14.1h0m.2 2.1h0m0 10.5h0m.1-1.6h0m0-7.3h0m0-5.9h0m.1 12.1h0m.1-14.4h0m0-12.3h0m.1 25.8h0m.3-6.2h0m.1-8.4h0m0 14.3h0m.1-4.3h0m.1-4.5h0m.2-3.6h0m.1-13.3h0m0 23.5h0m0-16.5h0m.1 2h0m.1 13.5h0m.1-11.9h0m.1-4.6h0m0 22.1h0m0-26.5h0m.2 24.9h0m0-9.1h0m0-2.3h0m.4-7.5h0m.1-6.2h0m.1 20.9h0m0-3.3h0m.1-2.2h0m.1 1h0m0 8.1h0m.1-4.9h0m0-11.5h0m.1 19.3h0m0-4.9h0m.1 3.3h0m0-21.5h0m0 24h0m0-16.1h0m.1 1.9h0m.1-4.1h0m.1-6.4h0m0 6h0m.1-7.9h0m.3 21.1h0m0-10.7h0m.1-8.6h0m0 .9h0m.1 2.1h0m.1 18.5h0m0-17.9h0m.1 10h0m.1 1.4h0m.1-7.7h0m0 16.8h0m.1-3.4h0m0-22.4h0m.1 26.2h0m0-13.9h0m.2-5h0m0 5.4h0m.2 5.6h0m.4 1.5h0m.1-7.9h0m0-13.3h0m0 3.1h0m.3 14.5h0m.1-8.7h0m0 10.2h0m.2-7.1h0m0 12h0m0-14.3h0m.1-2.7h0m0 7.5h0m0 2h0m0 10.3h0m.2-25.1h0m.1 20h0m.4-11.3h0m.2 11.9h0m.1-8.1h0m0-2.4h0m.2 1.9h0m0-5.3h0m.1 10.4h0m0-1.4h0m0-1.2h0m.1 10.8h0m.2-6.1h0m.2 3.2h0m.3-.9h0m.1-3h0m.2-6.6h0m.1 2h0m.2-1h0m.1 11.7h0m.1-7.3h0m.1-9.8h0m.1 13h0m.1-3.9h0m0-6.6h0m.6 3.2h0m.1 6.9h0m0-4.2h0m.1-9.4h0m.1 11.4h0m.1-3.6h0m.2 4.4h0m.3 3.1h0m.5-4.3h0m.3 1.2h0m0 2.7h0m.1-7.4h0m.7 6.5h0m.4-3.2h0m.1 1.3h0m.8-4.4h0" stroke="#111" stroke-width="3.6" stroke-linecap="round" fill="none"/>
<path d="M478.5 335.1h0m.8-.6h0m.3-1.6h0m.1-1.7h0m.1-.6h0m.5 5.7h0m.4-1.3h0m.3-2.8h0m.3 1.2h0m.1-3.5h0m0 6.4h0m.1-7.2h0m.7 4.2h0m.4 1.1h0m.1-2.7h0m.5-1.4h0m0 6.2h0m.8 1h0m0-2.3h0m0-3.3h0m.1 4.6h0m.5-6.6h0m.8 5.9h0m.1-2.7h0m.1 1.9h0m0 3.2h0m.2-6.2h0m.5-1.7h0m.5 2.4h0m.2 3.1h0m.2 3.8h0m.1-4.9h0m.2-4.1h0m.1 1.5h0m.2 5.2h0m.3-1.5h0m.2-3h0m.2-1.3h0m.2 3.1h0m.1 5.2h0m.4-12.7h0m0 11.2h0m.5-12.2h0m.1 8.7h0m.1-7.1h0m0 1.2h0m.2 7.7h0m0 1.4h0m.2-4.3h0m.8 2.7h0m.2-8.9h0m0 5.3h0m.1 1.8h0m.6 2.8h0m.1 3.3h0m0-12.4h0m.1 3.1h0m.1 7.9h0m.4-10.5h0m0 7.5h0m.1-1h0m0-7.9h0m.4 5.4h0m.4-2.7h0m0 2.1h0m.6-.7h0m0-1.8h0m.2 6.5h0m.2-2.6h0m0 .8h0m.3-6h0m0 10.6h0m.2-.7h0m.6-.3h0m0 4h0m.4-11.6h0m.2 .9h0m.1 4.9h0m.1 3h0m.1 1.5h0m.5-10.2h0m0-1.7h0m.5 7.7h0m.1 1.8h0m0 .7h0m0-6.2h0m.4-1.3h0m0 3.1h0m.2 14.8h0m.4-13.3h0m.1 1.7h0m0 3.1h0m.1-7.5h0m0 6.3h0m.4 7.4h0m0-3.9h0m.1-8.8h0m.1 13.7h0m.1-3.1h0m.1-2.8h0m0 7.5h0m.5-16.8h0m0 5.2h0m.3 11.6h0m.2-2.6h0m0-1.7h0m.2-6h0m0 1.3h0m0-6h0m0 2h0m0 11.6h0m.1-4.8h0m.2 13.7h0m.5-8.5h0m0-9.7h0m.2 15.2h0m.1-12.3h0m0 5.1h0m.1-5.7h0m.1 11.4h0m0 5h0m.1-24.1h0m0 11.6h0m0 5.9h0m.1-7.8h0m0-6.1h0m.1-2.4h0m.2 15.5h0m.1-14.3h0m0 20.1h0m.3-4.4h0m0 5.3h0m.3-14.4h0m.1-5.3h0m0 10.9h0m0-7.2h0m0-6.5h0m.2-1h0m.1 9.9h0m0 11.4h0m0-18.8h0m.1 9h0m.1 7.3h0m0-5.4h0m0 2.6h0m.2 5.7h0m0-16.3h0m.4-5.9h0m0 20.8h0m0-6.8h0m0 10.5h0m0-14h0m.1 12.3h0m0-6.4h0m0 2.1h0m0-9.2h0m.1 2.4h0m0-3.9h0m.4-1.3h0m0 13.2h0m.1-17.5h0m0 2.7h0m.1-1.2h0m.1 12h0m.6-2.2h0m0 9.8h0m.1-18h0m0 20.8h0m0-23h0m.1 4.2h0m0 17.2h0m.1 2.6h0m.1-26.3h0m0-2.4h0m.2 7.9h0m.1 6.1h0m0 7h0m.1-2.4h0m0-15.3h0m.1-4.1h0m.1 13h0m0 4.5h0m.1-6.2h0m.1 9.1h0m.4-1.8h0m0-2.1h0m.2 4h0m0 4.7h0m.1-20.6h0m0 5.1h0m0-6.7h0m.2 10.5h0m.1 15.2h0m0-17h0m.1-12.3h0m0 27.9h0m.1-13h0m.1 2.9h0m.1 6.1h0m0-17.8h0m0 1.6h0m0 1.9h0m.5 13.7h0m.1-6.3h0m.1-7.8h0m.1 1.7h0m.2 10.9h0m0-3.6h0m.1-10.6h0m0-1h0m.1 8.6h0m0-13.5h0m.2 24h0m.2-1.5h0m0-4.6h0m.3 .1h0m.1-3.3h0m0-14.2h0m.2 4.4h0m.4 18.1h0m.2 .7h0m.1-6.9h0m.6 1.6h0m.4 5.9h0m.3-7.4h0m0-1.3h0m.1-3.7h0m.1 10.6h0m.1-3.2h0m.9 3.6h0m0 .8h0m.4 1.8h0m.9-3.2h0m.7 1.6h0" stroke="#a07cc4" stroke-width="2.9" stroke-linecap="round" fill="none"/>
<path d="M515.6 363.4h0m1.4-4.4h0m.2 .9h0m.7 1.8h0m.3 2h0m.4-5h0m.1 2.9h0m.3-1.3h0m.1 7h0m0-1.4h0m.2-.7h0m.3-2.1h0m.6-1.3h0m.2 2.7h0m0 5.1h0m.1-11.2h0m.1 8h0m.1 3.9h0m0-10.4h0m.3 3h0m.1 4.6h0m.4 2.1h0m.5-7.3h0m.3 2.5h0m0 2.1h0m.1-6.2h0m.2 3h0m.1 4.3h0m.4 .8h0m.4 1.9h0m.2-3.8h0m.1 .9h0m.2-7.7h0m0 4.9h0m.2-3h0m.3 5.6h0m.1 3.7h0m0-2.3h0m.1-3.3h0m.1 8.4h0m.1-9h0m0-3.6h0m.1 1.3h0m.2 14h0m.3-1.5h0m.1 2.7h0m.6-.6h0m0-12h0m.2 8.4h0m0-5.6h0m0 3.9h0m.1 5.8h0m.2-7.3h0m.1-4h0m0 8.1h0m.1-5.8h0m.1 43.8h0m.6-38.8h0m.2 1.4h0m0-10.2h0m.1 47.7h0m.3-42.1h0m.3 45.7h0m0-48.5h0m.1 1.2h0m0 9h0m.1-.7h0m0-5h0m.4-3h0m0 6.9h0m0 1.6h0m.2 3.1h0m.3-12.7h0m0 52.8h0m.1-45.6h0m0 37.8h0m.1-.7h0m.1-41.9h0m0 2.7h0m0 42.9h0m.1-36.7h0m.1 40h0m.1-4.4h0m0-43.1h0m.4 4.4h0m0 43.7h0m.1-38.7h0m0 40.3h0m.1-3.8h0m.1-4.7h0m0-39.4h0m0-3.3h0m.1 41.9h0m.1-4.1h0m0-39h0m.1 47h0m.2-36.9h0m0 29.5h0m.1 6.1h0m.1-32.3h0m0-7.7h0m.1 3.2h0m.4-4.8h0m0 45.8h0m0-36.6h0m.2-2.5h0m0-11.2h0m.1 9.7h0m0 32.3h0m.2 7.7h0m0 2.9h0m.1-46.6h0m0 5.9h0m0-4h0m.1 39.5h0m0 5.9h0m.1-8.9h0m0-45.7h0m0 44.8h0m.1-39.7h0m.1 36.8h0m.1 5.1h0m.3-37.4h0m0-2.1h0m.1 44.5h0m0-2.4h0m.1-6.1h0m.1-28.3h0m0 35.5h0m0-45.1h0m.1-1.6h0m0 49.7h0m.1-39.9h0m0-13.4h0m.1 46.1h0m.1-5h0m.1-.8h0m0-28.1h0m0 35.3h0m0-30.8h0m.1-13.5h0m.1-1.8h0m.2 42.8h0m0-34.6h0m.5 6.8h0m0-1.7h0m0-6.9h0m.1-6.3h0m0 3.7h0m.1 6.5h0m.1-8.6h0m.1 10.2h0m.1-2.6h0m0 36h0m.1 3.8h0m0-8.3h0m0 3h0m.1-40.7h0m.1 48.6h0m0-8.7h0m0 10.4h0m.1-13.4h0m0 7.9h0m.1-41.2h0m.4 44.9h0m0-11.8h0m0-32.8h0m.1-3h0m.1 6.3h0m.2-4.9h0m.2-4.3h0m.1-2.7h0m0 15.4h0m0 .5h0m0 29.8h0m0 2.6h0m.1-3.4h0m0-44h0m0 49h0m0-1.9h0m.1-4.8h0m.1 8.8h0m0-41.5h0m.1-6.5h0m.3 40.7h0m.1-41.5h0m.1 14.8h0m.1-10.5h0m.2 1.7h0m0 2.3h0m.1 40.5h0m0-5.6h0m.1-36.2h0m0-4.6h0m.2 9.5h0m.1 28.3h0m.1 7.2h0m0-2.1h0m0-31.7h0m.1 30.1h0m0-42.9h0m.4 41.6h0m0 5.2h0m.1-47.9h0m0 3.9h0m.1 7.7h0m.1 33.5h0m0-36.4h0m.1 32.4h0m0-35.3h0m0 1.7h0m.2-6.6h0m0 44.8h0m.1-42.9h0m.3-4.1h0m.1 41.1h0m.3 2.9h0m.1-39.7h0m.1 41.5h0m0-40.2h0m0 2.9h0m.4-.6h0m0-7.1h0m.1 2.4h0m.1 7.3h0m.1 31.4h0m.3-28.1h0m0 28.8h0m.5-38.7h0m.2 6.9h0m0-5.4h0m0 3.6h0m.1-1.4h0m0-5.3h0m1.1 3.5h0m.1 7.2h0m0-2.5h0m.3-7.6h0m.1 4.9h0m.1 1.2h0m.3 3h0m.8-4.2h0m.2 4.4h0m.3 .6h0m.1-7.5h0m.1 3h0m.1 2.3h0m.8-4.9h0m.1 1.7h0" stroke="#d35fb0" stroke-width="2.9" stroke-linecap="round" fill="none"/>
<path d="M494.4 365.4h0m1.1-.1h0m.3-4.5h0m0 3.2h0m0-1.4h0m.5 12.7h0m0-4.1h0m.5-1.6h0m.1-8.6h0m.1 11.9h0m.1-4.3h0m.2 5.1h0m.1-8.8h0m.3-4.3h0m.1 14.8h0m.1-.9h0m.1-6.4h0m.2 3.7h0m0 .6h0m.1-8.3h0m.1 1h0m.2 4.4h0m.7 3.8h0m.1-3.6h0m.1 10.1h0m0-17.3h0m.1 13.1h0m.1-11.8h0m0-3.6h0m0 4.7h0m.4 3.9h0m0 18.8h0m0-13.6h0m.1 12.7h0m0-15.7h0m.1 12.7h0m0 .9h0m0-6.9h0m0 3.5h0m0-14.2h0m.1 11.4h0m.3 6.6h0m.2-21.1h0m.1 16.2h0m0 1.4h0m0 13.8h0m0-22.6h0m.1-.8h0m0 15.5h0m0-17.2h0m.2 13.3h0m0-9.4h0m0 2.1h0m0-13.9h0m0 31.8h0m0-27.3h0m.1 1.6h0m0 28.7h0m.1-18.9h0m.1-1h0m0-12.1h0m.2 21.1h0m.4-14.7h0m.2-1.9h0m.1-3.9h0m0 17.1h0m.1-14.6h0m0 22.8h0m0-8.7h0m0-6.6h0m.1-1h0m0-11.1h0m0 34.1h0m.1-13.4h0m0-12.1h0m.1 5.4h0m0 14.7h0m0-5.9h0m0-19.9h0m0 23.1h0m.1 7.4h0m0-34.2h0m.1 16.9h0m0 8.5h0m.1 5.3h0m.1-15.2h0m.1 17.4h0m.3-24.7h0m0-6.1h0m0 29.1h0m0-27.3h0m.2 10.4h0m0-13.2h0m.1 20.5h0m0 2.4h0m0 6h0m.1-24.5h0m0 4.1h0m0 22.7h0m.1-12.8h0m0 14.9h0m.1-16.8h0m0 17.8h0m.1-23.8h0m0 14.4h0m0-5.8h0m0-3.9h0m.1 23.5h0m0-15.1h0m.1-17.8h0m.1 6h0m0 29.9h0m0-15.3h0m.5 13.5h0m.1-20.3h0m0 6h0m0 9.2h0m0-25.4h0m.1 13.5h0m.1-18.7h0m0-1.4h0m.1 26.5h0m0-23.9h0m0 36.6h0m0-4.9h0m.1-6h0m0-7.7h0m.1 9.6h0m0-6.1h0m.1-11.6h0m.1-7.7h0m0 9.7h0m.1-4.9h0m0 16.5h0m.1-13h0m.1-5h0m0 27.8h0m0-37.1h0m0 19.1h0m0 15.4h0m.4-16.5h0m0-15.7h0m0 29.1h0m.1 7.7h0m.1-32.1h0m0 6.8h0m0 7.3h0m0-20.2h0m.1 26.4h0m0 .9h0m0-6.4h0m.1-9.8h0m0-7.7h0m0 11.8h0m.1 9.1h0m0 7h0m0-8.4h0m.3-18.4h0m0 2.8h0m0 21.4h0m.1-15h0m.1 19.1h0m0 7h0m.1-30.7h0m.1 9.4h0m.4 4.1h0m0 7.4h0m0-15.9h0m.1 13.6h0m0-11.1h0m0-1.6h0m0 23h0m.1 5.8h0m0-37.1h0m.1 34.1h0m0-29.8h0m0-2.6h0m.1-3.1h0m0 23.3h0m.1 13.3h0m0-22.6h0m0 2.3h0m.1 10.3h0m.1 7.9h0m0-27.9h0m.1 6.8h0m0-14.7h0m.1 42.8h0m0-36.9h0m0 23.6h0m0-31.8h0m.1 43.1h0m0-18.9h0m0 8.9h0m.1-10.6h0m.3 13.2h0m0-25.4h0m.1 30.9h0m0-3.8h0m0 8.1h0m.2-31.4h0m0 3h0m0 10.6h0m0-20.5h0m0-4h0m0 27.2h0m.1 4.2h0m0-19.1h0m.1 16.4h0m0-9.2h0m0 20.7h0m.1-3.9h0m0-19.5h0m0-18.3h0m.1 7.6h0m0 32.7h0m.1-16.3h0m0-12.9h0m.1 20.6h0m0-15.2h0m.1-13.4h0m.1 16.9h0m0 3h0m0 3.7h0m0-28.5h0m.4 32.9h0m0-5.1h0m0 4.5h0m.1 3.6h0m0-17h0m0-8.3h0m.2 1.9h0m.1 18.3h0m0-9.6h0m0-20.5h0m.1 24.9h0m0 9.7h0m0-26.1h0m.1 34h0m0-1.4h0m0-.7h0m.1-37.4h0m0 10h0m.1-8.8h0m0 9.9h0m0-8.5h0m.1 49.2h0m0-47.5h0m0 31.1h0m0-37.4h0m0 35.9h0m.2-14.7h0m0 6.3h0m0 16.4h0m0-29.3h0m0 7.7h0m.4 8.1h0m.1 1.7h0m0-23.3h0m0-1.1h0m.1 31.5h0m0-12h0m0-20.6h0m0 15.4h0m.1 6.5h0m0 25.3h0m0-53.5h0m0 46.5h0m0-34.6h0m.1 24.5h0m0-21.9h0m0-1.2h0m0 27.3h0m.2-6.4h0m0-10.7h0m0 9.5h0m.2 17.4h0m0-25h0m0 19.3h0m.1-40.4h0m0 37.7h0m0 7.6h0m0-6.1h0m.2-6.5h0m0-17.4h0m0-9.3h0m.1 10.3h0m.3 5.7h0m.1 4h0m0 21h0m.1-3.3h0m0 4.3h0m.1-48.2h0m.1 2.9h0m0 12.5h0m0-8.3h0m0 24.3h0m0 19.3h0m.1-.6h0m0-4.4h0m0-6.8h0m0 2h0m.1-38.7h0m0 54.5h0m0-29.1h0m0-3.6h0m.1 13.1h0m0-26.1h0m.1 22.4h0m0-12h0m0 15.3h0m0-31h0m.1 13.7h0m0 34.2h0m0-18.9h0m0-17.6h0m.1-12.2h0m.1 37h0m0-24.2h0m0-8.6h0m.4 3.6h0m.1 18.9h0m0 5.8h0m0 6.2h0m.1-43.5h0m0 45.2h0m0 2.4h0m0-8.4h0m0-31.3h0m0 44.5h0m.1-31.9h0m0 7h0m0-23.4h0m0 1.8h0m0 8.7h0m.1 14.2h0m0 11.7h0m.1-7.2h0m0 2.8h0m0-16.5h0m.1 22.2h0m.1-17.6h0m0 30h0m.1-32.2h0m0 29.6h0m0-4.6h0m.1 8.2h0m0-41.2h0m.1-4.5h0m0 20.1h0m0 19.6h0m0-38.7h0m.1-7.5h0m0 32.1h0m0-9.5h0m.4 16.6h0m.1 4.1h0m0 9.1h0m0-18.1h0m0-10.2h0m0-22.8h0m0-1.1h0m0 25.4h0m.1 5.7h0m0 11.2h0m0-13.4h0m0-26.5h0m.1 44.4h0m.1 4.2h0m0-17.6h0m0 16h0m0-8.9h0m.1 7.2h0m0-37h0m.1-14.3h0m0 16.7h0m.1 13.6h0m.1-6.8h0m0-15.3h0m0-8.6h0m.1 40.3h0m0-30.7h0m0 16.7h0m0-13.1h0m.1 11.5h0m.1 34.8h0m0-43.8h0m0 18.4h0m.1-12.1h0m0 27.1h0m0-37.6h0m0 30.2h0m.4-40.7h0m0 58.3h0m0-15.9h0m0-38.5h0m0 39.7h0m0 7.1h0m.1-41.5h0m0 36.2h0m0-16.6h0m0 19.5h0m0-22.7h0m.1-2.7h0m0 32.9h0m.1-49.8h0m.1 26.4h0m0-24.9h0m0 26.4h0m.1 6.5h0m0 12.1h0m0-36h0m.1 40.3h0m0-10.1h0m0-8.8h0m0 21.6h0m0-20.3h0m0 9.7h0m.1 4.4h0m0-26.1h0m0 2.3h0m.1-19.2h0m0 25.7h0m0-14.7h0m0 2.4h0m.1-4.6h0m.1 12.3h0m0-13.8h0m0-2.3h0m.4 24.9h0m0-32.7h0m0 39.2h0m.1 9.9h0m0-19.7h0m0 21.6h0m.1 .8h0m0-41.2h0m.1-9.2h0m0 11.4h0m0 33.1h0m0-17.3h0m0-16.4h0m0 9.8h0m.1 12.6h0m0-3.6h0m0-11.9h0m.1 29.2h0m0-26.9h0m0-5.6h0m.1 25.5h0m0-17.8h0m0-5.4h0m0 8.5h0m0 18.7h0m.1-42.3h0m.1 11.3h0m0 21.3h0m0-10.1h0m.1 11.4h0m.1 3.9h0m.1 3h0m.4 1.6h0m0-9h0m.1-9.9h0m0 22.5h0m.1-16.5h0m.1 18.8h0m0-36.7h0m0 26.9h0m.1 5h0m.1 1.4h0m0-31.3h0m0 13.6h0m0 1h0m.1-12.8h0m0-19.7h0m0 26.1h0m.1 14.6h0m0-17.1h0m0 12.3h0m.1 3.1h0m.1-17.8h0m.1 .7h0m0 23h0m0-43.6h0m0 12h0m0 1.6h0m.1 26.8h0m0-17.1h0m.4 .1h0m0 19.9h0m0-18.4h0m0 1.7h0m.1 18.6h0m.1-15.4h0m.1-15h0m0 26.6h0m0-1h0m0-19.2h0m.1 10.3h0m0-12.7h0m.1 4h0m0 11h0m0-.5h0m.1 2.4h0m1-9.7h0m0 4.4h0m.2-6.9h0m0 11h0m.1-6.7h0m0 15.3h0m0-3.9h0m.1 1.3h0m0 1h0m0-14.5h0m.1 4h0m.3 4.5h0m.2-13.6h0m.4-.6h0m.1 6h0m0-4.8h0m.1 5.6h0m.1 8.9h0m.2-11.2h0m0 4.1h0m.5-6.4h0m.2 12.6h0m.9-2.8h0" stroke="#1fb3ad" stroke-width="2.9" stroke-linecap="round" fill="none"/>
<path d="M489 398h0m.1 .7h0m3.6 3.3h0m.3 .1h0m.8 4.2h0m.7-.8h0m.4 4.1h0m.3 .6h0m1.6 1.9h0m.3-11.9h0m0 12.7h0m.4-13h0m1.1 9.7h0m.6-.5h0" stroke="#22aa4e" stroke-width="2.9" stroke-linecap="round" fill="none"/>
<path d="M476 442.8h0m.3-2.9h0m.8 3.2h0m0-2.7h0m.3-35.2h0m.2 .4h0m.1 36.1h0m0-2.8h0m.1-1.7h0m.2-26.5h0m.4 29.5h0m.1-2h0m.1-28.3h0m.1 43.8h0m.2-39.7h0m.2 .1h0m0 33h0m0-3.9h0m.2-20.8h0m0 15h0m0 27.7h0m0-23.3h0m0 10.6h0m.1-16.7h0m0 33.1h0m.1-60.5h0m.1-.9h0m0 15.4h0m.2 24.6h0m0-9.8h0m.1 29.1h0m.1-38.7h0m0 21.1h0m0-4.7h0m.1 5.7h0m.1 19.1h0m0-30.6h0m.2 13.8h0m0 1.8h0m.1-12.1h0m.1 23.3h0m0-22.3h0m.1-25.8h0m0 9.8h0m0 18.6h0m.1-5.7h0m0-23.4h0m.1 47.4h0m.4 3.7h0m.2-4h0m.1-12h0m0 8.2h0m0-19.8h0m0 25.1h0m.1-14.2h0m0-8.3h0m0 4.8h0m.1-2h0m.1 3.7h0m0-4.7h0m.1 14.2h0m0-5.5h0m.1 9.8h0m0-21.6h0m0-3.2h0m.1 23.1h0m.2-23.7h0m.4 22.5h0m0-26.6h0m0 21.9h0m.1 8.6h0m0-5.5h0m0-14.3h0m0 22.6h0m.1-30.2h0m0 16.8h0m0-2.2h0m.1 1.5h0m0-12.6h0m.1 21.6h0m0-12.4h0m.1-11h0m.1 27.3h0m0-30h0m.1 33.1h0m.1-20.8h0m0 15h0m.1-16.3h0m.1-13.9h0m0 10h0m0 14.4h0m.1-16h0m.4 25h0m.1 .6h0m.1-32.1h0m.1 18.4h0m0-7.3h0m0 2.3h0m0-10.5h0m0 6.1h0m.1 26.2h0m0-1.4h0m.1-4h0m.1-12.5h0m0 4.2h0m0-1.4h0m0-4.5h0m0 10h0m.1-11.5h0m0-8.1h0m0-4.5h0m.1 8.1h0m0-2.8h0m.1 19.4h0m.1-22.2h0m.1 19.6h0m0 4.6h0m.4-13.5h0m0 19.8h0m.1-21.1h0m0 19.6h0m0-6.3h0m.1-24.5h0m0 6.1h0m0 1.7h0m.1-9h0m.1 28h0m.1-3.8h0m0-19.7h0m0 16.5h0m.1-3.4h0m.1-1.4h0m.1 6.9h0m0-19.7h0m0 12h0m.1 4.2h0m.1 7.5h0m0-21h0m0 4.9h0m.1-12.6h0m0-1h0m.4 29.3h0m.1-10.6h0m0 9.2h0m.1-17.2h0m.1-1.9h0m0 7.3h0m.1-10.6h0m0 15.5h0m.1-14.3h0m0 7.6h0m.1 10.4h0m0 9.7h0m.1-30h0m0 9.2h0m0-10.4h0m0-2.3h0m.1 30h0m0-8.7h0m.1 1.1h0m.1-5.9h0m0-5.9h0m.5 17.1h0m0-19.5h0m.2 7.1h0m0 4.5h0m.1-2.7h0m0 18.1h0m0-10.4h0m.1-3.5h0m0-19.2h0m.2 6.8h0m0-3.2h0m.1 6.6h0m.1-1.8h0m.1-6.2h0m0 29.2h0m.1 2.4h0m0-7.6h0m0-10h0m0-15.3h0m.1 10.4h0m.3-9h0m.2-3h0m.1 32.1h0m0-24h0m0 19.7h0m0-14.3h0m0-11.8h0m.2 14.7h0m.1 7.7h0m0-3.8h0m0-13.9h0m.1 16.9h0m0-12.8h0m.1 2h0m0-3.5h0m.1 6.2h0m.1 2.8h0m0 10.4h0m0-23.6h0m.1 21.2h0m.1-4.6h0m.4 1.8h0m0-22.9h0m.1 14.1h0m.1 6.4h0m.1-13.4h0m.1 21.7h0m0-16.2h0m.1-7.6h0m0 19.5h0m0-15.3h0m0 10.3h0m0-4.9h0m.1 2.1h0m0-5.6h0m.2 16h0m0-9.3h0m0-11.6h0m.2-5.1h0m0 2h0m.1 22.6h0m.4 .8h0m.1-23.4h0m.2 5.6h0m0 14.3h0m0 1.5h0m0-13.8h0m0 2.8h0m.1 7.8h0m.1-2.8h0m0-11.1h0m0-1.4h0m.3-1.1h0m0-2.9h0m.1 9.8h0m0 7.4h0m.1-2.7h0m.1-1h0m0 10.2h0m.4 1.9h0m.1-23.1h0m0 14.9h0m.1 4.5h0m.1-20.8h0m0 10.7h0m.3-7.4h0m0 21.5h0m.2-10.8h0m0 4.5h0m0-7.1h0m.1-3.5h0m0 6.5h0m0-5.5h0m.1 10.6h0m.1 3.4h0m.4-21.5h0m0 16.5h0m.1-4.3h0m0 2.7h0m0-13.2h0m.1 15.9h0m0 3.2h0m0 1.8h0m0 2.4h0m.1-13.9h0m.2 8.5h0m0-21h0m0 15.2h0m0 10.7h0m.1-21.2h0m.1 4.4h0m.3 1.2h0m.1-2.8h0m.4 3h0m0-1.6h0m.2-6.1h0m0 18.1h0m.1 5.9h0m.2-13.2h0m0 11.9h0m0-13h0m.1 11.4h0m0-9.5h0m0-8.7h0m.1-4.1h0m0 2.6h0m.1 18.8h0m.1-4.5h0m.2-1.7h0m0-9.1h0m0 11.8h0m0-19.7h0m.4 5h0m0 13.6h0m0-7h0m0-8.2h0m.1 22.1h0m.1-17.9h0m.1 13.8h0m0 1.3h0m0-14.1h0m.1 8.6h0m.1-11.5h0m.2-4h0m.1 8.6h0m0 3.7h0m.1 .8h0m0 8.9h0m.1-4.5h0m.5-12.9h0m0 16.4h0m0-10h0m.1 5h0m.1 1.4h0m.1-5.1h0m.2-4.4h0m.2 16.5h0m0 1.4h0m.1-12.2h0m.1-12.8h0m0 5.4h0m0 16.4h0m0-14h0m.1-5.4h0m0 16.2h0m.1-4.4h0m.4-8.6h0m0 16.5h0m.1-18.2h0m.1 10.4h0m0 4.8h0m.1-4h0m0 7.6h0m.2-11.1h0m0 8.9h0m.1-19.9h0m.2 .9h0m0 11.6h0m.1 3.5h0m.1-9.8h0m0 1.4h0m.1 1.3h0m.4 16.2h0m.1-6.2h0m0 2.6h0m.1-18.6h0m.2 19.9h0m0-16.2h0m.1 17.9h0m0-10.8h0m.3-3.2h0m0 4.7h0m.1 2.6h0m0-10h0m0 1.3h0m0-15.9h0m.1 11.9h0m0 11.5h0m.4 .2h0m.1 5.3h0m0-17h0m0 14.1h0m.2-11.2h0m0-6.3h0m.1 1.8h0m0-9.4h0m.1 26.9h0m.1-5.8h0m.3-9.6h0m.1 2.9h0m0 1.7h0m0 7.5h0m.1-4.4h0m.5 4.7h0m.2 2.9h0m0-16.1h0m0 4.8h0m.1 1.5h0m.3-4.8h0m0 13.3h0m0-2.9h0m.2-8.6h0m.1 3.8h0m.1 3.7h0m.5-5.5h0m0 1.7h0m.2 9.5h0m.1-13.3h0m0 .7h0m.2 10.3h0m.1-2.2h0m.3 1.7h0m.1-11.9h0m.4 6.8h0m.2 3.5h0m0-1.7h0m0-4.1h0m.1 11.5h0m0-16.2h0m0 14.8h0m.1-12h0m.1 10.7h0m.3-11.8h0m0 10.3h0m.1-6h0m1 7h0m0-9h0m.1 5.1h0m.4 6.7h0m0-5.6h0m.1-2.6h0m.1 7.2h0m0-3.4h0m.6-2.2h0m.9 .7h0m.1-2.2h0m0 3.8h0m.5-4.9h0m0-1.1h0m0-1h0m.6 3.8h0" stroke="#2a8fdc" stroke-width="2.9" stroke-linecap="round" fill="none"/>
<path d="M519.8 461.8h0m3.2 .7h0m.7-2.9h0m.3 3.8h0m.1-1.5h0m.4-3.6h0m.7 6.8h0m.1-3.5h0m.1 4.2h0m.7-7.3h0m0 4.4h0m0-2.8h0m.6 .4h0m.3 4.6h0m.2-3.9h0m.2-15.2h0m.1-2.4h0m.2 14.6h0m0 5.4h0m.6-20.4h0m.1-1.5h0m.1 23.3h0m0-9.9h0m0 5h0m.1-5.5h0m.2 7.9h0m0-.4h0m.1-5.1h0m0 8.5h0m.1-20.8h0m0 1.3h0m0 1.6h0m0 11.3h0m.1-22.5h0m.5-.2h0m0 2.9h0m0 6.5h0m.1 13.5h0m0-18.7h0m.1 16.3h0m0-3.9h0m0-11.2h0m.3 2.1h0m0 22h0m0-14.1h0m.2 2.1h0m0 10.5h0m.1-1.6h0m0-7.3h0m0-5.9h0m.1 12.1h0m.1-14.4h0m0-12.3h0m.1 25.8h0m.3-6.2h0m.1-8.4h0m0 14.3h0m.1-4.3h0m.1-4.5h0m.2-3.6h0m.1-13.3h0m0 23.5h0m0-16.5h0m.1 2h0m.1 13.5h0m.1-11.9h0m.1-4.6h0m0 22.1h0m0-26.5h0m.2 24.9h0m0-9.1h0m0-2.3h0m.4-7.5h0m.1-6.2h0m.1 20.9h0m0-3.3h0m.1-2.2h0m.1 1h0m0 8.1h0m.1-4.9h0m0-11.5h0m.1 19.3h0m0-4.9h0m.1 3.3h0m0-21.5h0m0 24h0m0-16.1h0m.1 1.9h0m.1-4.1h0m.1-6.4h0m0 6h0m.1-7.9h0m.3 21.1h0m0-10.7h0m.1-8.6h0m0 .9h0m.1 2.1h0m.1 18.5h0m0-17.9h0m.1 10h0m.1 1.4h0m.1-7.7h0m0 16.8h0m.1-3.4h0m0-22.4h0m.1 26.2h0m0-13.9h0m.2-5h0m0 5.4h0m.2 5.6h0m.4 1.5h0m.1-7.9h0m0-13.3h0m0 3.1h0m.3 14.5h0m.1-8.7h0m0 10.2h0m.2-7.1h0m0 12h0m0-14.3h0m.1-2.7h0m0 7.5h0m0 2h0m0 10.3h0m.2-25.1h0m.1 20h0m.4-11.3h0m.2 11.9h0m.1-8.1h0m0-2.4h0m.2 1.9h0m0-5.3h0m.1 10.4h0m0-1.4h0m0-1.2h0m.1 10.8h0m.2-6.1h0m.2 3.2h0m.3-.9h0m.1-3h0m.2-6.6h0m.1 2h0m.2-1h0m.1 11.7h0m.1-7.3h0m.1-9.8h0m.1 13h0m.1-3.9h0m0-6.6h0m.6 3.2h0m.1 6.9h0m0-4.2h0m.1-9.4h0m.1 11.4h0m.1-3.6h0m.2 4.4h0m.3 3.1h0m.5-4.3h0m.3 1.2h0m0 2.7h0m.1-7.4h0m.7 6.5h0m.4-3.2h0m.1 1.3h0m.8-4.4h0" stroke="#ea6b62" stroke-width="2.9" stroke-linecap="round" fill="none"/>
<circle cx="620" cy="412.2" r="2.3" fill="#000"/><circle cx="564.3" cy="465.8" r="2.3" fill="#000"/><circle cx="566.3" cy="467" r="2.3" fill="#000"/>
<path d="M487.2 332.6C488.3 332.4 491.8 331.6 493.8 331.9C495.8 332.2 497.4 332.6 499.3 334.1C501.1 335.5 503.6 337.4 504.7 340.7C505.8 343.9 505.1 349.8 505.8 353.8C506.6 357.8 508.9 361.6 509.1 364.7C509.4 367.8 508.6 370.9 507.4 372.4C506.1 373.9 502.7 371.9 501.5 373.5C500.2 375.1 499.7 379.3 499.9 382.3C500.1 385.2 500.8 388.8 502.6 391C504.3 393.2 508.4 393.3 510.2 395.4C512 397.5 513 402.3 513.5 403.7" stroke="#454545" stroke-width="2.9" fill="none" stroke-linecap="round" stroke-linejoin="round"/>
<path d="M519 381.2C518.4 382.3 516.6 385.4 515.7 387.7C514.8 390.1 513.9 392.7 513.5 395.4C513.1 398.1 513.1 400.8 513.5 403.7C513.9 406.6 514.6 409.2 515.7 412.9C516.8 416.6 518.4 423.1 520.1 426C521.7 429 524.6 429.7 525.5 430.4" stroke="#454545" stroke-width="2.9" fill="none" stroke-linecap="round" stroke-linejoin="round"/>
<path d="M525.5 430.4C526.8 428.2 530.5 420.9 533.2 417.3C535.9 413.6 540.1 411.8 542 408.5C543.8 405.2 544 400.3 544.2 397.6C544.3 394.8 542.9 394.3 543.1 392.1C543.2 389.9 545.8 386.5 545.2 384.4C544.7 382.4 540.7 380.4 539.8 379.6" stroke="#454545" stroke-width="2.9" fill="none" stroke-linecap="round" stroke-linejoin="round"/>
<path d="M525.5 430.4C526.6 431.5 530.5 434.4 532.1 437C533.8 439.6 535 443 535.4 445.8C535.8 448.5 534.5 452.1 534.3 453.4" stroke="#454545" stroke-width="2.9" fill="none" stroke-linecap="round" stroke-linejoin="round"/>
<path d="M491.6 400.9C492.2 401.1 494 400.5 494.9 402C495.8 403.4 496.7 408.4 497.1 409.6" stroke="#454545" stroke-width="2.9" fill="none" stroke-linecap="round" stroke-linejoin="round"/>
<path d="M484.6 439.2C485.6 439 488.4 435.9 490.5 438.1C492.6 440.3 495.3 448.9 497.1 452.3C498.9 455.8 499.7 457.4 501.5 458.9C503.2 460.4 505.7 461.4 507.4 461.1C509 460.8 511.3 459 511.3 457.1C511.3 455.3 508.8 451.3 507.4 450.1C505.9 449 504.3 449.8 502.6 450.1C500.8 450.5 499.3 451.2 497.1 452.3C494.9 453.4 490.9 454.7 489.4 456.7C488 458.7 489.4 462.5 488.3 464.4C487.2 466.3 483.8 467.5 482.8 468.1" stroke="#454545" stroke-width="2.9" fill="none" stroke-linecap="round" stroke-linejoin="round"/>
<circle cx="487.2" cy="332.6" r="2.3" fill="#000"/>
<circle cx="519" cy="381.2" r="2.3" fill="#000"/>
<circle cx="539.8" cy="379.6" r="2.3" fill="#000"/>
<circle cx="543.1" cy="392.1" r="2.3" fill="#000"/>
<circle cx="517.9" cy="398.7" r="2.3" fill="#000"/>
<circle cx="491.6" cy="400.9" r="2.3" fill="#000"/>
<circle cx="497.1" cy="409.6" r="2.3" fill="#000"/>
<circle cx="534.3" cy="453.4" r="2.3" fill="#000"/>
<circle cx="484.6" cy="439.2" r="2.3" fill="#000"/>
<circle cx="482.8" cy="468.1" r="2.3" fill="#000"/>
<circle cx="513.5" cy="403.7" r="1.7" fill="#fff" stroke="#555" stroke-width="0.5"/>
<circle cx="525.5" cy="430.4" r="1.7" fill="#fff" stroke="#555" stroke-width="0.5"/>
<circle cx="497.1" cy="452.3" r="1.7" fill="#fff" stroke="#555" stroke-width="0.5"/>
<text x="488.9" y="341.1" font-size="8.8">CD8+TEx</text>
<text x="529" y="388.4" font-size="8.8">CD8+TN</text>
<text x="488.9" y="397.6" font-size="8.8">CD8+TEM/TRM</text>
<text x="478.8" y="414.3" font-size="8.8">CD8+TCM</text>
<text x="568.2" y="420.8" font-size="8.8">CD8_TMSB4X</text>
<text x="459.5" y="449.1" font-size="8.8">CD8+TEMRA/TEFF</text>
<text x="527.5" y="461.4" font-size="8.8">CD8_B2M</text>
<text x="570" y="469.6" font-size="8.8">CD8_PRF1</text>
<path d="M469.5 320.2V478.8H626.2" stroke="#222" stroke-width="1" fill="none"/>
<text x="467" y="366.5" font-size="8.5" text-anchor="end" fill="#333">4</text>
<text x="467" y="411" font-size="8.5" text-anchor="end" fill="#333">0</text>
<text x="467" y="455.5" font-size="8.5" text-anchor="end" fill="#333">−4</text>
<text x="480.3" y="486.5" font-size="8.5" text-anchor="middle" fill="#333">−5</text>
<text x="510.1" y="486.5" font-size="8.5" text-anchor="middle" fill="#333">0</text>
<text x="543" y="486.5" font-size="8.5" text-anchor="middle" fill="#333">5</text>
<text x="576.3" y="486.5" font-size="8.5" text-anchor="middle" fill="#333">10</text>
<text x="609.2" y="486.5" font-size="8.5" text-anchor="middle" fill="#333">15</text>
<text x="460.3" y="406" font-size="8.5" text-anchor="middle" transform="rotate(-90 460.3 406)">UMAP 2</text>
<text x="547.7" y="494" font-size="8.5" text-anchor="middle">UMAP 1</text>
<text x="549.6" y="511.5" font-size="14.5" text-anchor="middle">GSE99254</text>
</g>
<g id="F">
<text x="458.5" y="525" font-size="14">F</text>
<path d="M485.5 540.9h0m1.4-2.4h0m.2 5.9h0m.1-2h0m1.2-6.4h0m1.4 1.2h0m.7 7h0m.3-4.2h0m1.9-5.2h0m1.3 7h0m1-7.3h0m.4 6.6h0m.2-2.6h0m.3 4h0m.6 .6h0m.2-6.8h0m.4 8.3h0m.4 27.1h0m.2-22.9h0m.1-8.7h0m.1 27h0m.4-29.2h0m.3 9.3h0m0-1.8h0m.4-8.4h0m.3-2.4h0m.6 6.2h0m.3 33.8h0m.1 6.2h0m.2-34.9h0m.7 40.1h0m.2-43h0m.2-1.3h0m.5 48.9h0m.2-9.5h0m.1-25.2h0m.2 26.5h0m.1 11.2h0m.4 .2h0m.1 6.3h0m0-23.7h0m.2-22.8h0m.3 24.3h0m0 14.4h0m.5-3.3h0m.2-.8h0m0-12.1h0m.2 8.8h0m.1 19.8h0m0-1.8h0m.2-18.9h0m.1-40.6h0m.2-.2h0m0 20h0m.1-10.6h0m.2 48.7h0m.2-32.6h0m.1-19.5h0m.1 9.8h0m.1 40.1h0m.2-17.6h0m0-31h0m.1 20.2h0m.6 6h0m0-20.9h0m.2 56.3h0m.3-21.5h0m0-37.8h0m.1 40.8h0m0-13.2h0m.4 12.1h0m.1-28h0m.3 21.8h0m.3-30.4h0m.3 25.3h0m.1-30.4h0m0-4.2h0m0 41.6h0m.1 7h0m.1-41.4h0m.1 8.6h0m0 18.2h0m.3 20.3h0m.1-21.2h0m.3 12.3h0m0-49.4h0m0 10.3h0m.9 51.5h0m.1-60.1h0m.1 74.9h0m.2-11.9h0m.4-13.3h0m.7-37.5h0m.6 54h0m0-17.2h0m0-36.4h0m.2 53.8h0m.6 3.2h0m.1-16.9h0m.1-21.1h0m0 14h0m0 30.4h0m.1-14.3h0m.3 9h0m.2-59.9h0m.4 54.3h0m.1 9h0m0-5.2h0m.3-33h0m.3 38.1h0m.2 1.5h0m.2-58.5h0m0 24.6h0m.4 27.6h0m.6 8.3h0m.8-38.5h0m0 29.4h0m0-17.7h0m4.2 25.4h0m.1-18.3h0m.1 11.9h0m.1-25.3h0m.1 13.2h0m.6 21.5h0m.7-3.3h0m1.6 2.3h0m.1-12.3h0m.7-.9h0" stroke="#c2c2c2" stroke-width="3.5" stroke-linecap="round" fill="none" stroke-opacity="0.85"/>
<path d="M483.1 540.2h0m1 1.1h0m0-4.9h0m.4 .5h0m.1 2.1h0m.7 .6h0m2.3-2.6h0m1 4.9h0m1.3-2.7h0m.1 7h0m.2-9.7h0m.2 5.6h0m.1-.5h0m.3 0h0m1.7-7.4h0m.3 7.8h0m.2 1.2h0m.4-.5h0m.5-2.4h0m.9-1h0m.3 5.1h0m1.3-6h0m1 2.9h0m.9-6.3h0m.9 45h0m1.9 1.9h0m.6-16h0m0-20h0m.4 8.2h0m0 19.9h0m.7-33.9h0m.1 10.3h0m.1-6.3h0m.4 35.5h0m.3 12.4h0m.1 10h0m.2-17.7h0m.1 19.1h0m.1-43.4h0m.1 12.3h0m0-16.5h0m.1 25.4h0m.3 10.1h0m.1-13.1h0m.2 7.5h0m.7-34.2h0m.1 43.4h0m.1 .2h0m0 4.6h0m.2-21.6h0m.2 6.9h0m1.1 .2h0m.1 10.2h0m.1-57.9h0m.1 5.2h0m.1 59h0m0-11.4h0m.1-48.6h0m.2 24.3h0m.5 29.2h0m.2-45h0m.1 9h0m.5-17.1h0m.2 9h0m.1 51.6h0m.6-63.4h0m.1 15.1h0m.2 30.7h0m.1-7.7h0m.1-22.7h0m.5-9.1h0m.1-1.9h0m.1 31.5h0m.1-14.4h0m0-2.8h0m.1 31.3h0m.2 13.6h0m0-23.7h0m0 28.6h0m.2-54.4h0m1.1 46.9h0m.5-18.5h0m.1 2.5h0m0 21.1h0m.4-51.3h0m.2 62.9h0m.1 9.5h0m0-64.3h0m1.4 27.3h0m0 21.8h0m.4 13.6h0m.3-38.9h0m.7 42.4h0m.1-12.1h0m.5-32.1h0m.3-4.4h0m.5 34.4h0m.2-7.6h0m0 6.8h0m.1-17h0m0 32.4h0m0-39.7h0m.1 30.6h0m0 3.5h0m.3-55.2h0m.1 68.5h0m.1-65.1h0m.2 49.2h0m.1-10.7h0m.4-19.9h0m.1-2h0m0 44.8h0m.2-3.6h0m0 .1h0m.6-37.8h0m.5 18.8h0m.1-6.6h0m.6-34.1h0m0 31.2h0m.9 10.8h0m.1-23.8h0m0 41.2h0m.1-16.4h0m.8-39.9h0m.3 46.5h0m.9-51h0m.1 48.2h0m0-.4h0m1.2-42.2h0m0 51.5h0m.1-14.4h0m.2 5.5h0" stroke="#b8b8b8" stroke-width="3.5" stroke-linecap="round" fill="none" stroke-opacity="0.85"/>
<path d="M483.6 537.1h0m1.5 2.1h0m1.6-1.5h0m2.6 .6h0m.3 4.3h0m.8-4.8h0m.9 8.8h0m.5-8.7h0m.7 2.8h0m.3-8.4h0m.1 3.6h0m.9 9h0m1.3 2.8h0m.1-12.3h0m1.7 2.9h0m.2-2.8h0m.7 9.7h0m.2-.2h0m.6 25.5h0m.1 10.5h0m.3-11.3h0m.9 4.7h0m.1-28.9h0m.7-5.6h0m.3 15.4h0m.2 22.5h0m0-28.7h0m.1 27.2h0m.5-24.7h0m.1 33.1h0m.2-36.8h0m.5 29.8h0m.2 10.1h0m.3 .1h0m.2-46.2h0m.2 22.3h0m.4 10.9h0m.1-22.6h0m0 32.1h0m.2-34.8h0m0 40.8h0m.4-11.6h0m.7-23.5h0m.2 28.8h0m.1 10h0m.5-4.9h0m.4 1.3h0m.3-15.2h0m.2-35.5h0m.1 49.3h0m.2-39.4h0m.2 55.6h0m0-33.9h0m.1-9.2h0m0 15.3h0m.1-18.3h0m0 26.8h0m.3 11.6h0m.3-15.4h0m.3-38.1h0m.2 13.3h0m.2-8.9h0m.1 3.1h0m.4 30.2h0m.1-4h0m0 6h0m.5 26.7h0m0-3.7h0m.1-59.3h0m.4 68.8h0m0-25.1h0m.1-44.4h0m.1 58h0m0-26.8h0m.2-25.1h0m.2 57.6h0m0-58.3h0m0 23.5h0m.1 35.9h0m0 6.4h0m.1-19.8h0m.2 4h0m0-64.3h0m.2 50.5h0m.1 18.2h0m.1-50.3h0m.1-1h0m.1 6.3h0m.1 21.7h0m.1 32.8h0m0-19.9h0m.5 8.2h0m.8 25.8h0m.3-27h0m.3-46.2h0m0 39.9h0m.2-10.4h0m1.1-3.7h0m.2 38h0m.1-5.7h0m0-8.8h0m.1-4.6h0m.1 29.7h0m0-33.2h0m.4 6.5h0m.4 6.3h0m0 .8h0m0-1.9h0m.6-20.4h0m0 16.9h0m.4 4.2h0m.4 19.8h0m.2-37.9h0m.1-12.7h0m.1 22.8h0m.1-13.6h0m.4-1.4h0m.3 2.7h0m.1 28.3h0m.3-12.4h0m.1-6h0m.1 27h0m.1-6.6h0m.1-16.3h0m.2-2.7h0m.1 16h0m.2-25.9h0m.2 4.8h0m.1 27.4h0m.5-6.8h0m.4-2.6h0m.1 15.5h0m.1-2.9h0m.4-16.5h0m0 9.6h0m.1-10.7h0m.3-3.2h0m.4-1.5h0m0 25.4h0m.2-11.8h0m.1 13.9h0m1.6-17.5h0m.1-2.1h0m2.8 8.5h0" stroke="#c9c9c9" stroke-width="3.5" stroke-linecap="round" fill="none" stroke-opacity="0.85"/>
<path d="M501.4 571.3h0m1.4 3.9h0m.2 9.6h0m.8-25.1h0m1.7 19.3h0m.2-15.6h0m.4 7.5h0m.4-15.6h0m1.4-8.8h0m.1 41.1h0m0-14.7h0m1.2 27.2h0m0-13.1h0m.2-38.4h0m.9 26.4h0m.6 22.2h0m0 12.1h0m.2-17.9h0m.1 6.3h0m2.3 1.4h0m.1-10.3h0m.1 23.6h0m.3-27.6h0m.8 43.6h0m.3-6.7h0m.4-16.5h0m.3-13.9h0m.2 30.6h0m0 9.5h0m.6-12.7h0m.1-32.4h0m.5 5.3h0m.3-6.2h0m.1 29.8h0m1.2-23.6h0m0 39.7h0m.6-36.3h0m1.3 10h0m.5-5.4h0m.7 19.7h0m.8-16.1h0m.1 31.2h0m1.2-61.3h0m.8 55.3h0m1.1-44.6h0m.1 34.9h0m1.9-6.2h0m1.3-27.4h0m.3-3.7h0m7 9.2h0m2.7-11.2h0m.4 3.2h0m1.2 3.7h0m3.2-2h0" stroke="#d6b0a6" stroke-width="3.5" stroke-linecap="round" fill="none" stroke-opacity="0.85"/>
<path d="M501.2 575.4h0m.6-31.3h0m.7 10h0m.1 9.3h0m.1-11.9h0m1.4-2.8h0m1.4-5.4h0m.2 18h0m1.2 2.6h0m1.4 20.3h0m.5 6.3h0m2.9 28h0m.1-18.4h0m.1-56.6h0m.4 44.3h0m.5 18.2h0m.1-25.3h0m.2 8.8h0m.5-13.1h0m.6 26h0m.4 .3h0m.4 25.7h0m.1-21h0m.2 26.1h0m2.9-1.9h0m.3-5.4h0m.1 7.5h0m1.2 .5h0m.1-26.5h0m.5 7.9h0m.5-39.1h0m2.1-9.2h0m0 62.8h0m.9-20h0m.3-31.7h0m8.8-1h0m.2-1.2h0m2.4 5.1h0m8.3 2.3h0m1.7-.1h0" stroke="#dea090" stroke-width="3.5" stroke-linecap="round" fill="none" stroke-opacity="0.85"/>
<path d="M498.8 542.9h0m.5 36.9h0m.7-12.9h0m1-26.8h0m2.1 6h0m.1 27.4h0m.5-3h0m.5 27h0m.7-39.8h0m.1 42.5h0m.6-1.2h0m.6-49.6h0m.3-6.1h0m.2 65.7h0m1.2-35.8h0m.8 33h0m.6-1.3h0m.1 9h0m.2-67.6h0m.8 42.9h0m.1-1.1h0m.3 27.6h0m0-38.1h0m.1 35.9h0m.5-74.3h0m.1 43.9h0m.3 2h0m1-1.8h0m.5 37h0m.5-32.6h0m1.5 11.9h0m.8 27.1h0m0-28.3h0m1.6 25.6h0m.6-15.9h0m.2-43.4h0m.1 44.1h0m0-5.8h0m0-38.1h0m.9 75.4h0m.1-36.5h0m.1-37h0m1.5 33.7h0m.2 22.3h0m.2-53.3h0m.1 4.3h0m.8-.9h0m1.6 49.8h0m10.5-46.3h0" stroke="#e08a74" stroke-width="3.5" stroke-linecap="round" fill="none" stroke-opacity="0.85"/>
<path d="M499.5 570.8h0m1.7-24.2h0m.2 23.5h0m.1 4.8h0m.7-18.9h0m.5 15.6h0m.9-.2h0m1.1-23.4h0m1.3 13.6h0m.6 31.9h0m.1-31.4h0m1.5 40.9h0m.2-37.5h0m.1 33.6h0m.1 10.7h0m.1-33.4h0m.4 34.5h0m.1-23.6h0m.1-21.6h0m1.4 29.3h0m2.9 13h0m.3 4.4h0m.3-13.5h0m.7 11.4h0m1.7-40.6h0m0 62.5h0m.5-29.1h0m.5 24.4h0m0-4.6h0m.6 13h0m1.8 2.9h0m1-28.9h0m.7 21.7h0m1.8-6.8h0m.3-49.7h0m1.2 55.5h0m.5-55.3h0m2.2-.4h0m4.9 11.2h0m2.8-2.8h0m.3-6.6h0m1.3 5.6h0" stroke="#d8c0b8" stroke-width="3.5" stroke-linecap="round" fill="none" stroke-opacity="0.85"/>
<path d="M501.3 554.4h0m.2 14.5h0m1.7-21.1h0m.7-1.8h0m.1 23.6h0m.1 1.9h0m.1-31.3h0m.8-.7h0m0 34h0m.2 23.4h0m.9 7.2h0m.3-58.4h0m0 10.6h0m.1 18.4h0m.2-28h0m0 58.3h0m.1 7.6h0m0-62h0m.4 59.3h0m.8-34.8h0m.1 5.7h0m.8-44.1h0m.5 61h0m.2 14.5h0m1-48h0m3-14.8h0m1 76.9h0m0-3.6h0m.4-32.1h0m1.3 17.8h0m.3-8.7h0m2-33.6h0m.6 55.3h0m.4-52.4h0m.3 5.2h0m.4-5.2h0m.4 20h0m.8-24h0m.2 47.3h0m.5 23.9h0m0-11.3h0m1.1-17.9h0m.2 6.6h0m0-10.3h0m1.4 27.4h0m.2-57.4h0m.7-2h0m.2 55.8h0m.9-52.8h0m.1 6h0m11 0h0m4.9-.6h0" stroke="#e4705a" stroke-width="3.5" stroke-linecap="round" fill="none" stroke-opacity="0.85"/>
<path d="M479.4 649.7h0m2.4-38h0m.8 36h0m0 6.5h0m.4-10h0m.2 .7h0m.8 10.4h0m.1-13.2h0m1 28.5h0m0-21.6h0m.1-4.7h0m.1 10.8h0m.5 10.5h0m0-17.6h0m.4 17.6h0m0-6.5h0m.3 14.4h0m.8-21.2h0m.4 11.2h0m.4-1.5h0m.1-22.2h0m.4 30.9h0m.3-.7h0m.2 4h0m.2-10h0m.2-18.5h0m.5 24h0m0-3.7h0m.3-7.9h0m.6-5.4h0m1 7.3h0m.1 4.9h0m1.2-15.8h0m.1 20.5h0m.1-11.7h0m1 9.8h0m.1-5.3h0m.5-14.9h0m.4 13h0m.4-11.6h0m.2 18.6h0m.8-16.1h0m0-39.1h0m.3 37.6h0m.3 8h0m.1-40.3h0m.7 36.7h0m.2 4.9h0m.1 5.6h0m.1-5.5h0m.1-1.9h0m0 5.7h0m.7-2.9h0m.2-6.5h0m.9-.9h0m.8 10.1h0m.3-13.4h0m.2-3.2h0m.7 18.9h0m.2-5.9h0m.2-3.7h0m.8 5h0m.2 9.7h0m.7-15.4h0m1.6 2.2h0m.1 16.6h0m1.1-10h0m1.3-2.7h0m.2 5.3h0m4.2 .8h0m0-9h0m1.2-28.4h0m1.2 33.9h0m2.3-28.8h0m0 .8h0m.6 4.7h0m.1-11.1h0m.4 2.9h0m.2-7.3h0m.1 13.3h0m.8-70.5h0m.2 72.6h0m.8-6.8h0m.1 3.2h0m1.1 3.8h0m.2-11.1h0m1 4.2h0m1.4-67.5h0m.2 14.9h0m1.2 43.2h0m.3-48.8h0m.3 1.7h0m1.1 7.2h0m1.4-5.3h0m.1 77h0m0 5.3h0m.3-35.6h0m.6-10h0m.1 5.7h0m.3 2.1h0m1-41.2h0m.2-2.8h0m.9 65.3h0m.3-52.7h0m.1 54.3h0m.3 3.5h0m.1 2.1h0m.1-62.8h0m.6 79h0m.7-88.8h0m.1 90.2h0m.6-41.4h0m.2-4.5h0m.4-6.2h0m.4-42.8h0m.5 50.4h0m0-31.9h0m.7 64.1h0m.6-68.5h0m.1-10.3h0m.8 73.7h0m1.6-68.8h0m0 2.9h0m.2 73.3h0m.8-79.5h0m.4 82h0m.1-75.2h0m3.2 .5h0" stroke="#c2c2c2" stroke-width="3.5" stroke-linecap="round" fill="none" stroke-opacity="0.85"/>
<path d="M480 646.5h0m1.4 3.2h0m.1-5.4h0m.9-31.8h0m.6 17.2h0m0 17h0m.1 12.2h0m.2-1.8h0m.1-27.9h0m.6-14.5h0m.2 34.4h0m.5 9.8h0m.2-34.7h0m.1 36.9h0m.1-8.4h0m0-30.2h0m.1 24.2h0m.4 28.2h0m.7-15.3h0m.1 7.9h0m0 3.7h0m.8 1.4h0m.2 4.1h0m.4-22.6h0m.5 12.5h0m.1-8.9h0m0-3.8h0m.1-3.9h0m.4 .7h0m.6 17.7h0m.1-2h0m.4-8.9h0m.1-7.4h0m.3 12.7h0m.1-2.1h0m.1-12.1h0m.4-5.5h0m.7 20.5h0m.2-57.9h0m.1 46.5h0m.5 9.7h0m.2-2.6h0m.3 3.5h0m.2-9.1h0m.4 12.5h0m.7 3.6h0m.1-17.1h0m.3-.7h0m.2 5.1h0m.4-2.3h0m.5 13.1h0m0-8.5h0m.1-51.3h0m1 50.6h0m.2-12.6h0m0 15h0m.4-14.2h0m.9 16.3h0m0-6.9h0m.3-2.5h0m.2 6.9h0m.3 11.1h0m.5-15.4h0m.2-50.3h0m.5 52.2h0m0 8h0m.1-6.2h0m0-9.2h0m.4 5.9h0m.9-12.4h0m.4 17.5h0m.2-8.9h0m.1 14.1h0m1.2-16.4h0m0 7.8h0m.4 11.2h0m.6-10.4h0m.8-11.7h0m.1 13.2h0m.2-12.2h0m.6 5.8h0m.4 10.3h0m.7-12.3h0m.2 12.7h0m.3-11.1h0m.2 4.1h0m.1 11.1h0m1.4-14.1h0m.2 14.5h0m0-13.4h0m1.4-.2h0m.4 14.9h0m.2-5.1h0m1.9-.7h0m2.5-6.5h0m4.2-81.9h0m2-.6h0m1.1-1.7h0m1 2.7h0m.4 4.8h0m1.4 37.8h0m.4-35.6h0m1.2 67.8h0m.4-66.6h0m1.1 43h0m.2-5.1h0m.2-.9h0m.2 49.8h0m.8-86.8h0m.4-8.8h0m.1 65.7h0m.2 13.5h0m.6-13.2h0m1.1 23.9h0m0-82.4h0m1.4 45.4h0m.3-47h0m.2 34.6h0m.1 25.7h0m1.5-58.5h0m.4 36.4h0m1.1-34.4h0m.1 72.2h0m.7-82.6h0m.2 1.3h0m.4 84.1h0m1.2-83.6h0m.1 41.1h0m.7-35.4h0m.1 79.8h0m2.3-78.5h0m2.2-2.5h0" stroke="#b8b8b8" stroke-width="3.5" stroke-linecap="round" fill="none" stroke-opacity="0.85"/>
<path d="M482.6 650.3h0m.3-6.9h0m1 3.6h0m0 26.9h0m.3-39.9h0m.8 17.7h0m.7 6.7h0m.1 6.2h0m0-15.5h0m.3 6.6h0m.1 4.2h0m0 1.8h0m.1-14.4h0m.6 24h0m0-3.5h0m.9-12.5h0m.4 18h0m.3 2.8h0m0-33.2h0m.2 13.6h0m.4 10.2h0m.3-16.1h0m.2 11.6h0m.3-16h0m.3 13.5h0m.6-6.6h0m.3 21.1h0m.4-18.5h0m.1 8.6h0m0-8.2h0m.3 4.9h0m0-56.1h0m.7 44.4h0m.6 26.7h0m.1-33.9h0m0 8h0m.7 8.2h0m.3-3.4h0m.7 1h0m0 5.7h0m.7-6.6h0m.3 14.1h0m.6-.6h0m.2-6.6h0m0-50.2h0m.1 36.6h0m.1 4.9h0m.1 11.2h0m.3-5.4h0m0-13.9h0m.5 23h0m.1 1.8h0m.2-21.6h0m.1 8.5h0m.4 13.3h0m.3-20.9h0m.7 5.8h0m.3 3.4h0m.3-51.8h0m.2 46.8h0m.6-6.5h0m.5 22.9h0m.4-5.4h0m.4-10.8h0m.1 5.8h0m.1-1.1h0m.2-8.2h0m.7-1.8h0m0 14.2h0m.2-7.8h0m0-2.2h0m1.6 3.1h0m.3 17.4h0m.6-21.9h0m.2 5.4h0m.2 11.3h0m.9-14.5h0m.3 17h0m.2-1h0m.8-4.9h0m0-7.6h0m0 3.1h0m.5 .3h0m.1 8.3h0m1.2-.6h0m0-.8h0m0-4.4h0m.3-7.6h0m.3 1.6h0m.2 12.4h0m1-1.9h0m1.9-4.8h0m4.9-90.7h0m2.3 62.2h0m.1 2.7h0m1-65.4h0m.6 63h0m.5-61.9h0m.3 1.3h0m.6-4.4h0m1.2 14.6h0m.7-3.5h0m.6 .6h0m.4 .9h0m.3 69.9h0m1.4-72.1h0m.1 66.9h0m.5 1.4h0m.5-69.6h0m.8 36.9h0m.4-35.4h0m.3 61.2h0m.1 6.2h0m.1 23.5h0m.4-97.2h0m.2 47.5h0m.1-44.8h0m0 49.2h0m.3-2h0m.1-49.1h0m.4 49.3h0m.3 20h0m0 12.8h0m.5-34.8h0m.5 24.3h0m.4-20.6h0m.3-9h0m.1 3.6h0m.3-45.3h0m.3 87h0m.2-42.7h0m.3 34.5h0m.3-31.3h0m.1 44.6h0m.2-14.7h0m.2-33.1h0m.6-33.6h0m.3 75.6h0m0-40.2h0m.8-41.1h0m1.1 86.4h0m.6-85.4h0m1.1 5h0m1.6 2.3h0m.5 1.7h0" stroke="#c9c9c9" stroke-width="3.5" stroke-linecap="round" fill="none" stroke-opacity="0.85"/>
<path d="M482.2 646.2h0m2.4-.6h0m5.3 3.4h0m1.2 18.8h0m.8-24h0m.5 29.5h0m.6 1.5h0m1.3-26.4h0m1.5 19.8h0m2-3.4h0m3.5 2.3h0m1.4 2.2h0m.8-4.6h0m.4 8.1h0m2.3-6.2h0m0-8.8h0m.3 4.1h0m.4 8.8h0m1.2-14h0m.6 6.4h0m.5-5.2h0m3.1 5.1h0m12.2 7.5h0m1.6-3.7h0m1.1 4.2h0m.3-6.1h0m.6-46.3h0m1.3 49.9h0m.1-24.9h0m.5 7.9h0m0 9.2h0m.2 5.7h0m.2 .1h0m.1-25.5h0m.1 28h0m.5-16.3h0m.2-33.4h0m.4 50.5h0m.2-50.9h0m.2 40.9h0m.2 2.3h0m.4 5.1h0m1.2-14.9h0m.3 3.8h0m1-10.8h0m.5 9.5h0m.6-5.2h0m.1 7.6h0m.2 12.8h0m.3-15.5h0m2.7 11.2h0m.9-2.8h0m.5-44.3h0m1 46.2h0m1-76h0" stroke="#d6b0a6" stroke-width="3.5" stroke-linecap="round" fill="none" stroke-opacity="0.85"/>
<path d="M482.8 621.2h0m4.6 26.3h0m.8-.2h0m.1 .2h0m.5 27.7h0m1.7-35.6h0m2.2 5.8h0m1 24h0m1.8-26.2h0m6.5 4.7h0m2.5 19.5h0m2-4.2h0m18.5 9h0m.6 .5h0m2.7-11.9h0m.3 .1h0m.8-73.9h0m.8 72h0m.5-4.8h0m.6-34.5h0m.3 43.6h0m.3-73.7h0m.3 30.8h0m0 26.2h0m.2 1.4h0m.3 16.9h0m.1 .4h0m0-10.9h0m.2 2.6h0m.3 14.1h0m.2-18.2h0m.2-68.2h0m.4 64.7h0m.8 14h0m2.3-2.7h0m.2 8h0m0-44h0m1.5-40h0m.1 40.2h0m.1 40.2h0m.8-6.7h0" stroke="#dea090" stroke-width="3.5" stroke-linecap="round" fill="none" stroke-opacity="0.85"/>
<path d="M485.5 668.7h0m5.2-1.1h0m1-22.1h0m2.7 .7h0m2.7 19.8h0m3.1 4.5h0m.6-53.6h0m.3 30.6h0m.3 20.2h0m2.4-14.2h0m1.3 7.9h0m.6 7.7h0m2.1-13.5h0m3.6 12.1h0m2.2-6.3h0m.3 9.6h0m1.1-10.3h0m.6 3.8h0m12 3.1h0m1 3.9h0m1.1-26.1h0m0-25.7h0m.3-33.1h0m.1 40.9h0m.2-50.6h0m0 49.1h0m.2-46h0m.4 82.1h0m.3-36.4h0m.5-7.6h0m0 10.5h0m.3-47.9h0m1 88.1h0m.3-53.4h0m.2-36.3h0m.9 74.2h0m.3-68.2h0m.1 33.2h0m1 39h0m0-30.1h0m.2 38.6h0m.1-8.8h0m.3 7.5h0m.9 3h0m.3-45.6h0m.2 39.7h0m.3 2.2h0m.1-84.8h0m1 86.4h0m.5-45.1h0" stroke="#e08a74" stroke-width="3.5" stroke-linecap="round" fill="none" stroke-opacity="0.85"/>
<path d="M482.8 616h0m1.5-1.8h0m.3 19.6h0m1.4 10.4h0m.3 9.3h0m.4-13.5h0m2.3 2h0m.2 2.9h0m.1 24.1h0m3.1-24.1h0m.6-.2h0m1.2 29.9h0m.2-9h0m5 .8h0m.3 4.9h0m3.8-.3h0m.9-21.7h0m5 6.7h0m1.9 3.3h0m2.1 10h0m.6-2.8h0m.4-1.2h0m8.8 0h0m1.6-.1h0m1.3 3.6h0m4.4-9.4h0m.1-1.6h0m.5-70.3h0m.6 64.8h0m.3-27.4h0m.4 32.6h0m.9 .6h0m.5-3.5h0m.5-67.1h0m.1 77.1h0m0-3.9h0m.2 9.9h0m.3-3.3h0m.1-5.9h0m.4-73.8h0m4.1 74.1h0m.6-40.4h0m.8 41h0" stroke="#d8c0b8" stroke-width="3.5" stroke-linecap="round" fill="none" stroke-opacity="0.85"/>
<path d="M482.9 671.3h0m3.5-14.1h0m.6-4.1h0m1.9-9.4h0m4.2-.3h0m1.1 .1h0m1-.7h0m.2 2.7h0m.4 21.5h0m2.9-21.7h0m.9 22.5h0m1.4-3.6h0m1.3-13.7h0m1.1 17.4h0m1-3.4h0m0 1.3h0m.2 .3h0m.5 3.3h0m2-16.5h0m3.1 1.5h0m12.4 14.8h0m2.4-.2h0m.6-86.3h0m.4 86.1h0m.2-3.9h0m1.9-15h0m.2 19.6h0m2.1 2h0m.1-17.8h0m.1-30h0m.7-38h0m.8 3.3h0m.3 37.6h0m0-39.9h0m.1 64.6h0m.5-63.8h0m.1 72.1h0m.2-39.1h0m0 27.2h0m.9-57.4h0m.5-3.5h0m.8 37.4h0m.1-4.9h0m.6 39.8h0m.2 4.1h0m.2-76.5h0m1.3 39.2h0m.4 25.6h0m.1-71h0m0 75.7h0m2.3-65.7h0m1.5 68.9h0m.8-74.1h0" stroke="#e4705a" stroke-width="3.5" stroke-linecap="round" fill="none" stroke-opacity="0.85"/>
<circle cx="533.5" cy="622" r="1.5" fill="#e8242a"/>
<circle cx="562.3" cy="672.6" r="2.3" fill="#000"/><circle cx="564.3" cy="673.8" r="2.3" fill="#000"/>
<path d="M490.5 539.1C491.5 538.9 494.7 538.1 496.5 538.4C498.4 538.7 499.9 539.1 501.6 540.6C503.2 542 505.6 543.9 506.6 547.2C507.6 550.4 506.9 556.3 507.6 560.3C508.3 564.3 510.4 568.1 510.6 571.2C510.8 574.3 510.2 577.4 509 578.9C507.8 580.4 504.7 578.4 503.6 580C502.4 581.6 502 585.8 502.2 588.8C502.3 591.7 503 595.3 504.6 597.5C506.2 599.7 509.9 599.8 511.6 601.9C513.3 604 514.1 608.8 514.6 610.2" stroke="#454545" stroke-width="2.9" fill="none" stroke-linecap="round" stroke-linejoin="round"/>
<path d="M519.6 587.7C519.1 588.8 517.5 591.9 516.6 594.2C515.8 596.6 515 599.2 514.6 601.9C514.3 604.6 514.3 607.3 514.6 610.2C515 613.1 515.6 615.7 516.6 619.4C517.6 623.1 519.1 629.6 520.6 632.5C522.1 635.5 524.8 636.2 525.7 636.9" stroke="#454545" stroke-width="2.9" fill="none" stroke-linecap="round" stroke-linejoin="round"/>
<path d="M525.7 636.9C526.8 634.7 530.2 627.4 532.7 623.8C535.2 620.1 539 618.3 540.7 615C542.4 611.7 542.6 606.8 542.7 604.1C542.9 601.3 541.6 600.8 541.7 598.6C541.9 596.4 544.2 593 543.7 590.9C543.2 588.9 539.5 586.9 538.7 586.1" stroke="#454545" stroke-width="2.9" fill="none" stroke-linecap="round" stroke-linejoin="round"/>
<path d="M525.7 636.9C526.7 638 530.2 640.9 531.7 643.5C533.2 646.1 534.4 649.5 534.7 652.3C535 655 533.9 658.6 533.7 659.9" stroke="#454545" stroke-width="2.9" fill="none" stroke-linecap="round" stroke-linejoin="round"/>
<path d="M494.5 607.4C495 607.6 496.7 607 497.5 608.5C498.4 609.9 499.2 614.9 499.6 616.1" stroke="#454545" stroke-width="2.9" fill="none" stroke-linecap="round" stroke-linejoin="round"/>
<path d="M488.1 645.7C489 645.5 491.6 642.4 493.5 644.6C495.4 646.8 497.9 655.4 499.6 658.8C501.2 662.3 502 663.9 503.6 665.4C505.1 666.9 507.5 667.9 509 667.6C510.5 667.3 512.6 665.5 512.6 663.6C512.6 661.8 510.3 657.8 509 656.6C507.7 655.5 506.2 656.3 504.6 656.6C503 657 501.6 657.7 499.6 658.8C497.5 659.9 493.9 661.2 492.5 663.2C491.2 665.2 492.5 669 491.5 670.9C490.5 672.8 487.3 674 486.5 674.6" stroke="#454545" stroke-width="2.9" fill="none" stroke-linecap="round" stroke-linejoin="round"/>
<circle cx="490.5" cy="539.1" r="2.3" fill="#000"/>
<circle cx="519.6" cy="587.7" r="2.3" fill="#000"/>
<circle cx="538.7" cy="586.1" r="2.3" fill="#000"/>
<circle cx="541.7" cy="598.6" r="2.3" fill="#000"/>
<circle cx="518.6" cy="605.2" r="2.3" fill="#000"/>
<circle cx="494.5" cy="607.4" r="2.3" fill="#000"/>
<circle cx="499.6" cy="616.1" r="2.3" fill="#000"/>
<circle cx="533.7" cy="659.9" r="2.3" fill="#000"/>
<circle cx="488.1" cy="645.7" r="2.3" fill="#000"/>
<circle cx="486.5" cy="674.6" r="2.3" fill="#000"/>
<circle cx="514.6" cy="610.2" r="1.7" fill="#fff" stroke="#555" stroke-width="0.5"/>
<circle cx="525.7" cy="636.9" r="1.7" fill="#fff" stroke="#555" stroke-width="0.5"/>
<circle cx="499.6" cy="658.8" r="1.7" fill="#fff" stroke="#555" stroke-width="0.5"/>
<text x="490" y="546.8" font-size="8.8">CD8+TEx</text>
<text x="523.7" y="599.8" font-size="8.8">CD8+TN</text>
<text x="495.4" y="608.4" font-size="8.8">CD8+TEM/TRM</text>
<text x="484.2" y="625.7" font-size="8.8">CD8+TCM</text>
<text x="564.3" y="628.4" font-size="8.8">CD8_TMSB4X</text>
<text x="463.3" y="656.7" font-size="8.8">CD8+TEMRA/TEFF</text>
<text x="525.2" y="667.9" font-size="8.8">CD8_B2M</text>
<text x="568.2" y="676.8" font-size="8.8">CD8_PRF1</text>
<path d="M472.6 526.2V685.2H621.2" stroke="#222" stroke-width="1" fill="none"/>
<text x="470" y="573" font-size="8.5" text-anchor="end" fill="#333">4</text>
<text x="470" y="617.6" font-size="8.5" text-anchor="end" fill="#333">0</text>
<text x="470" y="662.5" font-size="8.5" text-anchor="end" fill="#333">−4</text>
<text x="482.2" y="693" font-size="8.5" text-anchor="middle" fill="#333">−5</text>
<text x="511.7" y="693" font-size="8.5" text-anchor="middle" fill="#333">0</text>
<text x="542" y="693" font-size="8.5" text-anchor="middle" fill="#333">5</text>
<text x="573" y="693" font-size="8.5" text-anchor="middle" fill="#333">10</text>
<text x="463" y="609.8" font-size="8.5" text-anchor="middle" transform="rotate(-90 463 609.8)">UMAP 2</text>
<text x="543" y="701.5" font-size="8.5" text-anchor="middle">UMAP 1</text>
<text x="542.6" y="717.2" font-size="14.5" text-anchor="middle">GSE99254</text>
</g>
<g id="G">
<text x="463" y="732.2" font-size="14">G</text>
<path d="M478.9 772.8h0m0 1.1h0m0 2.1h0m0-8.9h0m0-.3h0m0 1h0m0 0h0m0 1.3h0m0-9.7h0m0-4.2h0m0 10.9h0m0 5.9h0m0 10.6h0m0-40.4h0m0 26.4h0m0-9.8h0m0 4.4h0m0 4.4h0m.1-15.1h0m0-1.9h0m0 11.1h0m0 20.9h0m0-19.3h0m0 2.8h0m0-3.1h0m0-10.2h0m0 14.5h0m0 8.8h0m0 29.3h0m.1-35.7h0m0-3.7h0m0 8.6h0m0 0h0m0 8.3h0m0-2.9h0m0 4.3h0m0-6.6h0m0-9.2h0m0-14.5h0m0 12.2h0m0-4.1h0m0 18.5h0m0-22.4h0m0-.5h0m.1 15.3h0m0-6h0m0-16.5h0m0 32.7h0m0-37.9h0m0 26.9h0m0-17.7h0m0 15.5h0m0-14.3h0m0 19.1h0m0-12.4h0m0 28.4h0m0-18.5h0m0 52.8h0m0-44.9h0m0-6h0m0 6.8h0m0-11.7h0m0-1h0m0-15.1h0m0 23.7h0m.1 18.4h0m0-37.8h0m0 0h0m0 12h0m0-10.2h0m0 26h0m0-21.1h0m0 91.3h0m0-96.1h0m0 18.8h0m0 5.7h0m0-35.6h0m0 21.6h0m0-1.1h0m0 17h0m0-25.4h0m.1 31.6h0m0-42.8h0m0 79.9h0m0-55.4h0m0-2.2h0m0-19.8h0m0 28.4h0m0-31h0m0 115.3h0m0-99.7h0m0-7.3h0m0 13.1h0m0-5.5h0m0 69.8h0m0-71.1h0m0-2.5h0m0-7h0m.1 11.9h0m0 10.4h0m0-7.2h0m0-27.1h0m0 14.5h0m0 9.7h0m0 8h0m0 11.7h0m0 64.6h0m0-70.4h0m0 43.2h0m0-55.8h0m.1 77.5h0m0-68.3h0m0-27h0m0 18.3h0m0 10.1h0m0 3.6h0m0 4.6h0m0-21.6h0m0-17.3h0m0 94.3h0m0-76.4h0m0-4.6h0m0 1.3h0m.1 66.7h0m0-61.6h0m0 12h0m0-23.1h0m0 20.8h0m0-15.9h0m0 23h0m0-11.4h0m0 3.9h0m0-3.7h0m0-15.2h0m0 17.7h0m0 14.5h0m0-18.5h0m0-11.3h0m0 9.7h0m0 2.9h0m0-.6h0m.1-22.6h0m0 14.1h0m0 8.7h0m0 17.8h0m0-35.4h0m0 24.5h0m0-9h0m0 6.9h0m0-4.3h0m0-2.6h0m0 2.6h0m0-.5h0m0-1.5h0m0 87.5h0m0-87.7h0m0 4.7h0m0-2h0m.1-10.8h0m0 16.1h0m0 7.2h0m0-24.6h0m0 2.1h0m0-1.6h0m0 61.3h0m0-60.7h0m0 90.5h0m0-68.3h0m0 52.6h0m0-86.3h0m0 90.2h0m0-80.6h0m.1 105.2h0m0-98.9h0m0 17.9h0m0-7.5h0m0-32h0m0 5.7h0m0 7.5h0m0-7.7h0m0 8.7h0m0 13.3h0m0 80.7h0m0-9.1h0m0-67.3h0m0 9h0m.1-22.5h0m0 9.9h0m0 51.7h0m0 2.8h0m0 41.8h0m0-20.2h0m0-11.1h0m.1-11.8h0m0 4.3h0m.7-37.4h0m0-32.9h0m0-13.3h0m0 33.4h0m0-21.2h0m0-.5h0m.1-6.4h0m0 61h0m0-59.1h0m0 17.4h0m.1-24.1h0m0 34.6h0m0 15.8h0m.1-10h0m.1-19.5h0m0-7.7h0m0 25.5h0m0-17.3h0m0-15.1h0m.1 13.6h0m0 5.7h0m0 7.1h0m0-8.9h0m0-4.6h0m0 11.7h0m0-9.1h0m.2-.3h0m.1 11.3h0m0-22.9h0m0 11.6h0m0 53.5h0m0-68.2h0m.1 40.1h0m0-25.6h0m.1-9.1h0m.1 3.1h0m0 16.6h0m.1-21h0m0 21.6h0m0-28.2h0m5.8 30.2h0m.1-20.2h0m.1-6h0m.3 19.9h0m.1 15.3h0m0-1.8h0m.2-30h0m.5 18.2h0m.2 2h0m.3-21h0m0 6.4h0m0 13.5h0m0-29.9h0m.1 42.9h0m.1-26.6h0m.3 14.9h0m0-10.1h0m.2 10.5h0m0-4.3h0m.3-11.3h0m.4 33.6h0m0-14.5h0m.1-23.5h0m.1-8.9h0m.1 14.7h0m0 14.1h0m.2-28.2h0m.2 19.3h0m.2 51.9h0m.2-40h0m0 25h0m.2-12.8h0m.5 8.9h0m.5-25.6h0m.1-6.9h0m.2 29.4h0m.3-29.8h0m.1-5.5h0m.2 5.9h0m.2 3.8h0m.1 40.3h0m0-44.6h0m.3 78.4h0m0 0h0m0 3.4h0m.5-72.7h0m.2 47.6h0m0-.3h0m.1 9.7h0m0-57.8h0m.3 3.8h0m.1-13.4h0m.1 6.8h0m.1-30.5h0m0 19.6h0m.6 5.3h0m.2-4.7h0m0 3.7h0m.1 27.7h0m0 57.3h0m0 8.6h0m0 10.6h0m0 10.7h0m0 0h0m.2-115.9h0m.2 7.5h0m0-6.8h0m.2 43.3h0m.2-8.7h0m.5 16.2h0m.1-47.2h0m.1-22.1h0m.2-5.9h0m0 18.1h0m.4 40.8h0m.2-44.3h0m.1 86.8h0m0 38.2h0m0 0h0m0-93.9h0m.6-29.4h0m.3-2.4h0m0 14.5h0m.2 48.8h0m.1-21.4h0m.1 2.7h0m.3-14h0m.3-27.6h0m.1 28.6h0m.1-36.4h0m.1 7.5h0m0 48.5h0m0 6.8h0m.1 43h0m0 7.8h0m0 0h0m0 6.2h0m0 0h0m0-84h0m.1 25.5h0m.1-19.6h0m.1-27h0m0 49.6h0m.1-43.2h0m0-16.8h0m.1 25.9h0m0-11.3h0m0-2.4h0m.1 58h0m0-45.4h0m.3 38.4h0m.1-37.7h0m0 33.7h0m.1-63.8h0m.2 3.2h0m.1 18.7h0m0-4.1h0m0 48.9h0m.1-41.5h0m.1-5.2h0m.5-21h0m0-5.6h0m0 19.8h0m.1 16.2h0m.1 69.4h0m0 7.3h0m0 3.4h0m0 10.6h0m0 0h0m0 10.7h0m0 0h0m0 0h0m.4-80.4h0m0-30.6h0m.1 49.9h0m0-76.1h0m.1 11.8h0m.2 55h0m.2-29.1h0m.2-11.9h0m.1-4.2h0m.1 1.5h0m.1-3.7h0m0-1.3h0m.1 50.6h0m.2-42.9h0m0-1.4h0m.4-14.5h0m0 11.7h0m0 57.9h0m.1-52h0m0 77.7h0m0 2.1h0m0 8.6h0m0 0h0m0 4.4h0m.1-93.9h0m.2 4.9h0m0-18.1h0m.1-2.6h0m.2 15h0m.1 9.2h0m.1-2.3h0m.2-7.3h0m.1 6.6h0m.2-21.4h0m.3 25.5h0m.1 2.4h0m.2 16.1h0m.4 44.6h0m0 2.8h0m0 0h0m0 7.9h0m0 0h0m0 6.2h0m0 0h0m0 10.6h0m0 10.7h0m0 0h0m.6-119.7h0m.3-15.8h0m.1 19h0m.1 12.4h0m.2-35.4h0m1.1 101.3h0" stroke="#b07fd0" stroke-width="2.4" stroke-linecap="round" fill="none"/>
<path d="M513.4 754h0m.1 120.3h0m.1-118.7h0m.2 12.8h0m.2 3.5h0m.1-7.5h0m.1 23h0m.1-19.1h0m.2 18.8h0m0-28.7h0m.6 35.5h0m.1-34.4h0m.2 38.9h0m0-4h0m.1-25.7h0m.2-26.1h0m0 22.3h0m.1 81.9h0m0 16.9h0m0 4.4h0m0 6.2h0m0 0h0m.1-108.1h0m0 16h0m.5-16h0m0-10.9h0m.1 3.5h0m.1 16.6h0m.2 9.2h0m.1-16h0m.1 26h0m.3-13.7h0m0-23.3h0m.1 37.2h0m0 11.2h0m.1-53.1h0m.2 29.5h0m.1-5h0m0-27.1h0m.1 27.1h0m.2 75.6h0m0 7.3h0m0 14h0m0 10.7h0m0-117.7h0m.3 30h0m.3-12h0m0-5.3h0m.1-6h0m.4 38.8h0m.2-43.2h0m.2 19.6h0m0-10.6h0m.2-2.4h0m0 11.8h0m.1 3.9h0m0-19.3h0m0 3h0m.2 .6h0m0-8.1h0m0 17.6h0m0 7.3h0m.1-34.5h0m.1 18.7h0m.1 80.3h0m0 10.6h0m0 16.9h0m0 0h0m0-120.4h0m.2 34.4h0m0-14.5h0m0-4.9h0m.1 7.3h0m.2-22.8h0m.3-12.7h0m.3 37.2h0m.3-26.6h0m.1 0h0m.4 32.7h0m0-8.2h0m.2-16.2h0m.2-3.4h0m0 107.4h0m.1-81.1h0m.1-14.6h0m0-12.5h0m.2-14.5h0m0 9.5h0m.1-3.7h0m0 20.9h0m.1-5.6h0m.3 50.4h0m.1-26.9h0m0-17.3h0m.4 14.3h0m.1-25.2h0m.2-4.9h0m.1 3.1h0m.2 31.4h0m.1-11.2h0m.1-1.9h0m.1-18.8h0m0 2.7h0m.1 78.4h0m0 27.5h0m0 0h0m0 0h0m0 10.7h0m.2-81.4h0m.2-61.4h0m.1 36.4h0m0 19.3h0m.3-27.3h0m.3-13.2h0m0-9.8h0m0 36.6h0m.1-2.1h0m.3 19.7h0m.2-14.8h0m.3 2h0m.1-28.6h0m.2 1.4h0m.1-4.3h0m.1 26.2h0m0-20.8h0m0 32.9h0m.4 2.3h0m.2-27.1h0m.4-14.1h0m0 22.9h0m.1-29.1h0m.1 23.7h0m.3-14.6h0m0 39.2h0m0-7h0m0 5.8h0m.1-15.9h0m0-.6h0m0-7h0m0 1.4h0m0 29.3h0m0-1.4h0m.1-7.2h0m0-47.6h0m0 33.9h0m0-.4h0m.1 21.8h0m0-1.1h0m0-34.3h0m0 10.7h0m.1 9.6h0m0 11.7h0m0-5.3h0m0-15.8h0m0 44.9h0m0-45.4h0m0 .8h0m.1-3.5h0m0 7.5h0m0-4.8h0m0-34.1h0m0 18.4h0m0 17.8h0m.1-36.6h0m0 22.7h0m0 8.9h0m0 78.9h0m0-66.4h0m0 10.4h0m0 .5h0m.1-40.5h0m0 17.5h0m0 28.5h0m0-44.3h0m0 26.4h0m.1-18.7h0m0 17.4h0m0 27.3h0m0-49.8h0m0 23.6h0m0-32.9h0m0 10.8h0m0-7.5h0m0 35h0m0 17.2h0m.1-7.5h0m0-14.2h0m0-8.3h0m0 17.4h0m0-20.8h0m0-19.6h0m0 20.1h0m0 27.2h0m0-18h0m0-4.5h0m.1 29.6h0m0-32.3h0m0-23h0m0 30.1h0m0 12.7h0m0-38.2h0m0 4.4h0m0 21.4h0m0-26.4h0m0-13.3h0m0 14.3h0m0 61.4h0m0-34.8h0m0 30.4h0m0-57.7h0m.1 3.4h0m0 37.7h0m0-11.1h0m0-32.7h0m0 29h0m0 .7h0m0 .2h0m0-36.9h0m0 43.4h0m0-23.9h0m0 13.8h0m.1-12.1h0m.2 4h0m0 3.2h0m.1 17.4h0m0 6.5h0m.1-27.1h0m0-4.3h0m.3-13.3h0m.2 11.9h0m0 13.8h0m.1-31.3h0m.1 51.5h0m.2 7.6h0m.1-55.4h0m0 29h0m0 8.9h0m0-7.1h0m.1-41.2h0m0 28.1h0m0-.3h0m0-13h0m.2 92.6h0m0 32h0m0 0h0m.3-96.5h0m.1-22.5h0m.1-11.8h0m.3 25.9h0m.2-8.4h0m.1 18.6h0m.2-7.6h0m.1-10.2h0m.3-5.2h0m.6 117.7h0" stroke="#ee736b" stroke-width="2.4" stroke-linecap="round" fill="none"/>
<path d="M511.2 843.4h0m.9-98.8h0m0 43.2h0m.3-22.9h0m0-10.5h0m.4 41.9h0m.1-22.1h0m.2 19.3h0m.1-4.2h0m.1-19.6h0m.2 79.9h0m0 5.5h0m0 2.4h0m0 0h0m0 10.6h0m0 6.2h0m0-116h0m.2 6.8h0m.3 6.8h0m.7-11.7h0m0 3.6h0m0-9.6h0m.1 15.9h0m.2-3.1h0m0 15.4h0m.1-1.9h0m.4-33.5h0m.3 106h0m0 0h0m0 4.5h0m0 6.2h0m0 10.6h0m0 10.7h0m0 0h0m.1-136h0m.1 42.5h0m0 11.1h0m.1-26.4h0m0-26.3h0m.6 51h0m.1-23.3h0m0-13.4h0m.3 48.6h0m.3-19.4h0m0-14.4h0m0-36.9h0m.1 31h0m.2 16.5h0m.4 53.8h0m0 0h0m0 3.4h0m0 13.5h0m0 7.8h0m0 6.2h0m0 0h0m0 0h0m0 0h0m0 0h0m0 10.7h0m0 0h0m.1-105.6h0m.6-21.8h0m0 8.6h0m.1 2.2h0m.1 29.5h0m0-33.6h0m.7 8.8h0m.2-19.5h0m.1 19.6h0m.4 7.2h0m0 69.2h0m0 5.5h0m0 8.6h0m0 21.3h0m.3-115.3h0m.3 18.9h0m.1-26.5h0m1-7.4h0m.1 26.3h0m0-23.2h0m.1-5.8h0m0 1.3h0m.3 7h0m.1 36h0m0 47.1h0m0 3.4h0m0 6.2h0m0 2.1h0m0 2.4h0m0 0h0m0 27.5h0m0 0h0m0 0h0m.1-122.3h0m.1 28.5h0m.2-5.7h0m0-17.5h0m.2-18.4h0m0 23.4h0m.1-27.7h0m.1 13.1h0m.7 23h0m.6-1.6h0m.2-25.1h0m.1 88.7h0m0 6.2h0m0 0h0m0 10.7h0m0 14h0m0 0h0m0 10.7h0m0 0h0m.2-129.8h0m0 13.5h0m.5-11.6h0m0 24.7h0m.1-18.8h0m.4 2.9h0m.1 8.5h0m.1-24.8h0m.1 7.2h0m.1 5.5h0m0 1.5h0m.3 17.2h0m0-25.1h0m0-5.7h0m.1 12.5h0m.1 35.1h0m0-5.2h0m.1-11.6h0m0-32.9h0m.1 39.8h0m0 55.5h0m0 24.7h0m0 6.2h0m0 0h0m0 10.7h0m0-125.5h0m.1-14.1h0m.1 54.9h0m0-23.5h0m0-5.2h0m.1-8.6h0m.1-13.8h0m.1 6.4h0m.1 22.1h0m.1-21.8h0m.1 22.4h0m0-13.3h0m.1 1.2h0m0 20.9h0m0-12h0m.1-2.7h0m.2 17.6h0m.1-47.3h0m0 28.4h0m.4 13.7h0m0-5.9h0m0 36.8h0m.1-42h0m0-13.1h0m0 5.5h0m0 15.3h0m0-33.5h0m.1-.1h0m.1 13.1h0m0 29.7h0m.2-23.3h0m0 18.1h0m0-33.8h0m0 26.7h0m.1 2.5h0m0 68.8h0m0 10.7h0m0 7.8h0m0 16.9h0m.1-101.2h0m.2 1.2h0m0-1h0m.1-18.7h0m.1 11.3h0m.1 4.8h0m0-28.4h0m0 22.5h0m.1-19.6h0m0 5.7h0m0 6.3h0m.1 16.2h0m0-25.7h0m.2 12.1h0m0 4.9h0m.1-22.2h0m0 12.4h0m.1 9.9h0m0 12.7h0m.1-10.4h0m.1-14.1h0m0-3.5h0m0-1.3h0m.1 42.6h0m.2-30.9h0m0-5.4h0m.1 6.4h0m.1 10.1h0m0-24h0m.1 25.2h0m.1 4.9h0m0-27.6h0m.1-1.8h0m.1 85h0m0 6.2h0m0 0h0m0 3.4h0m0 15.1h0m.2-116.5h0m.1 10.3h0m.1 18.8h0m.1-7.4h0m0-.8h0m.1 .4h0m0 27.4h0m.1-23.7h0m.2 9.7h0m.1-27.8h0m.1 28.7h0m.1-25.9h0m.1 17.2h0m.1 11.7h0m0-4.2h0m.1-20.1h0m0 8h0m.1-14.1h0m.2-13.7h0m.1 30.1h0m.1-30.3h0m.3 25.1h0m0 75.8h0m0 10.7h0m0 10.6h0m0 0h0m0 6.2h0m0 10.7h0m0 0h0m.1-123.4h0m0 14.6h0m.1 8.6h0m0-7h0m0-7.3h0m.1-8.1h0m0 42.7h0m.1-4.9h0m.1-31h0m.1 8.1h0m0-.7h0m0 18.2h0m.2-25.3h0m0 1.2h0m.1-2.8h0m.2 1.3h0m.1-14.2h0m.1-5.7h0m0 35.2h0m.1 18.3h0m.2-32.1h0m0 9h0m.1-15.3h0m0 11.1h0m.1-16.9h0m.1 7.9h0m.1-9.4h0m0 6.4h0m.1 4h0m.1 8.7h0m.1-16.9h0m0 12.3h0m.1 81.4h0m0 10.7h0m0 4.4h0m0 6.2h0m0 10.7h0m.1-119.7h0m0 .9h0m.1 13.2h0m0-.7h0m0-5.1h0m.1 5.6h0m.1 2.1h0m0-9.4h0m.3 34h0m0-25.5h0m0-9.3h0m0-.4h0m.2 30.5h0m.1-32.8h0m0 20.7h0m.1-19.4h0m.1-5.3h0m0 2.6h0m0-3.5h0m.1 45.1h0m0-38.2h0m.1 6.7h0m.2 2.5h0m0 21.7h0m.2-50.6h0m.1 7.2h0m.1-3.7h0m.1 22.8h0m0-4.9h0m.1-5h0m0-6.4h0m0 5.6h0m.1 5.7h0m0 1h0m0 82.1h0m0 5.2h0m0 7.8h0m0 6.2h0m0 0h0m0 10.7h0m.1-98h0m.1 1h0m0 9.6h0m.1-41.7h0m.2 6.1h0m.1 20.8h0m0-2.6h0m.2 1.9h0m.1-22.9h0m0 6.1h0m0-12.4h0m.2 34.5h0m.1-25h0m.1 1.8h0m0 15.6h0m0 11.6h0m0-36.4h0m.1 35.4h0m0-4.7h0m0-31.5h0m.1 19.9h0m.1-12h0m0 35.7h0m.1-23.2h0m0-14.3h0m.3-18h0m0 10.8h0m0 27.5h0m0-26.3h0m0 18.2h0m.2 13.2h0m.1 69.4h0m0 0h0m0 5.2h0m0 7.8h0m0 16.9h0m0-114.9h0m.1-4.6h0m0 12.2h0m.1-13.4h0m0-17.3h0m0 34.1h0m.1 5.6h0m0-12.9h0m.4-2.2h0m0 4.6h0m0 0h0m0 7.5h0m.1-5.3h0m.1-2.4h0m0-16.3h0m0-8.2h0m.1 34.1h0m0-17h0m.1-12.4h0m0 3.8h0m.1 38h0m0-11.4h0m.2-10.7h0m0-.5h0m.1-8.8h0m.1-10.2h0m0 25.1h0m0-22.7h0m0-.4h0m0-3.4h0m0 37.2h0m.2-27.9h0m0-4.3h0m0 18.5h0m0 12h0m.2-24.7h0m.2-1.7h0m.1 .9h0m0 81.8h0m0 6.2h0m0 7.3h0m0 0h0m0 3.4h0m0 0h0m0 4.4h0m0 0h0m0 6.2h0m0 0h0m0 0h0m0 0h0m0 0h0m0 10.7h0m0 0h0m0 0h0m0 0h0m0-118.9h0m0 20.3h0m.1-37.3h0m.1 2.3h0m0 15.1h0m.1 2.2h0m0-15.3h0m0-2.1h0m0 46.1h0m0-35h0m0 7.7h0m0-2h0m.1-14.8h0m0 29.1h0m0-32.7h0m0 20.9h0m0 1.4h0m0 .1h0m0 6.5h0m0-14.2h0m0 7.1h0m.1-13.5h0m0 2.3h0m0 6.9h0m0-11.6h0m0 33.5h0m0-9.7h0m.1 .9h0m0-8.6h0m0 4.7h0m0-17.6h0m0 34.1h0m0-18.7h0m0-13.5h0m.1 10.7h0m0-11.7h0m0 5.9h0m0 1.6h0m.1 7h0m0 .2h0m0-7.8h0m.1 12.4h0m0 9.3h0m0-1.1h0m0-15.1h0m0-2.4h0m0 28.8h0m0-45h0m0-3.1h0m0-1.8h0m0-.6h0m0 32.4h0m.1-18.8h0m0-10.9h0m0 .5h0m0 18.9h0m0 9.9h0m.1-6.7h0m0 6.9h0m0-21.5h0m0 23.8h0m0-12.7h0m0-14.8h0m.1-6.2h0m0 12.2h0m0 8.3h0m0-15.1h0m0 19.8h0m0-3.4h0m.1 3.7h0m0 1.6h0m0 .1h0m0 35.8h0m0-46.1h0m0 6.6h0m.1-3.3h0m0-25.8h0m0 32.4h0m0-26h0m0 27.8h0m0-27.2h0m.1 41.1h0m0-9.9h0m0-5.7h0m0-30.4h0m.1 21.2h0m.2 20.4h0m0-.8h0m.1-.3h0m0-17.4h0m0 4h0m.1 16.2h0m0-19.3h0m.1 15.1h0m0-7.6h0m0-23.4h0m0 42.6h0m.1-20.9h0m.1-12.5h0m0 17.1h0m0-8.8h0m0-14.4h0m0 90.3h0m0 6.2h0m0 2.1h0m0 29.9h0m0-128.3h0m0-.4h0m.1 .2h0m0 24.3h0m.1-28.6h0m0 27h0m0-4.2h0m.1-1h0m.1-7.6h0m0 5.1h0m.1-6.7h0m0 7.5h0m0-14.3h0m0 37.7h0m.1-39.1h0m.1-5.2h0m0 2.4h0m0 20.6h0m0-14.6h0m0 6.8h0m0-9.3h0m.1 29.9h0m0-1.1h0m.1 12.8h0m0-19h0m.2-17h0m.1 1.7h0m.1 14.6h0m0-35.7h0m0 37.9h0m0-27h0m0 23.1h0m.1-20.2h0m0 16h0m.1 13.5h0m.1 9.4h0m0-29h0m.1 24.8h0m0-22h0m.1-2.8h0m0 43.5h0m0-5.9h0m0-52.4h0m.1 15.2h0m0-6.1h0m.1-9.5h0m0 27h0m.1-7.8h0m0 21.9h0m0-27.7h0m0-17.2h0m0 4.8h0m.1 24.6h0m0-12.6h0m.1 20.5h0m0-.4h0m0-15.2h0m0 76.9h0m0 13.5h0m0 3.4h0m0 4.4h0m0 6.2h0m0 10.7h0m0 0h0m0 0h0m0 0h0m0 0h0m0 0h0m0 0h0m.2-125.1h0m0 12.4h0m0-8.3h0m0 11.1h0m0-3h0m0-8.2h0m.2 2.9h0m0-10.3h0m0 24.5h0m.1-10.2h0m.1 4.4h0m0-24.7h0m.1 9.8h0m.1 30.8h0m0-9.3h0m0 25.1h0m0-43h0m.1 25.6h0m0-9.6h0m0-1.6h0m.1-5.5h0m0 25.6h0m0-34.4h0m.1 22.2h0m0-19.2h0m0 25.9h0m.1 15.9h0m.1-35.1h0m0-22.3h0m.1 32.1h0m0-17.4h0m.1 19.5h0m.2-10.3h0m0-20.8h0m0 27.9h0m.1-1.6h0m0-11.5h0m0 9.5h0m0 6.1h0m.1-36h0m0 48.5h0m.1-33.5h0m.4 85.7h0m0 3.4h0m0 7.3h0m0 14h0m0 0h0m0 0h0m0 10.7h0m0 0h0m0 0h0m0 0h0m0 0h0m0 0h0m0-106h0m.3 26.5h0m0-30.8h0m0 1.2h0m.1 4.7h0m0 9.9h0m.1-.2h0m.6-5.2h0m0-10.6h0m.1-1.3h0m0 34.9h0m.3-41.8h0m.6 20.9h0m0 4.1h0m.2-7h0m0 62.5h0m0 16.9h0m0 4.4h0m0 16.9h0m0 0h0m0 0h0m.7-113.4h0m.6 6.9h0m.2-1.2h0m.1 21h0m.2-19h0m.1-5h0m.3 16.1h0m.1-16h0m0 75.2h0m0 3.4h0m0 2.1h0m0 2.4h0m0 0h0m0 2.8h0m0 0h0m0 0h0m0 3.4h0m0 21.3h0m0 0h0m0 0h0m0 0h0m0-94.4h0m.1-5.9h0m.6-10.1h0m.5 3.4h0m.1 7.9h0m.1 14.5h0m.2-23.3h0m.1-8.8h0m.2 7.8h0m0 2.4h0m.4 71.1h0m0 5.5h0m0 19.2h0m0 0h0m0 10.7h0m0 0h0m.2-122.7h0m.7-3.1h0m0 32.5h0m0 5.9h0m.2-15.2h0m.1 28.7h0m.4-22.1h0m.2-2.3h0m0 9.6h0m.1-5.3h0m0 1.5h0m.1-16h0m.1 4.3h0m.1-8.2h0m0-12.9h0m.1 32.9h0m0 54.2h0m0 10.7h0m0 10.6h0m0 6.2h0m0 0h0m0 10.7h0m.8-105.8h0m.2-16.5h0m.1 11.1h0m.8 11.9h0m.1-15.5h0m.2 4.6h0m.1 7.4h0m.1 75.3h0m0 2.8h0m0 14h0m.2-86.7h0m.1 13h0m.2-30.1h0m.1 53.9h0m.1-68.1h0m.3 39.9h0m.2-7.8h0m0-33.9h0m.1 70.3h0m.2-8.7h0m.3-31.1h0m.2-12h0m.1 17.4h0m.2 56.4h0m0 0h0m0 27.5h0m0 10.7h0m0 0h0m0 0h0m.2-112.9h0m0-2.1h0m.2 23.1h0m.6-5.4h0m.2-10.1h0m.2 17.8h0m.1-1.1h0m.3-17h0m.1 17h0m.2-8.8h0m.2 99.5h0m.3-122.1h0m.3-.8h0m.1 32.7h0m0-5.6h0m.3 4.5h0" stroke="#7fae2e" stroke-width="2.4" stroke-linecap="round" fill="none"/>
<path d="M566.9 800.5h0m.6-15.9h0m1.6 68.4h0m0 0h0m0 2.1h0m0 8.6h0m0 4.4h0m0-101.1h0m.7 21.6h0m.2-14.3h0m.8 21.3h0m.2-33.9h0m.4 91.3h0m0 7.3h0m0 0h0m0 14h0m0 0h0m0 10.7h0m0 0h0m.2-67.5h0m.2-36.2h0m0 19.6h0m.6-36.8h0m0 27h0m.5-7.4h0m.2 14.7h0m.1-9.8h0m.3-1.2h0m.2 56h0m0 3.4h0m0 13.5h0m0 3.4h0m0 0h0m.3-86h0m.5 9.8h0m.4 4.3h0m1.2 61.2h0m0 2.1h0m0 8.6h0m0 0h0m0 4.4h0m0 16.9h0m.5-106.1h0m.4 17.3h0m.1 .3h0m.1 9.9h0m.2-1.8h0m.5-34.8h0m.2 .4h0m.3 21.8h0m0 51.4h0m0 11.7h0m0 0h0m0 5.2h0m0 3.4h0m0 10.6h0m0 10.7h0m.2-104.8h0m.7-23.5h0m.1 30.5h0m.2 3.9h0m.5-33.4h0m.6 106h0m0 0h0m.1-107.1h0m.6 20.7h0m.8-14.9h0m.4-1.8h0m.1 32.5h0m.1-15h0m.2 71.5h0m0 24.7h0m0 10.7h0m0 0h0m.8-92.5h0m.3 5.7h0m.3-12.9h0m.2-10.7h0m.7 68.8h0m0 0h0m0 3.4h0m0 0h0m0 2.8h0m0 14.1h0m0 4.4h0m0 16.9h0m0 0h0m.4-96.9h0m1.7 6.8h0m.3 48.5h0m0 20.3h0m0 0h0m0 10.6h0m0 0h0m0 0h0m0 10.7h0m0 0h0m0 0h0m.7-129.1h0m.4 19.8h0m.6-3.8h0m.6 71.5h0m0 3.4h0m0 8.3h0m0 0h0m0 29.9h0m0 0h0m0 0h0m1.2-70.6h0m.4-53.4h0m.5 29.9h0m.2 55.9h0m0 27.5h0m0 10.7h0m.2-126.5h0m.9 25h0m0-18h0m.4-7.9h0m.1 17.3h0m.1 10.5h0m.6 61.4h0m0 0h0m0 2.8h0m0 10.7h0m0 3.4h0m0 0h0m0 10.6h0m0 0h0m0 10.7h0m0 0h0m.1-107.9h0m.8 2.7h0m.1 .1h0m.2-18.1h0m1.1 101.9h0m0 21.3h0m0 0h0m0 0h0m0 0h0m0 0h0m0 0h0m2.1-81.3h0m0-22h0m0-3.6h0m0 6.6h0m0 20.5h0m.1-18.5h0m0 30h0m0-59h0m0-.3h0m0 22.7h0m0 15.8h0m0-34.5h0m0 31.2h0m0-1.1h0m.1-2.7h0m0 12.8h0m0-29.9h0m0 20.7h0m0 5h0m0-36.6h0m0-6.8h0m0 36.2h0m0 .8h0m0-2.1h0m0-19.2h0m0 79.9h0m0 0h0m0 5.5h0m0 5.2h0m0 0h0m0 14h0m0 10.7h0m0 0h0m.1-89.5h0m0 7.2h0m0-34.6h0m0 13.3h0m0-17.4h0m0 30.2h0m0-4.8h0m0-25.8h0m0 33.4h0m0-39.2h0m.1 32.6h0m0 5.1h0m0-35.3h0m0 6.7h0m.1 39h0m0-30.9h0m0 6.8h0m0 .8h0m0-5h0m.1 26.2h0m0-17.2h0m0 17.3h0m0-23.9h0m0-20.9h0m0 13.8h0m0 28.2h0m0-38.9h0m0 5.2h0m0 18.4h0m0 1.1h0m0 7.8h0m.1-2h0m0-28.6h0m0 14.5h0m0-9.2h0m.1-3.8h0m0 21h0m0-27.3h0m0 36.1h0m0 17.9h0m.1-47.1h0m0 30.5h0m0-16.2h0m0 3.9h0m.1-5.7h0m0-15.5h0m0 20.6h0m0-18.8h0m0 9.5h0m0 17.7h0m0-28.1h0m.1-9h0m0 4.7h0m0 23.8h0m0-2h0m0-7.3h0m0 22.3h0m0-40.8h0m0 19h0m.1-7.1h0m1.4 75.7h0" stroke="#2fb6c0" stroke-width="2.4" stroke-linecap="round" fill="none"/>
<path d="M544.4 783.6h0m0-.6h0m.1-17.1h0m0 1.2h0m0 11.1h0m0 15.7h0m0-7.7h0m.1-7.8h0m0 16.2h0m0-12.4h0m0 43.1h0m0-28.6h0m0-20.5h0m0-7.5h0m.1 20.4h0m0-24.7h0m0 24.5h0m.1-13.1h0m0 8.4h0m.1 9.7h0m.1-10.7h0m0-15.3h0m.1-.1h0m0 36.9h0m0-24.1h0m0-1.8h0m0-21.9h0m0 11.6h0m0-6.9h0m.1 6h0m0-12.6h0m0 51.2h0m0 0h0m0 7.8h0m0-20h0m.1-18.2h0m0-9.7h0m0 20.7h0m0-33.5h0m.1 48.9h0m0 6.4h0m0-46.8h0m0 26.1h0m.1-5h0m0-7.6h0m0 1.9h0m0-19.3h0m.1 20.3h0m24.3 35.8h0m.1-31.6h0m.1 26h0m0-14.3h0m.1 1.5h0m.2 15.7h0m.1-17h0m.2-2.4h0m.1-15.7h0m.2 38.1h0m0 8.2h0m0-48.3h0m.1 33.5h0m0-21.4h0" stroke="#b07fd0" stroke-width="2.4" stroke-linecap="round" fill="none"/>
<path d="M478.7 772.4C479.1 772.5 480.4 772.7 481.2 772.9C482.1 773 483 773.2 483.8 773.4C484.6 773.5 485.5 773.7 486.3 773.8C487.2 774 488 774.1 488.9 774.3C489.8 774.5 490.6 774.6 491.4 774.8C492.3 774.9 493.1 775.1 494 775.3C494.9 775.4 495.7 775.6 496.6 775.7C497.4 775.9 498.2 776 499.1 776.2C499.9 776.4 500.8 776.5 501.6 776.7C502.5 776.8 503.3 777 504.2 777.2C505.1 777.3 505.9 777.5 506.8 777.6C507.6 777.8 508.5 778 509.3 778.1C510.1 778.3 511 778.4 511.8 778.6C512.7 778.7 513.5 778.9 514.4 779.1C515.2 779.2 516.1 779.4 517 779.6C517.8 779.7 518.6 779.9 519.5 780C520.4 780.2 521.2 780.4 522 780.5C522.9 780.7 523.8 780.9 524.6 781C525.5 781.2 526.3 781.4 527.1 781.5C528 781.7 528.9 781.9 529.7 782C530.6 782.2 531.4 782.4 532.2 782.6C533.1 782.7 533.9 782.9 534.8 783.1C535.6 783.3 536.5 783.5 537.4 783.7C538.2 783.9 539 784.1 539.9 784.3C540.8 784.5 541.6 784.7 542.4 784.9C543.3 785.2 544.1 785.4 545 785.7C545.9 785.9 546.7 786.2 547.5 786.4C548.4 786.7 549.2 787 550.1 787.3C551 787.6 551.8 787.9 552.6 788.3C553.5 788.6 554.4 789 555.2 789.4C556.1 789.7 556.9 790.1 557.8 790.5C558.6 790.9 559.4 791.4 560.3 791.8C561.1 792.3 562 792.7 562.9 793.2C563.7 793.7 564.5 794.2 565.4 794.7C566.2 795.2 567.1 795.7 568 796.2C568.8 796.7 569.6 797.3 570.5 797.8C571.4 798.3 572.2 798.9 573 799.4C573.9 800 574.8 800.5 575.6 801.1C576.5 801.7 577.3 802.2 578.1 802.8C579 803.4 579.9 804 580.7 804.5C581.6 805.1 582.4 805.7 583.2 806.3C584.1 806.9 584.9 807.4 585.8 808C586.6 808.6 587.5 809.2 588.4 809.8C589.2 810.4 590 810.9 590.9 811.5C591.8 812.1 592.6 812.7 593.4 813.3C594.3 813.9 595.1 814.5 596 815.1C596.9 815.7 598.1 816.5 598.5 816.8" stroke="#000" stroke-width="1.6" fill="none"/>
<path d="M473.5 733.7V891.3H604" stroke="#444" stroke-width="1" fill="none"/>
<text x="472.3" y="746.8" font-size="9" text-anchor="end" fill="#333">10000</text>
<text x="472.3" y="782.2" font-size="9" text-anchor="end" fill="#333">1000</text>
<text x="472.3" y="817.6" font-size="9" text-anchor="end" fill="#333">100</text>
<text x="472.3" y="853" font-size="9" text-anchor="end" fill="#333">10</text>
<text x="472.3" y="888.4" font-size="9" text-anchor="end" fill="#333">1</text>
<text x="478.7" y="899.8" font-size="9" text-anchor="middle" fill="#333">0</text>
<text x="504.2" y="899.8" font-size="9" text-anchor="middle" fill="#333">5</text>
<text x="529.7" y="899.8" font-size="9" text-anchor="middle" fill="#333">10</text>
<text x="555.2" y="899.8" font-size="9" text-anchor="middle" fill="#333">15</text>
<text x="580.7" y="899.8" font-size="9" text-anchor="middle" fill="#333">20</text>
<text x="452.3" y="803" font-size="9.5" text-anchor="middle" textLength="64.5" lengthAdjust="spacingAndGlyphs" transform="rotate(-90 452.3 803)">IL7R Expression</text>
<text x="527.5" y="909.9" font-size="8.8" text-anchor="middle">Pseudotime</text>
<text x="534" y="923.6" font-size="14.5" text-anchor="middle">GSE99254</text>
<text x="608.3" y="797" font-size="8.8">Assigned_cell_type</text>
<circle cx="611" cy="804.7" r="1.4" fill="#ee736b"/>
<text x="614" y="807.8" font-size="8.7">CD8_B2M</text>
<circle cx="611" cy="813.2" r="1.4" fill="#7fae2e"/>
<text x="614" y="816.4" font-size="8.7">CD8+TEM/TRM</text>
<circle cx="611" cy="821.8" r="1.4" fill="#2fb6c0"/>
<text x="614" y="824.9" font-size="8.7">CD8+TEx</text>
<circle cx="611" cy="830.4" r="1.4" fill="#b07fd0"/>
<text x="614" y="833.5" font-size="8.7">CD8+TN</text>
<text x="399.5" y="738.8" font-size="5.5" textLength="41.3" lengthAdjust="spacingAndGlyphs">IL7R Expression</text>
<defs><linearGradient id="mg" x1="0" y1="0" x2="0" y2="1"><stop offset="0" stop-color="#e8332a"/><stop offset="0.5" stop-color="#e58d7c"/><stop offset="1" stop-color="#cfcfcf"/></linearGradient></defs>
<rect x="424.4" y="742.3" width="4" height="21" rx="1.5" fill="url(#mg)"/>
<text x="429.3" y="746.5" font-size="6" textLength="8.6" lengthAdjust="spacingAndGlyphs">100</text>
<text x="429.3" y="751.4" font-size="6">75</text>
<text x="429.3" y="756.3" font-size="6">50</text>
<text x="429.3" y="761.2" font-size="6">25</text>
<text x="429.3" y="766.1" font-size="6">0</text>
</g>
</svg></body></html>
